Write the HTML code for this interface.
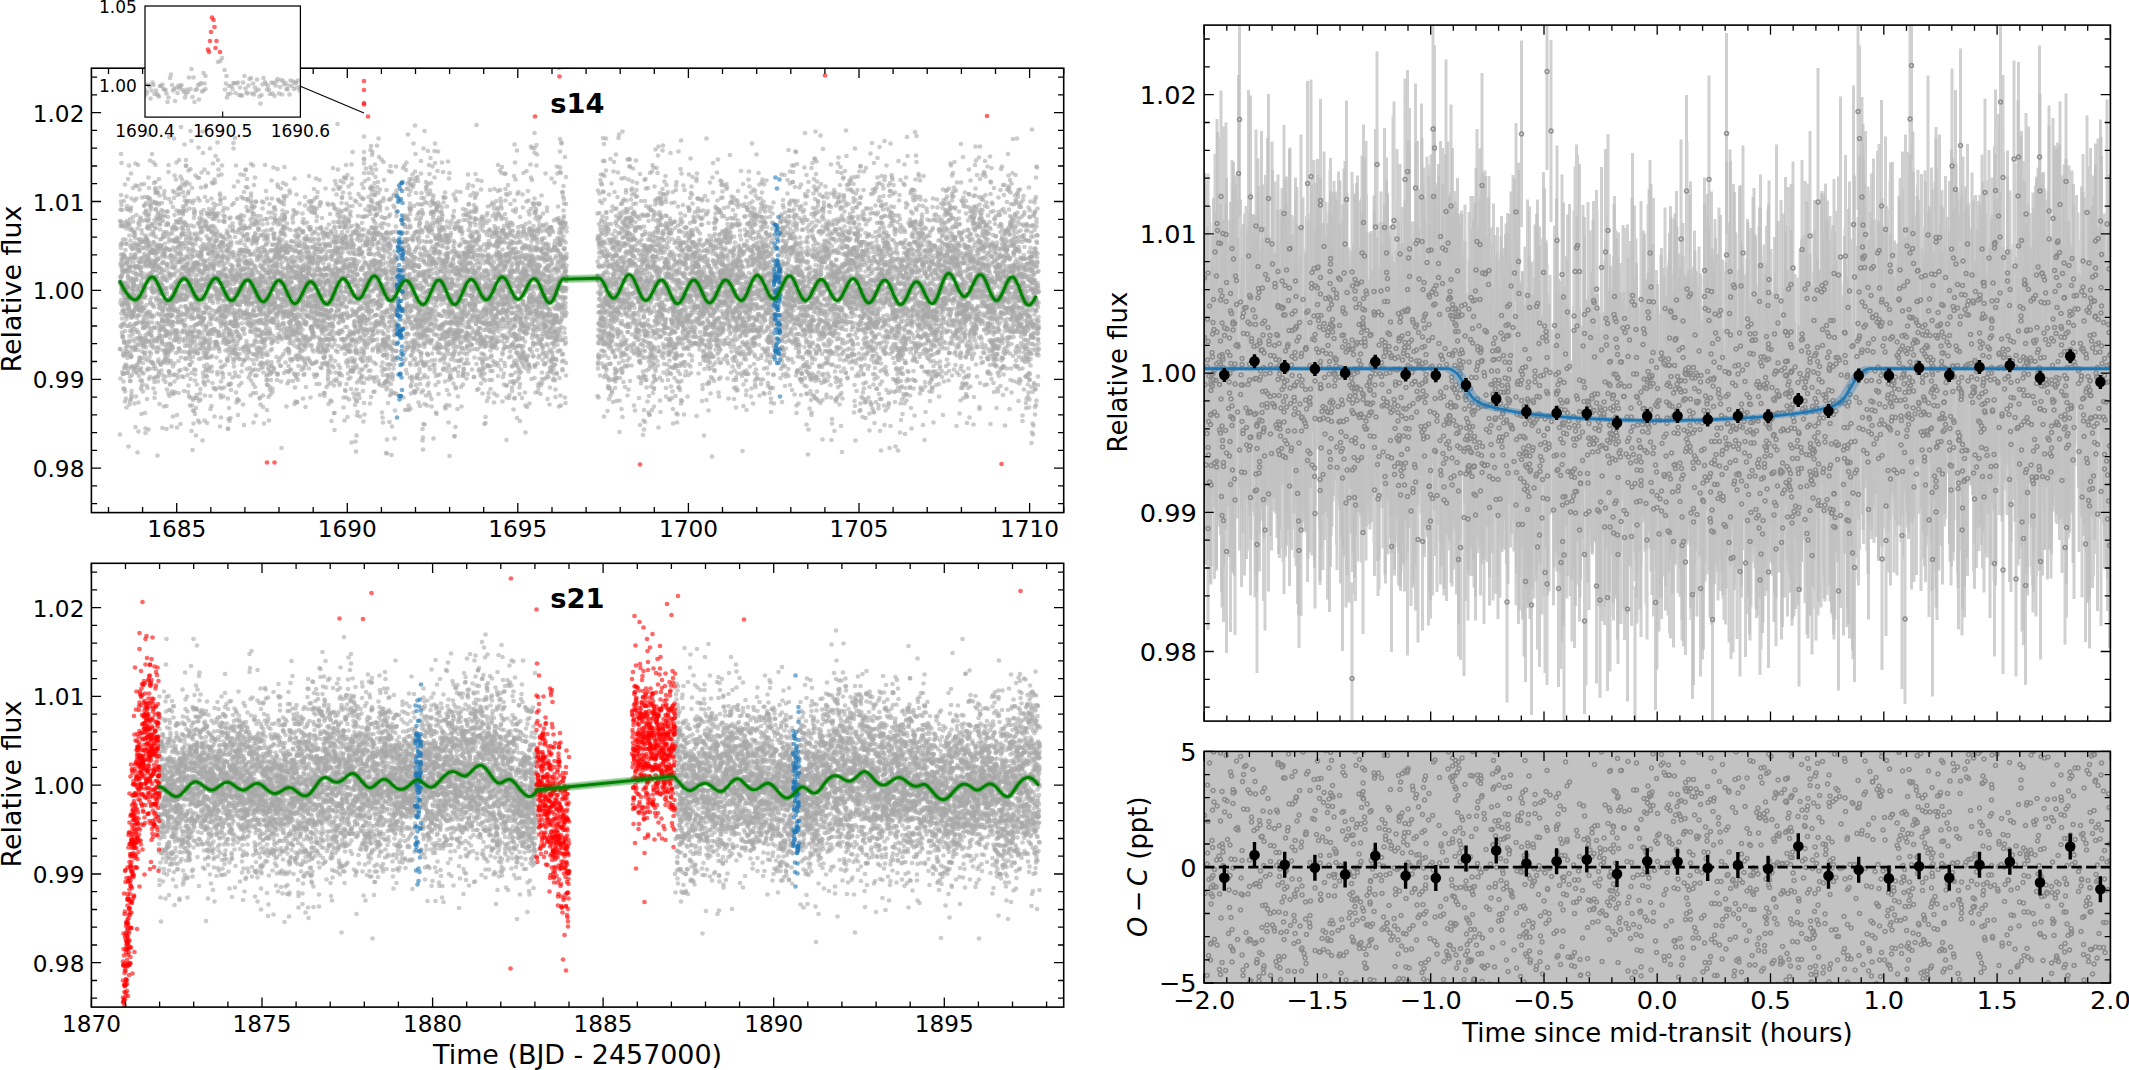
<!DOCTYPE html><html><head><meta charset="utf-8"><title>Light curves</title>
<style>html,body{margin:0;padding:0;background:#fff}svg{display:block}text{font-family:'DejaVu Sans','Liberation Sans',sans-serif;fill:#000}</style></head><body>
<svg width="2129" height="1070" viewBox="0 0 2129 1070">
<rect width="2129" height="1070" fill="#fff"/>
<defs>
<marker id="mg" markerWidth="12" markerHeight="12" refX="6" refY="6" markerUnits="userSpaceOnUse"><circle cx="6" cy="6" r="4.7" fill="#a9a9a9" fill-opacity=".6"/></marker>
<marker id="mr" markerWidth="12" markerHeight="12" refX="6" refY="6" markerUnits="userSpaceOnUse"><circle cx="6" cy="6" r="4.7" fill="#ff0000" fill-opacity=".6"/></marker>
<marker id="mb" markerWidth="12" markerHeight="12" refX="6" refY="6" markerUnits="userSpaceOnUse"><circle cx="6" cy="6" r="4.7" fill="#1f77b4" fill-opacity=".6"/></marker>
<marker id="mo" markerWidth="14" markerHeight="14" refX="7" refY="7" markerUnits="userSpaceOnUse"><circle cx="7" cy="7" r="3.7" fill="#fff" fill-opacity=".3" stroke="#858585" stroke-opacity=".85" stroke-width="3.6"/></marker>
</defs>
<clipPath id="c1"><rect x="91.4" y="68.2" width="972.3" height="444.4"/></clipPath>
<g clip-path="url(#c1)">
<path transform="scale(.5)" fill="none" stroke="none" marker-start="url(#mg)" marker-mid="url(#mg)" marker-end="url(#mg)" d="M240 565l0-123 0 256 0 0 0 171 1-340 0 123 0-46 0-52 0 9 0-73 0 72 0-143 0 338 0-305 1-9 0 157 0-210 0 195 0-277 0 95 0 106 0 43 0-56 0 30 0 29 1-37 0-108 0 169 0 75 0-328 0 209 0-49 0 85 0 56 0-179 1-28 0 190 0 27 0-96 0-21 0 91 0-159 0 81 0 132 0-87 0-27 1-4 0 74 0-133 0 183 0-160 0 64 0 99 0-26 0 96 1 4 0 0 0-204 0 43 0 123 0-60 0 53 0-224 0 195 0-106 0-37 1-22 0-56 0 153 0 157 0-247 0-7 0 268 0-186 0-49 0 80 1-39 0 153 0-51 0 27 0-310 0 176 0 44 0 59 0-112 0-4 0 41 1 102 0-23 0 62 0 31 0-237 0 105 0-120 0 70 0 13 0 9 1-37 0-212 0 144 0 149 0-217 0 183 0 103 0 72 0-20 0-269 1-14 0 196 0-91 0 131 0-137 0-120 0 63 0 86 0 57 0-118 1-27 0 93 0-31 0-115 0 85 0 157 0-278 0 147 0 199 1-340 0-39 0 124 0 110 0 57 0-71 0 177 0-288 0-1 0 178 0-311 1 95 0-76 0 110 0-80 0 99 0 161 0-128 0 159 0-40 1-95 0 118 0 29 0-227 0 92 0-3 0-39 0 178 0-171 0 115 0-144 1 9 0 30 0-166 0 155 0-41 0 39 0-20 0-102 0-92 0 203 1 54 0 3 0-15 0-157 0 206 0 86 0 155 0-272 0-27 0 37 1-16 0-20 0 87 0-85 0 112 0-80 0-298 0 210 0 36 0 32 0-18 1-143 0 236 0-90 0 31 0-154 0 63 0 138 0 137 0-292 0-62 1 207 0-224 0 324 0-9 0 49 0-267 0 113 0-124 0 9 0 60 1-171 0 120 0 220 0-344 0 171 0-129 0 244 0-147 0-64 0-12 1 28 0 225 0-99 0 79 0-150 0 234 0-383 0 279 0-178 0 198 0-367 1 50 0 397 0-5 0-230 0 223 0-160 0-132 0 221 0-51 0-7 1-62 0-93 0 34 0 218 0-16 0-158 0-118 0 205 0 33 0-61 1-5 0-48 0 43 0-48 0 102 0-182 0 18 0 42 0 35 0 77 1 63 0-163 0 55 0 9 0-199 0 197 0-188 0-67 0 86 0 165 0-82 1 79 0-53 0-10 0 181 0-137 0-40 0-41 0 35 0 23 0 43 1-160 0 186 0 7 0-68 0 30 0 117 0-221 0-44 0 100 0 18 0-22 1-78 0 209 0-119 0-116 0 219 0-169 0 293 0-321 0-85 0 96 0 37 1 162 0-3 0 7 0-168 0 79 0-142 0 150 0-109 0 35 0 52 1 50 0-139 0 346 0-527 0 321 0-112 0-165 0 365 0-41 0-219 0 260 1-131 0 11 0-56 0 55 0-99 0 161 0-77 0 144 0-210 0 259 1-245 0 116 0-234 0 129 0-10 0 111 0-106 0-60 0 39 0-136 0 193 1-218 0 374 0-100 0-41 0 9 0-81 0 98 0 98 0-93 0 95 1-131 0-28 0-72 0 189 0-77 0-38 0 33 0-118 0-32 0 448 1-575 0 301 0-52 0 40 0 81 0-81 0-24 0-12 0-94 1 44 0 143 0-229 0 76 0 141 0-131 0-38 0 114 0-11 0 265 0-58 1-161 0-23 0-119 0 250 0-62 0-78 0 110 0 3 0-245 0 115 0-152 1 272 0-212 0-3 0-121 0 199 0-128 0 28 0 115 0 146 0-58 1-10 0-41 0-105 0-36 0 227 0-167 0-10 0-22 0 204 0 19 0-216 1 95 0-3 0-181 0 243 0 83 0-84 0-239 0 184 0-88 0 5 1-170 0 307 0-125 0 11 0 57 0-51 0 210 0-233 0 191 0-252 0 120 1 169 0-127 0-129 0 169 0 142 0-207 0-24 0 9 0-35 0-111 1 23 0-16 0 147 0-219 0 366 0-16 0-29 0-98 0-46 0 131 1-109 0-98 0 50 0 8 0-75 0-37 0 239 0-67 0 154 1-82 0 4 0-46 0 139 0-161 0-28 0 132 0-70 0-141 0 8 0 171 1-43 0-34 0-84 0-37 0 149 0-5 0-71 0 87 0-99 0 190 0-70 1-265 0 171 0 123 0-222 0 99 0 10 0-17 0-208 0 268 1 56 0-168 0-12 0 176 0-58 0-220 0 97 0-81 0 190 0-38 1 127 0 121 0-343 0 227 0-117 0 88 0-85 0 59 0-261 0 190 1 70 0-63 0 275 0-337 0 146 0-204 0 247 0-278 0 417 0-187 1-196 0 49 0 122 0-154 0 193 0-204 0-59 0-15 0 289 0-271 1 7 0 122 0-4 0-18 0 98 0-19 0-91 0-40 0 97 0 195 1-256 0 283 0-357 0 57 0 183 0-203 0 5 0 143 0 114 0-284 1 99 0 72 0-146 0 170 0-196 0-61 0 253 0-11 0-146 0 75 0 211 1-325 0 172 0-181 0 279 0-188 0-13 0-9 0 157 0 69 0-243 1-40 0 98 0-40 0 132 0 38 0-251 0-35 0-41 0 165 0 144 0 195 1-332 0-89 0 50 0-3 0 198 0-255 0-28 0-130 0 139 0-33 0 382 1-44 0-10 0-246 0 94 0 115 0-12 0-164 0 247 0-232 1-2 0-183 0 225 0 208 0-357 0 132 0 31 0 64 0-101 0 106 0-29 1 6 0-186 0 49 0 221 0-143 0 60 0-81 0-34 0 85 0-165 1 3 0 243 0-108 0 119 0 54 0-16 0-25 0-11 0-168 0 16 0 114 1 30 0-131 0-32 0-93 0 125 0-27 0 220 0-130 0-91 1 131 0 10 0-337 0 140 0 110 0-109 0 76 0 105 0-57 0 9 0-130 1 131 0-16 0 126 0-5 0-104 0-8 0-77 0 3 0 35 0 138 1-169 0 219 0-185 0-40 0-97 0 206 0-65 0 17 0 167 0-265 0 149 1-127 0 211 0-190 0-22 0 73 0-232 0 205 0-63 0 310 0-306 0 266 1-55 0-26 0-42 0-248 0 220 0-32 0 78 0-55 0 180 0-225 1 1 0 199 0 64 0-142 0-97 0 123 0 84 0-237 0 228 0-264 0-51 1 346 0-281 0-3 0 0 0-96 0-27 0 143 0 0 0 37 0 23 1-163 0 36 0 75 0-166 0 12 0 28 0 117 0-16 0-175 0 56 0 71 1 139 0-29 0-44 0 18 0-123 0 28 0 292 0-225 0-39 1 182 0 47 0-151 0 9 0-178 0 156 0-106 0-48 0 23 0 193 0-69 1 66 0 48 0-209 0 258 0-12 0-6 0-123 0 16 0-64 0-10 1 415 0-230 0-103 0-82 0-7 0 215 0-77 0 125 0-260 0 90 1-63 0 63 0 94 0 78 0-369 0 378 0-39 0-285 0 256 0-177 0-93 1 3 0 64 0 42 0-97 0 93 0-31 0 91 0 18 0 111 0-313 1 140 0-188 0 389 0-4 0-128 0 61 0-77 0 48 0-18 0-58 0-162 1 94 0 167 0-84 0 14 0-209 0 417 0-145 0-127 0 115 1-192 0 201 0-81 0-100 0-104 0 58 0 184 0-168 0 223 0-63 0-161 1 277 0-289 0 263 0-206 0 70 0-48 0 21 0 193 0-152 0-80 1 105 0-110 0 237 0-73 0-226 0 127 0 10 0-21 0-105 0 214 0-165 1 89 0 8 0 101 0-268 0 119 0 94 0-28 0 53 0-180 0 263 1-98 0-39 0-34 0 109 0 4 0-189 0-88 0 278 0-56 0 11 0 34 1-165 0 348 0-106 0-110 0-70 0-16 0-28 0 0 0 96 0-8 0-71 1-74 0 5 0 148 0 20 0-200 0 69 0-88 0 161 0 35 1-96 0 236 0-259 0 142 0 9 0-62 0 134 0-69 0-221 0 292 1-148 0 125 0-238 0-75 0 424 0-262 0 9 0-59 0-27 0 66 1-32 0 151 0-277 0 130 0 189 0-88 0-14 0 122 0-60 0 28 1-202 0-91 0 161 0-126 0 278 0-130 0 52 0-126 0 166 0-65 1 1 0 36 0 72 0-201 0 192 0-130 0 177 0 11 0-46 0-16 1-206 0 198 0-32 0 10 0-112 0-63 0 173 0-37 0-165 0-18 1 134 0 23 0 251 0-190 0-204 0 184 0 164 0-182 0 34 0-136 0 79 1-31 0-153 0 216 0 49 0-100 0-26 0 164 0-195 0 248 0-73 1-163 0-97 0 183 0-131 0 120 0 84 0-61 0-113 0 7 0-112 1 130 0-105 0-14 0 277 0 8 0-99 0-147 0-23 0 218 0-28 1 65 0-42 0-333 0 269 0 123 0-26 0 91 0-288 0 101 0-256 1 54 0 304 0 41 0-1 0-259 0-209 0 356 0 19 0-30 0 68 1 105 0-125 0 79 0-138 0 27 0 11 0-99 0 204 0-272 0 36 1-15 0 176 0-80 0-129 0 89 0 213 0-220 0 95 0-17 0-15 1 156 0-81 0 39 0-29 0-146 0-51 0 49 0-37 0 99 1 21 0 60 0-182 0 91 0-50 0 20 0-166 0 285 0-59 0 91 0-54 1-145 0 97 0 233 0-152 0-125 0 18 0 58 0-117 0 81 0-20 1-77 0 9 0 255 0-152 0-175 0 119 0-108 0 176 0-131 0 88 0 16 1-41 0-95 0 185 0-59 0 53 0-30 0-27 0 16 0-28 0-130 0 233 1 140 0-419 0-32 0 351 0-89 0-149 0 113 0 43 0 45 0 91 1-333 0 151 0 183 0-252 0-53 0 92 0-27 0 202 0-217 0 87 0 25 1 36 0-113 0-291 0 337 0-31 0 16 0-5 0-198 0 86 1-131 0 34 0 378 0-313 0 132 0 167 0-22 0-128 0-169 0 50 0 71 1 114 0-77 0-52 0-23 0 107 0 164 0-105 0-162 0 66 0-85 1 5 0 159 0-132 0-74 0 217 0-13 0-201 0 163 0-58 0 30 0-14 1 11 0-149 0 102 0 22 0-43 0 80 0 66 0 37 0-347 1 276 0 40 0-193 0-7 0 9 0-3 0 200 0-356 0 96 0 163 0 10 1 236 0-166 0-207 0-13 0 159 0 58 0-99 0 32 0-22 0-94 0 377 1-292 0 187 0-256 0 173 0 89 0-248 0-27 0 164 0-255 1 228 0 4 0-64 0 27 0 55 0-261 0 218 0-102 0 129 0 20 1-10 0 69 0-259 0 278 0-159 0-39 0 262 0-280 0 172 0-48 1 67 0-211 0 256 0-45 0-156 0-221 0 126 0-19 0 257 0-262 0 169 1 4 0-218 0 145 0 152 0-150 0-85 0 78 0-129 0 211 1-124 0-52 0 130 0 48 0-227 0 147 0-35 0 145 0-131 0-8 1-2 0 35 0-19 0 55 0-53 0 71 0 12 0-238 0 495 0-108 1-193 0 52 0-345 0 184 0-62 0 249 0-33 0 123 0-102 1-157 0 183 0-195 0 68 0 191 0-38 0-75 0-121 0 173 0 4 1-72 0-26 0-13 0-69 0 287 0-167 0-99 0-128 0 110 0 88 1-37 0 124 0-175 0 210 0-17 0-33 0-95 0-108 0 131 0-189 1 45 0-29 0 73 0 40 0 41 0-109 0 90 0 80 0-148 1-29 0 138 0 69 0-77 0 202 0-336 0 158 0-153 0 39 0 109 1-37 0 248 0-227 0 128 0-238 0 127 0-86 0 113 0 60 0-8 1-258 0 98 0 63 0-35 0 121 0-111 0 70 0-310 0 375 0-129 1 157 0 12 0 33 0-366 0 97 0-67 0 44 0 133 0 99 0-28 1 69 0-130 0 24 0 1 0-246 0 349 0-174 0 110 0-55 0-6 0-180 1 218 0-92 0-205 0-1 0 149 0-6 0-154 0 130 0 121 0 45 1 9 0-113 0 41 0-189 0 235 0-193 0 89 0 20 0-94 0 109 0 15 1 194 0-166 0 118 0-156 0 23 0 17 0 94 0-48 0-218 0 47 1 142 0-190 0 180 0 168 0-157 0-13 0 86 0-32 0-109 0 136 1-88 0-58 0 164 0-60 0 67 0-184 0-115 0 99 0 298 0-328 0 217 1-124 0 156 0-364 0 187 0 98 0-85 0-158 0 388 0-309 1 103 0 227 0-249 0-45 0 119 0 95 0-43 0-101 0-97 0 79 0-73 1 227 0 25 0-312 0-49 0 251 0-57 0 10 0-86 0 23 0 31 1 45 0 226 0-409 0 328 0-38 0 103 0-132 0 55 0-64 0 54 0-171 1 22 0 199 0-291 0 230 0-359 0 245 0-24 0 48 0-88 0-257 1 289 0 10 0 71 0 31 0-184 0-28 0 229 0-68 0 22 0 33 0-78 1 94 0 20 0-421 0 580 0-224 0-99 0 149 0 58 0-180 0-27 0-63 1 335 0-198 0-105 0-132 0 111 0 237 0-148 0 33 0-66 0-42 1-95 0 266 0-183 0 139 0 46 0 0 0-10 0-150 0 21 0 365 0-307 1-81 0 14 0-30 0 125 0-89 0 289 0-204 0 97 0 86 0-4 1-143 0-93 0 287 0-210 0-93 0 140 0-183 0 163 0-131 0 34 1-131 0-11 0 314 0-286 0-52 0 421 0-404 0 111 0 174 1-274 0 107 0 123 0-23 0-18 0-28 0 6 0 24 0 77 0-108 0-63 1-56 0 180 0 31 0 80 0-338 0 44 0 282 0 79 0-224 0 102 1-172 0-183 0 259 0 130 0-252 0-8 0 46 0 50 0 42 0-67 0 245 1-224 0 26 0-59 0 332 0-301 0-12 0 132 0-122 0 134 0-121 0 235 1-143 0-79 0 56 0-126 0 38 0 228 0-116 0-170 0 60 0-85 1 169 0-66 0-53 0 240 0-172 0 199 0-192 0-127 0 85 0 29 0 27 1-106 0 194 0-351 0 173 0-1 0-17 0 153 0-188 0 51 1 122 0-27 0 11 0 75 0 134 0-215 0-64 0-115 0 102 0-153 0 211 1-11 0-13 0 51 0-167 0 231 0-121 0-7 0 44 0-319 0 238 1 99 0-186 0 136 0-53 0 136 0 137 0-446 0 184 0 95 0 83 0-52 1-21 0-26 0 226 0-173 0-236 0 77 0-112 0 140 0 122 1-222 0 206 0-77 0-9 0 13 0 213 0-334 0 233 0-142 0 133 0-86 1-86 0 294 0-21 0-284 0 204 0-8 0-235 0 64 0 61 0-101 1 163 0-140 0 3 0 5 0 98 0-147 0-37 0-49 0 258 0 1 0-169 1 117 0-237 0 198 0 34 0 140 0-203 0 121 0-206 0 81 0-6 0 52 1 139 0-125 0 76 0-87 0 66 0-187 0 7 0 146 0-43 0 50 1-70 0-265 0 317 0 301 0-418 0 113 0 75 0 34 0-187 0 169 0-211 1 91 0 143 0-118 0-84 0 155 0 103 0-176 0-264 0 333 0 1 1 47 0-267 0 175 0-25 0-50 0 10 0 233 0-271 0 213 0 49 0-129 1-80 0 59 0 71 0 3 0-121 0 69 0 106 0 34 0-130 0 0 1 205 0-227 0-91 0-71 0 45 0 163 0 23 0-143 0 171 0-12 0-360 1 452 0-194 0 173 0-231 0 176 0-154 0-38 0 14 0-96 0-47 1 347 0-56 0-234 0 117 0-34 0 38 0-74 0 127 0-181 0 87 0-157 1 335 0-3 0-96 0 141 0-13 0-84 0 25 0-308 0 325 0-128 0 83 1 64 0-154 0-89 0-27 0 174 0-167 0 81 0 83 0-126 0 163 1-225 0 301 0-14 0 131 0-292 0 128 0-21 0-124 0-111 0 167 0 160 1-351 0 303 0-147 0-37 0-62 0 110 0-114 0 43 0 40 0 48 1-38 0 121 0-1 0-134 0-188 0 416 0-194 0-73 0 171 0-51 0-138 1 265 0-235 0-1 0 53 0-100 0 48 0 71 0-25 0 184 0-38 1-241 0 82 0-61 0-46 0 212 0 45 0-272 0 297 0-228 0 86 1 120 0-91 0-7 0 31 0-58 0 48 0-87 0-101 0 202 0 57 1-390 0 386 0 52 0-310 0 252 0-160 0 80 0 69 0-165 0 197 0-217 1 311 0-265 0 41 0 94 0 156 0-181 0-70 0-6 0-133 0 25 1 215 0-19 0 65 0-121 0-33 0-27 0 103 0-146 0 170 1-105 0-158 0 242 0-49 0 222 0-349 0-10 0 76 0-33 0 237 0-268 1 11 0-111 0 255 0-46 0 138 0 31 0-233 0 51 0 99 1-157 0-82 0 212 0-131 0 46 0-14 0-96 0 164 0-98 0 262 1-244 0-195 0 40 0 95 0 206 0-175 0 70 0 43 0-68 0-6 1-96 0 132 0 208 0-183 0-186 0 152 0-91 0 25 0 72 0-113 0-26 1-10 0 242 0-118 0-6 0-22 0 185 0-68 0-140 0-61 0 123 1 107 0-299 0 124 0-51 0 143 0-23 0-22 0-25 0 179 0-108 0 257 1-316 0 174 0-326 0 91 0-18 0-8 0 38 0 112 0-18 0-34 1 94 0 16 0-166 0-160 0 210 0 140 0 115 0 2 0-116 0-169 1 94 0 97 0-122 0 13 0-95 0 19 0 56 0 129 0 5 0-110 1 45 0-198 0 5 0 283 0-305 0 273 0-127 0-74 0 203 0-131 1 36 0-128 0 136 0 42 0-163 0 37 0-47 0 115 0 108 0-257 1 80 0-228 0 268 0 196 0-152 0-87 0 234 0-72 0-115 1 48 0-98 0 114 0-301 0 301 0-76 0 117 0-105 0-12 0 91 0 54 1-351 0 254 0-11 0 115 0-346 0 315 0-110 0-4 0-125 1 238 0-151 0 9 0 75 0 72 0 27 0-112 0 39 0-93 0-89 0 84 1-34 0 180 0 103 0-209 0-76 0 131 0 82 0-87 0-38 0-83 1 124 0-69 0 65 0 238 0-381 0 173 0-258 0 4 0 226 0-20 1-97 0 55 0-147 0-8 0 323 0 67 0-321 0-70 0 189 0 43 0-86 1 87 0 203 0-72 0-110 0-169 0 157 0-51 0 145 0-249 0 309 1-273 0 45 0 11 0 9 0-1 0 45 0-84 0-198 0 200 0 228 0-129 1-133 0 26 0 8 0 62 0 21 0 38 0 75 0-222 0-8 0-184 1 172 0 98 0-128 0 13 0 247 0-178 0-43 0 173 0-46 0-12 0-142 1 162 0-115 0 216 0-274 0 11 0-63 0 157 0 45 0 131 0-261 1-51 0 134 0 13 0 85 0-244 0 201 0-122 0 283 0-227 0-1 1-74 0-51 0 222 0 6 0-140 0-51 0 298 0-94 0-265 0 232 1-30 0 2 0-82 0 9 0 85 0-236 0 48 0 119 0 39 0 78 0-141 1 191 0-87 0-32 0-20 0 44 0-202 0 180 0-97 1 35 0 74 0-75 0 69 0 68 0 14 0-139 0 114 0-103 1 19 0-39 0 14 0 67 0-97 0 56 0-40 0 44 0 50 0 4 0 4 1-41 0 74 0-117 0 27 0 15 0 45 0-179 0-12 0 34 0 121 1-37 0-85 0 2 0 23 0-12 0-52 0 124 0 132 0-163 0 18 1-155 0 182 0-11 0-34 0 129 0-3 0 42 0-2 0-203 0-27 1 307 0-215 0-18 0-5 0-66 0 364 0-391 0 233 0 159 0-357 0 65 1 204 0 68 0-217 0-149 0 26 0 174 0-14 0-139 0 110 0 36 1-56 0 76 0 131 0-199 0 88 0-198 0 83 0 93 0 85 0-100 0-51 1 67 0-197 0-50 0 106 0 205 0-36 0 130 0-197 0 21 0-66 0 94 1 75 0-203 0 95 0-91 0-117 0 214 0-193 0 174 0-23 1-85 0 296 0-257 0 1 0-32 0-54 0 84 0 26 0-75 0 24 0-118 1 209 0-131 0-9 0-21 0 121 0 6 0 157 0-157 0 170 0-137 1 20 0-15 0-1 0-63 0-96 0 59 0 122 0 5 0-64 0-69 0 158 1-148 0-141 0 187 0 107 0-243 0 70 0 78 0 7 0-58 1-21 0 133 0-112 0 197 0-130 0 56 0-100 0-48 0-86 0 61 1 210 0-133 0-124 0 246 0-100 0-153 0 142 0 103 0-138 1 91 0-98 0 124 0-78 0 52 0 73 0-94 0-345 0 218 0-207 0 394 1-123 0-15 0 130 0-57 0-68 0-152 0 195 0 132 0-218 0-142 1 247 0-18 0-13 0 130 0-12 0-111 0-86 0 31 0 111 0-46 1-142 0 96 0 70 0-156 0-198 0 367 0 57 0-65 0 110 0-46 0-60 1 3 0 9 0-4 0 105 0-203 0 78 0 11 0-84 0 88 0-78 1-233 0 362 0 14 0-54 0-93 0 225 0-206 0-1 0 1 0 85 1-61 0-16 0-1 0 129 0-159 0 151 0-186 0 284 0-197 0 54 1-102 0 113 0-275 0 248 0-161 0 98 0 6 0-153 0 111 0 141 0-97 1 74 0-118 0 63 0 191 0-90 0-88 0-84 0-8 0 267 0-212 1 63 0-12 0-28 0 44 0 29 0 148 0-396 0 196 0-47 0-220 1 97 0 46 0 44 0 121 0-45 0-44 0-117 0 56 0-8 0 13 1 29 0-24 0 270 0-30 0-18 0-153 0-81 0 33 0-43 0 70 0-49 1 188 0-218 0 170 0-59 0 9 0-55 0 133 0 10 0-272 0 282 0-260 1 117 0 35 0-28 0-136 0 144 0-15 0-89 0 191 0-122 0-10 1 89 0-200 0 187 0-41 0-77 0 73 0-26 0 125 0-235 0-91 1 101 0 89 0-109 0 51 0 123 0-25 0-80 0 50 0 83 0-67 1-109 0 116 0 23 0-59 0 230 0-245 0-127 0 181 0 168 0-203 0 38 1 152 0-72 0-151 0-40 0 92 0 13 0-70 0 145 0-44 1-26 0 0 0 10 0-30 0-57 0 126 0-58 0 13 0-10 0-130 1 130 0-174 0 154 0 144 0-128 0 57 0-165 0 240 0-116 0 226 1-232 0 146 0-251 0 42 0 56 0-68 0 160 0-71 0 46 0-98 1 181 0-288 0 172 0 53 0-273 0-34 0 123 0 377 0-311 0 88 0 1 1 66 0-123 0 56 0-138 0 179 0-168 0 27 0-76 0 253 0-104 1-8 0-57 0 32 0 61 0-35 0-69 0 76 0-40 0 159 0-144 0-119 1 0 0 138 0 30 0-76 0 49 0 95 0-187 0 44 0-36 0-173 1 267 0-151 0 24 0-82 0-24 0 148 0 115 0-35 0-8 0-255 1 343 0-186 0 150 0 42 0-161 0 82 0-87 0 106 0-159 0-55 1 211 0-101 0 95 0 92 0 27 0-380 0 225 0 116 0-160 0 17 0 49 1-48 0 48 0 27 0-108 0-149 0 93 0 35 0-1 0 1 0-82 1-23 0 251 0 45 0-96 0-176 0-21 0 134 0-59 0 128 0-76 0 110 1-135 0 214 0 38 0-56 0-115 0-38 0-67 0 100 0-98 0 117 0-10 1-86 0 203 0-76 0-34 0 50 0-16 0-18 0-50 0 142 0-175 1 62 0-64 0 54 0-29 0 95 0-67 0 112 0-140 0-95 0 179 0-77 1 191 0-86 0-125 0 114 0-78 0-64 0 119 0-176 0 283 1-103 0-27 0-44 0 229 0-352 0 130 0 12 0-61 0 76 0-88 1 64 0 36 0 51 0-266 0 351 0 17 0-173 0 60 0-320 0 59 1 158 0 107 0-144 0 132 0-234 0 143 0-103 0-44 0 169 0-155 0 248 1-136 0 23 0-10 0 43 0-161 0 183 0-81 0 104 0-217 0 76 1 52 0 38 0-21 0 50 0 101 0 12 0-285 0 256 0-263 0 218 0-99 1-63 0 302 0-46 0-178 0-231 0 437 0-206 0 59 0-45 0 8 1 46 0-121 0-60 0 25 0 371 0-366 0 144 0 27 0-170 0 69 0-134 1 313 0-254 0 140 0-83 0 65 0 8 0 85 0 20 0-339 0 212 0-154 1 193 0-172 0 110 0 23 0 50 0-151 0 202 0-18 0-252 0 152 1 14 0 172 0-92 0-190 0 174 0 131 0-271 0 236 0-203 0-181 1 88 0 149 0 65 0 23 0-118 0 28 0-150 0 143 0-117 0 67 1-129 0 427 0-274 0 114 0-40 0 155 0-220 0 145 0-230 0-78 1 44 0 304 0-148 0-116 0 232 0-236 0-7 0 222 0-157 0 29 1 0 0-91 0 118 0-77 0 83 0 39 0 64 0-194 0 135 0-215 1 161 0 91 0-23 0-116 0-30 0 115 0 65 0-112 0 9 0-95 1 216 0-257 0 246 0-31 0-168 0-27 0 137 0-7 0-29 0 82 0-56 1-143 0-19 0 141 0-11 0 3 0-127 0 293 0-177 0 22 0 29 0-12 1 103 0-115 0-18 0 69 0-122 0-61 0 53 0 84 0 23 0-12 1 123 0-135 0-96 0 122 0-55 0 107 0-84 0-30 0 27 0 212 0-137 1-33 0 14 0-84 0 64 0 174 0-149 0 49 0-182 0 33 0 26 1-102 0 112 0 35 0 82 0-193 0 113 0-86 0 276 0-377 0 122 0-25 1 100 0 96 0-133 0 47 0 32 0-7 0-113 0 70 0 108 0-164 1-3 0 4 0 103 0 15 0-72 0-141 0 228 0 9 0-62 0 90 1-296 0 244 0-149 0 144 0-276 0 101 0 49 0-58 0 18 0 201 1-162 0 28 0-131 0 108 0 121 0-261 0 165 0 82 0 42 0-168 0 188 1-122 0-31 0 218 0-57 0 80 0-232 0 30 0-6 0 19 0-93 1-11 0 60 0 7 0-183 0 340 0-147 0-135 0 223 0-216 1 226 0-87 0 58 0-72 0 252 0-218 0-20 0 31 0-146 0 46 0 107 1-124 0 160 0-67 0-62 0 39 0-114 0 131 0 38 0-148 0 60 1-33 0-197 0 174 0 85 0-1 0 103 0-108 0 96 0-178 0 108 0 118 1-164 0-88 0 48 0 23 0-108 0 223 0-96 0 43 0-69 1 171 0-221 0 144 0-121 0-41 0 94 0-183 0 296 0-22 0 13 0-44 1-108 0-56 0 117 0 63 0-4 0 123 0-176 0 168 0-264 0 217 1-308 0 423 0-311 0 260 0-139 0 20 0-105 0-107 0 39 0 272 1-273 0 284 0-93 0-220 0 276 0-58 0-70 0 133 0-184 0 226 1-287 0 87 0 34 0-134 0 240 0-164 0 12 0 45 0-27 0 67 1 96 0 55 0-264 0-26 0 94 0 21 0 116 0-310 0 207 0-116 0 5 1 154 0-98 0-56 0 94 0-40 0-40 0 306 0-291 0 61 0-12 1 150 0-87 0-37 0 33 0-69 0 78 0-42 0-1 0-216 0 200 0 165 1-30 0-200 0-20 0 119 0 24 0-125 0 239 0-237 0 20 0-6 1 232 0-234 0-54 0 119 0 47 0 34 0-91 0-88 0 46 0-22 0-86 1 184 0 103 0-15 0-122 0-21 0-10 0-144 0 243 0-76 0 158 1-16 0-20 0-87 0-276 0 215 0-19 0 174 0-90 0 46 0-187 0 108 1-119 0 209 0-108 0-57 0-108 0-28 0 288 0-227 0 147 0-11 1 16 0-44 0 211 0-238 0 100 0-73 0 218 0-187 0 27 0-17 1-27 0-90 0 89 0-47 0 113 0 37 0-44 0 6 0-126 0 4 0-19 1 39 0 78 0 61 0-214 0 3 0 266 0-401 0 304 0-192 0 225 1-143 0 26 0-80 0 73 0 97 0-229 0 321 0-120 0 126 0-265 0 77 1 53 0-194 0 86 0 105 0-28 0-25 0 25 0-110 0 48 0 32 1-36 0 93 0-127 0-47 0 85 0 80 0-37 0 57 0-178 0 2 0 160 1-67 0 84 0-69 0 67 0-194 0 212 0-191 0 168 0-99 1 54 0 51 0 12 0-96 0-43 0 17 0-8 0 79 0-133 0 137 0-11 1 0 0-44 0 189 0-211 0 24 0-29 0 35 0 143 0-26 1-159 0 98 0-86 0 12 0 69 0 176 0-104 0-28 0-91 0 98 0-93 1-173 0 274 0 106 0 0 0-206 0 53 0-258 0 346 0 63 0-163 0-88 1-97 0-25 0 75 0 110 0 36 0 34 0-121 0 41 0 127 0-87 1 79 0-149 0-6 0-23 0 161 0-31 0-36 0 139 0-110 0-31 0-37 1 78 0-222 0 84 0 127 0 14 0-42 0-83 0-22 0 1 1 24 0 9 0 144 0-60 0-53 0-36 0 164 0-198 0-33 0 277 1 13 0-57 0-25 0-120 0-82 0-10 0 150 0 35 0-218 0 80 1 34 0 81 0 16 0-118 0 62 0 12 0 9 0-79 0-36 0 35 0 47 1 185 0-217 0 49 0 199 0-153 0 51 0-98 0-4 0-62 0-120 1 336 0-253 0 219 0-212 0 81 0 17 0 331 0-362 0-33 0 53 1-58 0-90 0 139 0-20 0 41 0 109 0-245 0 36 0 148 0-9 0-114 1 56 0 104 0-20 0-210 0 192 0-26 0-74 0-19 0-14 0 118 1-11 0-32 0 91 0-280 0 214 0-127 0 183 0-10 0-4 0 1 1 85 0-83 0-113 0-74 0 25 0-10 0-61 0 146 0-81 0-16 1 154 0-44 0-83 0-67 0 258 0-250 0 194 0 64 0-20 0 99 1-158 0-24 0-131 0 65 0-70 0-94 0 61 0 210 0 27 0-79 1 24 0-74 0 97 0 25 0-170 0 61 0-78 0-4 0 189 0-152 1 34 0-8 0-2 0 131 0-14 0 64 0 25 0-46 0 70 0-236 1 47 0 34 0-71 0 243 0-373 0 298 0-117 0 19 0 62 0-110 0 78 1-107 0-7 0 106 0-199 0 103 0 126 0 9 0-126 0 309 0-141 1-111 0-44 0 48 0 4 0 93 0 12 0-250 0 187 0-56 0 36 0-144 1 320 0-177 0 68 0-54 0-59 0 131 0-219 0 176 0-127 0 83 0-17 1-68 0 78 0-49 0 50 0-46 0 161 0-1 0-140 0 35 1 11 0 30 0 111 0-202 0-15 0 98 0 118 0-11 0-202 0 95 1-38 0 58 0-124 0 60 0 122 0 59 0-100 0 39 0 6 0-214 1 7 0 51 0 39 0-209 0 291 0-79 0 51 0 42 0-194 0 117 0 60 1 11 0-61 0 33 0 66 0-42 0-106 0 170 0-84 0-270 0 177 1 85 0-66 0 45 0-2 0-129 0 82 0-43 0 101 0-7 0-95 0-74 1 95 0 88 0-128 0 40 0 73 0 14 0-50 0 130 0-95 0 112 1-257 0 83 0-28 0 150 0-167 0 25 0 118 0-180 0 126 0-28 0-18 1 106 0-46 0-16 0-16 0 38 0-90 0 120 0 59 0-136 0 47 0-52 1-140 0 63 0-6 0 94 0-6 0 33 0-27 0-46 0-18 0 61 1 78 0-150 0 249 0-109 0-76 0-146 0 93 0-79 0 111 0 163 0-100 1 49 0-71 0 42 0-8 0-98 0-2 0-111 0 192 0-28 1-61 0 55 0 59 0-23 0 133 0-76 0-93 0 13 0 72 0-44 1-262 0 126 0 93 0 115 0-188 0 179 0 126 0-259 0-126 1 326 0 26 0-112 0-119 0 86 0 6 0 23 0-108 0-50 0 115 0-145 1 148 0-64 0 43 0 35 0-20 0 190 0-215 0-160 0 33 0 62 1 32 0 156 0-168 0 171 0-158 0-56 0 252 0-116 0-120 0 56 0 30 1-127 0-14 0 180 0 115 0-115 0-59 0-193 0 103 0 156 0-161 0 161 1 17 0-1 0-64 0-66 0 19 0 124 0-82 0 210 0-135 0 134 1-177 0-202 0 106 0 164 0-149 0 8 0 102 0-40 0 102 0-250 0 142 1 109 0 41 0-286 0 274 0-114 0 46 0-23 0-70 0-41 0 106 1-7 0-94 0 27 0-65 0 219 0-228 0-14 0 221 0-110 0-41 0 19 1-73 0-35 0 11 0 211 0-236 0 48 0 161 0 14 0-143 0 109 1 0 0 42 0-196 0 138 0-139 0 215 0-48 0-87 0-54 0-110 0 169 1 43 0 78 0-238 0 114 0-16 0 7 0-4 0 33 0-28 1-6 0 7 0-63 0 42 0 169 0-14 0-46 0-79 0-53 0-18 1 35 0 46 0 102 0-131 0-13 0 123 0-132 0 14 0 102 0-100 1 2 0 82 0-43 0-18 0 32 0 135 0-179 0 154 0-201 0 37 0-65 1 81 0 53 0-34 0 94 0-171 0 31 0 40 0-116 0 238 0-139 0 108 1 63 0-121 0 46 0-215 0 183 0 92 0-292 0 93 1-24 0 42 0-6 0-70 0 1 0 148 0-146 0 332 0-199 0 6 0-14 1-50 0 23 0-125 0 312 0-111 0-109 0 10 0 135 0-73 0 16 1-41 0 9 0 106 0-45 0 42 0-107 0-105 0-30 0 44 0 65 0 181 1-180 0 160 0-44 0-30 0-75 0 5 0 126 0 49 0-196 0 33 1 137 0-185 0 142 0-165 0-26 0-77 0 143 0 137 0-297 0 332 0-134 1 56 0-83 0-67 0-20 0 206 0 130 0-309 0-24 0 62 1-65 0 143 0-11 0 120 0-194 0 113 0-122 0 119 0 31 0 97 1-169 0 26 0-80 0 142 0-129 0 80 0-33 0 62 0-44 0-74 0-83 1 161 0-59 0-80 0 118 0-167 0 166 0-36 0-62 0 44 0-62 1-18 0 28 0 52 0 130 0-103 0-49 0 97 0-114 0 40 0 5 0 42 1-40 0-19 0 52 0-62 0 146 0-111 0-40 0 185 0-121 0-23 1 60 0-117 0-97 0 36 0 93 0-45 0-99 0 178 0-35 0-32 0-35 1 134 0-97 0 221 0-213 0 83 0-29 0-226 0 226 0 141 0-178 1-34 0 87 0-17 0-50 0 14 0 137 0-43 0-99 0-1 0 27 1-103 0 36 0 115 0-98 0-30 0 197 0-74 0-38 0 156 0-264 1-5 0 341 0-141 0-196 0-56 0 122 0-111 0 108 0 28 0-127 0 203 1-10 0-38 0 15 0 83 0-16 0-253 0 161 0 56 0 69 0-35 0-64 1 97 0-213 0 140 0-93 0 113 0-56 0 146 0-74 0-21 0-115 1 148 0-197 0 190 0-78 0-29 0 49 0 53 0 6 0-97 0 93 0-230 1 98 0 88 0 88 0-205 0-92 0 257 0 69 0-213 0-100 0 113 1 143 0-47 0-107 0 149 0-114 0-26 0-43 0 185 0-100 0-51 0 73 1-79 0 92 0 62 0 38 0-89 0-22 0-97 0 66 0 114 0-137 1-119 0 231 0-92 0 191 0-371 0 127 0-41 0 103 0-18 0 45 0 42 1-221 0 63 0 150 0-18 0-44 0-23 0-118 0 301 0-83 1 111 0-117 0-61 0-150 0 65 0 6 0 115 0-215 0 68 0 137 1 20 0-113 0 164 0-28 0-125 0 48 0 45 0-37 0 12 0 6 0-44 1 175 0-224 0 95 0-5 0-20 0-46 0-168 0 284 0 9 1-58 0 27 0 104 0-111 0 12 0-182 0 57 0 250 0 19 0-350 0 185 1 147 0-121 0-172 0 84 0-147 0 39 0 171 0-117 1 213 0-175 0 10 0 16 0-20 0-147 0 270 0-25 0-63 0 33 0-101 1 66 0 134 0-159 0 74 0 81 0-197 0 153 0-36 0-100 0 127 1 11 0-26 0-66 0 26 0-107 0 175 0-185 0 57 0-12 0 66 0 124 1-98 0-87 0-40 0 149 0-43 0-44 0-37 0 55 0 128 0-12 1-108 0 61 0-268 0 331 0-122 0 75 0-105 0-127 0 356 0-161 0 20 1-88 0 100 0-69 0 108 0-190 0 3 0 140 0 159 0-173 0-19 1 85 0-226 0 278 0-331 0 159 0-45 0 162 0 23 0-154 0-142 1 201 0-151 0 94 0 109 0-120 0-36 0 91 0-73 0 26 0-94 0 164 1 0 0-103 0 221 0-145 0 38 0-1 0-130 0 66 0 27 0-89 1 203 0-187 0 129 0-98 0-113 0 144 0 87 0 60 0-75 0 7 0 31 1 6 0-41 0 8 0-48 0 15 0-165 0 165 0-3 0-51 0 0 1 85 0 19 0-39 0 17 0-159 0 196 0-53 0-48 0-39 0-92 0 168 1-10 0-154 0 10 0 134 0 89 0-147 0 175 0-256 0 55 0 188 1-201 0 173 0-48 0-152 0 229 0 70 0-71 0-143 0 17 0 90 1 113 0-148 0 59 0-164 0 247 0-247 0 91 0-43 0-21 0-4 1 150 0-176 0 189 0-189 0 68 0 49 0-47 0-25 0 10 0-72 1 62 0 40 0-244 0 294 0 33 0-154 0-60 0 4 0-3 0-23 0 193 1-151 0 191 0-137 0 115 0-111 0-19 0 1 0 70 0 35 0-166 1-32 0 169 0 148 0-182 0-89 0 117 0 14 0-116 0-46 0 207 0 19 1-67 0 99 0-179 0 175 0-259 0 169 0-9 0-112 0 22 0 26 1-26 0 121 0-251 0 321 0-80 0 43 0 1 0-202 0-22 0 3 0 89 1 200 0-12 0-47 0-23 0-115 0-3 0 50 0 145 0-219 0 64 1 169 0-206 0 116 0-269 0 322 0-194 0 97 0 173 0-66 0-3 1-104 0-148 0 74 0-112 0 80 0-54 0 110 0-45 0-7 1 101 0-52 0 87 0-46 0 65 0-59 0 9 0-136 0 166 0 12 0-104 1 72 0 2 0-63 0-19 0 22 0-98 0-64 0 62 0 134 0 98 1-10 0-121 0 154 0-175 0 83 0-44 0-62 0 37 0 217 1-35 0-304 0 159 0-157 0 156 0-47 0 90 0-110 0-35 0 62 0-68 1 65 0 226 0-264 0-25 0 164 0-173 0 212 0-98 0-62 0 285 1-296 0 52 0-86 0 136 0-42 0-6 0-3 0 97 0-226 0 263 1-96 0-71 0 112 0-174 0 144 0 16 0-113 0-141 0 201 0-126 1 171 0-55 0-11 0-68 0 24 0 127 0-19 0-43 0-69 0-204 1 255 0-181 0-31 0 252 0 48 0-201 0 257 0-291 0 152 0-87 1 38 0 214 0-277 0 64 0 278 0-55 0-205 0 10 0 18 0-17 1 112 0-51 0-181 0 369 0 34 0-407 0 78 0-115 0 85 0-29 0 79 1 171 0-41 0-195 0 74 0-62 0-80 0 167 0-223 0 270 0-50 1-77 0-12 0 112 0-122 0 262 0-209 0-63 0 86 0 15 0-19 1 111 0-297 0 178 0 42 0-21 0-43 0 99 0 77 0-237 1 167 0-18 0 149 0-242 0-42 0 25 0 21 0 234 0-369 0 113 0 109 1-129 0 55 0-13 0 97 0-67 0 46 0-94 0 81 0-61 0 39 1-69 0-24 0 67 0-95 0 108 0-304 0 182 0-5 0 279 0-105 1-51 0-49 0 13 0-12 0 166 0-327 0 180 0-34 0 57 0 1 1 10 0-178 0 220 0-99 0-77 0 273 0-46 0 22 0-163 0 225 0-137 1-30 0 36 0 147 0-368 0 267 0-12 0-188 0 174 0 1 0 42 1-55 0-66 0-104 0 137 0-31 0 227 0-229 0-65 0-22 0 296 0-83 1 80 0-165 0-150 0 304 0-213 0 115 0-185 0 181 0 132 0-133 0-34 1 29 0 34 0-147 0 10 0 84 0-103 0 35 0-116 0-51 0-12 1 249 0-117 0 89 0-71 0-15 0 73 0 6 0-106 0 137 0 24 0 47 1 20 0-218 0-35 0 140 0 50 0-229 0 186 0 40 1-26 0-121 0 67 0-156 0 68 0 72 0 215 0-91 0-266 0 28 0 61 1-6 0 63 0 16 0 108 0-186 0 27 0 175 0 14 0-175 0 114 1-248 0 162 0 131 0-65 0 27 0 1 0-155 0 157 0 37 1 135 0-317 0 35 0 262 0-362 0 173 0-241 0 179 0 84 0-140 1-48 0 255 0-165 0-35 0 98 0 85 0-51 0-178 0 6 0 72 0-172 1 126 0-37 0 27 0 51 0 36 0-82 0 123 0-44 0 286 0-154 1 21 0-353 0 425 0-245 0-80 0 144 0-16 0-47 1 246 0-208 0-155 0 54 0 87 0 4 0-116 0 206 0-124 0-95 0 258 1-110 0-109 0-144 0 349 0-226 0-96 0 130 0 67 0 8 0 136 1-291 0 315 0-146 0 37 0-93 0 95 0-196 0 349 0 27 0-221 0 152 1-231 0 1 0-15 0 210 0-37 0-29 0-73 0 18 0-81 0 140 1-279 0 187 0-19 0 316 0-161 0-210 0 171 0 2 0 65 0-106 0-109 1 82 0-129 0 235 0-170 0 48 0-1 0 182 0-160 0-29 0 203 1-374 0 202 0 144 0-278 0 257 0-164 0 224 0-312 0 87 0 51 1 85 0 35 0-291 0 191 0-162 0 248 0-116 0 129 0-175 0 271 0-310 1 235 0-192 0 33 0 24 0-4 0-198 0 314 0-39 0-207 1 52 0-79 0 113 0 91 0-44 0-61 0-32 0 57 0 118 0-65 1-209 0 273 0-246 0 319 0-56 0 69 0-283 0 160 0-30 0-169 1 99 0 208 0-37 0 75 0-284 0 105 0 93 0-101 0-73 0-38 1-151 0 336 0-181 0-13 0 72 0 342 0-143 0-374 0 311 0-120 1 122 0-324 0 122 0 200 0 37 0-215 0-49 0 167 0-130 0 75 0 0 1-10 0 189 0-77 0-122 0 39 0-171 0 327 0-205 0-230 1 214 0-31 0 142 0-6 0-94 0 150 0 43 0 21 0-9 0-270 0 30 1-28 0 95 0-11 0 173 0-118 0-99 0 160 0 121 0-260 1 196 0-215 0 122 0 39 0-4 0-17 0-121 0-3 0-33 0 70 0 31 1-60 0 110 0 41 0-60 0 29 0 143 0-57 0-194 0 61 0 39 0-73 1-13 0-92 0 54 0 72 0-34 0 11 0 241 0-409 0 318 0-199 1 132 0 38 0-229 0 237 0-44 0 229 0-346 0 123 0 44 0-204 1 124 0 279 0-364 0 191 0-29 0 6 0 94 0-119 0-58 0-115 1-47 0 217 0-275 0 223 0-178 0 122 0 22 0 278 0-404 0 312 0-247 1 271 0 28 0-42 0-24 0-30 0-160 0-26 0-1 0-69 0 49 1 22 0 44 0-142 0 154 0 218 0-122 0-245 0 176 0 31 1-193 0 117 0 2 0 10 0-168 0 133 0 17 0-10 0 90 1-41 0-233 0 202 0-137 0 212 0-27 0 46 0-92 0-116 0 168 0-10 1 126 0-260 0 9 0 70 0-113 0 57 0 95 0 170 0-171 0 90 1-147 0-64 0 147 0 153 0-325 0 37 0-11 0 248 0-100 0-142 1-21 0 18 0 333 0-423 0 266 0-2 0-165 0 142 0 7 0-72 1 26 0-11 0 46 0 69 0-60 0-22 0 3 0-97 0-146 1 345 0-156 0-25 0 161 0-68 0-9 0-24 0 18 0 8 0-136 0 248 1-220 0-28 0 28 0 218 0 11 0-123 0 38 0 17 0-238 1 244 0-198 0-59 0-13 0-65 0 104 0 98 0 181 0-136 1 24 0-241 0 106 0 82 0 153 0-16 0-94 0-68 0-81 0 60 1 39 0-88 0 222 0-52 0 3 0-92 0-41 0 100 0 151 0-201 0 140 1-186 0 308 0-467 0 329 0-308 0 118 0-81 0 36 0 200 0-13 0 22 1 28 0-248 0 241 0-59 0 165 0-244 0 204 0-439 0 279 0 10 1-67 0 135 0-38 0-52 0-22 0-48 0 74 0 231 0-193 0 52 0-54 1-59 0 31 0-244 0 272 0 58 0-97 0-16 0-146 1 238 0-146 0 23 0 23 0 5 0-8 0 165 0-75 0-93 0-146 0 68 1 70 0 0 0-5 0-25 0-42 0 272 0-135 0-285 0 153 1 118 0 40 0-72 0 155 0-70 0-170 0-8 0 63 0 14 1 50 0 106 0-35 0-41 0-49 0 104 0-8 0-255 0 172 0-130 1 105 0 87 0-53 0 109 0-244 0 6 0 5 0 58 0 73 0 41 0-172 1 103 0 30 0-4 0-49 0 69 0-67 0-88 0-17 0 174 0-109 1 63 0 94 0 54 0-234 0-150 0 143 0-89 0-66 0 48 1 265 0-128 0 77 0 150 0-297 0 167 0-206 0 178 0-33 0 49 0-44 1-107 0 72 0-3 0 50 0-87 0 179 0-136 0-32 0 117 1-205 0 128 0 167 0-123 0-94 0 55 0 200 0-245 0 128 0-77 0 248 1-431 0 1 0 188 0 176 0-217 0-190 0 94 0-128 0 421 0-308 1 189 0 2 0-125 0 65 0 139 0 111 0-191 0 44 0-355 0 365 0-255 1 220 0-223 0 68 0-78 0 118 0-53 0 127 0 92 0-300 0-34 1 149 0-178 0 352 0-104 0 63 0-137 0 196 0-157 0-51 0-91 0 147 1-224 0 357 0-170 0-144 0 354 0-132 0-40 0-124 0 51 0 213 1-58 0-28 0-145 0-63 0 173 0 114 0 35 0-218 0-65 0 187 0 79 1-11 0-134 0 220 0-122 0-71 0 195 0-237 0 139 0-203 0 328 1-342 0 283 0-179 0-68 0 122 0-69 0 26 0 21 0-159 0 261 1-209 0-105 0 100 0 186 0-142 0-33 0-12 0 298 0 20 0-393 0 89 1 42 0 56 0-116 0-71 0 77 0 163 0-108 0-193 0 226 0 92 1-216 0 174 0-67 0-184 0 63 0 237 0-207 0-29 0-35 0 158 0-14 1-188 0 389 0-78 0-6 0-189 0 2 0 73 0-100 0 178 1 22 0-57 0 181 0-60 0-171 0 48 0 59 0-200 0 58 0 54 0 3 1-118 0-136 0 351 0-76 0 41 0-100 0 172 0-112 0-193 1 203 0 89 0-170 0-26 0 147 0-211 0 132 0-129 0 60 0 82 1 40 0-125 0 181 0 57 0-340 0 325 0-85 0-2 0-42 0 138 0-36 1-178 0 41 0 236 0-296 0 21 0 90 0 124 0-314 0-109 0 340 1 150 0-453 0 220 0-36 0 7 0 142 0-53 0 16 0-82 0 76 1-197 0 167 0-159 0 281 0-146 0-13 0 113 0-139 0 64 1-196 0 42 0 121 0 71 0-57 0-143 0 110 0 59 0 29 0 159 0-319 1 181 0-81 0-28 0 122 0-46 0-69 0-127 0 176 0 8 1-16 0 40 0-142 0 222 0-110 0-13 0-91 0 35 0 131 0-31 0 90 1-116 0 2 0 145 0-183 0-231 0 220 0 86 0 12 0-203 0 144 1 68 0 96 0-272 0 355 0-283 0 121 0-207 0 134 0 46 0-189 1 278 0-236 0 8 0 338 0-145 0-4 0-52 0-63 0 35 0-91 1 122 0 113 0 95 0-134 0-44 0 13 0-151 0 69 0 174 0-92 1-39 0-317 0 193 0 107 0-83 0-65 0 234 0-314 0 289 0-185 0-99 1 172 0-62 0 184 0-259 0 46 0-122 0 115 0 176 0 27 0 4 1-13 0-222 0 319 0-27 0-45 0 73 0-57 0-217 0 155 0-66 0 49 1-83 0-68 0 61 0 38 0 101 0 58 0-167 0-27 0-42 0 76 1 107 0 1 0-149 0 118 0 55 0 53 0-62 0-176 0 20 0-109 0 111 1 21 0-90 0-11 0 155 0 284 0-281 0 68 0-227 0 116 0 105 1 75 0-206 0-67 0 290 0-202 0 114 0-105 0-206 0 383 0-206 1-140 0 207 0 126 0 157 0-191 0-135 0 148 0-265 0 415 0-105 1-206 0 51 0-69 0 30 0 129 0-32 0-210 0 131 0-101 0 87 1-97 0 76 0 99 0 91 0-249 0 170 0 132 0-331 0 113 0 12 0 158 1-216 0 92 0 131 0-73 0 58 0-300 0 223 0-97 1-90 0-87 0 282 0 57 0-223 0 16 0-189 0 312 0-221 0 58 0 102 1 7 0 45 0 199 0-319 0 172 0 32 0-86 0-155 1-89 0 99 0 59 0 25 0 209 0-62 0-101 0-10 0 72 0-261 1 38 0 228 0-201 0 97 0-259 0 148 0 28 0 33 0-51 0 106 1-199 0 214 0 170 0-171 0-89 0 247 0 20 0-154 0-169 1 60 0 385 0-376 0 118 0 45 0-95 0-258 0 410 0-120 1 219 0-306 0 21 0 7 0-17 0 189 0-127 0 15 0 77 0-189 0 17 1 180 0-121 0-40 0 23 0-37 0 61 0 34 0 119 0-56 0-102 0 0 1 151 0-121 0-78 0-89 0 82 0 69 0-96 0 267 0-204 0 118 1-289 0 326 0-202 0-143 0 269 0 22 0-69 0 30 0 76 0-34 0-161 1 17 0 175 0 12 0-135 0-28 0 35 0-8 0-204 0 89 0 49 1 143 0-255 0 205 0-45 0 302 0-374 0 283 0-115 0-189 0 147 0 59 1-172 0-33 0 90 0-53 0 196 0-133 0 68 0 170 0-252 0 86 1-12 0-49 0 32 0-114 0 149 0-126 0 127 0-116 0 56 0-90 1-179 0 259 0-71 0 181 0-54 0-88 0-97 0 257 0-103 0-164 1 335 0-247 0 81 0-235 0 233 0 82 0-270 0-8 0 113 0-156 13-45 0 113 0 139 0 68 1-97 0 18 0 41 0-133 0 55 0 49 0-48 0 100 0-137 0 30 0 261 1-300 0 127 0-32 0-95 0 77 0-48 0 198 0-284 0 159 0-160 1 111 0-9 0-104 0 43 0 81 0-54 0-174 0 222 0 44 0-114 0 222 1-187 0 66 0-63 0 299 0-370 0 84 0 113 0-193 0 163 1 101 0-18 0-108 0 26 0-41 0 50 0-111 0-32 0 191 0-244 1 237 0-186 0-16 0 105 0 51 0 63 0-345 0 400 0-160 0-7 1-136 0 42 0 108 0 56 0-318 0 263 0 67 0-277 0 218 0 98 0-191 1 108 0 208 0-212 0-78 0 218 0-160 0-154 0 181 0 84 0-30 1-188 0 152 0-113 0 66 0 82 0-202 0-98 0 328 0-162 0-7 1 9 0 15 0-173 0-108 0 261 0 37 0-112 0 181 0 0 0-146 0-52 1 88 0-32 0 317 0-142 0-94 0-97 0 208 0-179 0 61 0-62 1 87 0-152 0 197 0-248 0 222 0-111 0 192 0-49 0-123 0 299 0-265 1 3 0 5 0-205 0 208 0 58 0-209 0 83 0-134 0 330 1 32 0-298 0-21 0 12 0 144 0-143 0 128 0 69 0-57 0 195 0-304 1 4 0 191 0 84 0-223 0-92 0 402 0-232 0 37 0-240 0-13 1 342 0-78 0 140 0-216 0-33 0-105 0 368 0-17 0-239 0 5 0 114 1-81 0-57 0 77 0-218 0-13 0 152 0 80 0 121 0-100 0 9 1-32 0-52 0 44 0 183 0-10 0-233 0-43 0 206 0 74 0-100 1-84 0-224 0 130 0 50 0 115 0-61 0 118 0-229 0 88 0 127 1-123 0-190 0 283 0 47 0-92 0-30 0-47 0 49 0-103 1 91 0-42 0-161 0 351 0-23 0-139 0 135 0-41 0-365 0 407 0-14 1-165 0 55 0 213 0-242 0-129 0 187 0-77 0 70 0 103 0-8 1-183 0 26 0 253 0-311 0 71 0-29 0-48 0 320 0-153 0 36 1 14 0-81 0-70 0 82 0-271 0 374 0-466 0 310 0-199 0 168 1 153 0-77 0 45 0-151 0 53 0 177 0-422 0 156 0 320 0-93 0-53 1-63 0-5 0 70 0-254 0 384 0-240 0 43 0-135 0 202 0-36 0-248 1 204 0 37 0 19 0 24 0 116 0 0 0-100 0-60 0-100 0 147 1 5 0-52 0 73 0-66 0-140 0 236 0 52 0-85 0-66 0 125 0-208 1-163 0 123 0-47 0-22 0 86 0 82 0-6 0 208 0-28 0-74 1 53 0-42 0-143 0 66 0 24 0-272 0 296 0-43 0-135 0 149 0-166 1 228 0-265 0 127 0 252 0-186 0-85 0 115 0-99 0 103 1-120 0 93 0-160 0 68 0-60 0 12 0 161 0-22 0-76 0-97 0 78 1 215 0-298 0 100 0-108 0 264 0-50 0 18 0 67 0-314 0 197 1 71 0 66 0-81 0-170 0-61 0 74 0 120 0-61 0 233 0-44 0-147 1-55 0 53 0-42 0 93 0-29 0-50 0 60 0 14 0-28 0-228 1 313 0-375 0 361 0-211 0-38 0-23 0 208 0 70 0-142 0-250 1 318 0-89 0-7 0-158 0 128 0-118 0 277 0 112 0-178 0 99 0-197 1 95 0-122 0 241 0-54 0-16 0-188 0 166 0-18 0-193 0 253 1-16 0-248 0 472 0-420 0 180 0-18 0-27 0-21 0 36 0-182 0 429 1 17 0-292 0 198 0-136 0 17 0-30 0-81 0 348 0-171 0-302 1 251 0 9 0-389 0 278 0 154 0-179 0-7 0 212 0-234 0 129 0 198 1-326 0 3 0 27 0 7 0 130 0-21 0 64 0-238 0 53 0-151 1 165 0 110 0 23 0 36 0-5 0-463 0 587 0-99 0 58 0-310 0 89 1 49 0-135 0 161 0-102 0-156 0 216 0 8 0-83 0-33 0-5 1 133 0-79 0 34 0-112 0 159 0-5 0 92 0-67 0 25 0-123 1-109 0 205 0-296 0 265 0-176 0 75 0 143 0-60 0 180 0-248 0-167 1 188 0-182 0 216 0 27 0-40 0 61 0-90 0-183 0 210 0 74 1-63 0-110 0 131 0 196 0-104 0-301 0 201 0-162 0 154 0 83 0-113 1-96 0 155 0 127 0-118 0 42 0-221 0 251 0 15 0 47 0-172 1 56 0-15 0-92 0 70 0-316 0 87 0 284 0-305 0 213 0-40 0 169 1-184 0-67 0 52 0 30 0-78 0 41 0 262 0-164 0-71 0 131 1-332 0 187 0 67 0-31 0-32 0 105 0 35 0 124 0-322 0 89 0 182 1-276 0 112 0 67 0 48 0-337 0 102 0 62 0 0 0 69 0-1 1-199 0 252 0 16 0-196 0 338 0-157 0 25 0-78 0 158 0-116 1 4 0-72 0-71 0-73 0 130 0 85 0 22 0-30 0-302 0 72 1 40 0 54 0 205 0-262 0 155 0 100 0 2 0-152 0 111 0-275 1 37 0 63 0 32 0-39 0 339 0-77 0-173 0 57 0 208 0-291 0 98 1 60 0-220 0-37 0 225 0-78 0-44 0 72 0-60 0 169 0-44 1-147 0 47 0-230 0 290 0-30 0-65 0-35 0 31 0-121 0 115 0-73 1 173 0-182 0 70 0 224 0-305 0 27 0 207 0-136 0-126 0 182 1-188 0 193 0-178 0 117 0 354 0-319 0 38 0-76 0 108 0-198 0 94 1 34 0 16 0-2 0 80 0-127 0 144 0-36 0 64 0-273 0-16 1 239 0-37 0 127 0 7 0-240 0-202 0 336 0-168 0 259 0-374 1-68 0 259 0-43 0-177 0 173 0 194 0-186 0 213 0-274 0 50 0-89 1 91 0-24 0 104 0-100 0 84 0 34 0 174 0-244 0 96 1-18 0-68 0-6 0-109 0 331 0-263 0 76 0-145 0 249 0 156 0-265 1 39 0 42 0-28 0-173 0 157 0-184 0 64 0 178 0 173 0-352 1 220 0 2 0-210 0-70 0-4 0 186 0-20 0 106 0-128 0-32 1-184 0 230 0 99 0-227 0 207 0 44 0-145 0-6 0 18 0 131 1-107 0 119 0 45 0-247 0-90 0 105 0-113 0 86 0-188 0 328 0-54 1-1 0-88 0-34 0 174 0 69 0 67 0 24 0-315 0 215 1-247 0 151 0-123 0-9 0 8 0-33 0 161 0-116 0 114 0 64 0-86 1-64 0 121 0-219 0 268 0 28 0-51 0-208 0 142 0-73 0-10 1 215 0-141 0-119 0 10 0 95 0-63 0 35 0-61 0 272 0-59 0-266 1 143 0 129 0-171 0 18 0 135 0-123 0 36 0-110 0 91 0-30 0-67 1 57 0 100 0 62 0-35 0-8 0-67 0 16 0 9 0 43 1-229 0 159 0 136 0-159 0-98 0 108 0-48 0 148 0-195 0 18 0-54 1 82 0-195 0 115 0-12 0-13 0 261 0-196 0-26 0 2 0 144 1 70 0-38 0 77 0-180 0 120 0-90 0 5 0 28 0 63 0-5 0-218 1 305 0-195 0 131 0-26 0-50 0-253 0 181 0-32 0-8 0-29 1 69 0-120 0 131 0 86 0-52 0 0 0-176 0 346 0-90 0-74 0-10 1 31 0 79 0-94 0-34 0 170 0-119 0-23 0 2 0-182 1 319 0-186 0 5 0 192 0-246 0 215 0-140 0 108 0-41 0-113 0-49 1 103 0-11 0 41 0-124 0 50 0 295 0-429 0 280 0 98 0-83 0-74 1 21 0 109 0-211 0 119 0-69 0-180 0 161 0 261 0-107 0-63 1-102 0-74 0 194 0-41 0-63 0-38 0-45 0-4 0 221 0-174 0 167 1-106 0-70 0 9 0 72 0 81 0-178 0 34 0 280 0-357 0 31 1 296 0-337 0 68 0 25 0 167 0-33 0-103 0-61 0 35 0-128 0 221 1 108 0-53 0-173 0-6 0-40 0 48 0-31 0 70 0-42 0-38 1 29 0 140 0 53 0-103 0-273 0 234 0 128 0-12 0-8 0-169 0-22 1 255 0-63 0-6 0 185 0-233 0 5 0-47 0 120 0-45 0-79 1 59 0-143 0 1 0 116 0-24 0 33 0-251 0 306 0 71 0 55 0-29 1-172 0 34 0 7 0 283 0-456 0 92 0 263 0-235 0 132 0-362 0 230 1 107 0 69 0-277 0 213 0-16 0-71 0 28 0 126 0-229 0 121 1-177 0 137 0-75 0-84 0 94 0 93 0 113 0-124 0 131 0-96 0-2 1-45 0-107 0 25 0 3 0 75 0-9 0 120 0-253 0 177 0-86 1 17 0 183 0-226 0 117 0-117 0-89 0 202 0-78 0 96 0-84 0 14 1 53 0-46 0-57 0 24 0-34 0 39 0 73 0 96 0-178 0 29 1-89 0 123 0-59 0 54 0 68 0-20 0-73 0 114 0-151 1-40 0 161 0-11 0-71 0-6 0-70 0 193 0-88 0-195 0 173 1-169 0 134 0 113 0-143 0-11 0 167 0-306 0 93 0 10 0 275 1-63 0 5 0-69 0-96 0-46 0 16 0 160 0-252 0 245 0 11 1-49 0-175 0 419 0-388 0 175 0 26 0 186 0-237 0 42 0-32 1 76 0-87 0 103 0-129 0-105 0-107 0 268 0-207 0 91 0-90 0 281 1 35 0-105 0-100 0-32 0 317 0-271 0-136 0 199 0-137 0 193 1-130 0 121 0-44 0 128 0-271 0-105 0 268 0-81 0 77 0-30 0-45 1 5 0 15 0-24 0-51 0-152 0 152 0 14 0 126 0 1 1-75 0 8 0-21 0 82 0-56 0 25 0-45 0 19 0-65 0-5 0 101 1-139 0 56 0-107 0 364 0-158 0 2 0-217 0 112 0-17 0 43 1 53 0-8 0-35 0 200 0-143 0 30 0-69 0 33 0 78 0-47 0 69 1-80 0-152 0 156 0-215 0 299 0-239 0 141 0-143 0 183 0-149 1-103 0 231 0-149 0-33 0 242 0-150 0 32 0 93 0-165 0 5 1 21 0 100 0-63 0 8 0-40 0-61 0 133 0 17 0-201 0 79 0 180 1-230 0-32 0-2 0 59 0 145 0-23 0-87 0-14 0 109 0-96 1 7 0 165 0-88 0-250 0 301 0-106 0 109 0-67 0-31 0 85 0-147 1-66 0 69 0 243 0-172 0 25 0-35 0-105 0 217 0-179 1 121 0-107 0 42 0-1 0-74 0-51 0 263 0-140 0 235 0-178 1-167 0 228 0-56 0 21 0-25 0-97 0-1 0 125 0 34 0-97 1-81 0 33 0-74 0 51 0 75 0-61 0 140 0-220 0 164 0 13 0-18 1-92 0 93 0 128 0-333 0 206 0 128 0 17 0-167 0 144 0-95 1 87 0-110 0-54 0 171 0-305 0 234 0-106 0-138 0 92 0-10 1 216 0 10 0-155 0-21 0-57 0 36 0 40 0 28 0 6 1-25 0 117 0-73 0-63 0-36 0 66 0-91 0-4 0 3 1 45 0 64 0-135 0 33 0 96 0-104 0-23 0 87 0-2 0 128 0-75 1-78 0-7 0 133 0-243 0 150 0 9 0 86 0-138 0 143 0-157 1 109 0-102 0 198 0-161 0-69 0 79 0-63 0 88 0-180 0 165 0 89 1 83 0-326 0 214 0-161 0 193 0-22 0-215 0 225 0-140 0 156 1 12 0-102 0 41 0 34 0-126 0 168 0-203 0 55 0 159 0-189 0 23 1-177 0 126 0 10 0-83 0 319 0-54 0-26 0 23 0-175 0 25 1-192 0 319 0-15 0-140 0 33 0-5 0 86 0-121 0 35 0 66 0-114 1 234 0-230 0-88 0 217 0-257 0 117 0 122 0-148 0 220 1-8 0-61 0-85 0 118 0 4 0 6 0-246 0 96 0 198 1-17 0-141 0-99 0 145 0-165 0 72 0 157 0-15 0-132 0-5 0 107 1-36 0 98 0-169 0-31 0 92 0-71 0-39 0 167 0-184 0 176 1-128 0 55 0 16 0-30 0-134 0 189 0-78 0-68 0 13 0 79 0 64 1-97 0 61 0 38 0-119 0-50 0 80 0 69 0 35 0-143 0 39 1 12 0 62 0 18 0 95 0-192 0 110 0 91 0-60 0 51 0-1 0-215 1 103 0 55 0-16 0 60 0-10 0-136 0 71 0-11 0 149 0-82 1-188 0 124 0-78 0 106 0-148 0 21 0-16 0 58 0 95 0-37 0-22 1 3 0 43 0 17 0-45 0 9 0-116 0 64 0-175 0 129 0 141 1-60 0-90 0-106 0 233 0-43 0-34 0 5 0 131 0-166 0 27 1-115 0 159 0-173 0 96 0 4 0 52 0 100 0 92 0-146 0 146 1-197 0 119 0 39 0-278 0 7 0-25 0 192 0 13 0-61 0-20 1-79 0 109 0 36 0-30 0 119 0-179 0 83 0-206 0 219 0-66 0 82 1-147 0-92 0-44 0 262 0-173 0 44 0-31 0 95 0-15 1 13 0 105 0-95 0-138 0 264 0-197 0 166 0-91 0-134 0 247 0-231 1 289 0-309 0 201 0-370 0 345 0 73 0-3 0-90 0 60 0-75 1 82 0-177 0-78 0 253 0-151 0 78 0-67 0-22 0 80 0 39 0 183 1-420 0 339 0-236 0 140 0-78 0 161 0-176 0 123 0 4 1-14 0-54 0 93 0-74 0 93 0-202 0 184 0-147 0 116 0 33 0-26 1-72 0-31 0-55 0 97 0-68 0 146 0 122 0-302 0 101 0-39 0 203 1-172 0-2 0-93 0 194 0-122 0 47 0-31 0-92 0 98 0-45 1 29 0 24 0 13 0 15 0-28 0 2 0 0 0 78 0 61 0-75 0 96 1-291 0 247 0-50 0-109 0 105 0-48 0-95 0 170 0-228 0 237 1-148 0 147 0-19 0 95 0-250 0 55 0 188 0-289 0 226 0-49 1 41 0 94 0-388 0 308 0 0 0-193 0 131 1 82 0-197 0-148 0 187 0 139 0-6 0-7 0 43 0-29 0-44 1-19 0-30 0-163 0 316 0-165 0 12 0 145 0-302 0 74 1 274 0-352 0 289 0-167 0-96 0 174 0-116 0 209 0-44 0-4 1-59 0-175 0 6 0 270 0 35 0-155 0 106 0 27 0-101 0-62 0 74 1 0 0 14 0-108 0-41 0 77 0 91 0-87 0 55 1 90 0-121 0-22 0-53 0 3 0 101 0 36 0-104 0-88 0 104 0-13 1 131 0 36 0-127 0 65 0 163 0-253 0-69 0-86 0 242 0 12 1-46 0 44 0-191 0 70 0 147 0-164 0 66 0-22 0 163 1 85 0-271 0 98 0-54 0-18 0 41 0-178 0 97 0 273 0-205 1-62 0 19 0 14 0 87 0-61 0-6 0-77 0 67 0 19 0-36 0 67 1-138 0 126 0-202 0 210 0-81 0 49 0-111 0 27 0 152 0-261 1 39 0 73 0 74 0 113 0-206 0 121 0-76 0 233 0-155 0-159 0 7 1 79 0-62 0 162 0-248 0 210 0 49 0-34 0-100 0-29 1 195 0-169 0-39 0-21 0 107 0-39 0 177 0-2 0-318 1 165 0 39 0-155 0 143 0 18 0-98 0-30 0 300 0-9 0-267 1-8 0 221 0-140 0-110 0 34 0 55 0-130 0 220 0-79 0-5 1 78 0-7 0-121 0 22 0 12 0 199 0-301 0 101 0 13 0 16 1-101 0 157 0-39 0 43 0-178 0-10 0 166 0-247 0 284 0-54 1-40 0 105 0-66 0 84 0-33 0-83 0-87 0 192 0 96 0-77 0 41 1-121 0-80 0-26 0 217 0-322 0 304 0-111 0-18 0 103 0-159 1 153 0-69 0 80 0-17 0-75 0 44 0-14 0-67 0 147 0-84 1 133 0-228 0 86 0-97 0 115 0-29 0 15 0 27 0 27 0-202 1 95 0 41 0-39 0 35 0-201 0 62 0 130 0 81 0-246 0 310 0-146 1-62 0-21 0 209 0-121 0 64 0-67 0 91 0-113 0 77 0-74 0 115 1-36 0 37 0-204 0 126 0-61 0 137 0-137 0 84 0-92 0 92 1 165 0-280 0 262 0-244 0 38 0-164 0 247 0-255 0 56 0 73 1-111 0 216 0 5 0 30 0-112 0 106 0-294 0 88 0-14 0 181 1 53 0 39 0-33 0-201 0 126 0-65 0 63 0 115 0-272 0 187 1-67 0 5 0 47 0-92 0 151 0-216 0 78 0 46 0-2 1 36 0-95 0-101 0 33 0 121 0 16 0-166 0 69 0-21 0-26 0 92 1-43 0 138 0-14 0-78 0 126 0-24 0-116 0 93 0-17 0-216 1 282 0-166 0-15 0-20 0-52 0 34 0 30 0 202 0-47 0-139 0 280 1-309 0 0 0-66 0 191 0-141 0 260 0-71 0-75 0-161 0 194 0-80 1-40 0 182 0-53 0 130 0-422 0 126 0 131 0 39 0-79 0-165 1 301 0-42 0 91 0-241 0-6 0 141 0 37 0-151 0-86 0 49 0 57 1 26 0-129 0 217 0-106 0-35 0 0 0 77 0 27 0-100 1 2 0 91 0-17 0-37 0-37 0 39 0-23 0 125 0-97 0 68 0-147 1-96 0 212 0-251 0 268 0-55 0 37 0-17 0-52 0-49 1 42 0 44 0-127 0 82 0 5 0-2 0-120 0 146 0 30 0-14 0-73 1-74 0-8 0 335 0-255 0 68 0-43 0-28 0 239 0-191 0 98 1-281 0 233 0 17 0 30 0-60 0-149 0 110 0-65 0 90 0-114 0 219 1-190 0 94 0-227 0 264 0-135 0 219 0-123 0 18 0 68 0 25 0-67 1 36 0 33 0-237 0 204 0 70 0-89 0-160 0 245 0-206 0 304 1-226 0 30 0-65 0-65 0 47 0 230 0-219 0 84 0-37 0 54 0-21 1-153 0 21 0 99 0 116 0-58 0-74 0 43 0-150 0 149 0 44 1-141 0 61 0 175 0-149 0-66 0-80 0 317 0-210 0 48 0-17 0 84 1-153 0 30 0 137 0-63 0-277 0 348 0 30 0-118 0-140 0 71 1 84 0-109 0 78 0-61 0-103 0 247 0-117 0 136 0 38 0-61 0-186 1-138 0 31 0 227 0-137 0 66 0-133 0 132 0 39 0-62 1-72 0 189 0-119 0 147 0-267 0 258 0-73 0-98 0-5 0 127 1-37 0 116 0 204 0-109 0-197 0-52 0 273 0-156 0-19 0 151 1-175 0-43 0-40 0 52 0 57 0-176 0 177 0 59 0-87 0 36 0-104 1 65 0-202 0 85 0 129 0-4 0 34 0-110 0 45 0-61 0 102 1-57 0 1 0 121 0-305 0 225 0-19 0-21 0 139 0-243 1 164 0-120 0-39 0 126 0-112 0 37 0 139 0-159 0 133 0-125 0 157 1-88 0 101 0-154 0 10 0 66 0 107 0 102 0-343 0 153 0 109 1-130 0 7 0-48 0 246 0-183 0-89 0-51 0 74 0 45 0-75 0 62 1 191 0-199 0 138 0-317 0 163 0-85 0-19 0 201 0-6 1-153 0 65 0 105 0 3 0-156 0-96 0 151 0 54 0-14 0 151 0-202 1-44 0 209 0-158 0-22 0-18 0 58 0 53 0-137 0 180 0-187 1 113 0-48 0-22 0 90 0-145 0 221 0-151 0 149 0-228 1 166 0-128 0 234 0-287 0 304 0 32 0-7 0-232 0 39 0 57 1 50 0-105 0-99 0 115 0 132 0-282 0 90 0-10 0 142 0 18 1-124 0 130 0-212 0 141 0-204 0 86 0 108 0-117 0-36 0 300 1-263 0 44 0 276 0-167 0-47 0-133 0 126 0 53 0 114 0-109 1-63 0 91 0-17 0-124 0 23 0-9 0 41 0-93 0 221 0 41 0-415 1 164 0 205 0 76 0-396 0 243 0-71 0-284 0 379 0 128 1-281 0 159 0-349 0 344 0-32 0 0 0-32 0 34 0 35 0-87 1 143 0 15 0-119 0 26 0-155 0-22 0-51 0-65 0 337 1-58 0-123 0-8 0-89 0 214 0 46 0-192 0 33 0 174 0-97 1 84 0-156 0 48 0 41 0 91 0 2 0-146 0 202 0-36 0-198 0-23 1 55 0 117 0 54 0-149 0 51 0 38 0-132 0 5 0 292 0-535 1 271 0 49 0-8 0-143 0 68 0 75 0 19 0-97 0-147 1 138 0-41 0 70 0-51 0 25 0-75 0 12 0 226 0 14 0-131 1 161 0-180 0 88 0 47 0 67 0-47 0 8 0-335 0 146 0-67 0 120 1-10 0 41 0-100 0 64 0 46 0 55 0 75 0-14 0-226 0 156 1-187 0 305 0-221 0-92 0 300 0-29 0-163 0-18 0-8 0 104 0-118 1-19 0 318 0-129 0-76 0 39 0-17 0-83 0 192 0-148 0-186 1 113 0 63 0 8 0-133 0 39 0-7 0 175 0-54 0-2 0 9 0-60 1-20 0-59 0 145 0 65 0-168 0 92 0 15 0 38 0 51 0-115 1 93 0-71 0-63 0-136 0 167 0 30 0-91 0-91 0 181 0-77 1-58 0 186 0 28 0-171 0 158 0 82 0-118 0-133 0 16 0 148 0-213 1 150 0-92 0 153 0-181 0-137 0 273 0 55 0-91 0-56 0-72 1 108 0-35 0 32 0 101 0-232 0 130 0-187 0 261 0-26 0-112 0-27 1-48 0-9 0 40 0 240 0-388 0 201 0 117 0-103 0 131 1-234 0 90 0-13 0 75 0-120 0 39 0 124 0-63 0-49 0 165 0-242 1 170 0-87 0-3 0 170 0-153 0 168 0-175 0 98 0-108 0 121 1 49 0-172 0 243 0-132 0-42 0-95 0 1 0 66 0 75 0 25 0 35 1-146 0 239 0-146 0-155 0 9 0-71 0 46 0 149 0-87 0 309 1-245 0-69 0 117 0-89 0-88 0 146 0-140 0 165 0-192 0 68 0 182 1-100 0-78 0 180 0-107 0-273 0 229 0-168 0 317 0 17 0-153 1 50 0-157 0 337 0-200 0-61 0-39 0 28 0 106 0-83 1 49 0 13 0-77 0 63 0 53 0-40 0-75 0-84 0 65 0 182 1-59 0-273 0 198 0-70 0 50 0 151 0-105 0 52 0-129 0 22 1 177 0-150 0-5 0-1 0-79 0 22 0-92 0 320 0-248 0-94 0 218 1-94 0 70 0 135 0-272 0 191 0-82 0 30 0 4 0 54 0 77 1-210 0 51 0-128 0 172 0-156 0 145 0 201 0-229 0-56 0 38 0-131 1 106 0 93 0 108 0-38 0-169 0 170 0-101 0-97 0-38 0-7 1 168 0-100 0-54 0 133 0 23 0-1 0-35 0 47 0-308 0 260 1-74 0 90 0-108 0-204 0 227 0-165 0 175 0-20 0-19 0-73 0 197 1 12 0-101 0-55 0 125 0-54 0-27 0-33 0 50 0 226 0-236 1-54 0 180 0-188 0 116 0-23 0 123 0-316 0-64 0 242 0 166 1-35 0-65 0-31 0 21 0-118 0 135 0-61 0-31 0-18 0 142 1-182 0 231 0-170 0 147 0-75 0-82 0 70 0-175 0 252 0 54 0-28 1-233 0 199 0-244 0 192 0 113 0-51 0-120 0 81 0 65 1-160 0-48 0 155 0-23 0-140 0 61 0 56 0-40 0-135 0 51 0 53 1 214 0-159 0 69 0-41 0-174 0 117 0 97 0-166 0 282 0-359 1 164 0-66 0 50 0-121 0 197 0-17 0 126 0 4 0-214 0 134 0-179 1 213 0-89 0 186 0-257 0 135 0-90 0-113 0 40 0-63 0 58 0 44 1 134 0-71 0-106 0 123 0-62 0 71 0-206 0 127 0 79 0-210 1 181 0-98 0-170 0 100 0 193 0 48 0-114 0-1 0 38 0-97 0 37 1 16 0 149 0-13 0-210 0 177 0-345 0 312 0-78 0-62 0-74 1 80 0 9 0 231 0-69 0-114 0 89 0-165 0 136 0-27 0-63 0-53 1 177 0-27 0 159 0-124 0-117 0 6 0-73 0 164 0-88 0 246 1-152 0-191 0 335 0-97 0-76 0 69 0 43 0-173 0 71 0-157 1 101 0 9 0 49 0-100 0 112 0-32 0-77 0 88 0-197 1 302 0-120 0-184 0 28 0 95 0-81 0 204 0-56 0 169 0-160 1-53 0-54 0 187 0-230 0 77 0 26 0 122 0-110 0 88 0-112 1-84 0 123 0 101 0-112 0 20 0-97 0 48 0-112 0 354 0-185 1 27 0-37 0 177 0-268 0 103 0 85 0-118 0-70 0 68 0-10 0 67 1-236 0 288 0-123 0 92 0-24 0-141 0 108 0-75 0 118 0-56 1-99 0 199 0 88 0-192 0 29 0-126 0 97 0 171 0-134 0 147 0-141 1 51 0-76 0 99 0-180 0 37 0 93 0-53 0-70 0 179 0 23 1-293 0 277 0-10 0 14 0-36 0-175 0-47 0 38 0 29 0 109 0-121 1 105 0-60 0 98 0-11 0-141 0 98 0-45 0 45 0 67 0-209 1 124 0 54 0-123 0-46 0 81 0 186 0-169 0 46 0 50 0-21 0-61 1-9 0 82 0-66 0 178 0-29 0-206 0-47 0 179 0-21 0-41 1 22 0 14 0 25 0-46 0-71 0 113 0-45 0-26 0 10 0 74 0-152 1 195 0-54 0-90 0 25 0 22 0 42 0-99 0-32 0-173 0 367 0-61 1-164 0 74 0 8 0-64 0-20 0 109 0 2 0 128 0-190 0-19 1 23 0 148 0 67 0-220 0 134 0-3 0-218 0 153 0 40 0-133 0 102 1-111 0-84 0 200 0 97 0-130 0-125 0-35 0 40 0 57 0-9 1 163 0 125 0-218 0 73 0-25 0 63 0-171 0 228 0-73 0-182 1 148 0-9 0-71 0 66 0-96 0-32 0 66 0-23 0 59 0 29 1 74 0-243 0 70 0 223 0-200 0 31 0-96 0 52 0 35 0 42 0 42 1-164 0 60 0-22 0 33 0-15 0 92 0 18 0-44 0-32 0-4 1 51 0-27 0-151 0 354 0-89 0-203 0 226 0-276 0 3 0 205 0-45 1-49 0 86 0-153 0 48 0 213 0-40 0-232 0 196 0-102 0 25 0-26 1 62 0-95 0-108 0 146 0-22 0 17 0-11 0 10 0-74 0 143 1 79 0-289 0 148 0-46 0-12 0-44 0 241 0-67 0-86 0-13 0 72 1-118 0 196 0 10 0-48 0-110 0-220 0 272 0 0 0 93 0-266 1 200 0-81 0-114 0 246 0-4 0-152 0 26 0 66 0-117 0 127 1 14 0 50 0 2 0-43 0-156 0 70 0 48 0 11 0 83 0-133 1-20 0-78 0 212 0-249 0 126 0-1 0 10 0 161 0-221 0 21 1 126 0 32 0-148 0 63 0 114 0-104 0-28 0 123 0-158 1-81 0 147 0-48 0 73 0 17 0-194 0 200 0-253 0 207 0-5 0 114 1-93 0-125 0 58 0-34 0-69 0 146 0-68 0-207 0 297 0-174 0 242 1-148 0-88 0 235 0-96 0 128 0-182 0 102 0-124 0-75 0 153 1 44 0-143 0 258 0-163 0 51 0 97 0-263 0 115 0 33 0-46 1 59 0 41 0-106 0-10 0-23 0 10 0 68 0-219 0 108 0-34 1 234 0-104 0 2 0-143 0 139 0 33 0-38 0 85 0-57 0-77 0-89 1 251 0-415 0 257 0-61 0 146 0-86 0-17 0-35 0 94 1 36 0-50 0-76 0-194 0 333 0-9 0 32 0-13 0-214 0 133 0-40 1-156 0 88 0 2 0 64 0-28 0 20 0-71 0-49 0 127 1-2 0-41 0 0 0-80 0-7 0 128 0 11 0 63 0-29 0-130 1 7 0 327 0-252 0 58 0-76 0-77 0 180 0 55 0-147 1 22 0-117 0 157 0 41 0-46 0 70 0-86 0-82 0 102 0 141 0-96 1-178 0-36 0 1 0 124 0 94 0-107 0-76 0 47 0 115 0-136 0-18 1 301 0-118 0-198 0 33 0 27 0-46 0 89 0 16 0-106 0 213 1-59 0-296 0 233 0-136 0 12 0 11 0 50 0 295 0-363 1 64 0-49 0-16 0-160 0 367 0-136 0-233 0 329 0-168 1 34 0 53 0 190 0-162 0 63 0 14 0-5 0-19 0-92 0 187 0-134 1 8 0 97 0-71 0-32 0 50 0 111 0-188 0 44 0-41 0 188 1-286 0 225 0-152 0 73 0 107 0-92 0-223 0 64 0-14 0 90 1-18 0 206 0-300 0 15 0 146 0-27 0 55 0-112 0-26 0-100 1 143 0 17 0-51 0 94 0-15 0-34 0-128 0 9 0 108 0-83 0 81 1 84 0 69 0-167 0 39 0 9 0 48 0-76 0 138 0-161 0 80 0-18 1-15 0 252 0-251 0-230 0 374 0-238 0 180 0-184 0 175 1-7 0 62 0-230 0 71 0 289 0-228 0 28 0 26 0-147 0 110 1-52 0-5 0-22 0 46 0-208 0 397 0-25 0-41 0-103 0-174 1 100 0 7 0-52 0-8 0 171 0-74 0 24 0-45 62-8 0 29 0-74 0 314 0-365 1 245 0 56 0-347 0 92 0 78 0 34 0-23 0 124 0 39 0 12 1-78 0 50 0-232 0 135 0-130 0 165 0 148 0-170 0-92 0 181 0-1 1-183 0-25 0 142 0-86 0-9 0-80 0 245 0-230 0 3 0-42 1-22 0 223 0-153 0 74 0-183 0 211 0 81 0-81 0 89 0-172 0 158 1-85 0-102 0 139 0-1 0 17 0-107 0 217 0-349 0 210 1 52 0-304 0 230 0-136 0 6 0 116 0 85 0-79 0 52 0-158 1 176 0-28 0-38 0 93 0-330 0 329 0-40 0-155 0-116 1 334 0-198 0 108 0-105 0-63 0 110 0-64 0 189 0-74 0-164 0 27 1-61 0 61 0 65 0-29 0 209 0-139 0 46 0-250 0 358 0-89 0-1 1 40 0-5 0-19 0-84 0-77 0 58 0 78 0 15 0-8 0-202 1-50 0 319 0-40 0 24 0-77 0 28 0-288 0-73 0 208 0 185 0-347 1 412 0-274 0 153 0-80 0 70 0-91 0-128 0 305 0-8 0-34 1 5 0-364 0 195 0 63 0-95 0 303 0-243 0 322 0-279 0 86 0-25 1 118 0-334 0 198 0-275 0 381 0-39 0-312 0 245 0-69 0 160 1-44 0-83 0 103 0-118 0-102 0 182 0-44 0-95 0 11 0 123 1-164 0 13 0 279 0-126 0-116 0 204 0-55 0-56 0 37 0-65 1-231 0 221 0 43 0 78 0-257 0 37 0 224 0-120 0 169 0-459 0 330 1-86 0 151 0-102 0 37 0-183 0 29 0 89 0-28 0-78 0 304 0-227 1 56 0 53 0-30 0 57 0-47 0-100 0 106 0 121 0-137 1-69 0 68 0 231 0-68 0-287 0 118 0 22 0 85 0-161 0-75 0 144 1-26 0-63 0 23 0 22 0-108 0 328 0-107 0 8 0 95 0-176 1-134 0 254 0-153 0-52 0 246 0-127 0 57 0-229 0 152 0-63 0-68 1-90 0 222 0-2 0 33 0 24 0-14 0 146 0-37 0-93 1-181 0 182 0 106 0-170 0-73 0 84 0 161 0-80 0-130 0-59 0 167 1 16 0-106 0 6 0 34 0-96 0 43 0 156 0-42 0-84 1 189 0-233 0 123 0-363 0 312 0 38 0-82 0-105 0 84 0 162 0-122 1 78 0-69 0 0 0 34 0-164 0 210 0-36 0-127 0-83 0 192 0-52 1-221 0 269 0-214 0 203 0-62 0 108 0-17 0-175 1 203 0-91 0-75 0 83 0 160 0-273 0 91 0-81 0 286 0 3 0-158 1 49 0-195 0-68 0 226 0-104 0 21 0 14 0-101 0 234 0-184 1 152 0 30 0-152 0 51 0 14 0-79 0-41 0 18 0 292 0-148 0 16 1-43 0-101 0 106 0-135 0 145 0-301 0 363 0-138 0-20 0 60 1-115 0 36 0 132 0-148 0 247 0-142 0-65 0-229 0 154 0 33 0-28 1 59 0 81 0-19 0 17 0-237 0 156 0 27 0-8 0 40 0 36 1-217 0 182 0-11 0-19 0 206 0-39 0-95 0 72 0 34 0-286 0 295 1-234 0 218 0-119 0 91 0-24 0-100 0 174 0-215 0-102 0 48 1-20 0 91 0-133 0 70 0-193 0 447 0-247 0 85 0-13 0 164 0-179 1-56 0-23 0-3 0 318 0-237 0-53 0-70 0 85 0-110 0 141 0-47 1 245 0-138 0 18 0-62 0-123 0 180 0-99 0 167 0-158 0 83 1 43 0-66 0 13 0 26 0 26 0-178 0 46 0-140 0 264 0-60 0-115 1 136 0 122 0-210 0-186 0 316 0 29 0-168 0 102 0 50 0-75 1-32 0-74 0-27 0 203 0-142 0-92 0-159 0 265 0 16 0-70 1 13 0 76 0 49 0 2 0-358 0 457 0-119 0-9 0-1 1 5 0-101 0 49 0 314 0-306 0-120 0 29 0 334 0-375 1 91 0 178 0-210 0 104 0-8 0-46 0 221 0-177 1 124 0-269 0 181 0 31 0-91 0-39 0-61 0 160 0-75 0 123 1-168 0-87 0 280 0 2 0-106 0-119 0 72 0 201 0-24 0-172 1-185 0 309 0-36 0 52 0-80 0-172 0 183 0 205 0-170 0 61 1-187 0-31 0 151 0-35 0-200 0 51 0 103 0 185 0-202 0-5 0-5 1 202 0 98 0-389 0-182 0 480 0-197 0-32 0 22 0-60 1 72 0-125 0 299 0-122 0-198 0 308 0-186 0 166 0-216 0 114 1 118 0-263 0 321 0-218 0-20 0 56 0 13 0 11 0-29 0 97 1-24 0-164 0 123 0-210 0 132 0 88 0-75 0 163 0-147 0 126 0-227 1-103 0 191 0 55 0-39 0 22 0-68 0-28 0-40 0 43 1-19 0 70 0 188 0-144 0-25 0 39 0 173 0-92 0-231 0 175 0-162 1 60 0-19 0-18 0-44 0 173 0-55 0-19 0-104 0 248 0-260 0 26 1-16 0 193 0-249 0 5 0 268 0-235 0 92 0 105 0-127 0 64 1-13 0 171 0 23 0-35 0-97 0-52 0 131 0-54 0-225 0 72 0 30 1 195 0-120 0 26 0-68 0 11 0-85 0 6 0 140 0-19 0-121 1 181 0-211 0-119 0 274 0-174 0 372 0-367 0 209 0 58 0 30 0-57 1-10 0-200 0 12 0 184 0 14 0 67 0-199 0-54 0-29 0 139 1 191 0-182 0-142 0 192 0-124 0-164 0 144 0-24 0-1 0 11 1 125 0-296 0 303 0-186 0 85 0-13 0 53 0-94 0 103 0 17 1 21 0-77 0 101 0-35 0 22 0-137 0-148 0 383 0-156 0-37 1-2 0 241 0-294 0-25 0 211 0-46 0-289 0 14 0 103 0 179 1-4 0-118 0 27 0 174 0-193 0-58 0 170 0-140 0-26 1 81 0-112 0 107 0 4 0-128 0 107 0 19 0 32 0 32 1 142 0-250 0 23 0 186 0 12 0-147 0-115 0 196 0-256 0 188 1-191 0 120 0-55 0 162 0-108 0 92 0-56 0-93 0-50 0 280 1-157 0 11 0-89 0-7 0 146 0 74 0-121 0-163 0 130 0-41 1 134 0-249 0 289 0-115 0 52 0 81 0-167 0-7 0 103 0-95 0 85 1-155 0 119 0 172 0-272 0 204 0-1 0-21 0 1 0-98 1 179 0-212 0 207 0-263 0 388 0-184 0-67 0 26 0 121 0-68 1-44 0-66 0-2 0-26 0-24 0 23 0 59 0-172 0 40 0 189 1 58 0-158 0-55 0 360 0-329 0 78 0-20 0-93 0 183 1-71 0 97 0-103 0 142 0-123 0-4 0-116 0 86 0-104 1 182 0-305 0 210 0 144 0-15 0-253 0-14 0 152 1 100 0 4 0-91 0-178 0 274 0-222 0 49 0 192 0-130 0-86 0 80 1 14 0 109 0-267 0-27 0 205 0-117 0 88 0 122 1-77 0 72 0 37 0-98 0-98 0-13 0 60 0 25 0 127 0-265 1 139 0-30 0 52 0-38 0 106 0-162 0 179 0 23 0 8 0-134 1-18 0 37 0 8 0 1 0-39 0 65 0-89 0 61 0 151 0-300 0 209 1-129 0 262 0-136 0-153 0 13 0 158 0-132 0 33 0 131 1-272 0 146 0-6 0 143 0-16 0-65 0 84 0-54 0 53 0-166 0 66 1 77 0-352 0 502 0-231 0-6 0-12 0 105 0-109 0-113 0 164 0-87 1-2 0 167 0-79 0-95 0-95 0 130 0-133 0 235 0 67 0-195 1 19 0 35 0-213 0 111 0 83 0 21 0-31 0-30 0-125 0 336 0-233 1 75 0-119 0 20 0 31 0 108 0 112 0-282 0 126 0-47 1-57 0 73 0 78 0-38 0 4 0 93 0-190 0 48 0 119 0-100 1-42 0 116 0-12 0-29 0-151 0 0 0 102 0-43 0 18 0-21 1 190 0-136 0-61 0 351 0-127 0-314 0 165 0-72 0 158 0-172 0 56 1 89 0-77 0 125 0 50 0 3 0 87 0-206 0 57 0-168 0 15 1 110 0-38 0 23 0 225 0-281 0 52 0-108 0-69 0-21 0 69 0 319 1-303 0 53 0 112 0-191 0 160 0-156 0-135 0 300 0-147 0-22 0 1 1 180 0 172 0-442 0 244 0-24 0 47 0 33 0-179 0-60 0 29 1 108 0-61 0 214 0-285 0 200 0 92 0-197 0 99 0-304 0 192 0-54 1-119 0 338 0-45 0-258 0 174 0-29 0-56 0 61 0 27 0 19 1-11 0-89 0-11 0 278 0-91 0 76 0-186 0 6 0-149 0 310 1-78 0 5 0-100 0-37 0-14 0-6 0-8 0 41 0 37 0-60 1 97 0-87 0 4 0-37 0 124 0 181 0-184 0-87 0 32 0-3 0 88 1-150 0 100 0 94 0-118 0 98 0-244 0-53 0 264 0-209 0 48 1 57 0-6 0 136 0 159 0-254 0-155 0 234 0-31 0-64 0 42 0-155 1 245 0-195 0 300 0-69 0-199 0 74 0-97 0 237 0-124 0-118 1 190 0-219 0 97 0-60 0 325 0-265 0 152 0-61 0-93 0 152 0 116 1-203 0-281 0 67 0 59 0 149 0 75 0-149 0 42 0 142 0-252 1 124 0-23 0 15 0 11 0-72 0 173 0-287 0 80 0 60 1 152 0-219 0 280 0-292 0 206 0-194 0 101 0-174 0 281 0-206 1 215 0-85 0-55 0-16 0-38 0 196 0 11 1-162 0-24 0-24 0 187 0-47 0 41 0-99 0-252 0 477 0-86 1-313 0 70 0 182 0-140 0-203 0 332 0-109 0-58 0 27 0 77 1 117 0-243 0-6 0 109 0 189 0-266 0 209 0 78 0-347 0 75 0-3 1 20 0-7 0-189 0 97 0 230 0 31 0-210 0 50 0-5 0 199 1 86 0-35 0-111 0 109 0-22 0-3 0-137 0-45 0 53 0 107 1-30 0-33 0-152 0-141 0 51 0 272 0-131 0-83 0 37 0-90 0 213 1-77 0-41 0-123 0 63 0 9 0 287 0-351 0 132 0 176 0-153 1-74 0 95 0-85 0 213 0-414 0 352 0-83 0 174 0-5 0-235 0 139 1 25 0-153 0 20 0 56 0-50 0 5 0 133 0-104 0 60 1-49 0 175 0-318 0 203 0-188 0-57 0 210 0-273 0 324 0-74 1 40 0 21 0-55 0 6 0 37 0-54 0-36 0-31 0 27 0 9 1 7 0-211 0 286 0 90 0-188 0-43 0 47 0-77 0 242 0-227 0-71 1 101 0-45 0-65 0 163 0 172 0-248 0-29 0 214 0-357 0 232 1-77 0 156 0 38 0-109 0 86 0-197 0-11 0 426 0-407 0 246 0-401 1 296 0-70 0 90 0-118 0 108 0-39 0 8 0-91 0 148 0 17 0-104 1 4 0 10 0 151 0-165 0 109 0-24 0-199 0 250 0 28 0-94 1-107 0 44 0 49 0-197 0-11 0 415 0-188 0 142 0-212 0 35 0-136 1 382 0-151 0-58 0-165 0 47 0-68 0 70 0-13 1 131 0 56 0-278 0 234 0-14 0-213 0 30 0 194 0-190 0-28 0 179 1-111 0-73 0 258 0-155 0 128 0-52 0 130 0-83 0-179 0 180 1-153 0-42 0 171 0-90 0 88 0 12 0 145 0-267 0-87 0 211 0 14 1-129 0 58 0 18 0-278 0 259 0 71 0 8 0-29 0-232 1 91 0-81 0 272 0-369 0 294 0-120 0 223 0-101 0 121 0-169 0-77 1 283 0-130 0 4 0-37 0-15 0-100 0 68 0 114 0-169 0 84 0 152 1-327 0 185 0 122 0-132 0 87 0 42 0-200 0 212 0-38 0 61 1-117 0-35 0-71 0-142 0 211 0 76 0-29 0-97 0 60 0-104 1-29 0 188 0-91 0-23 0 131 0 10 0-88 0 77 0-122 1-135 0 100 0 58 0 87 0-291 0 295 0-120 0 72 0-72 0-96 0 102 1-15 0-72 0 347 0-173 0 18 0 40 0-220 0-54 0 372 1-121 0-137 0 70 0-156 0 133 0-12 0 37 0 66 0-203 0-83 0 19 1 179 0-16 0 25 0-89 0 43 0-10 0 67 0 161 0-20 0-205 1 30 0 46 0 90 0-144 0-90 0 79 0-80 0 92 0 194 0-160 1 109 0-242 0 27 0-91 0 153 0 173 0 50 0-65 0-109 0-91 1 29 0-58 0 213 0-144 0 14 0 74 0 80 0-129 0-36 1 144 0 23 0-241 0 46 0 288 0-245 0-23 0 126 0 13 0-73 0-113 1 74 0 16 0 148 0-254 0 81 0 162 0-4 0-19 0-103 0 34 1-114 0 242 0-304 0 358 0-109 0-232 0-22 0 297 1-56 0-142 0-230 0 372 0 12 0-224 0 133 0 69 0-152 0-6 1-61 0 299 0-109 0 134 0-179 0-7 0 29 0-149 0 173 0-193 1 257 0-21 0-24 0-253 0 103 0 87 0-40 0 144 0-10 1-140 0-10 0 124 0-203 0 204 0 131 0-152 0 4 0-170 0 257 0-231 1 140 0-89 0 88 0-45 0 185 0-220 0 83 0-68 0 107 1-66 0 228 0-253 0 13 0 9 0 46 0 156 0-434 0 241 0-180 1 179 0 112 0-83 0-23 0 0 0 65 0-84 0-63 0 88 0-20 0-83 1 26 0 156 0-271 0 155 0-69 0 165 0-32 0-47 0-102 0 4 1-113 0 197 0 21 0 42 0-86 0 118 0-188 0-23 0 270 0-149 1-164 0 265 0 22 0-208 0 211 0-42 0-235 0 135 0 126 0-111 1 43 0-108 0 251 0-128 0-56 0 109 0 18 0-94 0-31 0-13 0-36 1-80 0-110 0 324 0-131 0 123 0-52 0-111 0-144 0 350 0-245 1 221 0-342 0 186 0 160 0-92 0 5 0-40 0-12 0 256 0-283 1-3 0-46 0 49 0 188 0-18 0-117 0-69 0 160 0 74 0 83 1-16 0-262 0 144 0-55 0-24 0-32 0 77 0-38 0-5 0 21 0-130 1-74 0 291 0-145 0-37 0 52 0-199 0 212 0 21 0-5 0-80 1 68 0-326 0 223 0 70 0-36 0 80 0-164 0 299 0-96 0-104 1 71 0-135 0 254 0-81 0-143 0 109 0 25 0-106 0-106 0 312 0-135 1-154 0 13 0 125 0 22 0-80 0-20 0 16 0-27 0 96 0-170 1 287 0-266 0 95 0-90 0 201 0 44 0-212 0-9 0 269 0-290 0 33 1 204 0-285 0 147 0-141 0-110 0 153 0 130 0-194 0 149 0-83 1 102 0 27 0 11 0-86 0 30 0-140 0-156 0 430 0 96 0-7 0-175 1-278 0 332 0-93 0 57 0-141 0 92 0 33 0-23 0 158 1-118 0-47 0-133 0 173 0 92 0-203 0 42 0 39 0 195 0-92 1-224 0 163 0-150 0 152 0-151 0-56 0 175 0-12 0-80 0 137 0 14 1-193 0 202 0-35 0-242 0 141 0 119 0-141 1 132 0-83 0-29 0-3 0 149 0-62 0-127 0-135 0 286 0-92 0 159 1-170 0-31 0-38 0 134 0-8 0 218 0-131 0-184 0 132 0-59 1 55 0-54 0 144 0-129 0-18 0 9 0-214 0 279 0-62 0 3 0-145 1 93 0 176 0-195 0 57 0-155 0 320 0-279 0 203 0-91 1 17 0-46 0-27 0-9 0 78 0 24 0-18 0-10 0 47 0-115 1 218 0-227 0 161 0-138 0-73 0 31 0-41 0 171 0-117 0 24 1 103 0 59 0-21 0-221 0 161 0-130 0 84 0-51 0 151 0-8 1 35 0-64 0-140 0 144 0-1 0-43 0 0 0-32 0 95 0-64 1 202 0-284 0-38 0 172 0-106 0 60 0 73 0-94 0 55 0 10 1 25 0-19 0-233 0 98 0 48 0 36 0-6 0 83 1 56 0 21 0-52 0-58 0 25 0 27 0-191 0 138 0-159 0 203 1-218 0 50 0-22 0-77 0 149 0 68 0-136 0-148 0 243 0 3 0-173 1 125 0 135 0-77 0-105 0 104 0 27 0-156 0 2 0-58 0 290 1-78 0-71 0-164 0 103 0 94 0-1 0-95 0 167 0-146 0 17 0-89 1 115 0 65 0 107 0-151 0-265 0 154 0 143 0 41 1-55 0-8 0-20 0-112 0-74 0 204 0 96 0-138 0 82 0-52 0 168 1-262 0 83 0-194 0 137 0 181 0-31 0-4 0-55 0-134 0 177 1-24 0-231 0 259 0-178 0 73 0 30 0 100 0-144 0 192 0-9 0-246 1 90 0-17 0-185 0 133 0 89 0 66 0-157 0 8 0-86 0 154 0-38 1-19 0 54 0 68 0-115 0-2 0-48 0 9 0-28 0 101 1-59 0-51 0 177 0-102 0 7 0 146 0-103 0-26 0 40 0 116 0-112 1 98 0-9 0-85 0-18 0 52 0 72 0-154 0 3 0 71 0-162 1 70 0 102 0-179 0 57 0 88 0 81 0-42 0-108 0 69 0 9 0 62 1-88 0 53 0-97 0-78 0-19 0 82 0-19 0 98 0-37 0 138 1-112 0 96 0-113 0-23 0-21 0-7 0 62 0 75 0-30 0-66 0 110 1-132 0 21 0-56 0 37 0 110 0-23 0 72 0-96 0 84 0-94 1-86 0 84 0-19 0-197 0 326 0-231 0 76 0-176 0 216 0 259 0-302 1-24 0 85 0-62 0-182 0 155 0 142 0-30 0-46 0 31 0-32 0 28 1-70 0 101 0-203 0 156 0 34 0 25 0-48 0-193 0 131 1-66 0 149 0-81 0 159 0-257 0 139 0-174 0 194 0-58 0 35 0-151 1 104 0 11 0 12 0 6 0-7 0-53 0 257 0-248 0 116 0-62 1-18 0 113 0-67 0 95 0-278 0 239 0-125 0 5 0-36 0 64 0 94 1-123 0 115 0 61 0-77 0-48 0-80 0 212 0-55 0-80 0 24 1-152 0 124 0 123 0-216 0 122 0 37 0 102 0-64 0-44 0-66 1 5 0-137 0 57 0 75 0-42 0 59 0 61 0-93 0 110 1-131 0 85 0-11 0-89 0 81 0 97 0-8 0-223 0 113 0 4 0 27 1 93 0-100 0-71 0 93 0-45 0 58 0-41 0-143 0 107 1-144 0 279 0 122 0-257 0 101 0-12 0-52 0-30 0 73 0-38 0-138 1-51 0 201 0 179 0-8 0-123 0-71 0 111 0-101 0-94 0 72 0-129 1 175 0-27 0 97 0-117 0-41 0 104 0 1 0-78 0 55 0 100 1-283 0 207 0 3 0 14 0-28 0 96 0 7 0-7 0-224 0 74 0 12 1-34 0 76 0-116 0 74 0 126 0 170 0-257 0-7 0 8 0-98 1 146 0-77 0 26 0-65 0 27 0 95 0-14 0-121 0 93 0 111 0-169 1 121 0 23 0-109 0 7 0-98 0 200 0-44 0-157 0-120 0 202 1 15 0-4 0 52 0 4 0-137 0 31 0 167 0-221 0 118 0 93 0-93 1-190 0 183 0-50 0-75 0 115 0 107 0-151 0-2 0 59 0-24 1 118 0-54 0-66 0 211 0-523 0 287 0 94 0 33 0-23 0-14 0-101 1 17 0-44 0 49 0 63 0-16 0 146 0-287 0 106 0 108 0-141 0-127 1 189 0-86 0-28 0-101 0 117 0-37 0 109 0-92 0 112 0-42 1 164 0-162 0 72 0-18 0-10 0 37 0-129 0 159 0-259 0 83 0 212 1 104 0-290 0 139 0-25 0-199 0 88 0 189 0-154 0 144 0-229 1 283 0-4 0-164 0-46 0 185 0-177 0-29 0 58 1 41 0-65 0 121 0-131 0-85 0 85 0 148 0-36 0 15 0-14 1-304 0 190 0 71 0 28 0 41 0 1 0-152 0 171 0-152 0 3 0 159 1-78 0-154 0 139 0-22 0-121 0 49 0 22 0 90 0 137 0-111 1-62 0 140 0-276 0 191 0 38 0 29 0-246 0 56 0 145 0-153 0 79 1-38 0 29 0-7 0 79 0-103 0-9 0 142 0-227 0 87 0-69 0 61 1 103 0 6 0-112 0 36 0-50 0 30 0 9 0-36 0 15 0 350 1-558 0 359 0-65 0-48 0 31 0 125 0-159 0-49 0-42 0 110 1-94 0-3 0 69 0 60 0-323 0 328 0-162 0-107 0 244 1 25 0-89 0-69 0 156 0-105 0 72 0 30 0-63 0 144 0-258 0 241 1-212 0 96 0-5 0-64 0 234 0-138 0 20 0-69 0 51 0-180 1 192 0 28 0-62 0 136 0-81 0-106 0-95 0 97 0 126 0 61 1-157 0-149 0 211 0-3 0-189 0 167 0-154 0 64 0 54 1-95 0-64 0 272 0 26 0-312 0 32 0 195 0-79 0 113 0-86 0-2 1 95 0-173 0 182 0-168 0-105 0 193 0-170 0 56 0 100 0-114 0-3 1 117 0-6 0 26 0 25 0-114 0 140 0-156 0-71 0 133 0 102 1-106 0-152 0-72 0 229 0-9 0-3 0-26 0 118 0-64 0 90 0-98 1 8 0 21 0 80 0-10 0 6 0-286 0 220 0-126 0 120 0 93 1-118 0 46 0-111 0 20 0 46 0-111 0 158 0 33 0-12 0-340 0 340 1 34 0-181 0 6 0 118 0 82 0 67 0-175 0 83 0-81 0-189 1 244 0 91 0-54 0-234 0 110 0-94 0 28 0-95 0 183 0-1 0 192 1-273 0 55 0 123 0-91 0-51 0 0 0 31 0-14 0 71 0-223 1 4 0 301 0-182 0 43 0 94 0-26 0-187 0 10 0 102 0-29 0 21 1 0 0 183 0-270 0 184 0-308 0 338 0-51 0-103 0-57 0 173 1-120 0 52 0-197 0 132 0 22 0 3 0-56 0 106 0-177 0 136 0 163 1-70 0-162 0 194 0-75 0-249 0 241 0-234 0 135 0 3 0 32 0 82 1 13 0-111 0 123 0-117 0 19 0-180 0 145 0 44 0-125 0 48 1 79 0-49 0-128 0 144 0-18 0 155 0-269 0 67 0 202 0-199 0 142 1 20 0-21 0 50 0 2 0-29 0-146 0 120 0-84 0 10 0 33 1-63 0 105 0-74 0 32 0 156 0-204 0 146 0-88 0-33 1 150 0-122 0-151 0 168 0 9 0-161 0 127 0-17 0 5 0 59 1-41 0-96 0 211 0-309 0 174 0 42 0-113 0 176 0-90 0-28 0 16 1-85 0 219 0-106 0-99 0 159 0-52 0 19 0-44 0 47 0 40 1-91 0-5 0 49 0 7 0-16 0-118 0 138 0-114 0 4 1-41 0 73 0 7 0-24 0-54 0 161 0-55 0 120 0-148 0 45 0-108 1 162 0-260 0-10 0 345 0-227 0 147 0-123 0 201 0-123 0-121 1 18 0 116 0-50 0-83 0-93 0 63 0 187 0-16 0-40 0-34 0 187 1-90 0-55 0 51 0 129 0-136 0-142 0-31 0 228 0-145 0 52 1-40 0-129 0 156 0 55 0-34 0 24 0 112 0-214 0 133 0-173 0-17 1 134 0 4 0-1 0 1 0 66 0-22 0 159 0-276 0-56 1 149 0-31 0-40 0 49 0-36 0 131 0-148 0 28 0-19 0 140 0-35 1-171 0 173 0-6 0-144 0 47 0 90 0-103 0-9 1-124 0 55 0 151 0-53 0 109 0-85 0-82 0 102 0-22 0-96 0-175 1 165 0-3 0 94 0-100 0 186 0-35 0 77 0-258 0 116 0 1 1-4 0 13 0 22 0-33 0 131 0 63 0-81 0-42 0-145 0-23 1 122 0-183 0 135 0 69 0 106 0-163 0-36 0 98 0 5 0 19 0-222 1 179 0-14 0 16 0 8 0-14 0-178 0 49 0-2 0 184 0-86 1 171 0-215 0 30 0-126 0 132 0-101 0 165 0-29 0 160 0-111 0-32 1 89 0-143 0-116 0 206 0 9 0-182 0 62 0 111 0-101 0 115 1 120 0-134 0-116 0 32 0 7 0 106 0 34 0-180 0 49 0-163 0 327 1-249 0 28 0 68 0 207 0 22 0-276 0-24 0 26 0 134 0-24 1-50 0 157 0-147 0-13 0-50 0 183 0-220 0 109 0-15 0 107 1-23 0-110 0 119 0-93 0-7 0 56 0 77 0-229 0-48 1-7 0 231 0-36 0 39 0-47 0 5 0-7 0-52 0 58 0-68 1-21 0 283 0-415 0 375 0-132 0-26 0-169 0 307 0-54 0-142 0 201 1-351 0 110 0 262 0-232 0 46 0 127 0-193 0 123 0-124 1 93 0-172 0 74 0 71 0 53 0 59 0-115 0-55 0 30 0 91 0-17 1-89 0 9 0-158 0 378 0-126 0 24 0-112 0-115 0 296 0-110 1-122 0 136 0-118 0 196 0-288 0 82 0 137 0-246 0-32 0 172 0 4 1 51 0 87 0-202 0 115 0-57 0 81 0-24 0-54 0-47 0 38 1 89 0-185 0 89 0-17 0-20 0 15 0 142 0-46 0 94 0-216 0 243 1-168 0 59 0-6 0 17 0-125 0 69 0 50 0-15 0 16 0-222 1 217 0-84 0 52 0-72 0 54 0 95 0-114 0-109 0 13 0 243 0-233 1 28 0 88 0-84 0 153 0-130 0 183 0-176 0-36 0 176 0 21 1-105 0 158 0-205 0 26 0-226 0 260 0 125 0-173 0 49 0-124 1 171 0-56 0 19 0-16 0 40 0-135 0 48 0 103 0-130 0-12 0 133 1 22 0-54 0-81 0 51 0 16 0 154 0-115 0-38 0-66 0 64 1 66 0-13 0-100 0 56 0 296 0-194 0-24 0-137 0 39 0-12 0 28 1 85 0 16 0-125 0-22 0-144 0 232 0-40 0-1 0-235 0 179 1-39 0 102 0 5 0-111 0 308 0-163 0-114 0 56 0 178 0-147 0-30 1 54 0-157 0 152 0-73 0 150 0-139 0-87 0 12 0 239 0-147 1 57 0-18 0 30 0-3 0-83 0-146 0 165 0-190 0 251 0 87 0-102 1-66 0 92 0 43 0-280 0 26 0 31 0 62 0 25 0 75 0-30 0-44 1 113 0-92 0-21 0 48 0-17 0 3 0-142 0 220 0 18 0-57 1-131 0 52 0 176 0-61 0-216 0 319 0-227 0-169 0 367 0-207 0 165 1-93 0 30 0 164 0-174 0-81 0 48 0-198 0 326 0-70 0 110 1-33 0-249 0-34 0 26 0 98 0-3 0-171 0 33 0 176 0-142 0 111 1-173 0 102 0 68 0 107 0-80 0-40 0 9 0 25 0 73 1-78 0-8 0-134 0 111 0-50 0 137 0 2 0 25 0-36 0-120 0-113 1 215 0-276 0 207 0-68 0 250 0-191 0-27 0-83 0 184 1-40 0 4 0 102 0-251 0 100 0-203 0 221 0-69 0 213 0-68 0-2 1-265 0 207 0 126 0-136 0 131 0-294 0 209 0 41 0-37 0-189 0 186 1-165 0 132 0-11 0-102 0 162 0-116 0 108 0 108 0-142 0 28 1 31 0-67 0 19 0-127 0 94 0 125 0-84 0-28 0-80 0 11 1 149 0-237 0 75 0 56 0 60 0 177 0-408 0 56 0 16 0 203 1 19 0-69 0-20 0 113 0-103 0-153 0 330 0-255 0-8 0 103 0-34 1 15 0-24 0-108 0 220 0-399 0 138 0 106 0-30 0 48 0-134 1-12 0 256 0-165 0-57 0 171 0-105 0 27 0 30 0 13 0-120 0 198 1-173 0-16 0 64 0 110 0 51 0-26 0-72 0-81 0 299 0-375 1 218 0-141 0 144 0-19 0-115 0 159 0-299 0 269 0 29 0-186 0-26 1 210 0-158 0 211 0-295 0 178 0 81 0-200 0 68 0-35 0 137 1-219 0 98 0 145 0-98 0 97 0 24 0-261 0-17 0-13 0 328 0-127 1-76 0 226 0-8 0-334 0 156 0 25 0 105 0-331 0 259 0 48 1-298 0 207 0 176 0-255 0 20 0 137 0-104 0-123 0-20 1 57 0 169 0-179 0 49 0 214 0-154 0 75 0-114 0 127 0-234 0 200 1-27 0 27 0-205 0 205 0 118 0-96 0-165 0 20 0-207 1 250 0-9 0 59 0-62 0 8 0-23 0 217 0-316 0 145 0 37 0 21 1-82 0-57 0-32 0 76 0-144 0 360 0-194 0-73 0 11 1 48 0 112 0-44 0-98 0 109 0-132 0 165 0-70 0 127 0-87 0-122 1 74 0 80 0-317 0 269 0-92 0-92 0 236 0-78 0 0 0-92 1 34 0 97 0 46 0 16 0-177 0-43 0 112 0 13 0-121 0 183 1-24 0-264 0 138 0 58 0 226 0-277 0 129 0-160 0 16 0 70 0-63 1-83 0 20 0 136 0-56 0 69 0-27 0 106 0-238 0 126 0-55 1 157 0 98 0-105 0-126 0-18 0-113 0 139 0 28 0-103 0 73 0-40 1-78 0 300 0-263 0 315 0-169 0 15 0-58 0-149 0 173 0-25 1-40 0 145 0 50 0-196 0 0 0 16 0 42 0 82 0-179 0 142 1-183 0 197 0-45 0 15 0-216 0 172 0-122 0 162 0-232 0 141 1-62 0 45 0 148 0-226 0 90 0-142 0 338 0-50 0-190 0 28 1 274 0-146 0 20 0-114 0-66 0 26 0 101 0-32 0 5 1 112 0-171 0 60 0 232 0-228 0-64 0-91 0 137 0-49 0 88 0-70 1-4 0 32 0 62 0 0 0-230 0 73 0-24 0 109 0-32 0 242 1-149 0-84 0 90 0-58 0 162 0-64 0-187 0 341 0-269 1 8 0-14 0-101 0 11 0 147 0-18 0 65 0 24 0 63 0-64 0-195 1 1 0 41 0 38 0 83 0-30 0 124 0-169 0 27 0-9 0 74 1-3 0 3 0-160 0 38 0 90 0-128 0 3 0-33 0 227 0-170 1 46 0 49 0 93 0-85 0 33 0-149 0-118 0 360 0-120 1-68 0 175 0-82 0-123 0 233 0-282 0 48 0 90 0-4 0 19 0 51 1-84 0-61 0 0 0 38 0 162 0-60 0-180 0 74 1-15 0-118 0 282 0-202 0-3 0 192 0 89 0-71 0-105 0 170 0-19 1-131 0 59 0-110 0 114 0-60 0-48 0 102 0-77 0-25 0-24 1 79 0 59 0-30 0-90 0 120 0-86 0 12 0-47 0-37 0-18 0 165 1-69 0-43 0 64 0-46 0 206 0-364 0 177 0-129 0 140 0-86 1 11 0-62 0 202 0-128 0 180 0-50 0 32 0-115 0-160 0 289 1-254 0 109 0 62 0 29 0-164 0 56 0-50 0 109 0 157 0-2 0-220 1 128 0-106 0 69 0 1 0 158 0-319 0 311 0-134 0-120 0 281 1-243 0-74 0-92 0 218 0-85 0 134 0-200 0 113 0 119 0-79 0-86 1 56 0-160 0 175 0 24 0-148 0 117 0 73 0-229 1 179 0-116 0 71 0 19 0-31 0 3 0 69 0-224 0 163 1 18 0-90 0 258 0-181 0-34 0-115 0 111 0 117 0-101 0-41 1 95 0 123 0-120 0-17 0-74 0 152 0 58 0-111 0 44 0-181 0-96 1 290 0-218 0 233 0 97 0-158 13-106 0-6 0 29 0 97 0-218 0 311 0-253 0 57 0-118 0 92 1-70 0 274 0-306 0 37 0 200 0-32 0-200 0 150 0-27 0-9 1-108 0 236 0-175 0 149 0-13 0 39 0 34 0-249 0-35 0 113 0-193 1 346 0-1 0-183 0-55 0 266 0-91 0-55 0 81 0-82 0 229 1-107 0-201 0 27 0-68 0 26 0 252 0-162 0-43 0 154 0-102 0 70 1 99 0-255 0 61 0-83 0-62 0 121 0-32 0-2 0 202 0-299 0 238 1-11 0 103 0-248 0 90 0-157 0 190 0 0 0 106 0-253 0 109 1-64 0 208 0-6 0-178 0 107 0-27 0 66 0-97 0 34 1-53 0 116 0-323 0 245 0-158 0 33 0 172 0-147 1 238 0 39 0-116 0-86 0-145 0 170 0-132 0 35 0 166 1-176 0-46 0 12 0 163 0-53 0 6 0 114 0 69 0-128 1-122 0 194 0-208 0 181 0-178 0 159 0-123 0 115 0-98 0 15 1 49 0 0 0-60 0-42 0 80 0-73 0 44 0-115 0 304 0-125 1-22 0 36 0 20 0-21 0-68 0 4 0 11 0-45 0 57 0 56 0-168 1-95 0 80 0 156 0-24 0-239 0 356 0-265 0 77 0 100 1 44 0-239 0 66 0 25 0 62 0 33 0-67 0 60 0-41 0 57 0-18 1-164 0 137 0 155 0-18 0-153 0 20 0 165 0-255 0-197 0 290 0 91 1-261 0 46 0 200 0-22 0-90 0 41 0-99 0 110 0-88 0-96 1 79 0-25 0 65 0-136 0 38 0 238 0-248 0 200 0-224 0 220 0-54 1 9 0-8 0 27 0 167 0-210 0-193 0 105 0 137 0-151 0-115 1 299 0 17 0-183 0 102 0-68 0 121 0-161 0 197 0-51 0-38 1-13 0 58 0-44 0 34 0-106 0 122 0-96 0-132 0 75 0 20 1 121 0 101 0-121 0 37 0-40 0-99 0 189 0-21 0-71 0-86 0 92 1 182 0-167 0-119 0 121 0-193 0 124 0-4 0 89 0-300 1 306 0-50 0-39 0 108 0-159 0 4 0 69 0 26 0-128 0-104 1 86 0 124 0 113 0-142 0 180 0-361 0 238 0-106 0 115 0 28 0-295 1 119 0 185 0-90 0-55 0 178 0-203 0 24 0 169 0-176 0 126 1-19 0-17 0-50 0-116 0-18 0 169 0 32 0-36 0 33 0-268 0 102 1 356 0-186 0-16 0-151 0 142 0-134 0-40 0 69 0 83 0 28 1-155 0 181 0 1 0-124 0 84 0-79 0 45 0 103 0-73 0 80 0-273 1 283 0-142 0 162 0-223 0 54 0 178 0-196 0-187 0 174 0 203 1-270 0 280 0-56 0 62 0-15 0 70 0-103 0-102 0-242 0 235 0-1 1-16 0-37 0 326 0-212 0-169 0 396 0-231 0-56 0-88 0 217 1 77 0-223 0 57 0 60 0-180 0 284 0-210 0-86 0-119 0 217 0-45 1 11 0-109 0 311 0-129 0 94 0-38 0-78 0-54 0 9 0 224 0 0 1-152 0-40 0 140 0-118 0 45 0-20 0-62 0 134 0-134 0 103 1 68 0-15 0-101 0 10 0 33 0-116 0 88 0 203 0-123 0-121 1-14 0 149 0-191 0-71 0 108 0 160 0-64 0 8 0-43 0-118 1 36 0-109 0 180 0-43 0-1 0-58 0 93 0 64 0 19 0-293 1 339 0 44 0-339 0 103 0 1 0-48 0 176 0 40 0-149 0 72 1-53 0-30 0 73 0-95 0 249 0-193 0-60 0 62 0 37 0-64 0 86 1-36 0 29 0-250 0 368 0-107 0 11 0-91 0 209 0-108 0 139 1-186 0 160 0-108 0-214 0 304 0-164 0-170 0 73 0 262 0-250 1 48 0 2 0 213 0-321 0 179 0 130 0-116 0-42 0-130 0 108 0 78 1-66 0-62 0 82 0-20 0 91 0 43 0-100 0-100 0 63 0-54 1-77 0 127 0-68 0 48 0 108 0-237 0 35 0 259 0-122 0-43 1 178 0-70 0-97 0 32 0 136 0-101 0-49 0-28 0 8 1 41 0 8 0-191 0 210 0 15 0 16 0-22 0 21 0-137 0 72 1 176 0-153 0 52 0-77 0 32 0-38 0 107 0-134 0-126 0-99 1 254 0 13 0 57 0-87 0 184 0-28 0-340 0-122 0 308 0 30 1-11 0-200 0 339 0-63 0-48 0-214 0 33 0 161 0 15 1 15 0 11 0-53 0 152 0-78 0 44 0-169 0 140 0-96 0-99 0 150 1 140 0-90 0 166 0-499 0 173 0-21 0 286 0-103 1 18 0 84 0-311 0-84 0 181 0-117 0 51 0 237 0-120 0 100 0-74 1-165 0 167 0-125 0 103 0-190 0 69 0-14 0 59 0 60 0-104 0 221 1 178 0-372 0 95 0 29 0 43 0-181 0 90 0 121 0-352 1 91 0 386 0-113 0-157 0-24 0 138 0-339 0 99 0 109 0-14 1 55 0 40 0-203 0 300 0-248 0 35 0 10 0 4 0 139 1-45 0 65 0-93 0 88 0-47 0 26 0 133 0-82 0-42 0-129 0 93 1-79 0 87 0-48 0-21 0 109 0 47 0-102 0-7 0-109 0 27 1 221 0-88 0-149 0 114 0 14 0-115 0 92 0-66 0 173 0-145 1 188 0-148 0-37 0 18 0 28 0 2 0 97 0-174 0 19 1 225 0-236 0 195 0-174 0-155 0 365 0-489 0 173 0 97 0-178 0 212 1-178 0 226 0 59 0-20 0-87 0 78 0 38 0-161 0 54 0-204 0 169 1-143 0 42 0 129 0 72 0-106 0-20 0-89 0-173 0 252 0 83 1-27 0-218 0 189 0 80 0-45 0-61 0 17 0-41 0-80 0 282 0-247 1 57 0 88 0-200 0-68 0 127 0 236 0-259 0 49 0 18 0 82 1-86 0 55 0-251 0 15 0 418 0-313 0 140 0-31 0 54 0-17 0-191 1 266 0-146 0-236 0 478 0-132 0-55 0-104 0-79 0 56 1 120 0-25 0-78 0 81 0-26 0 166 0-119 0-282 0 110 0 86 0-116 1 175 0 189 0-219 0 8 0 246 0-255 0-23 0-256 0 267 0-151 1-31 0 69 0 163 0-129 0 35 0 221 0-160 0 206 0 4 0-159 0 27 1-21 0-43 0-49 0 195 0-91 0-175 0-15 0-45 0-58 0 381 0-97 1-10 0 60 0-61 0-29 0 231 0-196 0 89 0 63 0 29 0-420 1 288 0-76 0-66 0 154 0-105 0 41 0 52 0-36 0 1 0-112 0 66 1 9 0-177 0 2 0 135 0 118 0-246 0 107 0 29 0 145 0-133 1 90 0-185 0 175 0-142 0-122 0 304 0 123 0-314 0 142 0 35 0 80 1-45 0-5 0-104 0 169 0-29 0-199 0 19 0 98 0-226 0 83 1 114 0 51 0-66 0 39 0 90 0-345 0 54 0 19 0 61 0 41 1 61 0-49 0 46 0-5 0-103 0 70 0 56 0 61 0-134 1 239 0-257 0-87 0-191 0 368 0-66 0 36 0-41 0 163 0-162 0-48 1 23 0 127 0-168 0 106 0-25 0 3 0-219 0 181 0-9 0-72 1 152 0-90 0 133 0 4 0-102 0 25 0 88 0-111 0-5 0 204 0-250 1 8 0-106 0 332 0-215 0-41 0 240 0-92 0-14 0 80 0-273 1-16 0 82 0 299 0-134 0-213 0 70 0 356 0-486 0 125 0 125 1-32 0 55 0-93 0-49 0-60 0 51 0-83 0 224 0-358 0 192 0 80 1 13 0-121 0 226 0-179 0 239 0-354 0 30 0 245 0-252 0 171 1 86 0-269 0 258 0-224 0-27 0 243 0 73 0-101 0 136 0-142 1-63 0 25 0 14 0 74 0-72 0-118 0 18 0 25 0 233 1-263 0 269 0-273 0 77 0 75 0 60 0-218 0 207 0-66 0-101 0 107 1-134 0 114 0-109 0 12 0 56 0 2 0-199 0 276 1 77 0-271 0 189 0 72 0-162 0-98 0-8 0 63 0-13 0 170 0-150 1 19 0 34 0-77 0 295 0-87 0 93 0-408 0 116 0 69 0-62 0 126 1-26 0 114 0-123 0 57 0-157 0 150 0-72 0 44 0-46 0 71 1 113 0-280 0 52 0-76 0 44 0-52 0 21 0 97 0-172 0 182 0 170 1-29 0-171 0-51 0 151 0 57 0-97 0-109 0 131 0 55 1-167 0-4 0-61 0 240 0-249 0 4 0 14 0 134 0-43 0 175 0-242 1-75 0 208 0 135 0-341 0 144 0-51 0 5 0 169 0-111 0 88 1-16 0-216 0 287 0-224 0 110 0-1 0-87 0 141 0 17 1 21 0-138 0-12 0 127 0-53 0-144 0 238 0-106 0 101 1-34 0-9 0-69 0-18 0 84 0-179 0 130 0 48 0-63 0 179 0-67 1-133 0-156 0-85 0 200 0 91 0-57 0-17 0-22 0-137 0 408 0-140 1-66 0 141 0-190 0 164 0-178 0 157 0 197 0-349 0 93 0-7 1 50 0-166 0 50 0 1 0-60 0 355 0-379 0 370 0-281 0-21 1-58 0-28 0 133 0 122 0-258 0 31 0 27 0 224 0-265 1 114 0-24 0 61 0 18 0-102 0 38 0 102 0-80 0-38 0-6 0 71 1 90 0-155 0 119 0-60 0-64 0 22 0 22 0 49 0-200 0 147 1-86 0 160 0-119 0 105 0-119 0 137 0-105 0 50 0-231 0 9 0 157 1-68 0 173 0 211 0-215 0-1 0-80 0 44 0-34 0 52 0-234 1 65 0 42 0 117 0 125 0-117 0-16 0-60 0-8 0-157 0 147 0 65 1 62 0-8 0-1 0 1 0-64 0 168 0-272 0 316 0-341 0 208 0-24 1-85 0-146 0 392 0-39 0-127 0-117 0 54 0 159 0-269 0-3 1 137 0 200 0-180 0-99 0-71 0-9 0 263 0-50 0 43 0-190 1 49 0-21 0 12 0 20 0 192 0-143 0 65 0-96 0-35 0 86 1 160 0-236 0-153 0 240 0 49 0-136 0-7 0-52 0-155 0 220 0-25 1-70 0 94 0-120 0 233 0 98 0-131 0 67 0-164 0-219 0 69 1 145 0 63 0-289 0 353 0-49 0-114 0 124 0-68 0 84 0-139 0-102 1 225 0 68 0-52 0-108 0-143 0 241 0 98 0-78 0-175 1 64 0 15 0 250 0-219 0 173 0-374 0 68 0 12 0-27 0 141 0 31 1-58 0 14 0 149 0 71 0-170 0-76 0-107 0 56 0-123 1 164 0 161 0-219 0 122 0-184 0 125 0 44 0 177 0-426 0 84 0 260 1-21 0-15 0-239 0 449 0-109 0-107 0 134 0-176 0-16 0 42 0-44 1 9 0 33 0-134 0 225 0 77 0-319 0-8 0-113 1 297 0 43 0-157 0 18 0-116 0 66 0 123 0 284 0-281 1-208 0 200 0-23 0 66 0-125 0-38 0 157 0-99 0 244 0-289 1 51 0 24 0-145 0 242 0-124 0-86 0-113 0 201 0 147 0-171 1-70 0-71 0 138 0-50 0 162 0-173 0-115 0 227 0-93 0 108 1 124 0-90 0 106 0-171 0 8 0-133 0-43 0 155 0-26 0 174 0-311 1 297 0-48 0-33 0-59 0-94 0 176 0-206 0 136 0 40 1 45 0-170 0 54 0 34 0 38 0-57 0-201 0 167 0-29 0 30 1 70 0-10 0-76 0 113 0-4 0-38 0-35 0 215 0-189 0-151 0 101 1 77 0 163 0-86 0-57 0-42 0 33 0-75 0-258 0 150 1 82 0 116 0 22 0-41 0-128 0 92 0-242 0 336 0 71 0-125 1-66 0 107 0-124 0 15 0 185 0-200 0 133 0-168 0-106 0 122 1 263 0 2 0-281 0 69 0 66 0 88 0-320 0 305 0-108 0-52 1 148 0-228 0 71 0-6 0 11 0 86 0 108 0-236 0 17 0 44 1-170 0 112 0 107 0 125 0-113 0-24 0-168 0 28 0 29 0 77 1 128 0-205 0 2 0 177 0-80 0-66 0 91 0 9 0-61 0-33 1 111 0-57 0 139 0 28 0-358 0 217 0 22 0-53 0-50 0-142 0 119 1-52 0 101 0 44 0 4 0-51 0-20 0 16 0 95 0-97 0 95 0-169 1 147 0-61 0 74 0 64 0-214 0-77 0 83 0 111 0-96 0-42 1 277 0-277 0 246 0-36 0-20 0-74 0 53 0-66 0-177 0 318 0-159 1 140 0-305 0 244 0-163 0 137 0 41 0-233 0 245 0 8 0-127 1 33 0-39 0 207 0-267 0 144 0-65 0 187 0-62 0-135 0 227 0-115 1-100 0 199 0-68 0 30 0-90 0-176 0 307 0-216 0 109 0 72 1-34 0-76 0 47 0 73 0-12 0-264 0-39 0 114 0 109 0-84 0-89 1 62 0-100 0 197 0 11 0-22 0-54 0-160 0 128 0 194 0-286 1 128 0-36 0-49 0 20 0 358 0-325 0 95 0-25 0-71 0-53 0 264 1-183 0 68 0-151 0 358 0-234 0-63 0 204 0-133 0-50 0 244 1-473 0 289 0-119 0 164 0-22 0-86 0 289 0-143 0-111 0-90 0-114 1 527 0-300 0 37 0-66 0 51 0-203 0 247 0-192 0 61 0 44 0-66 1 227 0-334 0 212 0-117 0 30 0-42 0 67 0 52 0 138 0 25 1-218 0 27 0-147 0 368 0-240 0 121 0-69 0-115 0-64 0 170 0 24 1-95 0 162 0-126 0-49 0 94 0-62 0 85 0-114 0 62 0-57 1-76 0 223 0-140 0-38 0-10 0 4 0 142 0-234 0 166 0 38 0-107 1 211 0-192 0 57 0 194 0-166 0-118 0-110 0 104 0 132 0-125 1 101 0-127 0 142 0 13 0-32 0-154 0 310 0-58 0-128 0 117 0-71 1 175 0-303 0 111 0-36 0 183 0-223 0 28 0 75 0-97 0 159 1 173 0-213 0-266 0 317 0-58 0 31 0-79 0-19 0 60 0-39 0 34 1-39 0-80 0 133 0-119 0 147 0-225 0 236 0-48 0-84 0 0 0-115 1 336 0-176 0-26 0 10 0 111 0 169 0-13 0-475 0 1 1 408 0-187 0 57 0-102 0 8 0 74 0-102 0 230 0-77 0-150 0-98 1 400 0-225 0 49 0-55 0-132 0 180 0 104 0-136 0 155 0-275 1 238 0-61 0-14 0-91 0-12 0-17 0 77 0 57 0-49 0-102 0 112 1 6 0-44 0-46 0 146 0-78 0-97 0 350 0-350 0 18 0 159 1-14 0-82 0 70 0-198 0 75 0 285 0-374 0 194 0-93 0 261 0-281 1 122 0-33 0-33 0 43 0 145 0-68 0-300 0 387 0-58 0 40 1-170 0 52 0-6 0 152 0-434 0 166 0 122 0-78 0 59 0 46 0-229 1 91 0 146 0-86 0 29 0-1 0 109 0-147 0 118 0-250 0 2 0 65 1 111 0 59 0 55 0-200 0 77 0-4 0 84 0-203 0 320 0-231 1 121 0-109 0 220 0-339 0 370 0-208 0-38 0-80 0 33 0 23 0 33 1-182 0 382 0-350 0 150 0-100 0 166 0-329 0 429 0-274 0 218 1-183 0-23 0 99 0-13 0 60 0 26 0-20 0-53 0-21 1 103 0-210 0 136 0-41 0 17 0 20 0 51 0-90 0 20 0 61 1-149 0 110 0 44 0-87 0 121 0-30 0-36 0 9 0 73 0-286 0 290 1-71 0-165 0 17 0-46 0 71 0 225 0-43 0-206 0 63 0 68 1 175 0-218 0 39 0-24 0 13 0 3 0-71 0 68 0-6 0 94 0-158 1 197 0-227 0-34 0 106 0 79 0-139 0 132 0-56 0-55 0 107 0-177 1 129 0 8 0 256 0-339 0 252 0-181 0 54 0-12 0 192 0-203 1-62 0 93 0-14 0-203 0 366 0-309 0 200 0-58 0-149 0 112 0 40 1-333 0 120 0 115 0 6 0 143 0-76 0-83 0 37 0 27 0-36 1 103 0-82 0-193 0 422 0-108 0-64 0-116 0 123 0-61 0 44 0-211 1 228 0 22 0-95 0 83 0-41 0 193 0-125 0-86 0 123 0-126 1 55 0-121 0-241 0 275 0-75 0 101 0-7 0 44 0 58 0 13 0-136 1 153 0-125 0-114 0 192 0 33 0-113 0-39 0 271 0-211 1 95 0-97 0-107 0-110 0 256 0-23 0 6 0-247 0 47 0 322 0-36 1 57 0-120 0 174 0-308 0-11 0 35 0 134 0-46 0-133 0 99 1 92 0-83 0 123 0-116 0-283 0 499 0-262 0 22 0-71 0 48 0 88 1-36 0-27 0 171 0-104 0 192 0-195 0 24 0 26 0-108 0-72 0 127 1-265 0 366 0-156 0-215 0 254 0-46 0-159 0 175 0 134 1-135 0-80 0 118 0 37 0-4 0-111 0 92 0-242 0 260 0-99 0-108 1 91 0 249 0-236 0 76 0-24 0 75 0-89 0-24 0 139 1 56 0-239 0-14 0-50 0 116 0 63 0 55 0-226 0 26 0-133 0 281 1-28 0-199 0 297 0 52 0-132 0-155 0-45 0 197 0-41 1 153 0-387 0-13 0 205 0 85 0-144 0-4 0 151 0 76 0-36 0-372 1 399 0-69 0-88 0 64 0 5 0-90 0 21 0-133 0 209 0-85 1-50 0 60 0 56 0-32 0 234 0-293 0 3 0 42 0-168 0 409 0-251 1 109 0-139 0 259 0-149 0-177 0 91 0 20 0-62 0-18 0 43 0 151 1 28 0-270 0-79 0-72 0 177 0 109 0-109 0 117 0-194 1 62 0 406 0-353 0 39 0 221 0-51 0-99 0-75 0 62 0-104 0 296 1-198 0-38 0-63 0 103 0 140 0-296 0 196 0-124 0 139 0-61 1 131 0-32 0-9 0-167 0-107 0-9 0 149 0 27 0 322 0-353 0 32 1-34 0 91 0-134 0-91 0 155 0-215 0 83 0 0 0 91 0 272 1-258 0 21 0-116 0 93 0 9 0 216 0-184 0-75 0 46 1-180 0 219 0-37 0 19 0-31 0 113 0-133 0 48 0-54 0-65 1 101 0-131 0 254 0-197 0 226 0-193 0 54 0 43 0 133 0-259 0-70 1 243 0-95 0 74 0-25 0-230 0 109 0 78 0 50 0-16 0-206 0 75 1-3 0 33 0-65 0 379 0-283 0 155 0-153 0-74 0 188 0 57 1-4 0-415 0 426 0-215 0-133 0 280 0-127 0 337 0-201 0-68 1 64 0-114 0-178 0 198 0 55 0-30 0-91 0 105 0-98 0 32 1 297 0-218 0 142 0-39 0 28 0-58 0-124 0 88 0-208 0 215 1 46 0 49 0-81 0-57 0-196 0 188 0-54 0 165 0-222 1-20 0 37 0-25 0 51 0-58 0 193 0 117 0-109 0-140 0-200 0 155 1-69 0 255 0-42 0 119 0-203 0-39 0 17 0 161 0-87 0-104 1 92 0-100 0 113 0-13 0-98 0 107 0-110 0 74 1-15 0-49 0 92 0 88 0 140 0-174 0 34 0-126 0-77 0 104 1-205 0 215 0-114 0 75 0-7 0 34 0 235 0-158 0-151 0 286 1-256 0 45 0-84 0 83 0 232 0-385 0 179 0-58 0 93 0-57 1-126 0-60 0 118 0-77 0 235 0-59 0 287 0-398 0 56 1 109 0 45 0-69 0-273 0 156 0-140 0 155 0 66 0 7 0-180 1 106 0 63 0-217 0 470 0-328 0 46 0-283 0 388 0-143 0 16 1 9 0 226 0-347 0 77 0-15 0-85 0 13 0 271 0-113 0-138 0 162 1-183 0 231 0-306 0 129 0 27 0 106 0-19 0-1 0-32 0 5 1 11 0 43 0 10 0-53 0-51 0 138 0-94 0 135 0-186 0-163 1 302 0-298 0 83 0 189 0-53 0-36 0-91 0 242 0-135 0-121 1 190 0-34 0 67 0 98 0-42 0-78 0-208 0-42 0 236 0-10 0-59 1 24 0 45 0-92 0 91 0-142 0 220 0-77 0-254 0 205 0 113 1-91 0-62 0-17 0 33 0-137 0 256 0-165 0 132 0-28 0-167 1 129 0 213 0-164 0-157 0 213 0-40 0 2 0-115 0 84 0 119 0-133 1 167 0-302 0 212 0-212 0-73 0 211 0 208 0-271 0-64 0 157 1 9 0-52 0 20 0-25 0 42 0-13 0 35 0-155 0 83 0 125 0 198 1-205 0-192 0 177 0-38 0-1 0-203 0 264 0 66 0-22 0 43 1-279 0 258 0-218 0 61 0 25 0-93 0 230 0-188 0 77 0-33 0 114 1-84 0 61 0-81 0-93 0 19 0 103 0 16 0-159 0-56 1 57 0 229 0-84 0-59 0-54 0-107 0 256 0-101 0-110 0 176 0-158 1 203 0-145 0 89 0 121 0-60 0-158 0 200 0 144 0-276 0-16 0 111 1-398 0 195 0 73 0 174 0-68 0 45 0-31 0-122 0 46 0-68 1 141 0-276 0 271 0 0 0-31 0-23 0-247 0 218 0 101 0-183 1 245 0-392 0 262 0 12 0 74 0-82 0-106 0-23 0 129 1 209 0-321 0 2 0 22 0 136 0-266 0 175 0 9 0-55 0-81 0-29 1 240 0 16 0-3 0-28 0-232 0 131 0-58 0 284 0-447 1 402 0-228 0-70 0 281 0 95 0-257 0 192 0-131 0-6 0-153 1 46 0 78 0-90 0 45 0-14 0-10 0 160 0 47 0-216 0 91 1 95 0-15 0-215 0 312 0-193 0 80 0 87 0-177 0 34 0 48 0 58 1-147 0 7 0-45 0 144 0-140 0-33 0 101 0 87 0 118 0-373 0 76 1-10 0 74 0 11 0-89 0 38 0-68 0 261 0-130 0 89 1-213 0 74 0 64 0-79 0 123 0-97 0 79 0 130 0-146 0-275 0 328 1 98 0-287 0 112 0 53 0-56 0 71 0-201 0 69 0 140 1-365 0 325 0 153 0-347 0 149 0-40 0 129 0-23 0-136 0-169 0 169 1-18 0 205 0-262 0 124 0 38 0-45 0 80 0 61 0 146 0-296 1-38 0 166 0-220 0 200 0-3 0 99 0-217 0-62 0 69 0 123 0-2 1-5 0-276 0-51 0 193 0 80 0-81 0-41 0-91 0 311 0-132 1 11 0 196 0-185 0 146 0-252 0 71 0-37 0 30 0 76 0 139 0-1 1-254 0-260 0 310 0-50 0-22 0-3 0-2 0 6 0 106 0 23 1-116 0-9 0 225 0-430 0 446 0-164 0 104 0-289 0 240 0-94 1 43 0-42 0 2 0-54 0 162 0-164 0 134 0-45 0 39 0-141 0 135 1 39 0-99 0-34 0-12 0 64 0 14 0 148 0-298 0 133 1 96 0-175 0 121 0-40 0-81 0 103 0 75 0-90 0 12 0 160 1-191 0-62 0 156 0-105 0-20 0-9 0 52 0-27 0-66 1 33 0 253 0-322 0-13 0 352 0-15 0-132 0-97 0 50 0-110 1 28 0-67 0-61 0 249 0-144 0 173 0-94 0 134 0-254 0 123 1 25 0-149 0 136 0 63 0 167 0-132 0-301 0 315 0-250 0 199 0-224 1 122 0 87 0-9 0-83 0 78 0-173 0 5 0 407 0-317 0-14 1-57 0 128 0-99 0 147 0-3 0 0 0 11 0-180 0-28 0-66 0 172 1 78 0 92 0-294 0 81 0 35 0-8 0 7 0 43 0 84 1-289 0 142 0-22 0-34 0 293 0-138 0 12 0-238 0 220 0 81 1-75 0-59 0 52 0-163 0-50 0 163 0 154 0-244 0 303 0-35 1-197 0-100 0 11 0 140 0-111 0 226 0-25 0-177 0 136 0 31 1-99 0-196 0 102 0-93 0 183 0 7 0-121 0 302 0-244 0 314 0-229 1-72 0 27 0-73 0 46 0 187 0-26 0-427 0 457 0-112 0-17 1-50 0-58 0 278 0-174 0-229 0 40 0 124 0-80 0 0 0 244 0-166 1 171 0-234 0-147 0 222 0 86 0-203 0 286 0-105 0 108 1-256 0 96 0-273 0 148 0 269 0-101 0 20 0-284 0 249 0 122 0-69 1-60 0 62 0-73 0 169 0-259 0 57 0-20 0-108 0 95 0 150 0-81 1-56 0 148 0-136 0 9 0 13 0 95 0 32 0-176 0 210 0-175 1-53 0 202 0-151 0 51 0-94 0 195 0-39 0-30 0-110 0 179 1-16 0 38 0-346 0 301 0 2 0-110 0 81 0-17 0-60 0 25 1-218 0 114 0 107 0-65 0 124 0-19 0-202 0 275 0-74 0 13 0-130 1 88 0 71 0 60 0-74 0-165 0 7 0 80 0 49 0 38 1-150 0 288 0-295 0-99 0 192 0-224 0 330 0 17 0-259 0 69 0 23 1-142 0 58 0 9 0-22 0 124 0-54 0 261 0-100 0-225 1 38 0 185 0-154 0 54 0 117 0-14 0-70 0 173 0-272 0-36 0 82 1 40 0 11 0 129 0-74 0-42 0-143 0 163 0-196 0 138 0 78 1-117 0 107 0-118 0 58 0-158 0 18 0 76 0-88 0 148 0 151 1-102 0-99 0-9 0 97 0-161 0 7 0 120 0 40 0 153 0-289 1 128 0 23 0 31 0-143 0 107 0-64 0-105 0-56 0 118 0 320 1-209 0-9 0-105 0 162 0-337 0 268 0 13 0-23 0 91 0 6 0-99 1-131 0 141 0-55 0 104 0-185 0 35 0 135 0-56 0-66 0 94 1-45 0-43 0 207 0-161 0-35 0 124 0-216 0 154 0 271 0-285 0-94 1 66 0 3 0-23 0 226 0-9 0-66 0-69 0-117 1 31 0 66 0-208 0 210 0-108 0 143 0 3 0-104 0 279 0-310 0-13 1 23 0 115 0-165 0 132 0-82 0-67 0 210 0-34 0 22 0 32 1-270 0 138 0 155 0-37 0 71 0-128 0 55 0-44 0-22 1-53 0-128 0 155 0 49 0-122 0 79 0 62 0-37 0-58 0 148 0 3 1-213 0 125 0 12 0 89 0-277 0 166 0 17 0 55 0-206 0 231 1-219 0 90 0 108 0-124 0 39 0 16 0 68 0-46 0 48 0 62 1-248 0 253 0-158 0-90 0 123 0-5 0 15 0 109 0-224 1 199 0-132 0 31 0-103 0 100 0-75 0 102 0 10 0-124 0 41 0 66 1 18 0-118 0 1 0-28 0-35 0-31 0 98 0 228 0-85 0 101 1-283 0-14 0-22 0 69 0 126 0-93 0 236 0-132 0-184 0 94 0 77 1 53 0-129 0-58 0-21 0 88 0 34 0 31 0 108 0-135 0 95 1-173 0 103 0 37 0-196 0 138 0-53 0 121 0-54 0-68 0 120 0-153 1-22 0 2 0 160 0-184 0 210 0-221 0 133 0-74 0 34 0 83 0 92 1 0 0-298 0 39 0 284 0-220 0 70 0-109 0 251 0-115 0 92 1 24 0-255 0 144 0-154 0 87 0 146 0-145 0-12 0-173 0 177 1-151 0-43 0 160 0-28 0 93 0 13 0 1 0-180 0 112 1 175 0 102 0-154 0-51 0-14 0 96 0-33 0 43 0-216 0 107 0-34 1 16 0 65 0-128 0 77 0 14 0-36 0 40 0-110 0 153 1-141 0-109 0 228 0 50 0-59 0 18 0-174 0 90 0-92 0 67 1 107 0-71 0-102 0 79 0 92 0 30 0-61 0 45 0-239 1 312 0-205 0 121 0-78 0 76 0-119 0 95 0-18 0-128 0 178 0-66 1-76 0 223 0-146 0 41 0-219 0 71 0 124 0-84 0 230 0-27 0-164 1 103 0-82 0 126 0-177 0 92 0-45 0-154 0 229 0 80 0-117 1-235 0 233 0 49 0-41 0-1 0 25 0-39 0-117 0 80 0 6 0 30 1-50 0 130 0-173 0-116 0 99 0 103 0-102 0 98 0 47 0-56 1-13 0-86 0 32 0-26 0 83 0 154 0-68 0-122 0 100 0-108 0 156 1-182 0 180 0-150 0-31 0 75 0-117 0 26 0 99 0-107 1 82 0 8 0-58 0 57 0 205 0-104 0-229 0-26 0 24 0 194 0 116 1-199 0-105 0 124 0 161 0-214 0 47 0 58 0-111 0 170 0-192 1 106 0 65 0-236 0 139 0 142 0-204 0 57 0-82 0 238 0 5 1-112 0-13 0-102 0 31 0-80 0 95 0 14 0-51 0-39 0 25 1 160 0-135 0 31 0-6 0 132 0-280 0 101 0 140 0-50 0-55 1 34 0 54 0-88 0 111 0 17 0-86 0-137 0 54 0 174 0-237 0 93 1 47 0 114 0 61 0-135 0 124 0-129 0-142 0 193 0-209 0 29 1 11 0 109 0-90 0-54 0 89 0 67 0-201 0 160 0-106 0 17 0 113 1-21 0 251 0-206 0-245 0 240 0-18 0 6 0 31 0-76 0 85 1-239 0 198 0-22 0-184 0 258 0-213 0 67 0 171 0-142 0 99 0-31 1 26 0-39 0-66 0 233 0-168 0-42 0-8 0 65 0 87 0-130 1-11 0-46 0-103 0 118 0-94 0 144 0-111 0 113 0-45 0 49 0 4 1-96 0 33 0 75 0-51 0-92 0-8 0 163 0-53 1-16 0 9 0-61 0 53 0-115 0 94 0 97 0-41 0-156 0 266 0-148 1-156 0 91 0 259 0-128 0-206 0 349 0-237 0-88 0 223 0 20 0-109 1-78 0 57 0 3 0-37 0-24 0 131 0-27 0 19 0-86 0-56 1-65 0 198 0-42 0 170 0-56 0-118 0-116 0 30 0 202 0-76 0-205 1 112 0 13 0-15 0 66 0-63 0 15 0 110 0 79 0-152 0-119 1 203 0-84 0-33 0-69 0 82 0 123 0-154 0 106 0-58 0-117 0 67 1 56 0-142 0 118 0 127 0-30 0-147 0 22 0 232 0 33 0-224 1 10 0 195 0-215 0 9 0 170 0-112 0-154 0 139 0 62 0-70 0-194 1 329 0-165 0-55 0-21 0-55 0 296 0-288 0 2 0 98 1 70 0 74 0-28 0-34 0 18 0-119 0 189 0-120 0-129 0 148 0 43 1-303 0 103 0 255 0-183 0 0 0 53 0 4 0-130 0 112 0 2 0 84 1-212 0 102 0 21 0-17 0 65 0 37 0-4 0-288 0 185 0-25 1 1 0 110 0-22 0-61 0 37 0-6 0-135 0 66 0-24 0 73 0 145 1-33 0-291 0 400 0-284 0-74 0-5 0 13 0 250 0-137 0 167 1-155 0-52 0-38 0 205 0 2 0-68 0 74 0-213 0 36 0 53 0 24 1 117 0-213 0-107 0 233 0 28 0-92 0 86 0-22 0-71 1 71 0-83 0 103 0-97 0 170 0-289 0 10 0 180 0-48 0 163 0-102 1-211 0 223 0 141 0-160 0-80 0 118 0-45 0-39 0 24 0 91 1-174 0 5 0 74 0-36 0-193 0 191 0 80 0-118 0 230 0-217 0 179 1-29 0 12 0-119 0-38 0 83 0-97 0-5 0 95 0-156 0 2 1 101 0-68 0 24 0 229 0-174 0 201 0-218 0-6 0 79 0-131 1 218 0-234 0 61 0 102 0-62 0 122 0-140 0 54 0-194 0 287 0-224 1 103 0 147 0-65 0 13 0 210 0-176 0-95 0-63 0-64 1 291 0-116 0 82 0-51 0-135 0 101 0 37 0-72 0 43 0-103 0-166 1 185 0 16 0-50 0 113 0-99 0 91 0-128 0 8 0 163 0-176 1 58 0-15 0 85 0-35 0-55 0 79 0 7 0-99 0 132 0-71 0-43 1 147 0-108 0-69 0-15 0 202 0-31 0 38 0-85 0 81 0-184 1 104 0 4 0-178 0 313 0-213 0-47 0-26 0 59 0 103 0-203 0 186 1-160 0 101 0-80 0 180 0-9 0 186 0-282 0-97 0 180 0-162 1 26 0 44 0 68 0 40 0-101 0 5 0 112 0-109 0 76 0 47 0-49 1-28 0 53 0-141 0 100 0 103 0 89 0-94 0-111 0 142 0-22 0-167 1-82 0 82 0-261 0 488 0-71 0-340 0 318 0-77 0-131 0 152 1 30 0-28 0-56 0-18 0 102 0-74 0-182 0 168 0 97 0-138 0 204 1-121 0-32 0-113 0 40 0 112 0-49 0-88 0-3 0 93 1 51 0-79 0 227 0-4 0 10 0-218 0-43 0 123 0-112 0 84 0-207 1 279 0-71 0 10 0-97 0 121 0-47 0-33 0 47 0-96 0-202 1 308 0 174 0-389 0 191 0 26 0 11 0-6 0 114 0-348 0 17 1 344 0-166 0 76 0-45 0 8 0-51 0-8 0-10 0-98 0 185 1 123 0-251 0 58 0-51 0 142 0-30 0-148 0 186 0-90 0-97 0 141 1 40 0-285 0 236 0-56 0 45 0 42 0-126 0 71 0 77 0-179 1 218 0-53 0-45 0-202 0 82 0 16 0-2 0 34 0 79 0 22 1 124 0-53 0-103 0 4 0-105 0 131 0 110 0-325 0 195 0 166 0-386 1 287 0-182 0 260 0-131 0-4 0-27 0 187 0-296 0 75 0 67 1-6 0 76 0-15 0-84 0-57 0 68 0 18 0-165 0 321 0 52 0-258 1 17 0 97 0-137 0-27 0-36 0 115 0-124 0 48 0 69 0-18 1 162 0-313 0 91 0 151 0-222 0 315 0-317 0 97 0 73 0 75 1-185 0-26 0 145 0-88 0-136 0 323 0-243 0 199 0-183 1-36 0 132 0-111 0-156 0 411 0-361 0 189 0 57 0-20 0-100 0-127 1 149 0-12 0 108 0 66 0-217 0 125 0 228 0-280 0 78 0 33 0 3 1-202 0 207 0-152 0 116 0 70 0-274 0 75 0-86 0 151 0-70 1-143 0 266 0-147 0 79 0-46 0 168 0-67 0 159 0-225 0-10 1 108 0-229 0 104 0 28 0 140 0-110 0-110 0 192 0 0 1-63 0-8 0-73 0 39 0 139 0-193 0 60 0-40 0 177 0-82 0-36 1-46 0 28 0 155 0-283 0 177 0-20 0-160 0 185 0-28 1-78 0 16 0 186 0-133 0-154 0 228 0-233 0 57 0 39 0-74 1 216 0-74 0 49 0-138 0-57 0 141 0-60 0-71 0 147 0 25 1 228 0-183 0-132 0 92 0 28 0-262 0 128 0-63 0-20 0 81 1-71 0 221 0-233 0 151 0 88 0 120 0-381 0 294 0-262 0 203 1-124 0-100 0 118 0 117 0-91 0 2 0 97 0-84 0 80 0-85 0-87 1-61 0 210 0-75 0-107 0-42 0 69 0-94 0 70 0 220 0-60 0-291 1 251 0-52 0 119 0-53 0-59 0 83 0-326 0 298 0-214 1 274 0 4 0 74 0-136 0-41 0 143 0-28 0-346 0 191 0 26 0 30 1-98 0 189 0-27 0 7 0 50 0-72 0-204 0 141 0-100 0 201 1-234 0 80 0 20 0 116 0 116 0-230 0 92 0 13 0-64 0 66 0-280 1 196 0 37 0-78 0-55 0 192 0-75 0-1 0-119 0 112 0 76 1-139 0 31 0 1 0 21 0 145 0-120 0 21 0 17 0-53 0 80 0-52 1-8 0-124 0 32 0 58 0-72 0-20 0 29 0 26 0 45 1 122 0-126 0-155 0 86 0 61 0 82 0-43 0 54 0-134 0 53 0-238 1 326 0-13 0-219 0 108 0-78 0 105 0-18 0 71 0 221 0-278 0 274 1-377 0 47 0-32 0-94 0-65 0 225 0 21 0-5 0-108 0 340 1-175 0-31 0 23 0-164 0 78 0-12 0-37 0 91 0 28 0-123 0 204 1-102 0 169 0-102 0-115 0-65 0 240 0-174 0 140 0-83 1 28 0-186 0 247 0-74 0 71 0-159 0 43 0 200 0-175 0 127 0-251 1 64 0 113 0-10 0 100 0-87 0-169 0 249 0-96 0-99 1-98 0 70 0 68 0-112 0 162 0-232 0 93 0 29 0-15 0 59 1 11 0 178 0-128 0 65 0 82 0-194 0 97 0-28 0-199 0 68 1 82 0-2 0 37 0-48 0-39 0 133 0-113 0 94 0-21 0-88 1 101 0-89 0-22 0-149 0 186 0 78 0-44 0 8 0-128 0 0 0 216 1 37 0 9 0-359 0 148 0 88 0-94 0 61 0 109 0 111 1-138 0-171 0 13 0 87 0 88 0-327 0 211 0-39 0 66 0-148 1-59 0 259 0-222 0 139 0 40 0 40 0-159 0 90 0 53 0 98 1-240 0 140 0-15 0-98 0 74 0 7 0-90 0 98 0-35 0-79 0 32 1 28 0-7 0-101 0 58 0 152 0-152 0 110 0 85 0 9 1 102 0-175 0 121 0-266 0 133 0 30 0-10 0 11 0-50 0 63 0-74 1 16 0-15 0 191 0-109 0-168 0-53 0 106 0 134 0-29 0-292 1 414 0-214 0-102 0 287 0-71 0-116 0 188 0-73 0-104 0 113 0-176 1 133 0 7 0 124 0-174 0-81 0 54 0 156 0-140 0 94 0-89 0-35 1 92 0-111 0 88 0-25 0-35 0 55 0-99 0 169 0-195 0 198 1-15 0-58 0-148 0 49 0 188 0 31 0-9 0-140 0 94 0-202 0 49 1 95 0-53 0 73 0-9 0 120 0-81 0-24 0-312 1 326 0-3 0-273 0 270 0-245 0 70 0 290 0-131 0 231 0-282 0 59 1 55 0 4 0-319 0 59 0 75 0 61 0 16 0 33 0-48 1-72 0 25 0 76 0 73 0 95 0-268 0 69 0 2 0-49 0-176 0 349 1-97 0 0 0-183 0 218 0-69 0 148 0-177 0 122 0-65 0-52 1 70 0 14 0-129 0 205 0-102 0 108 0-288 0 226 0 54 0-129 0-45 1 104 0-130 0-18 0 212 0 29 0-56 0-17 0 80 0-101 0 83 1-31 0-247 0 142 0-72 0 236 0 38 0-159 0 18 0 83 1-133 0 80 0-46 0-233 0 247 0-56 0 217 0-261 0 174 0-68 0 60 1 42 0-10 0-224 0-58 0-2 0 255 0 25 0-196 0 143 0-159 1 58 0 2 0 99 0-25 0-146 0 202 0-70 0 54 0 36 0-267 0 234 1-84 0-54 0-11 0 61 0-102 0 43 0 83 0-113 0-32 0 25 1 95 0-49 0-72 0 161 0-31 0 128 0-193 0 68 0 89 0-262 1 384 0-119 0 36 0-178 0 155 0-2 0-97 0-92 0-9 1 90 0-44 0 83 0-104 0-8 0-42 0 206 0-120 0 148 0-75 0-152 1 254 0-196 0 2 0 127 0-79 0 37 0 140 0-260 0 191 0-159 1-3 0 60 0 58 0 31 0-37 0-1 0-98 0 35 0 189 1-177 0-47 0 28 0 91 0-28 0-226 0 107 0-1 0-135 0 303 0-163 1 11 0-16 0 222 0-70 0-68 0-81 0-35 0-45 0 105 0-128 1 175 0-52 0 2 0 188 0-82 0-105 0 136 0-63 0-54 0 25 1-69 0-23 0 86 0 3 0-167 0 81 0 4 0 130 0-131 0 30 1 228 0-136 0-187 0 15 0-84 0 119 0 184 0-86 0-62 0 3 0 76 1 20 0-10 0-176 0 150 0-260 0 220 0-4 0 183 1-16 0-129 0 123 0-134 0-15 0-87 0-26 0 153 0 130 0-111 0-204 1 176 0 80 0-7 0-182 0 8 0 102 0-265 0 145 0 111 0-116 1 153 0-81 0 141 0-227 0 70 0 33 0 154 0-192 0 49 0 28 0 26 1 105 0-185 0 189 0-137 0-5 0 85 0-309 0 420 0-278 0 98 0 107 1-114 0 146 0-254 0 17 0-25 0 116 0 102 0-224 0-63 1 97 0 28 0 156 0-101 0 135 0-93 0-26 0-116 0 43 0-151 0 163 1-30 0-2 0 30 0 31 0-114 0 129 0 31 0-11 0-247 0 129 1 43 0 42 0-159 0 426 0-251 0-33 0 87 0 8 0 46 0-219 0 43 1-69 0 190 0-6 0 48 0-218 0 176 0-186 0 24 0 93 0-86 1 40 0 15 0-70 0 19 0 64 0-60 0-45 0 244 0-151 0 65 1-103 0 110 0 50 0-60 0-155 0 115 0 70 0 132 0-197 0-20 1-61 0-96 0 96 0 78 0 2 0 157 0-113 0-129 0-116 0 120 0 139 1-88 0 132 0-81 0-24 0 41 0-105 0 189 0-110 0-76 1 176 0-384 0 297 0-22 0 16 0 88 0-177 0 150 0-197 0 107 1 104 0-219 0-104 0 207 0 58 0-157 0 3 0 190 0-67 0-212 0 197 1-194 0 166 0 116 0-239 0 113 0-151 0 234 0-70 0-62 1-14 0 23 0 72 0-27 0 126 0 13 0-71 0 22 0 191 0-299 0 68 1 120 0-238 0 91 0 35 0-150 0 70 0-155 0 175 0-18 0-85 1 207 0-82 0 117 0-289 0 64 0 311 0-201 0 3 0-113 0 171 1-212 0 208 0-166 0 168 0-44 0 89 0-107 0 181 0-99 0-184 1-12 0 48 0 53 0 242 0-418 0 252 0-137 0 49 0 45 0 112 1-253 0 193 0 29 0-69 0-47 0 3 0-90 0 181 0-17 0-179 1 196 0 8 0-48 0-33 0 59 0-275 0 133 0 186 0-65 0-109 0 131 1 7 0-351 0 169 0 205 0 8 0-47 0-67 0-12 0 84 0 94 0-99 1-109 0 50 0 208 0-88 0-213 0 30 0 40 0-122 0 98 0-20 1 24 0 24 0 73 0-68 0 3 0 83 0 23 0-34 0-21 0-154 0 90 1 3 0-42 0 14 0 70 0 48 0-149 0-7 0 197 0-180 0 86 1-114 0-65 0 111 0-74 0 137 0-40 0 26 0-121 0 159 0-6 0 148 1-234 0 145 0-56 0-186 0 6 0-56 0 352 0-204 0 165 0-32 1-179 0 113 0 156 0-120 0 34 0-40 0-10 0-108 0 130 0 99 1-146 0-41 0 215 0-39 0-165 0 49 0 61 0-237 0 31 0 65 1-222 0 276 0 29 0-195 0 248 0 129 0-148 0 23 0-138 0 51 0-17 1 4 0-95 0 214 0 1 0-46 0 38 0-167 0 179 0-238 0 267 0 40 1-137 0-208 0 207 0-59 0 96 0-107 0-60 0 128 0 50 0-248 1 259 0-17 0-88 0 99 0-112 0-155 0 114 0 130 0-150 0 328 0-303 1 101 0-99 0 198 0-83 0-207 0 142 0 64 0 99 0-170 0 56 1-163 0 267 0-200 0-90 0 67 0 277 0 9 0-120 0 91 0-101 1-105 0 99 0-2 0 35 0-285 0 222 0-2 0 3 0 48 0-202 1 183 0-93 0-77 0 204 0-81 0-26 0 14 0 81 0 108 0-246 1 135 0-16 0 52 0-169 0-112 0 146 0 122 0-107 0-39 0-113 1 135 0 81 0-5 0-54 0 61 0-84 0 46 0-6 0 59 0 47 0-123 1 149 0-167 0 101 0-221 0 84 0 121 0-165 0 124 0-113 0 95 0 37 1 121 0 94 0-264 0-94 0 109 0 260 0-324 0 36 0 106 1-78 0-17 0 91 0-207 0 266 0-315 0 135 0 85 0 45 1 24 0-122 0 46 0-48 0-173 0 163 0-38 0 30 0 59 1-128 0-49 0 250 0-227 0 18 0 251 0-187 0 171 0-195 0 269 1-239 0-23 0 111 0-52 0-82 0-70 0 238 0-72 0 78 0-62 1-3 0-50 0-17 0 188 0-26 0-106 0 33 0-95 0 127 0 12 0 25 1-52 0-124 0 22 0 65 0-32 0 107 0-25 0 98 0-203 0 147 1-101 0-115 0 325 0-143 0 50 0-117 0 220 0-232 0-123 0 292 0-152 1 6 0 24 0-31 0-152 0 32 0 318 0-190 0 109 0-8 0-86 1 67 0-241 0 156 0-77 0 124 0-98 0 96 0-11 0-45 0 25 1-158 0 138 0 150 0-103 0-16 0-72 0 45 0-151 0 89 0-14 0 55 1 133 0-81 0 86 0-35 0 84 0 24 0-221 0 182 0-101 0 8 1-246 0 206 0 164 0-105 0-50 0-30 0 104 0-6 0 26 1-220 0 242 0-211 0 25 0 34 0-112 0 333 0-298 0 35 0-177 1 152 0 10 0 97 0-200 0 81 0 244 0 1 0-104 0-174 0 317 0-94 1-99 0 4 0-176 0-13 0 139 0 85 0-83 0 71 0-107 0 222 1-252 0 222 0-201 0 131 0-134 0 217 0-23 0-134 0-32 0-139 1 49 0 126 0 65 0 28 0-197 0 201 0-2 0-3 0-91 0-55 1 362 0-358 0 246 0-309 0 41 0 115 0 67 0-175 0 52 0 75 0 67 1-149 0 21 0 67 0-81 0-52 0-254 0 293 0 63 0-91 0 341 0-325 1 0 0-5 0 46 0-36 0 107 0-86 0 218 0-205 0 268 0-397 1 217 0-18 0-126 0 346 0-170 0-112 0 9 0 79 0-2 0 15 0-35 1-91 0-133 0 247 0-224 0 21 0 87 0 291 0-347 0 75 1 77 0-128 0-96 0 220 0-50 0-52 0 216 0-180 0 62 0-40 0-78 1-70 0 169 0-83 0-34 0 75 0-90 0-92 0 261 0-89 0 193 1 8 0-379 0 430 0-404 0-2 0 137 0 6 0 14 0 234 0-226 1 33 0-1 0 159 0-183 0 104 0-193 0 184 0-194 0 73 0 32 1 37 0-284 0 226 0 229 0-205 0-102 0 146 0-48 0-207 0 140 0 72 1-273 0 112 0 8 0 348 0-92 0-226 0 115 0 8 0-168 0 184 1-12 0-86 0 49 0 32 0 54 0-324 0 197 0-17 0-29 0-16 1 172 0-76 0 16 0-75 0 161 0 38 0-235 0-54 0 127 0-19 1 153 0-13 0-80 0 72 0-81 0 38 0 139 0-73 0-109 0 199 1-136 0 53 0-30 0-15 0-100 0 157 0-2 0-92 0 46 0 4 0 56 1-128-1350-310 0 31 0 13 0 2 0 27 341-80 4 24-4 6 0 9 51-27 0 25 0 32 0 9 5 40 0 1"/>
<path transform="scale(.5)" fill="none" stroke="none" marker-start="url(#mr)" marker-mid="url(#mr)" marker-end="url(#mr)" d="M728 162l0 18 0 26 0 3 8 24-202 692 15 0 521-692 49-80-1-18 162 794 370-778 324 81 29 696"/>
<path transform="scale(.5)" fill="none" stroke="none" marker-start="url(#mb)" marker-mid="url(#mb)" marker-end="url(#mb)" d="M794 630l0-56 0 94 0 20 0-134 0 70 0-232 0 276 0-99 0 266 0-264 1 78 0 4 0-83 0 49 0 96 0-198 0 63 0 79 0-236 1 174 0-102 0-2 0 137 0-77 0 56 0 76 0-53 0-236 0 182 0-174 1 97 0 248 0-145 0-101 0 74 0-37 0 11 0 115 0-185 1-110 0 262 0-18 0-55 0-74 0 126 0-146 0 147 0 39 0 140 0-262 1-53 0 190 0-99 0 95 0 8 0-270 0 63 0 335 0-315 1 61 0-168 0 163 0 12 0 119 0-69 0 13 0 134 0-255 0 145 0-77 1-52 0 282 0-160 0 44 0-17 0 71 0-149 0 166 0-85 0 0 1-1 0-39 0-20 0-36 0-199 0 303 0-51 0 52 0-273 0 394 0-74 1-219 0 56 0 200 0-287 0 240 0-6 0-262 0 0 0 45 0 77 0-63 1 176 0-309 0 414 0-264 0-85 0 262 0-75 0-77 0-159 0 83 1-18 0 137 0-66 0-8 0-104 0 322 0-171 0 26 0 39 0-258 1 294 0-149 0 44 0-51 0 157 0 51 742-148 0 5 0 3 0 27 0 14 1-14 0 117 0-170 0-95 0 104 0 11 0-77 0 51 0-15 0 143 1-29 0 64 0-61 0 79 0-138 0 49 0-1 0-160 0 80 0 11 0 46 1-52 0 32 0-231 0 206 0 98 0 43 0-209 0 63 0-106 0 135 1 17 0 100 0-89 0-60 0 153 0-152 0 82 0 59 0-164 0 159 0-88 1-74 0-65 0-3 0 157 0-120 0 132 0-49 0-126 0 104 1 129 0-40 0 79 0-49 0-300 0 170 0 49 0 17 0-162 0 70 0 35 1 102 0-67 0-113 0 110 0 62 0-129 0 11 0 110 0-22 0-123 1-40 0 221 0-154 0 173 0-214 0 28 0 70 0 39 0 46 0 37 0-148 1 52 0-53 0-84 0 144 0-39 0 132 0-273 0 96 0 31 0-32 0 197 1-95 0-34 0-56 0 104 0-89 0 9 0 118 0-140 0 59 0-8 1-16 0 87 0-126 0-2 0 122 0-29 0 32 0-303 0 194 0 96 0 59 1-109 0-61 0 126 0-99 0 84 0 50 0-154 0 248 0-327 0 253 1-128"/>
<path d="M120 281.7L120.5 282.7L121 283.6L121.5 284.5L122 285.5L122.5 286.4L123 287.3L123.5 288.2L124 289.1L124.5 289.9L125.1 290.7L125.6 291.6L126.1 292.3L126.6 293.1L127.1 293.8L127.6 294.5L128.1 295.1L128.6 295.8L129.1 296.3L129.6 296.9L130.1 297.4L130.6 297.8L131.2 298.2L131.7 298.6L132.2 298.9L132.7 299.2L133.2 299.4L133.7 299.6L134.2 299.7L134.7 299.8L135.2 299.8L135.7 299.7L136.3 299.6L136.8 299.3L137.3 299L137.8 298.5L138.3 298L138.8 297.4L139.3 296.6L139.8 295.9L140.4 295L140.9 294.1L141.4 293.1L141.9 292.1L142.4 291.1L142.9 290L143.4 288.9L143.9 287.9L144.5 286.8L145 285.7L145.5 284.7L146 283.7L146.5 282.7L147 281.8L147.5 280.9L148 280.2L148.6 279.4L149.1 278.8L149.6 278.3L150.1 277.8L150.6 277.5L151.1 277.2L151.6 277.1L152.1 277L152.7 277.1L153.2 277.2L153.7 277.5L154.2 278L154.7 278.5L155.2 279.1L155.7 279.8L156.3 280.7L156.8 281.6L157.3 282.5L157.8 283.6L158.3 284.7L158.8 285.8L159.3 287L159.9 288.2L160.4 289.3L160.9 290.5L161.4 291.7L161.9 292.8L162.4 293.9L163 295L163.5 295.9L164 296.8L164.5 297.7L165 298.4L165.5 299L166 299.5L166.6 300L167.1 300.3L167.6 300.4L168.1 300.5L168.6 300.4L169.1 300.3L169.7 300L170.2 299.6L170.7 299.1L171.2 298.5L171.7 297.9L172.2 297.1L172.7 296.3L173.3 295.3L173.8 294.4L174.3 293.4L174.8 292.3L175.3 291.2L175.8 290.1L176.3 289L176.9 287.9L177.4 286.8L177.9 285.8L178.4 284.8L178.9 283.8L179.4 282.9L180 282L180.5 281.3L181 280.6L181.5 280L182 279.5L182.5 279.2L183 278.9L183.6 278.7L184.1 278.7L184.6 278.7L185.1 278.9L185.6 279.1L186.1 279.5L186.6 280L187.1 280.6L187.6 281.2L188.1 282L188.6 282.8L189.2 283.7L189.7 284.6L190.2 285.6L190.7 286.7L191.2 287.7L191.7 288.8L192.2 289.9L192.7 291L193.2 292L193.7 293L194.2 294L194.7 295L195.2 295.9L195.8 296.7L196.3 297.4L196.8 298.1L197.3 298.7L197.8 299.2L198.3 299.5L198.8 299.8L199.3 300L199.8 300L200.3 300L200.8 299.8L201.3 299.5L201.8 299.1L202.4 298.7L202.9 298.1L203.4 297.4L203.9 296.6L204.4 295.8L204.9 294.9L205.4 293.9L205.9 292.9L206.4 291.8L206.9 290.8L207.4 289.7L207.9 288.5L208.4 287.4L208.9 286.4L209.5 285.3L210 284.3L210.5 283.3L211 282.4L211.5 281.6L212 280.8L212.5 280.1L213 279.6L213.5 279.1L214 278.7L214.5 278.4L215 278.2L215.5 278.2L216.1 278.2L216.6 278.4L217.1 278.7L217.6 279.1L218.1 279.6L218.6 280.2L219.2 280.9L219.7 281.7L220.2 282.5L220.7 283.4L221.2 284.4L221.7 285.5L222.2 286.5L222.8 287.6L223.3 288.8L223.8 289.9L224.3 291L224.8 292.1L225.3 293.2L225.9 294.3L226.4 295.2L226.9 296.2L227.4 297L227.9 297.8L228.4 298.5L228.9 299.1L229.5 299.6L230 300L230.5 300.3L231 300.4L231.5 300.5L232 300.4L232.5 300.3L233.1 300L233.6 299.7L234.1 299.2L234.6 298.7L235.1 298L235.6 297.3L236.2 296.5L236.7 295.7L237.2 294.8L237.7 293.8L238.2 292.8L238.7 291.8L239.2 290.8L239.8 289.8L240.3 288.7L240.8 287.7L241.3 286.7L241.8 285.8L242.3 284.9L242.9 284L243.4 283.2L243.9 282.5L244.4 281.9L244.9 281.3L245.4 280.9L245.9 280.5L246.5 280.3L247 280.1L247.5 280.1L248 280.1L248.5 280.3L249 280.6L249.5 280.9L250 281.4L250.5 282L251 282.7L251.5 283.4L252.1 284.3L252.6 285.1L253.1 286.1L253.6 287.1L254.1 288.2L254.6 289.2L255.1 290.3L255.6 291.4L256.1 292.5L256.6 293.6L257.1 294.6L257.6 295.6L258.1 296.6L258.7 297.5L259.2 298.3L259.7 299.1L260.2 299.7L260.7 300.3L261.2 300.8L261.7 301.2L262.2 301.4L262.7 301.6L263.2 301.7L263.7 301.6L264.2 301.5L264.7 301.2L265.3 300.8L265.8 300.3L266.3 299.8L266.8 299.1L267.3 298.4L267.8 297.6L268.3 296.7L268.8 295.8L269.3 294.8L269.8 293.7L270.3 292.7L270.8 291.6L271.3 290.6L271.9 289.5L272.4 288.5L272.9 287.4L273.4 286.4L273.9 285.5L274.4 284.6L274.9 283.8L275.4 283.1L275.9 282.4L276.4 281.9L276.9 281.4L277.4 281L277.9 280.7L278.4 280.6L279 280.5L279.5 280.6L280 280.8L280.5 281.1L281 281.5L281.5 282L282 282.6L282.6 283.3L283.1 284.1L283.6 285L284.1 286L284.6 287L285.1 288L285.7 289.2L286.2 290.3L286.7 291.5L287.2 292.6L287.7 293.8L288.2 294.9L288.7 296L289.3 297.1L289.8 298.1L290.3 299.1L290.8 300L291.3 300.8L291.8 301.5L292.4 302.1L292.9 302.6L293.4 303L293.9 303.3L294.4 303.5L294.9 303.5L295.4 303.5L295.9 303.3L296.4 303L297 302.7L297.5 302.2L298 301.6L298.5 300.9L299 300.1L299.5 299.3L300 298.4L300.5 297.4L301 296.4L301.5 295.4L302 294.3L302.5 293.2L303 292.1L303.6 291L304.1 289.9L304.6 288.8L305.1 287.8L305.6 286.8L306.1 285.9L306.6 285.1L307.1 284.3L307.6 283.7L308.1 283.1L308.6 282.6L309.1 282.2L309.6 281.9L310.2 281.8L310.7 281.7L311.2 281.8L311.7 281.9L312.2 282.2L312.7 282.6L313.2 283.1L313.8 283.7L314.3 284.4L314.8 285.2L315.3 286L315.8 287L316.3 287.9L316.8 289L317.4 290.1L317.9 291.2L318.4 292.3L318.9 293.4L319.4 294.5L319.9 295.7L320.5 296.7L321 297.8L321.5 298.8L322 299.7L322.5 300.5L323 301.3L323.5 302L324.1 302.6L324.6 303.1L325.1 303.5L325.6 303.8L326.1 304L326.6 304L327.1 304L327.7 303.8L328.2 303.5L328.7 303.1L329.2 302.5L329.7 301.9L330.2 301.1L330.7 300.3L331.3 299.4L331.8 298.4L332.3 297.3L332.8 296.2L333.3 295L333.8 293.8L334.3 292.6L334.9 291.3L335.4 290.1L335.9 288.9L336.4 287.7L336.9 286.5L337.4 285.4L337.9 284.3L338.4 283.3L339 282.4L339.5 281.5L340 280.8L340.5 280.1L341 279.6L341.5 279.2L342 278.9L342.6 278.7L343.1 278.7L343.6 278.7L344.1 278.9L344.6 279.1L345.1 279.5L345.6 280L346.1 280.6L346.6 281.2L347.1 282L347.7 282.8L348.2 283.7L348.7 284.6L349.2 285.6L349.7 286.7L350.2 287.7L350.7 288.8L351.2 289.8L351.7 290.9L352.2 291.9L352.7 292.9L353.2 293.8L353.8 294.7L354.3 295.5L354.8 296.3L355.3 296.9L355.8 297.5L356.3 298L356.8 298.4L357.3 298.6L357.8 298.8L358.3 298.8L358.9 298.8L359.4 298.6L359.9 298.3L360.4 297.9L360.9 297.4L361.4 296.8L361.9 296.1L362.5 295.3L363 294.4L363.5 293.4L364 292.4L364.5 291.3L365 290.2L365.5 289.1L366.1 287.9L366.6 286.8L367.1 285.6L367.6 284.5L368.1 283.3L368.6 282.3L369.2 281.3L369.7 280.3L370.2 279.4L370.7 278.6L371.2 277.9L371.7 277.3L372.2 276.8L372.8 276.4L373.3 276.1L373.8 275.9L374.3 275.8L374.8 275.9L375.3 276.1L375.8 276.4L376.3 276.8L376.8 277.3L377.3 277.9L377.9 278.6L378.4 279.4L378.9 280.3L379.4 281.3L379.9 282.4L380.4 283.4L380.9 284.6L381.4 285.8L381.9 287L382.4 288.2L382.9 289.4L383.4 290.6L383.9 291.7L384.4 292.9L384.9 294L385.4 295L386 296L386.5 296.9L387 297.7L387.5 298.4L388 299L388.5 299.6L389 300L389.5 300.3L390 300.4L390.5 300.5L391 300.4L391.5 300.3L392 300L392.5 299.7L393 299.2L393.5 298.7L394 298.1L394.5 297.4L395 296.6L395.5 295.8L396 294.9L396.5 294L397 293L397.5 292L398 291L398.5 290L399 289L399.5 288L400 287L400.5 286.1L401 285.2L401.5 284.4L402 283.6L402.5 282.9L403 282.3L403.5 281.8L404 281.3L404.5 281L405 280.7L405.5 280.6L406 280.5L406.5 280.6L407 280.7L407.5 281L408.1 281.4L408.6 281.9L409.1 282.4L409.6 283.1L410.1 283.8L410.6 284.7L411.1 285.6L411.6 286.5L412.2 287.5L412.7 288.6L413.2 289.7L413.7 290.8L414.2 291.9L414.7 293.1L415.2 294.2L415.7 295.3L416.3 296.4L416.8 297.5L417.3 298.5L417.8 299.5L418.3 300.4L418.8 301.2L419.3 301.9L419.8 302.6L420.4 303.2L420.9 303.6L421.4 304L421.9 304.3L422.4 304.4L422.9 304.5L423.4 304.4L424 304.2L424.5 303.9L425 303.5L425.5 303L426 302.3L426.5 301.5L427 300.7L427.6 299.7L428.1 298.7L428.6 297.7L429.1 296.5L429.6 295.3L430.1 294.1L430.6 292.9L431.2 291.7L431.7 290.4L432.2 289.2L432.7 288L433.2 286.9L433.7 285.8L434.3 284.8L434.8 283.9L435.3 283L435.8 282.2L436.3 281.6L436.8 281.1L437.3 280.6L437.9 280.3L438.4 280.1L438.9 280.1L439.4 280.1L439.9 280.3L440.4 280.6L440.9 281.1L441.4 281.6L441.9 282.2L442.4 283L443 283.9L443.5 284.8L444 285.8L444.5 286.9L445 288L445.5 289.2L446 290.4L446.5 291.7L447 292.9L447.5 294.1L448 295.3L448.5 296.5L449 297.7L449.6 298.7L450.1 299.7L450.6 300.7L451.1 301.5L451.6 302.3L452.1 303L452.6 303.5L453.1 303.9L453.6 304.2L454.1 304.4L454.6 304.5L455.1 304.4L455.7 304.2L456.2 303.9L456.7 303.5L457.2 303L457.7 302.4L458.2 301.6L458.7 300.8L459.3 299.9L459.8 298.9L460.3 297.8L460.8 296.7L461.3 295.6L461.8 294.4L462.3 293.2L462.8 291.9L463.4 290.7L463.9 289.5L464.4 288.3L464.9 287.1L465.4 286L465.9 284.9L466.4 284L467 283L467.5 282.2L468 281.5L468.5 280.8L469 280.3L469.5 279.9L470 279.6L470.6 279.4L471.1 279.4L471.6 279.4L472.1 279.6L472.6 279.9L473.1 280.2L473.6 280.7L474.1 281.3L474.6 282L475.1 282.7L475.6 283.6L476.2 284.5L476.7 285.4L477.2 286.4L477.7 287.4L478.2 288.5L478.7 289.6L479.2 290.6L479.7 291.7L480.2 292.7L480.7 293.7L481.2 294.7L481.8 295.6L482.3 296.4L482.8 297.2L483.3 297.8L483.8 298.4L484.3 298.9L484.8 299.3L485.3 299.6L485.8 299.7L486.3 299.8L486.8 299.7L487.4 299.6L487.9 299.3L488.4 298.9L488.9 298.4L489.4 297.7L489.9 297L490.5 296.2L491 295.4L491.5 294.4L492 293.4L492.5 292.4L493 291.3L493.5 290.1L494.1 289L494.6 287.8L495.1 286.7L495.6 285.5L496.1 284.4L496.6 283.4L497.1 282.4L497.7 281.4L498.2 280.6L498.7 279.8L499.2 279L499.7 278.4L500.2 277.9L500.8 277.5L501.3 277.2L501.8 277.1L502.3 277L502.8 277.1L503.3 277.2L503.8 277.5L504.3 277.9L504.8 278.4L505.3 279L505.9 279.7L506.4 280.5L506.9 281.3L507.4 282.3L507.9 283.3L508.4 284.3L508.9 285.4L509.4 286.5L509.9 287.6L510.4 288.7L510.9 289.9L511.4 291L511.9 292L512.5 293.1L513 294.1L513.5 295L514 295.8L514.5 296.6L515 297.3L515.5 297.9L516 298.4L516.5 298.8L517 299.1L517.5 299.3L518 299.3L518.6 299.3L519.1 299.1L519.6 298.8L520.1 298.5L520.6 298L521.1 297.5L521.6 296.8L522.2 296.1L522.7 295.3L523.2 294.5L523.7 293.5L524.2 292.6L524.7 291.6L525.2 290.6L525.8 289.5L526.3 288.5L526.8 287.4L527.3 286.4L527.8 285.4L528.3 284.4L528.9 283.5L529.4 282.7L529.9 281.9L530.4 281.1L530.9 280.5L531.4 280L531.9 279.5L532.5 279.1L533 278.9L533.5 278.7L534 278.7L534.5 278.7L535 278.9L535.5 279.2L536 279.6L536.5 280.2L537.1 280.8L537.6 281.6L538.1 282.4L538.6 283.3L539.1 284.3L539.6 285.4L540.1 286.5L540.6 287.7L541.1 288.9L541.6 290.1L542.1 291.4L542.6 292.6L543.1 293.8L543.7 294.9L544.2 296.1L544.7 297.1L545.2 298.2L545.7 299.1L546.2 299.9L546.7 300.7L547.2 301.3L547.7 301.9L548.2 302.3L548.7 302.6L549.2 302.8L549.7 302.8L550.2 302.8L550.7 302.5L551.3 302.2L551.8 301.6L552.3 301L552.8 300.2L553.3 299.3L553.8 298.3L554.3 297.2L554.8 296L555.3 294.7L555.8 293.4L556.3 292.1L556.8 290.7L557.3 289.4L557.8 288.1L558.3 286.8L558.8 285.5L559.3 284.3L559.8 283.2L560.3 282.2L560.8 281.3L561.3 280.5L561.8 279.8L562.3 279.3L562.8 279L563.3 278.7L563.8 278.7L564.8 279.1L598.3 278.2L598.8 278.2L599.3 278.2L599.8 278.4L600.3 278.7L600.8 279.1L601.3 279.6L601.8 280.2L602.3 280.9L602.8 281.7L603.3 282.6L603.9 283.5L604.4 284.5L604.9 285.5L605.4 286.5L605.9 287.6L606.4 288.7L606.9 289.8L607.4 290.8L607.9 291.9L608.4 292.8L609 293.8L609.5 294.6L610 295.4L610.5 296.1L611 296.7L611.5 297.2L612 297.6L612.5 297.9L613 298.1L613.5 298.1L614.1 298.1L614.6 297.9L615.1 297.6L615.6 297.2L616.1 296.7L616.6 296L617.1 295.3L617.6 294.5L618.1 293.6L618.6 292.6L619.1 291.6L619.6 290.5L620.1 289.3L620.7 288.2L621.2 287L621.7 285.8L622.2 284.6L622.7 283.5L623.2 282.3L623.7 281.2L624.2 280.2L624.7 279.2L625.2 278.3L625.7 277.5L626.2 276.8L626.7 276.1L627.3 275.6L627.8 275.2L628.3 274.9L628.8 274.7L629.3 274.7L629.8 274.7L630.3 274.9L630.8 275.2L631.3 275.6L631.9 276.2L632.4 276.8L632.9 277.6L633.4 278.4L633.9 279.4L634.4 280.4L634.9 281.5L635.4 282.6L636 283.8L636.5 285.1L637 286.3L637.5 287.6L638 288.8L638.5 290.1L639 291.3L639.6 292.5L640.1 293.7L640.6 294.8L641.1 295.8L641.6 296.7L642.1 297.6L642.6 298.3L643.2 299L643.7 299.5L644.2 299.9L644.7 300.2L645.2 300.4L645.7 300.5L646.2 300.4L646.7 300.3L647.2 300L647.8 299.7L648.3 299.2L648.8 298.7L649.3 298L649.8 297.3L650.3 296.5L650.8 295.7L651.3 294.8L651.8 293.8L652.3 292.8L652.8 291.8L653.3 290.8L653.8 289.8L654.3 288.7L654.9 287.7L655.4 286.7L655.9 285.8L656.4 284.9L656.9 284L657.4 283.2L657.9 282.5L658.4 281.9L658.9 281.3L659.4 280.9L659.9 280.5L660.4 280.3L660.9 280.1L661.5 280.1L662 280.1L662.5 280.3L663 280.6L663.5 281L664 281.5L664.5 282.2L665.1 282.9L665.6 283.7L666.1 284.6L666.6 285.6L667.1 286.6L667.6 287.7L668.2 288.9L668.7 290L669.2 291.2L669.7 292.4L670.2 293.6L670.7 294.7L671.2 295.9L671.8 297L672.3 298L672.8 299L673.3 299.9L673.8 300.7L674.3 301.4L674.9 302.1L675.4 302.6L675.9 303L676.4 303.3L676.9 303.5L677.4 303.5L677.9 303.5L678.5 303.3L679 303L679.5 302.7L680 302.2L680.5 301.6L681 300.9L681.5 300.1L682 299.3L682.6 298.3L683.1 297.3L683.6 296.3L684.1 295.2L684.6 294.1L685.1 293L685.6 291.8L686.2 290.7L686.7 289.5L687.2 288.4L687.7 287.3L688.2 286.3L688.7 285.3L689.2 284.4L689.8 283.5L690.3 282.7L690.8 282L691.3 281.4L691.8 281L692.3 280.6L692.8 280.3L693.4 280.1L693.9 280.1L694.4 280.1L694.9 280.3L695.4 280.6L695.9 281L696.4 281.5L696.9 282.1L697.4 282.8L697.9 283.6L698.4 284.5L698.9 285.4L699.4 286.4L700 287.5L700.5 288.6L701 289.7L701.5 290.9L702 292L702.5 293.2L703 294.3L703.5 295.4L704 296.5L704.5 297.5L705 298.4L705.5 299.3L706 300.1L706.6 300.8L707.1 301.4L707.6 301.9L708.1 302.3L708.6 302.6L709.1 302.8L709.6 302.8L710.1 302.8L710.6 302.6L711.1 302.3L711.7 301.9L712.2 301.4L712.7 300.8L713.2 300.1L713.7 299.3L714.2 298.4L714.8 297.5L715.3 296.5L715.8 295.4L716.3 294.3L716.8 293.2L717.3 292L717.8 290.9L718.4 289.7L718.9 288.6L719.4 287.5L719.9 286.4L720.4 285.4L720.9 284.5L721.4 283.6L722 282.8L722.5 282.1L723 281.5L723.5 281L724 280.6L724.5 280.3L725.1 280.1L725.6 280.1L726.1 280.1L726.6 280.3L727.1 280.5L727.6 280.9L728.1 281.3L728.6 281.9L729.1 282.5L729.6 283.2L730.1 284L730.6 284.9L731.2 285.8L731.7 286.7L732.2 287.7L732.7 288.7L733.2 289.8L733.7 290.8L734.2 291.8L734.7 292.8L735.2 293.8L735.7 294.8L736.2 295.7L736.7 296.5L737.2 297.3L737.8 298L738.3 298.7L738.8 299.2L739.3 299.7L739.8 300L740.3 300.3L740.8 300.4L741.3 300.5L741.8 300.4L742.3 300.2L742.9 299.9L743.4 299.5L743.9 298.9L744.4 298.2L744.9 297.5L745.4 296.6L745.9 295.6L746.5 294.6L747 293.5L747.5 292.3L748 291.1L748.5 289.8L749 288.6L749.5 287.3L750.1 286L750.6 284.8L751.1 283.6L751.6 282.4L752.1 281.3L752.6 280.2L753.2 279.3L753.7 278.4L754.2 277.6L754.7 276.9L755.2 276.4L755.7 275.9L756.2 275.6L756.8 275.4L757.3 275.4L757.8 275.4L758.3 275.6L758.8 275.9L759.3 276.3L759.8 276.8L760.4 277.3L760.9 278L761.4 278.8L761.9 279.7L762.4 280.6L762.9 281.6L763.4 282.6L764 283.7L764.5 284.8L765 286L765.5 287.1L766 288.3L766.5 289.4L767 290.5L767.6 291.6L768.1 292.6L768.6 293.6L769.1 294.6L769.6 295.4L770.1 296.2L770.6 296.9L771.1 297.5L771.7 298L772.2 298.3L772.7 298.6L773.2 298.8L773.7 298.8L774.2 298.8L774.7 298.6L775.2 298.3L775.7 297.9L776.3 297.4L776.8 296.8L777.3 296.1L777.8 295.3L778.3 294.4L778.8 293.4L779.3 292.4L779.8 291.3L780.3 290.2L780.8 289.1L781.3 287.9L781.8 286.8L782.3 285.6L782.9 284.5L783.4 283.3L783.9 282.3L784.4 281.3L784.9 280.3L785.4 279.4L785.9 278.6L786.4 277.9L786.9 277.3L787.4 276.8L787.9 276.4L788.4 276.1L788.9 275.9L789.5 275.8L790 275.9L790.5 276.1L791 276.4L791.5 276.8L792 277.4L792.5 278L793.1 278.8L793.6 279.7L794.1 280.6L794.6 281.6L795.1 282.7L795.6 283.9L796.1 285.1L796.7 286.3L797.2 287.5L797.7 288.8L798.2 290L798.7 291.3L799.2 292.4L799.8 293.6L800.3 294.7L800.8 295.7L801.3 296.7L801.8 297.5L802.3 298.3L802.8 298.9L803.4 299.5L803.9 299.9L804.4 300.2L804.9 300.4L805.4 300.5L805.9 300.4L806.4 300.3L806.9 300L807.5 299.6L808 299.2L808.5 298.6L809 297.9L809.5 297.2L810 296.4L810.5 295.5L811 294.6L811.5 293.6L812 292.6L812.5 291.5L813 290.5L813.5 289.4L814 288.3L814.6 287.3L815.1 286.3L815.6 285.3L816.1 284.3L816.6 283.5L817.1 282.6L817.6 281.9L818.1 281.3L818.6 280.7L819.1 280.2L819.6 279.8L820.1 279.6L820.6 279.4L821.2 279.4L821.7 279.4L822.2 279.6L822.7 279.8L823.2 280.2L823.7 280.7L824.2 281.3L824.8 281.9L825.3 282.6L825.8 283.5L826.3 284.3L826.8 285.3L827.3 286.3L827.9 287.3L828.4 288.3L828.9 289.4L829.4 290.5L829.9 291.5L830.4 292.6L830.9 293.6L831.5 294.6L832 295.5L832.5 296.4L833 297.2L833.5 297.9L834 298.6L834.5 299.2L835.1 299.6L835.6 300L836.1 300.3L836.6 300.4L837.1 300.5L837.6 300.4L838.2 300.3L838.7 300L839.2 299.6L839.7 299.1L840.2 298.5L840.7 297.9L841.2 297.1L841.8 296.3L842.3 295.3L842.8 294.4L843.3 293.4L843.8 292.3L844.3 291.2L844.9 290.1L845.4 289L845.9 287.9L846.4 286.8L846.9 285.8L847.4 284.8L847.9 283.8L848.5 282.9L849 282L849.5 281.3L850 280.6L850.5 280L851 279.5L851.5 279.2L852.1 278.9L852.6 278.7L853.1 278.7L853.6 278.7L854.1 278.9L854.6 279.2L855.1 279.6L855.6 280.2L856.1 280.8L856.6 281.6L857.2 282.4L857.7 283.3L858.2 284.3L858.7 285.4L859.2 286.5L859.7 287.7L860.2 288.9L860.7 290.1L861.2 291.4L861.7 292.6L862.2 293.8L862.7 294.9L863.2 296.1L863.8 297.1L864.3 298.2L864.8 299.1L865.3 299.9L865.8 300.7L866.3 301.3L866.8 301.9L867.3 302.3L867.8 302.6L868.3 302.8L868.8 302.8L869.3 302.8L869.9 302.6L870.4 302.3L870.9 301.9L871.4 301.4L871.9 300.8L872.4 300.1L873 299.3L873.5 298.4L874 297.5L874.5 296.5L875 295.4L875.5 294.3L876 293.2L876.6 292L877.1 290.9L877.6 289.7L878.1 288.6L878.6 287.5L879.1 286.4L879.6 285.4L880.2 284.5L880.7 283.6L881.2 282.8L881.7 282.1L882.2 281.5L882.7 281L883.3 280.6L883.8 280.3L884.3 280.1L884.8 280.1L885.3 280.1L885.8 280.3L886.3 280.6L886.8 281.1L887.3 281.6L887.8 282.2L888.4 283L888.9 283.9L889.4 284.8L889.9 285.8L890.4 286.9L890.9 288L891.4 289.2L891.9 290.4L892.4 291.7L892.9 292.9L893.4 294.1L893.9 295.3L894.4 296.5L895 297.7L895.5 298.7L896 299.7L896.5 300.7L897 301.5L897.5 302.3L898 303L898.5 303.5L899 303.9L899.5 304.2L900 304.4L900.5 304.5L901.1 304.4L901.6 304.3L902.1 304L902.6 303.6L903.1 303.1L903.6 302.4L904.1 301.7L904.7 300.9L905.2 300.1L905.7 299.1L906.2 298.1L906.7 297.1L907.2 296L907.7 294.8L908.3 293.7L908.8 292.5L909.3 291.4L909.8 290.2L910.3 289.1L910.8 288.1L911.4 287.1L911.9 286.1L912.4 285.2L912.9 284.5L913.4 283.7L913.9 283.1L914.4 282.6L915 282.2L915.5 281.9L916 281.8L916.5 281.7L917 281.8L917.5 281.9L918 282.2L918.5 282.6L919 283.1L919.6 283.7L920.1 284.3L920.6 285.1L921.1 285.9L921.6 286.8L922.1 287.8L922.6 288.8L923.1 289.9L923.6 291L924.1 292.1L924.6 293.2L925.1 294.3L925.6 295.4L926.1 296.4L926.7 297.4L927.2 298.4L927.7 299.3L928.2 300.1L928.7 300.9L929.2 301.6L929.7 302.2L930.2 302.7L930.7 303L931.2 303.3L931.7 303.5L932.2 303.5L932.8 303.5L933.3 303.3L933.8 302.9L934.3 302.4L934.8 301.8L935.3 301L935.8 300.1L936.4 299.1L936.9 298.1L937.4 296.9L937.9 295.6L938.4 294.3L938.9 292.9L939.4 291.4L939.9 290L940.5 288.5L941 287L941.5 285.6L942 284.2L942.5 282.8L943 281.4L943.5 280.2L944.1 279L944.6 277.9L945.1 276.9L945.6 276L946.1 275.3L946.6 274.6L947.1 274.1L947.7 273.8L948.2 273.6L948.7 273.5L949.2 273.5L949.7 273.7L950.2 274L950.7 274.4L951.2 274.9L951.7 275.5L952.2 276.3L952.7 277.1L953.2 277.9L953.8 278.9L954.3 279.9L954.8 281L955.3 282.1L955.8 283.3L956.3 284.4L956.8 285.6L957.3 286.7L957.8 287.9L958.3 289L958.8 290.1L959.3 291.1L959.8 292L960.4 292.9L960.9 293.7L961.4 294.4L961.9 295.1L962.4 295.6L962.9 296L963.4 296.3L963.9 296.4L964.4 296.5L964.9 296.4L965.4 296.3L966 296L966.5 295.6L967 295.1L967.5 294.5L968 293.9L968.5 293.1L969.1 292.3L969.6 291.4L970.1 290.4L970.6 289.4L971.1 288.3L971.6 287.2L972.1 286.1L972.7 285L973.2 283.9L973.7 282.8L974.2 281.8L974.7 280.8L975.2 279.8L975.7 278.9L976.3 278.1L976.8 277.3L977.3 276.6L977.8 276L978.3 275.5L978.8 275.2L979.4 274.9L979.9 274.7L980.4 274.7L980.9 274.7L981.4 274.9L981.9 275.3L982.4 275.7L983 276.3L983.5 277L984 277.8L984.5 278.7L985 279.7L985.5 280.7L986.1 281.9L986.6 283.1L987.1 284.3L987.6 285.6L988.1 286.9L988.6 288.2L989.1 289.5L989.7 290.8L990.2 292.1L990.7 293.3L991.2 294.4L991.7 295.5L992.2 296.5L992.7 297.4L993.3 298.2L993.8 298.9L994.3 299.4L994.8 299.9L995.3 300.2L995.8 300.4L996.4 300.5L996.9 300.4L997.4 300.3L997.9 300L998.4 299.5L998.9 299L999.4 298.4L999.9 297.7L1000.4 296.8L1000.9 295.9L1001.4 295L1001.9 293.9L1002.4 292.8L1003 291.7L1003.5 290.5L1004 289.3L1004.5 288.2L1005 287L1005.5 285.8L1006 284.7L1006.5 283.6L1007 282.5L1007.5 281.6L1008 280.7L1008.5 279.8L1009 279.1L1009.6 278.5L1010.1 278L1010.6 277.5L1011.1 277.2L1011.6 277.1L1012.1 277L1012.6 277.1L1013.1 277.3L1013.6 277.6L1014.1 278.1L1014.7 278.7L1015.2 279.4L1015.7 280.2L1016.2 281.1L1016.7 282.2L1017.2 283.3L1017.7 284.5L1018.3 285.7L1018.8 287L1019.3 288.4L1019.8 289.7L1020.3 291.1L1020.8 292.5L1021.3 293.8L1021.9 295.2L1022.4 296.5L1022.9 297.7L1023.4 298.9L1023.9 300L1024.4 301.1L1024.9 302L1025.4 302.8L1026 303.5L1026.5 304.1L1027 304.6L1027.5 304.9L1028 305.1L1028.5 305.2L1029 305.1L1029.5 305L1030 304.7L1030.5 304.4L1031 303.9L1031.5 303.4L1032.1 302.8L1032.6 302.1L1033.1 301.3L1033.6 300.5L1034.1 299.7L1034.6 298.8L1035.1 297.9L1035.6 297" fill="none" stroke="#008000" stroke-opacity=".3" stroke-width="5.5" stroke-linejoin="round"/>
<path d="M564.8 279.1L598.3 278.2" fill="none" stroke="#008000" stroke-opacity=".3" stroke-width="8"/>
<path d="M120 281.7L120.5 282.7L121 283.6L121.5 284.5L122 285.5L122.5 286.4L123 287.3L123.5 288.2L124 289.1L124.5 289.9L125.1 290.7L125.6 291.6L126.1 292.3L126.6 293.1L127.1 293.8L127.6 294.5L128.1 295.1L128.6 295.8L129.1 296.3L129.6 296.9L130.1 297.4L130.6 297.8L131.2 298.2L131.7 298.6L132.2 298.9L132.7 299.2L133.2 299.4L133.7 299.6L134.2 299.7L134.7 299.8L135.2 299.8L135.7 299.7L136.3 299.6L136.8 299.3L137.3 299L137.8 298.5L138.3 298L138.8 297.4L139.3 296.6L139.8 295.9L140.4 295L140.9 294.1L141.4 293.1L141.9 292.1L142.4 291.1L142.9 290L143.4 288.9L143.9 287.9L144.5 286.8L145 285.7L145.5 284.7L146 283.7L146.5 282.7L147 281.8L147.5 280.9L148 280.2L148.6 279.4L149.1 278.8L149.6 278.3L150.1 277.8L150.6 277.5L151.1 277.2L151.6 277.1L152.1 277L152.7 277.1L153.2 277.2L153.7 277.5L154.2 278L154.7 278.5L155.2 279.1L155.7 279.8L156.3 280.7L156.8 281.6L157.3 282.5L157.8 283.6L158.3 284.7L158.8 285.8L159.3 287L159.9 288.2L160.4 289.3L160.9 290.5L161.4 291.7L161.9 292.8L162.4 293.9L163 295L163.5 295.9L164 296.8L164.5 297.7L165 298.4L165.5 299L166 299.5L166.6 300L167.1 300.3L167.6 300.4L168.1 300.5L168.6 300.4L169.1 300.3L169.7 300L170.2 299.6L170.7 299.1L171.2 298.5L171.7 297.9L172.2 297.1L172.7 296.3L173.3 295.3L173.8 294.4L174.3 293.4L174.8 292.3L175.3 291.2L175.8 290.1L176.3 289L176.9 287.9L177.4 286.8L177.9 285.8L178.4 284.8L178.9 283.8L179.4 282.9L180 282L180.5 281.3L181 280.6L181.5 280L182 279.5L182.5 279.2L183 278.9L183.6 278.7L184.1 278.7L184.6 278.7L185.1 278.9L185.6 279.1L186.1 279.5L186.6 280L187.1 280.6L187.6 281.2L188.1 282L188.6 282.8L189.2 283.7L189.7 284.6L190.2 285.6L190.7 286.7L191.2 287.7L191.7 288.8L192.2 289.9L192.7 291L193.2 292L193.7 293L194.2 294L194.7 295L195.2 295.9L195.8 296.7L196.3 297.4L196.8 298.1L197.3 298.7L197.8 299.2L198.3 299.5L198.8 299.8L199.3 300L199.8 300L200.3 300L200.8 299.8L201.3 299.5L201.8 299.1L202.4 298.7L202.9 298.1L203.4 297.4L203.9 296.6L204.4 295.8L204.9 294.9L205.4 293.9L205.9 292.9L206.4 291.8L206.9 290.8L207.4 289.7L207.9 288.5L208.4 287.4L208.9 286.4L209.5 285.3L210 284.3L210.5 283.3L211 282.4L211.5 281.6L212 280.8L212.5 280.1L213 279.6L213.5 279.1L214 278.7L214.5 278.4L215 278.2L215.5 278.2L216.1 278.2L216.6 278.4L217.1 278.7L217.6 279.1L218.1 279.6L218.6 280.2L219.2 280.9L219.7 281.7L220.2 282.5L220.7 283.4L221.2 284.4L221.7 285.5L222.2 286.5L222.8 287.6L223.3 288.8L223.8 289.9L224.3 291L224.8 292.1L225.3 293.2L225.9 294.3L226.4 295.2L226.9 296.2L227.4 297L227.9 297.8L228.4 298.5L228.9 299.1L229.5 299.6L230 300L230.5 300.3L231 300.4L231.5 300.5L232 300.4L232.5 300.3L233.1 300L233.6 299.7L234.1 299.2L234.6 298.7L235.1 298L235.6 297.3L236.2 296.5L236.7 295.7L237.2 294.8L237.7 293.8L238.2 292.8L238.7 291.8L239.2 290.8L239.8 289.8L240.3 288.7L240.8 287.7L241.3 286.7L241.8 285.8L242.3 284.9L242.9 284L243.4 283.2L243.9 282.5L244.4 281.9L244.9 281.3L245.4 280.9L245.9 280.5L246.5 280.3L247 280.1L247.5 280.1L248 280.1L248.5 280.3L249 280.6L249.5 280.9L250 281.4L250.5 282L251 282.7L251.5 283.4L252.1 284.3L252.6 285.1L253.1 286.1L253.6 287.1L254.1 288.2L254.6 289.2L255.1 290.3L255.6 291.4L256.1 292.5L256.6 293.6L257.1 294.6L257.6 295.6L258.1 296.6L258.7 297.5L259.2 298.3L259.7 299.1L260.2 299.7L260.7 300.3L261.2 300.8L261.7 301.2L262.2 301.4L262.7 301.6L263.2 301.7L263.7 301.6L264.2 301.5L264.7 301.2L265.3 300.8L265.8 300.3L266.3 299.8L266.8 299.1L267.3 298.4L267.8 297.6L268.3 296.7L268.8 295.8L269.3 294.8L269.8 293.7L270.3 292.7L270.8 291.6L271.3 290.6L271.9 289.5L272.4 288.5L272.9 287.4L273.4 286.4L273.9 285.5L274.4 284.6L274.9 283.8L275.4 283.1L275.9 282.4L276.4 281.9L276.9 281.4L277.4 281L277.9 280.7L278.4 280.6L279 280.5L279.5 280.6L280 280.8L280.5 281.1L281 281.5L281.5 282L282 282.6L282.6 283.3L283.1 284.1L283.6 285L284.1 286L284.6 287L285.1 288L285.7 289.2L286.2 290.3L286.7 291.5L287.2 292.6L287.7 293.8L288.2 294.9L288.7 296L289.3 297.1L289.8 298.1L290.3 299.1L290.8 300L291.3 300.8L291.8 301.5L292.4 302.1L292.9 302.6L293.4 303L293.9 303.3L294.4 303.5L294.9 303.5L295.4 303.5L295.9 303.3L296.4 303L297 302.7L297.5 302.2L298 301.6L298.5 300.9L299 300.1L299.5 299.3L300 298.4L300.5 297.4L301 296.4L301.5 295.4L302 294.3L302.5 293.2L303 292.1L303.6 291L304.1 289.9L304.6 288.8L305.1 287.8L305.6 286.8L306.1 285.9L306.6 285.1L307.1 284.3L307.6 283.7L308.1 283.1L308.6 282.6L309.1 282.2L309.6 281.9L310.2 281.8L310.7 281.7L311.2 281.8L311.7 281.9L312.2 282.2L312.7 282.6L313.2 283.1L313.8 283.7L314.3 284.4L314.8 285.2L315.3 286L315.8 287L316.3 287.9L316.8 289L317.4 290.1L317.9 291.2L318.4 292.3L318.9 293.4L319.4 294.5L319.9 295.7L320.5 296.7L321 297.8L321.5 298.8L322 299.7L322.5 300.5L323 301.3L323.5 302L324.1 302.6L324.6 303.1L325.1 303.5L325.6 303.8L326.1 304L326.6 304L327.1 304L327.7 303.8L328.2 303.5L328.7 303.1L329.2 302.5L329.7 301.9L330.2 301.1L330.7 300.3L331.3 299.4L331.8 298.4L332.3 297.3L332.8 296.2L333.3 295L333.8 293.8L334.3 292.6L334.9 291.3L335.4 290.1L335.9 288.9L336.4 287.7L336.9 286.5L337.4 285.4L337.9 284.3L338.4 283.3L339 282.4L339.5 281.5L340 280.8L340.5 280.1L341 279.6L341.5 279.2L342 278.9L342.6 278.7L343.1 278.7L343.6 278.7L344.1 278.9L344.6 279.1L345.1 279.5L345.6 280L346.1 280.6L346.6 281.2L347.1 282L347.7 282.8L348.2 283.7L348.7 284.6L349.2 285.6L349.7 286.7L350.2 287.7L350.7 288.8L351.2 289.8L351.7 290.9L352.2 291.9L352.7 292.9L353.2 293.8L353.8 294.7L354.3 295.5L354.8 296.3L355.3 296.9L355.8 297.5L356.3 298L356.8 298.4L357.3 298.6L357.8 298.8L358.3 298.8L358.9 298.8L359.4 298.6L359.9 298.3L360.4 297.9L360.9 297.4L361.4 296.8L361.9 296.1L362.5 295.3L363 294.4L363.5 293.4L364 292.4L364.5 291.3L365 290.2L365.5 289.1L366.1 287.9L366.6 286.8L367.1 285.6L367.6 284.5L368.1 283.3L368.6 282.3L369.2 281.3L369.7 280.3L370.2 279.4L370.7 278.6L371.2 277.9L371.7 277.3L372.2 276.8L372.8 276.4L373.3 276.1L373.8 275.9L374.3 275.8L374.8 275.9L375.3 276.1L375.8 276.4L376.3 276.8L376.8 277.3L377.3 277.9L377.9 278.6L378.4 279.4L378.9 280.3L379.4 281.3L379.9 282.4L380.4 283.4L380.9 284.6L381.4 285.8L381.9 287L382.4 288.2L382.9 289.4L383.4 290.6L383.9 291.7L384.4 292.9L384.9 294L385.4 295L386 296L386.5 296.9L387 297.7L387.5 298.4L388 299L388.5 299.6L389 300L389.5 300.3L390 300.4L390.5 300.5L391 300.4L391.5 300.3L392 300L392.5 299.7L393 299.2L393.5 298.7L394 298.1L394.5 297.4L395 296.6L395.5 295.8L396 294.9L396.5 294L397 293L397.5 292L398 291L398.5 290L399 289L399.5 288L400 287L400.5 286.1L401 285.2L401.5 284.4L402 283.6L402.5 282.9L403 282.3L403.5 281.8L404 281.3L404.5 281L405 280.7L405.5 280.6L406 280.5L406.5 280.6L407 280.7L407.5 281L408.1 281.4L408.6 281.9L409.1 282.4L409.6 283.1L410.1 283.8L410.6 284.7L411.1 285.6L411.6 286.5L412.2 287.5L412.7 288.6L413.2 289.7L413.7 290.8L414.2 291.9L414.7 293.1L415.2 294.2L415.7 295.3L416.3 296.4L416.8 297.5L417.3 298.5L417.8 299.5L418.3 300.4L418.8 301.2L419.3 301.9L419.8 302.6L420.4 303.2L420.9 303.6L421.4 304L421.9 304.3L422.4 304.4L422.9 304.5L423.4 304.4L424 304.2L424.5 303.9L425 303.5L425.5 303L426 302.3L426.5 301.5L427 300.7L427.6 299.7L428.1 298.7L428.6 297.7L429.1 296.5L429.6 295.3L430.1 294.1L430.6 292.9L431.2 291.7L431.7 290.4L432.2 289.2L432.7 288L433.2 286.9L433.7 285.8L434.3 284.8L434.8 283.9L435.3 283L435.8 282.2L436.3 281.6L436.8 281.1L437.3 280.6L437.9 280.3L438.4 280.1L438.9 280.1L439.4 280.1L439.9 280.3L440.4 280.6L440.9 281.1L441.4 281.6L441.9 282.2L442.4 283L443 283.9L443.5 284.8L444 285.8L444.5 286.9L445 288L445.5 289.2L446 290.4L446.5 291.7L447 292.9L447.5 294.1L448 295.3L448.5 296.5L449 297.7L449.6 298.7L450.1 299.7L450.6 300.7L451.1 301.5L451.6 302.3L452.1 303L452.6 303.5L453.1 303.9L453.6 304.2L454.1 304.4L454.6 304.5L455.1 304.4L455.7 304.2L456.2 303.9L456.7 303.5L457.2 303L457.7 302.4L458.2 301.6L458.7 300.8L459.3 299.9L459.8 298.9L460.3 297.8L460.8 296.7L461.3 295.6L461.8 294.4L462.3 293.2L462.8 291.9L463.4 290.7L463.9 289.5L464.4 288.3L464.9 287.1L465.4 286L465.9 284.9L466.4 284L467 283L467.5 282.2L468 281.5L468.5 280.8L469 280.3L469.5 279.9L470 279.6L470.6 279.4L471.1 279.4L471.6 279.4L472.1 279.6L472.6 279.9L473.1 280.2L473.6 280.7L474.1 281.3L474.6 282L475.1 282.7L475.6 283.6L476.2 284.5L476.7 285.4L477.2 286.4L477.7 287.4L478.2 288.5L478.7 289.6L479.2 290.6L479.7 291.7L480.2 292.7L480.7 293.7L481.2 294.7L481.8 295.6L482.3 296.4L482.8 297.2L483.3 297.8L483.8 298.4L484.3 298.9L484.8 299.3L485.3 299.6L485.8 299.7L486.3 299.8L486.8 299.7L487.4 299.6L487.9 299.3L488.4 298.9L488.9 298.4L489.4 297.7L489.9 297L490.5 296.2L491 295.4L491.5 294.4L492 293.4L492.5 292.4L493 291.3L493.5 290.1L494.1 289L494.6 287.8L495.1 286.7L495.6 285.5L496.1 284.4L496.6 283.4L497.1 282.4L497.7 281.4L498.2 280.6L498.7 279.8L499.2 279L499.7 278.4L500.2 277.9L500.8 277.5L501.3 277.2L501.8 277.1L502.3 277L502.8 277.1L503.3 277.2L503.8 277.5L504.3 277.9L504.8 278.4L505.3 279L505.9 279.7L506.4 280.5L506.9 281.3L507.4 282.3L507.9 283.3L508.4 284.3L508.9 285.4L509.4 286.5L509.9 287.6L510.4 288.7L510.9 289.9L511.4 291L511.9 292L512.5 293.1L513 294.1L513.5 295L514 295.8L514.5 296.6L515 297.3L515.5 297.9L516 298.4L516.5 298.8L517 299.1L517.5 299.3L518 299.3L518.6 299.3L519.1 299.1L519.6 298.8L520.1 298.5L520.6 298L521.1 297.5L521.6 296.8L522.2 296.1L522.7 295.3L523.2 294.5L523.7 293.5L524.2 292.6L524.7 291.6L525.2 290.6L525.8 289.5L526.3 288.5L526.8 287.4L527.3 286.4L527.8 285.4L528.3 284.4L528.9 283.5L529.4 282.7L529.9 281.9L530.4 281.1L530.9 280.5L531.4 280L531.9 279.5L532.5 279.1L533 278.9L533.5 278.7L534 278.7L534.5 278.7L535 278.9L535.5 279.2L536 279.6L536.5 280.2L537.1 280.8L537.6 281.6L538.1 282.4L538.6 283.3L539.1 284.3L539.6 285.4L540.1 286.5L540.6 287.7L541.1 288.9L541.6 290.1L542.1 291.4L542.6 292.6L543.1 293.8L543.7 294.9L544.2 296.1L544.7 297.1L545.2 298.2L545.7 299.1L546.2 299.9L546.7 300.7L547.2 301.3L547.7 301.9L548.2 302.3L548.7 302.6L549.2 302.8L549.7 302.8L550.2 302.8L550.7 302.5L551.3 302.2L551.8 301.6L552.3 301L552.8 300.2L553.3 299.3L553.8 298.3L554.3 297.2L554.8 296L555.3 294.7L555.8 293.4L556.3 292.1L556.8 290.7L557.3 289.4L557.8 288.1L558.3 286.8L558.8 285.5L559.3 284.3L559.8 283.2L560.3 282.2L560.8 281.3L561.3 280.5L561.8 279.8L562.3 279.3L562.8 279L563.3 278.7L563.8 278.7L564.8 279.1L598.3 278.2L598.8 278.2L599.3 278.2L599.8 278.4L600.3 278.7L600.8 279.1L601.3 279.6L601.8 280.2L602.3 280.9L602.8 281.7L603.3 282.6L603.9 283.5L604.4 284.5L604.9 285.5L605.4 286.5L605.9 287.6L606.4 288.7L606.9 289.8L607.4 290.8L607.9 291.9L608.4 292.8L609 293.8L609.5 294.6L610 295.4L610.5 296.1L611 296.7L611.5 297.2L612 297.6L612.5 297.9L613 298.1L613.5 298.1L614.1 298.1L614.6 297.9L615.1 297.6L615.6 297.2L616.1 296.7L616.6 296L617.1 295.3L617.6 294.5L618.1 293.6L618.6 292.6L619.1 291.6L619.6 290.5L620.1 289.3L620.7 288.2L621.2 287L621.7 285.8L622.2 284.6L622.7 283.5L623.2 282.3L623.7 281.2L624.2 280.2L624.7 279.2L625.2 278.3L625.7 277.5L626.2 276.8L626.7 276.1L627.3 275.6L627.8 275.2L628.3 274.9L628.8 274.7L629.3 274.7L629.8 274.7L630.3 274.9L630.8 275.2L631.3 275.6L631.9 276.2L632.4 276.8L632.9 277.6L633.4 278.4L633.9 279.4L634.4 280.4L634.9 281.5L635.4 282.6L636 283.8L636.5 285.1L637 286.3L637.5 287.6L638 288.8L638.5 290.1L639 291.3L639.6 292.5L640.1 293.7L640.6 294.8L641.1 295.8L641.6 296.7L642.1 297.6L642.6 298.3L643.2 299L643.7 299.5L644.2 299.9L644.7 300.2L645.2 300.4L645.7 300.5L646.2 300.4L646.7 300.3L647.2 300L647.8 299.7L648.3 299.2L648.8 298.7L649.3 298L649.8 297.3L650.3 296.5L650.8 295.7L651.3 294.8L651.8 293.8L652.3 292.8L652.8 291.8L653.3 290.8L653.8 289.8L654.3 288.7L654.9 287.7L655.4 286.7L655.9 285.8L656.4 284.9L656.9 284L657.4 283.2L657.9 282.5L658.4 281.9L658.9 281.3L659.4 280.9L659.9 280.5L660.4 280.3L660.9 280.1L661.5 280.1L662 280.1L662.5 280.3L663 280.6L663.5 281L664 281.5L664.5 282.2L665.1 282.9L665.6 283.7L666.1 284.6L666.6 285.6L667.1 286.6L667.6 287.7L668.2 288.9L668.7 290L669.2 291.2L669.7 292.4L670.2 293.6L670.7 294.7L671.2 295.9L671.8 297L672.3 298L672.8 299L673.3 299.9L673.8 300.7L674.3 301.4L674.9 302.1L675.4 302.6L675.9 303L676.4 303.3L676.9 303.5L677.4 303.5L677.9 303.5L678.5 303.3L679 303L679.5 302.7L680 302.2L680.5 301.6L681 300.9L681.5 300.1L682 299.3L682.6 298.3L683.1 297.3L683.6 296.3L684.1 295.2L684.6 294.1L685.1 293L685.6 291.8L686.2 290.7L686.7 289.5L687.2 288.4L687.7 287.3L688.2 286.3L688.7 285.3L689.2 284.4L689.8 283.5L690.3 282.7L690.8 282L691.3 281.4L691.8 281L692.3 280.6L692.8 280.3L693.4 280.1L693.9 280.1L694.4 280.1L694.9 280.3L695.4 280.6L695.9 281L696.4 281.5L696.9 282.1L697.4 282.8L697.9 283.6L698.4 284.5L698.9 285.4L699.4 286.4L700 287.5L700.5 288.6L701 289.7L701.5 290.9L702 292L702.5 293.2L703 294.3L703.5 295.4L704 296.5L704.5 297.5L705 298.4L705.5 299.3L706 300.1L706.6 300.8L707.1 301.4L707.6 301.9L708.1 302.3L708.6 302.6L709.1 302.8L709.6 302.8L710.1 302.8L710.6 302.6L711.1 302.3L711.7 301.9L712.2 301.4L712.7 300.8L713.2 300.1L713.7 299.3L714.2 298.4L714.8 297.5L715.3 296.5L715.8 295.4L716.3 294.3L716.8 293.2L717.3 292L717.8 290.9L718.4 289.7L718.9 288.6L719.4 287.5L719.9 286.4L720.4 285.4L720.9 284.5L721.4 283.6L722 282.8L722.5 282.1L723 281.5L723.5 281L724 280.6L724.5 280.3L725.1 280.1L725.6 280.1L726.1 280.1L726.6 280.3L727.1 280.5L727.6 280.9L728.1 281.3L728.6 281.9L729.1 282.5L729.6 283.2L730.1 284L730.6 284.9L731.2 285.8L731.7 286.7L732.2 287.7L732.7 288.7L733.2 289.8L733.7 290.8L734.2 291.8L734.7 292.8L735.2 293.8L735.7 294.8L736.2 295.7L736.7 296.5L737.2 297.3L737.8 298L738.3 298.7L738.8 299.2L739.3 299.7L739.8 300L740.3 300.3L740.8 300.4L741.3 300.5L741.8 300.4L742.3 300.2L742.9 299.9L743.4 299.5L743.9 298.9L744.4 298.2L744.9 297.5L745.4 296.6L745.9 295.6L746.5 294.6L747 293.5L747.5 292.3L748 291.1L748.5 289.8L749 288.6L749.5 287.3L750.1 286L750.6 284.8L751.1 283.6L751.6 282.4L752.1 281.3L752.6 280.2L753.2 279.3L753.7 278.4L754.2 277.6L754.7 276.9L755.2 276.4L755.7 275.9L756.2 275.6L756.8 275.4L757.3 275.4L757.8 275.4L758.3 275.6L758.8 275.9L759.3 276.3L759.8 276.8L760.4 277.3L760.9 278L761.4 278.8L761.9 279.7L762.4 280.6L762.9 281.6L763.4 282.6L764 283.7L764.5 284.8L765 286L765.5 287.1L766 288.3L766.5 289.4L767 290.5L767.6 291.6L768.1 292.6L768.6 293.6L769.1 294.6L769.6 295.4L770.1 296.2L770.6 296.9L771.1 297.5L771.7 298L772.2 298.3L772.7 298.6L773.2 298.8L773.7 298.8L774.2 298.8L774.7 298.6L775.2 298.3L775.7 297.9L776.3 297.4L776.8 296.8L777.3 296.1L777.8 295.3L778.3 294.4L778.8 293.4L779.3 292.4L779.8 291.3L780.3 290.2L780.8 289.1L781.3 287.9L781.8 286.8L782.3 285.6L782.9 284.5L783.4 283.3L783.9 282.3L784.4 281.3L784.9 280.3L785.4 279.4L785.9 278.6L786.4 277.9L786.9 277.3L787.4 276.8L787.9 276.4L788.4 276.1L788.9 275.9L789.5 275.8L790 275.9L790.5 276.1L791 276.4L791.5 276.8L792 277.4L792.5 278L793.1 278.8L793.6 279.7L794.1 280.6L794.6 281.6L795.1 282.7L795.6 283.9L796.1 285.1L796.7 286.3L797.2 287.5L797.7 288.8L798.2 290L798.7 291.3L799.2 292.4L799.8 293.6L800.3 294.7L800.8 295.7L801.3 296.7L801.8 297.5L802.3 298.3L802.8 298.9L803.4 299.5L803.9 299.9L804.4 300.2L804.9 300.4L805.4 300.5L805.9 300.4L806.4 300.3L806.9 300L807.5 299.6L808 299.2L808.5 298.6L809 297.9L809.5 297.2L810 296.4L810.5 295.5L811 294.6L811.5 293.6L812 292.6L812.5 291.5L813 290.5L813.5 289.4L814 288.3L814.6 287.3L815.1 286.3L815.6 285.3L816.1 284.3L816.6 283.5L817.1 282.6L817.6 281.9L818.1 281.3L818.6 280.7L819.1 280.2L819.6 279.8L820.1 279.6L820.6 279.4L821.2 279.4L821.7 279.4L822.2 279.6L822.7 279.8L823.2 280.2L823.7 280.7L824.2 281.3L824.8 281.9L825.3 282.6L825.8 283.5L826.3 284.3L826.8 285.3L827.3 286.3L827.9 287.3L828.4 288.3L828.9 289.4L829.4 290.5L829.9 291.5L830.4 292.6L830.9 293.6L831.5 294.6L832 295.5L832.5 296.4L833 297.2L833.5 297.9L834 298.6L834.5 299.2L835.1 299.6L835.6 300L836.1 300.3L836.6 300.4L837.1 300.5L837.6 300.4L838.2 300.3L838.7 300L839.2 299.6L839.7 299.1L840.2 298.5L840.7 297.9L841.2 297.1L841.8 296.3L842.3 295.3L842.8 294.4L843.3 293.4L843.8 292.3L844.3 291.2L844.9 290.1L845.4 289L845.9 287.9L846.4 286.8L846.9 285.8L847.4 284.8L847.9 283.8L848.5 282.9L849 282L849.5 281.3L850 280.6L850.5 280L851 279.5L851.5 279.2L852.1 278.9L852.6 278.7L853.1 278.7L853.6 278.7L854.1 278.9L854.6 279.2L855.1 279.6L855.6 280.2L856.1 280.8L856.6 281.6L857.2 282.4L857.7 283.3L858.2 284.3L858.7 285.4L859.2 286.5L859.7 287.7L860.2 288.9L860.7 290.1L861.2 291.4L861.7 292.6L862.2 293.8L862.7 294.9L863.2 296.1L863.8 297.1L864.3 298.2L864.8 299.1L865.3 299.9L865.8 300.7L866.3 301.3L866.8 301.9L867.3 302.3L867.8 302.6L868.3 302.8L868.8 302.8L869.3 302.8L869.9 302.6L870.4 302.3L870.9 301.9L871.4 301.4L871.9 300.8L872.4 300.1L873 299.3L873.5 298.4L874 297.5L874.5 296.5L875 295.4L875.5 294.3L876 293.2L876.6 292L877.1 290.9L877.6 289.7L878.1 288.6L878.6 287.5L879.1 286.4L879.6 285.4L880.2 284.5L880.7 283.6L881.2 282.8L881.7 282.1L882.2 281.5L882.7 281L883.3 280.6L883.8 280.3L884.3 280.1L884.8 280.1L885.3 280.1L885.8 280.3L886.3 280.6L886.8 281.1L887.3 281.6L887.8 282.2L888.4 283L888.9 283.9L889.4 284.8L889.9 285.8L890.4 286.9L890.9 288L891.4 289.2L891.9 290.4L892.4 291.7L892.9 292.9L893.4 294.1L893.9 295.3L894.4 296.5L895 297.7L895.5 298.7L896 299.7L896.5 300.7L897 301.5L897.5 302.3L898 303L898.5 303.5L899 303.9L899.5 304.2L900 304.4L900.5 304.5L901.1 304.4L901.6 304.3L902.1 304L902.6 303.6L903.1 303.1L903.6 302.4L904.1 301.7L904.7 300.9L905.2 300.1L905.7 299.1L906.2 298.1L906.7 297.1L907.2 296L907.7 294.8L908.3 293.7L908.8 292.5L909.3 291.4L909.8 290.2L910.3 289.1L910.8 288.1L911.4 287.1L911.9 286.1L912.4 285.2L912.9 284.5L913.4 283.7L913.9 283.1L914.4 282.6L915 282.2L915.5 281.9L916 281.8L916.5 281.7L917 281.8L917.5 281.9L918 282.2L918.5 282.6L919 283.1L919.6 283.7L920.1 284.3L920.6 285.1L921.1 285.9L921.6 286.8L922.1 287.8L922.6 288.8L923.1 289.9L923.6 291L924.1 292.1L924.6 293.2L925.1 294.3L925.6 295.4L926.1 296.4L926.7 297.4L927.2 298.4L927.7 299.3L928.2 300.1L928.7 300.9L929.2 301.6L929.7 302.2L930.2 302.7L930.7 303L931.2 303.3L931.7 303.5L932.2 303.5L932.8 303.5L933.3 303.3L933.8 302.9L934.3 302.4L934.8 301.8L935.3 301L935.8 300.1L936.4 299.1L936.9 298.1L937.4 296.9L937.9 295.6L938.4 294.3L938.9 292.9L939.4 291.4L939.9 290L940.5 288.5L941 287L941.5 285.6L942 284.2L942.5 282.8L943 281.4L943.5 280.2L944.1 279L944.6 277.9L945.1 276.9L945.6 276L946.1 275.3L946.6 274.6L947.1 274.1L947.7 273.8L948.2 273.6L948.7 273.5L949.2 273.5L949.7 273.7L950.2 274L950.7 274.4L951.2 274.9L951.7 275.5L952.2 276.3L952.7 277.1L953.2 277.9L953.8 278.9L954.3 279.9L954.8 281L955.3 282.1L955.8 283.3L956.3 284.4L956.8 285.6L957.3 286.7L957.8 287.9L958.3 289L958.8 290.1L959.3 291.1L959.8 292L960.4 292.9L960.9 293.7L961.4 294.4L961.9 295.1L962.4 295.6L962.9 296L963.4 296.3L963.9 296.4L964.4 296.5L964.9 296.4L965.4 296.3L966 296L966.5 295.6L967 295.1L967.5 294.5L968 293.9L968.5 293.1L969.1 292.3L969.6 291.4L970.1 290.4L970.6 289.4L971.1 288.3L971.6 287.2L972.1 286.1L972.7 285L973.2 283.9L973.7 282.8L974.2 281.8L974.7 280.8L975.2 279.8L975.7 278.9L976.3 278.1L976.8 277.3L977.3 276.6L977.8 276L978.3 275.5L978.8 275.2L979.4 274.9L979.9 274.7L980.4 274.7L980.9 274.7L981.4 274.9L981.9 275.3L982.4 275.7L983 276.3L983.5 277L984 277.8L984.5 278.7L985 279.7L985.5 280.7L986.1 281.9L986.6 283.1L987.1 284.3L987.6 285.6L988.1 286.9L988.6 288.2L989.1 289.5L989.7 290.8L990.2 292.1L990.7 293.3L991.2 294.4L991.7 295.5L992.2 296.5L992.7 297.4L993.3 298.2L993.8 298.9L994.3 299.4L994.8 299.9L995.3 300.2L995.8 300.4L996.4 300.5L996.9 300.4L997.4 300.3L997.9 300L998.4 299.5L998.9 299L999.4 298.4L999.9 297.7L1000.4 296.8L1000.9 295.9L1001.4 295L1001.9 293.9L1002.4 292.8L1003 291.7L1003.5 290.5L1004 289.3L1004.5 288.2L1005 287L1005.5 285.8L1006 284.7L1006.5 283.6L1007 282.5L1007.5 281.6L1008 280.7L1008.5 279.8L1009 279.1L1009.6 278.5L1010.1 278L1010.6 277.5L1011.1 277.2L1011.6 277.1L1012.1 277L1012.6 277.1L1013.1 277.3L1013.6 277.6L1014.1 278.1L1014.7 278.7L1015.2 279.4L1015.7 280.2L1016.2 281.1L1016.7 282.2L1017.2 283.3L1017.7 284.5L1018.3 285.7L1018.8 287L1019.3 288.4L1019.8 289.7L1020.3 291.1L1020.8 292.5L1021.3 293.8L1021.9 295.2L1022.4 296.5L1022.9 297.7L1023.4 298.9L1023.9 300L1024.4 301.1L1024.9 302L1025.4 302.8L1026 303.5L1026.5 304.1L1027 304.6L1027.5 304.9L1028 305.1L1028.5 305.2L1029 305.1L1029.5 305L1030 304.7L1030.5 304.4L1031 303.9L1031.5 303.4L1032.1 302.8L1032.6 302.1L1033.1 301.3L1033.6 300.5L1034.1 299.7L1034.6 298.8L1035.1 297.9L1035.6 297" fill="none" stroke="#008000" stroke-width="2.9" stroke-linejoin="round" stroke-linecap="square"/>
</g>
<path d="M176.7 512.6v-9.7M176.7 68.2v9.7M347.3 512.6v-9.7M347.3 68.2v9.7M517.8 512.6v-9.7M517.8 68.2v9.7M688.4 512.6v-9.7M688.4 68.2v9.7M859 512.6v-9.7M859 68.2v9.7M1029.6 512.6v-9.7M1029.6 68.2v9.7M108.5 512.6v-5.7M108.5 68.2v5.7M142.6 512.6v-5.7M142.6 68.2v5.7M210.8 512.6v-5.7M210.8 68.2v5.7M244.9 512.6v-5.7M244.9 68.2v5.7M279 512.6v-5.7M279 68.2v5.7M313.2 512.6v-5.7M313.2 68.2v5.7M381.4 512.6v-5.7M381.4 68.2v5.7M415.5 512.6v-5.7M415.5 68.2v5.7M449.6 512.6v-5.7M449.6 68.2v5.7M483.7 512.6v-5.7M483.7 68.2v5.7M552 512.6v-5.7M552 68.2v5.7M586.1 512.6v-5.7M586.1 68.2v5.7M620.2 512.6v-5.7M620.2 68.2v5.7M654.3 512.6v-5.7M654.3 68.2v5.7M722.5 512.6v-5.7M722.5 68.2v5.7M756.7 512.6v-5.7M756.7 68.2v5.7M790.8 512.6v-5.7M790.8 68.2v5.7M824.9 512.6v-5.7M824.9 68.2v5.7M893.1 512.6v-5.7M893.1 68.2v5.7M927.2 512.6v-5.7M927.2 68.2v5.7M961.4 512.6v-5.7M961.4 68.2v5.7M995.5 512.6v-5.7M995.5 68.2v5.7M1063.7 512.6v-5.7M1063.7 68.2v5.7M91.4 468.2h9.7M1063.7 468.2h-9.7M91.4 379.3h9.7M1063.7 379.3h-9.7M91.4 290.4h9.7M1063.7 290.4h-9.7M91.4 201.5h9.7M1063.7 201.5h-9.7M91.4 112.6h9.7M1063.7 112.6h-9.7M91.4 503.7h5.7M1063.7 503.7h-5.7M91.4 485.9h5.7M1063.7 485.9h-5.7M91.4 450.4h5.7M1063.7 450.4h-5.7M91.4 432.6h5.7M1063.7 432.6h-5.7M91.4 414.8h5.7M1063.7 414.8h-5.7M91.4 397.1h5.7M1063.7 397.1h-5.7M91.4 361.5h5.7M1063.7 361.5h-5.7M91.4 343.7h5.7M1063.7 343.7h-5.7M91.4 326h5.7M1063.7 326h-5.7M91.4 308.2h5.7M1063.7 308.2h-5.7M91.4 272.6h5.7M1063.7 272.6h-5.7M91.4 254.8h5.7M1063.7 254.8h-5.7M91.4 237.1h5.7M1063.7 237.1h-5.7M91.4 219.3h5.7M1063.7 219.3h-5.7M91.4 183.7h5.7M1063.7 183.7h-5.7M91.4 166h5.7M1063.7 166h-5.7M91.4 148.2h5.7M1063.7 148.2h-5.7M91.4 130.4h5.7M1063.7 130.4h-5.7M91.4 94.9h5.7M1063.7 94.9h-5.7M91.4 77.1h5.7M1063.7 77.1h-5.7" stroke="#000" stroke-width="1.3" fill="none"/>
<rect x="91.4" y="68.2" width="972.3" height="444.4" fill="none" stroke="#000" stroke-width="1.6"/>
<text x="176.7" y="537.2" font-size="23.2" text-anchor="middle">1685</text>
<text x="347.3" y="537.2" font-size="23.2" text-anchor="middle">1690</text>
<text x="517.8" y="537.2" font-size="23.2" text-anchor="middle">1695</text>
<text x="688.4" y="537.2" font-size="23.2" text-anchor="middle">1700</text>
<text x="859" y="537.2" font-size="23.2" text-anchor="middle">1705</text>
<text x="1029.6" y="537.2" font-size="23.2" text-anchor="middle">1710</text>
<text x="84.4" y="477.2" font-size="23.2" text-anchor="end">0.98</text>
<text x="84.4" y="388.3" font-size="23.2" text-anchor="end">0.99</text>
<text x="84.4" y="299.4" font-size="23.2" text-anchor="end">1.00</text>
<text x="84.4" y="210.5" font-size="23.2" text-anchor="end">1.01</text>
<text x="84.4" y="121.6" font-size="23.2" text-anchor="end">1.02</text>
<text x="20.6" y="289" font-size="26.9" text-anchor="middle" transform="rotate(-90 20.6 289)">Relative flux</text>
<text x="577.3" y="113.1" font-size="27.3" text-anchor="middle" font-weight="bold">s14</text>
<line x1="300.4" y1="86.3" x2="364.0" y2="113.0" stroke="#000" stroke-width="1.1"/>
<rect x="145.0" y="6.0" width="155.4" height="111.1" fill="#fff"/>
<clipPath id="ci"><rect x="145.0" y="6.0" width="155.4" height="111.1"/></clipPath>
<g clip-path="url(#ci)">
<path transform="scale(.5)" fill="none" stroke="none" marker-start="url(#mg)" marker-mid="url(#mg)" marker-end="url(#mg)" d="M290 191l2-10 2 5 2-17 3 4 2 24 2-16 2-16 2 5 2 18 3-7 2 7 2 3 2 2 2-21 2 0 3-3 2 9 2 1 2 1 2 7 2 17 2-9 3-39 2-7 2 21 2 11 2-3 2 24 3-27 2 11 2-15 2 6 2-4 2-3 3 10 2 4 2 11 2-7 2-9 2 5 2-29 3 23 2-40 2 56 2-39 2 49 2-24 3-2 2-8 2 29 2-30 2-3 2 17 3-2 2-14 2 11 39 1 2-12 2 28 2-7 2-16 3 15 2-15 2 6 2-12 2 0 2 20 2-19 3-2 2 25 2-15 2 16 2 0 2-26 3-13 2 25 2 8 2 2 2-16 2-13 3-2 2 31 2-20 2 22 2-14 2 7 2-23 3 20 2 14 2 14 2-17 2-21 2-13 3 8 2 4 2 11 2-7 2 8 2 8 3-23 2 22 2-21 2 26 2-21 2-8 2-5 3 29 2-13 2-14 2 29 2-27 2 7 3-3 2 12 2 1 2-8 2 18 2-28 3 11 2-9 2 15 2-13 2 1 2 9 2-14 3 20 2-7-157-58-3 6-5 2 13 16 4 12-46-6 4 6"/>
<path transform="scale(.5)" fill="none" stroke="none" marker-start="url(#mr)" marker-mid="url(#mr)" marker-end="url(#mr)" d="M424 35l3 5 2 14-7 10-2 18 13 0-2 14-15 3 2 5 22 0"/>
</g>
<path d="M222.7 117.1v-5.6M145.0 85.4h5.6" stroke="#000" stroke-width="1.1" fill="none"/>
<rect x="145.0" y="6.0" width="155.4" height="111.1" fill="none" stroke="#000" stroke-width="1.25"/>
<text x="145" y="136.7" font-size="17" text-anchor="middle">1690.4</text>
<text x="222.7" y="136.7" font-size="17" text-anchor="middle">1690.5</text>
<text x="300.4" y="136.7" font-size="17" text-anchor="middle">1690.6</text>
<text x="136.8" y="12.6" font-size="17" text-anchor="end">1.05</text>
<text x="136.8" y="91.7" font-size="17" text-anchor="end">1.00</text>
<clipPath id="c2"><rect x="91.4" y="563.3" width="972.3" height="443.8"/></clipPath>
<g clip-path="url(#c2)">
<path transform="scale(.5)" fill="none" stroke="none" marker-start="url(#mg)" marker-mid="url(#mg)" marker-end="url(#mg)" d="M317 1629l0-34 0-27 1-134 0 73 0 85 0 5 0-60 0 151 0-121 0 136 0-168 0 95 0-117 1 54 0-109 0-65 0 367 0-128 0 23 0-100 0-15 0 230 0-33 0-307 1 247 0-12 0-23 0-129 0 60 0 66 0-136 0-15 0 155 1-161 0 313 0-211 0-43 0 101 0-63 0-46 0 106 0-120 0 206 1-19 0-172 0-51 0 129 0 17 0 214 0-329 0 68 0 27 0-46 1-17 0-15 0 7 0-101 0 228 0-12 0 21 0-131 0 67 0-29 0 34 1-132 0 216 0-207 0-5 0 3 0 29 0 18 0 78 0-68 0-53 1 56 0-82 0 87 0-3 0 7 0-13 0-44 0 157 0-80 0 128 0-169 1 225 0-160 0 46 0 68 0-74 0-15 0-54 0 55 0-159 1 88 0 91 0-174 0 178 0-157 0 82 0 35 0 89 0-90 0-17 0 58 1-270 0 219 0 144 0-196 0 0 0-17 0 167 0-120 0 87 0 71 1-178 0 36 0 58 0 20 0-93 0 40 0-9 0-94 1 11 0-26 0 120 0-86 0 81 0-176 0 186 0-74 0 23 1 21 0 1 0-28 0 130 0-211 0-51 0 101 0 257 0-134 0-260 1 149 0-129 0 73 0 99 0-16 0 145 0-395 0 282 0-21 0 40 0-46 1 127 0-433 0 252 0 75 0 92 0-303 0 181 0 0 0 24 1 89 0-77 0 138 0-117 0-177 0 113 0-47 0 172 0-105 0 107 0-95 1-43 0 72 0 77 0-53 0-107 0 171 0-54 0-185 0 83 0-75 1 159 0 50 0-151 0-24 0 48 0 56 0-107 0 140 0-173 0 160 0-22 1 11 0-69 0 151 0-77 0-2 0 14 0-91 0-39 0 39 0 43 0-210 1 247 0-63 0-44 0 154 0-2 0-112 0-152 0 370 0-265 0 216 1-145 0-156 0 83 0 56 0 113 0-235 0 166 0-139 0-6 0 40 0-26 1 79 0 29 0-180 0 136 0-22 0-20 0-68 0 283 0-120 1 24 0-89 0-64 0 122 0-130 0 138 0-73 0 119 0-39 0-24 0-127 1 115 0-39 0 33 0-16 0 158 0-9 0-139 0-15 0 79 1 96 0-136 0 80 0-155 0 207 0-108 0 87 0-152 0 96 0-78 0 22 1 8 0 107 0-151 0-52 0 64 0 19 0-185 0 21 0 137 0 113 1-86 0 68 0-105 0 23 0 134 0-180 0 24 0 27 0 56 0-141 0 30 1-22 0 160 0 98 0-346 0 152 0 108 0-74 0 68 0-88 0 42 1 48 0-30 0-91 0-14 0 140 0-239 0 50 0 38 0 46 1 33 0 116 0-104 0-45 0-6 0-22 0 55 0-78 0 15 0 211 0-332 1 186 0-73 0 94 0-18 0 43 0-68 0 234 0-329 0 197 0-90 1-54 0 119 0 5 0 25 0 20 0-198 0 119 0-75 0 19 0-71 0 230 1-229 0 114 0-30 0 90 0-109 0-71 0 104 0 100 0-96 1 55 0-180 0 147 0-8 0-163 0 322 0-107 0-165 0 137 0-187 0 191 1-27 0 10 0-83 0 17 0-21 0 111 0-36 0-7 0-140 0 247 1-114 0-153 0 139 0 39 0 34 0-83 0-47 0 15 0 70 0-83 0-82 1 126 0 165 0-94 0-172 0 147 0-113 0 231 0-159 0-34 0 183 1-82 0-86 0-21 0-16 0 126 0-32 0 60 0-67 0-11 0-2 0 37 1 45 0-131 0 63 0-20 0-58 0 0 0 25 0 5 0-19 0-5 0 74 1-32 0 16 0-3 0-74 0 162 0-71 0 23 0-96 0 79 0-169 1 137 0-24 0-32 0 16 0-39 0 294 0-96 0 93 0-320 0 4 1 149 0-112 0 98 0 25 0-95 0 100 0-130 0 59 0-39 0 7 1 40 0-65 0 75 0-37 0-3 0 70 0 70 0 30 0-96 0 28 1-38 0-93 0 103 0-98 0 83 0-90 0-40 0 76 0 31 0-61 1 109 0 52 0-156 0 47 0-13 0-39 0 151 0 26 0 13 0-167 0-23 1 46 0-50 0 57 0-82 0 17 0-48 0 194 0-140 0 49 0 109 1-126 0 8 0 124 0-307 0 66 0 175 0 51 0-32 0 48 1-154 0 208 0 28 0-336 0 63 0 23 0 78 0 30 0 37 0 16 0-210 1 294 0-182 0-78 0 2 0 39 0 50 0-86 0 6 0 44 0-14 1-2 0 152 0-153 0-21 0 77 0 82 0-165 0 96 0 146 0-203 0 79 1-184 0 104 0 28 0-109 0 22 0 137 0-183 0 126 0-17 0-78 1 33 0-167 0 185 0 32 0 188 0-241 0 21 0 174 0-168 0 20 0-69 1 145 0 21 0 44 0-98 0-44 0-137 0 116 0-135 0 194 0 39 1 32 0-106 0 127 0-108 0 1 0-51 0 146 0 48 0-186 0 1 0 107 1-117 0 49 0-57 0 2 0 237 0-116 0-62 0 82 0-9 0-194 1 130 0-195 0 235 0-50 0-27 0 18 0-134 0 140 0-38 0 91 0 24 1-151 0-78 0 88 0 29 0 58 0 197 0-242 0 131 0-85 0 23 0 80 1 2 0-19 0 70 0-81 0-116 0-86 0 93 0-28 0 88 0-38 1 106 0-16 0-9 0-12 0-58 0 61 0-198 0 179 0 73 0-197 0 122 1-166 0-31 0 67 0 213 0-47 0-135 0 44 0 132 0-224 1-24 0 191 0-124 0 142 0-66 0 80 0-107 0 126 0-3 0-240 1 37 0 216 0-157 0 15 0 1 0 88 0-170 0 94 0-36 0 32 1-62 0-16 0 78 0 56 0-147 0 5 0 120 0-93 0 8 1-9 0 121 0-8 0-33 0-110 0 12 0-176 0 271 0-20 0-122 1 134 0-96 0 109 0-156 0 213 0-113 0 85 0-98 0-64 0 18 0 180 1-112 0 75 0-125 0 31 0 200 0-214 0 50 0-57 0 113 0-35 1 6 0-131 0 154 0-92 0-22 0-100 0 339 0-146 0-24 0-137 1 215 0-84 0 17 0 45 0-80 0 180 0-260 0 84 0 3 0 59 1-209 0 144 0 85 0 7 0-233 0 262 0 14 0-417 0 212 1 159 0-60 0-120 0 57 0 11 0-92 0 110 0 35 0-63 0 25 0-44 1-17 0-31 0 130 0 52 0-107 0 7 0-74 0-78 0 199 0 66 1-153 0-3 0 145 0-46 0 43 0-66 0-158 0 125 0 140 0-40 0-31 1-10 0-19 0-68 0 9 0-19 0 0 0 25 0 78 0-174 1 194 0-100 0-156 0 183 0-136 0 72 0 85 0-73 0 61 0 2 0-29 1 77 0-179 0 71 0 107 0-195 0 41 0 2 0 106 0-81 0 9 1 23 0-15 0-12 0 198 0-397 0 253 0-125 0 153 0 65 0-140 0 61 1-179 0 210 0-146 0 51 0 16 0 68 0-11 0 147 0-106 0 25 0-148 1 47 0 75 0 35 0-10 0-22 0 54 0-89 0 115 0-164 0 70 1-21 0 59 0-200 0 170 0-59 0 66 0-24 0-68 0 159 0-131 0-105 1 330 0-166 0-36 0 37 0-49 0-89 0 77 0 46 0 13 0-253 1 162 0-113 0 277 0-131 0 40 0 16 0-19 0-38 0-14 0-187 0 167 1-48 0 55 0 63 0-43 0-76 0-40 0 212 0-86 0-36 0-52 1 123 0-110 0 135 0-118 0 162 0-219 0 91 0-15 0-45 0-76 1 294 0-148 0 72 0-35 0-49 0-94 0 194 0 24 0-128 0 28 1 72 0 29 0-83 0 66 0-112 0 37 0 49 0-93 0 28 0 126 0-79 1-60 0 115 0-156 0 202 0-183 0 16 0-27 0-70 0 52 0-56 0 187 1-53 0-67 0 168 0-161 0 54 0-57 0 50 0 81 0 67 0-192 1 38 0 63 0-109 0 18 0 47 0 181 0-275 0 57 0 3 0 62 0 2 1-126 0 166 0-24 0-81 0-91 0 108 0 43 0-73 0 126 0-25 1 94 0-255 0 61 0 136 0-95 0 92 0-183 0 84 0 53 0 21 0 26 1-104 0 55 0 146 0-206 0-30 0 57 0 93 0-12 0 1 0-117 1 17 0-113 0 15 0 164 0-15 0 68 0-2 0-80 0 62 0 78 1-268 0 185 0-81 0-71 0 12 0 122 0-17 0-144 1 114 0 272 0-368 0 157 0-97 0-112 0 217 0-118 0-3 0-64 0 233 1-142 0 1 0 65 0-49 0 10 0-81 0 39 0 24 0 102 0-63 0 37 1-115 0 138 0-199 0 90 0-93 0 249 0-71 0-63 0-163 0 150 1 106 0-47 0 44 0-58 0-4 0-130 0 47 0 37 0 135 0-61 0-62 1 73 0 67 0-138 0 153 0-101 0 183 0-67 0-185 0-38 0 11 1 80 0 17 0-42 0-80 0 79 0 95 0 47 0-171 0-29 0-84 0 274 1-84 0-21 0 46 0-83 0-7 0-61 0 174 0-202 0 210 1-177 0 82 0 35 0-80 0-20 0 176 0-70 0-41 0-71 0 177 0-161 1 101 0 122 0-280 0 95 0-2 0-4 0-13 0-45 0 49 0 75 1-47 0-79 0 40 0 41 0-17 0 82 0-65 0 24 0 27 0 6 0-77 1-32 0-10 0-23 0 88 0-101 0-11 0 76 0 10 0 211 0-140 1-45 0 88 0 3 0 26 0-258 0 97 0 120 0 8 0-35 0-77 0-11 1 85 0 13 0-166 0 147 0 80 0-144 0-52 0 183 0-195 0 75 0 37 1-57 0 9 0 9 0 4 0-69 0 77 0 17 0-27 0-24 1 12 0 36 0-5 0 57 0-131 0 105 0 87 0-231 0 305 0-258 0 22 1 174 0-228 0 47 0 27 0-34 0 99 0-77 0 131 0-132 0-105 1 17 0 49 0 72 0 29 0-83 0 31 0 1 0 58 0 78 0-93 0 130 1-121 0 3 0 35 0 63 0-114 0 202 0-221 0-97 0-69 0 133 1 10 0-4 0 52 0-74 0 53 0 26 0-132 0-2 0 107 0-16 0 72 1-138 0 48 0 32 0-9 0-1 0-94 0 159 0-124 0 4 0 137 1-142 0 120 0-12 0-28 0-80 0 91 0-44 0 95 0-70 0-64 0 54 1 50 0-99 0 56 0 170 0-187 0 102 0-105 0-123 0 79 0 152 1-40 0-53 0-46 0 136 0-222 0 88 0 83 0 44 0-10 0-62 1-18 0-10 0 17 0-173 0 154 0 51 0 40 0-124 0 60 0-66 0 79 1-80 0 175 0-154 0 174 0 23 0-301 0 73 0 112 0-83 0-75 1 161 0 17 0-30 0-78 0-58 0 227 0-108 0-175 0 142 0-42 0 131 1-28 0-21 0-79 0-30 0-11 0 74 0-39 0-6 0 232 0-156 1 51 0-98 0 139 0-162 0-16 0 4 0 186 0-186 0-52 0 131 0 93 1-136 0 127 0-117 0 100 0-78 0 19 0-156 0 105 1 66 0-62 0 93 0-87 0 157 0-104 0-79 0 48 0-81 0 67 1 193 0-237 0 130 0-178 0 72 0 67 0-102 0-49 0 138 0-16 1 23 0-70 0 137 0-125 0 121 0-115 0 2 0-93 0-10 0-52 1 185 0 21 0 121 0-146 0-127 0 133 0-61 0-55 0 7 0 168 0 15 1-49 0-15 0-35 0 195 0-191 0 30 0-124 0 118 0 154 1-111 0-85 0 47 0 66 0-65 0 86 0-28 0-73 0-66 0-80 0 182 1 7 0-2 0-51 0-81 0 51 0-44 0 66 0-10 0-99 0 149 1-63 0-27 0 83 0-53 0 44 0-23 0-48 0 20 0 20 0-120 0 260 1-20 0 41 0-185 0 22 0 14 0 158 0 9 0-82 0-63 0-59 1-91 0 55 0 101 0-175 0 335 0-228 0-173 0 142 0 219 0-323 0 215 1 22 0-126 0-43 0 247 0-209 0-60 0 124 0 35 0 50 0-141 0-34 1 218 0-217 0 134 0-144 0 132 0 8 0-48 0 42 0-43 0-4 1 69 0 25 0-163 0 146 0-97 0 105 0-33 0-103 0-85 0 310 0-195 1 40 0-16 0-72 0 101 0 2 0-131 0 232 0-105 1-11 0-73 0-12 0 139 0-124 0 59 0 78 0-106 0-14 0 120 1-69 0-5 0 81 0-86 0 127 0-260 0 48 0 4 0 219 0-216 1 157 0-19 0-104 0 63 0 78 0-89 0 14 0 170 0-196 0-90 0 170 1-68 0 105 0-107 0 48 0-18 0 20 0 44 0-77 0-42 1-2 0 195 0-146 0-3 0 46 0 14 0 141 0-374 0 189 0-59 0 51 1-10 0 53 0-143 0 54 0 128 0-159 0 85 0-92 0-22 0 144 1-29 0-13 0 28 0-27 0-42 0 117 0 5 0-176 0 0 0 127 1-23 0-27 0-27 0-133 0 157 0 8 0-15 0-42 0-57 0 206 0-203 1 80 0 170 0-230 0 65 0-80 0 80 0 54 0-76 0-28 0 227 1-69 0-15 0-140 0 223 0 77 0-84 0-114 0-110 0 56 0 117 0 4 1-32 0-75 0-27 0-52 0 39 0 123 0-86 0-52 0 168 1-140 0-38 0 81 0 117 0-166 0 155 0-104 0 8 0 29 0-6 0-175 1 192 0-12 0-65 0-94 0 141 0 23 0-125 0 24 0 129 0-188 1 80 0 19 0-95 0-17 0 158 0-8 0 77 0-138 0 4 0 146 1-141 0 5 0-30 0 56 0-34 0-35 0 37 0-77 0-45 0 282 1-123 0-63 0 102 0 1 0 159 0-231 0-59 0-5 0 94 1-9 0-1 0 168 0-163 0-66 0 89 0-45 0-7 0 16 0-15 1-6 0 71 0-21 0-163 0 108 0-21 0 81 0-88 0 46 1 79 0 47 0-235 0 80 0 24 0 68 0-69 0 89 0-206 0 123 0-43 1 91 0-16 0-82 0-9 0 100 0-114 0 64 0-15 0-56 0 37 1 52 0-55 0-49 0 169 0-1 0-72 0 136 0-90 0-80 0 53 0-42 1-16 0 98 0-17 0-14 0-99 0 112 0 1 0 57 0-43 0-22 1 50 0-75 0-175 0 91 0 63 0-36 0 45 0-25 0 77 1-20 0-135 0 23 0 28 0 20 0 96 0-179 0 165 0 80 1-209 0-27 0 40 0-27 0 49 0 149 0 3 0-86 0-5 0-66 0-44 1 34 0 69 0 207 0-214 0 44 0 105 0-126 0 29 0-129 0 72 0 135 1-179 0 56 0-41 0 19 0-8 0-19 0 131 0-49 0 42 0-126 1-53 0 9 0 91 0 51 0-51 0 68 0 1 0-131 0 169 0-36 0-20 1-91 0 27 0 80 0 58 0-23 0-155 0 56 0-72 0 110 1-104 0 55 0 63 0-12 0 128 0-172 0-92 0 126 0 160 0-221 0-77 1 243 0-53 0-80 0-103 0 195 0 63 0-241 0 120 0 45 0 21 1 18 0 125 0-238 0 47 0 50 0-65 0-16 0 94 0-151 0 189 1-233 0 124 0 102 0-214 0 124 0-207 0 106 0 51 0-118 0 292 1-220 0 147 0-35 0-64 0 40 0 31 0-102 0 16 0 75 0-150 0 176 1 132 0-105 0-227 0 129 0 53 0-10 0 13 0-117 0 100 0-81 1 35 0-89 0 17 0 31 0 20 0 30 0-170 0 77 0 5 0 68 0 36 1-15 0-40 0 64 0-80 0 116 0-73 0-40 0-1 0 229 0-125 0-15 1-124 0 78 0-109 0 161 0-160 0 192 0 99 0-170 0-23 0-118 1 163 0-29 0-14 0-22 0 165 0-107 0-39 0 60 0-143 0 178 1 54 0-67 0 8 0 23 0-89 0 42 0-86 0-87 0 10 0 158 1-55 0-83 0 205 0-110 0 50 0-84 0-88 0 88 0 14 0-134 0 312 1-242 0 136 0-12 0-126 0 160 0-94 0 31 0 37 0 34 0-104 1 115 0-180 0 127 0 125 0-95 0-114 0 70 0-80 0 96 0-65 0-84 1 52 0-60 0 139 0-10 0-86 0 90 0-89 0 134 0-73 0 3 1 28 0-16 0-44 0-232 0 240 0-204 0 320 0-80 0-102 0 85 0-62 1-7 0 75 0-26 0 54 0 12 0-14 0-263 0 233 0-100 0 8 0 166 1-149 0 15 0 95 0-100 0 48 0 32 0 5 0-191 0 153 0 19 1 20 0 21 0-12 0 2 0-170 0 46 0 77 0 39 0 61 0-90 0-69 1-193 0 267 0-7 0 42 0-96 0 26 0 49 0-9 0 75 0-46 1-68 0-19 0 14 0 56 0 167 0-196 0 8 0-62 0 124 0 107 0-222 1 8 0 99 0-16 0-208 0 192 0 53 0-134 0 64 0 21 0-68 1 187 0-110 0 11 0-53 0-13 0 94 0-73 0 13 0-104 1 155 0-153 0 15 0 90 0 23 0 17 0-57 0-1 0-32 0-29 1 89 0-153 0 90 0-21 0 40 0 33 0-2 0 74 1-54 0 27 0 59 0-98 0-88 0 18 0-31 0 256 0-165 0-137 0 140 1 113 0-151 0-109 0 135 0 41 0-51 0 32 0 203 0-174 0 20 1-165 0 61 0 59 0 41 0-156 0 2 0 219 0-76 0 42 0-10 0 88 1-42 0-173 0-41 0 90 0 72 0 74 0-117 0-2 0 102 0-126 1-72 0 111 0 126 0-56 0-30 0-68 0-144 0 172 0-113 1-10 0 23 0 120 0-138 0 32 0-8 0 12 0 203 0-153 0 53 1-63 0-108 0 148 0-140 0-77 0 354 0-415 0 275 0 188 0-285 1 24 0 42 0 37 0-32 0 50 0-65 0-56 0 56 0 39 1-21 0-22 0-46 0-58 0 48 0 134 0-206 0 69 0 54 0-71 0 106 1-37 0 84 0-48 0-26 0 52 0-150 0 171 0-38 0 4 0 48 0-176 1-78 0 202 0-27 0 11 0-112 0 53 0 139 0-54 0 89 1-211 0 35 0-6 0 77 0-69 0 38 0 144 0-28 0-95 0 84 0-179 1 166 0-286 0 190 0-85 0 135 0-32 0 146 0-155 0 17 0 76 1 66 0-287 0 191 0 11 0-167 0 260 0-325 0 401 0-122 0 80 0-177 1 133 0-252 0 47 0 18 0 64 0-156 0 23 0 58 0 212 1-145 0 8 0-35 0-29 0 50 0-72 0 97 0-18 0-82 0-53 0 72 1-6 0 27 0 28 0 8 0-46 0-39 0-16 0 172 0 65 0-143 1-82 0-39 0-62 0 50 0 223 0-60 0 4 0-109 0 113 0-46 0 122 1-240 0 127 0 22 0-11 0 78 0-132 0 52 0-195 0 290 0 33 1-161 0-27 0 2 0-114 0 54 0 84 0 9 0 37 0 29 0-98 0 9 1-62 0 150 0-19 0 10 0-109 0 50 0 69 0-65 0-13 0-19 0 79 1 84 0-192 0-139 0 164 0 71 0-170 0 112 0 33 0-61 1 13 0 184 0-114 0-229 0 271 0-177 0 193 0-15 0-68 0 120 0-81 1-225 0 194 0-95 0 86 0 36 0-70 0 3 0-5 0 60 0-4 1 73 0-122 0 73 0 1 0-92 0-27 0-2 0 170 0-50 0-178 1 204 0-117 0 125 0-26 0 89 0-182 0 110 0 135 0-97 1-258 0 80 0 138 0 50 0-256 0 128 0 36 0-48 0 9 0 4 0 26 1-66 0 145 0-35 0-247 0 317 0 120 0-243 0 57 0-64 0-23 1 56 0-78 0-82 0 219 0-176 0 57 0 254 0-286 0 91 0 40 0-216 1 313 0-184 0 110 0-52 0-87 0 82 0-117 0 157 0-45 0 8 0-100 1 55 0 125 0-193 0-16 0 63 0 59 0-73 0 99 0-6 0 70 1-35 0-122 0 11 0 1 0-3 0-53 0 139 0-103 0 76 0 5 1-98 0-66 0 249 0-59 0-111 0-68 0 176 0-142 0 34 0 24 1 37 0-30 0 137 0-98 0-133 0 84 0 15 0 73 0-7 1-62 0-84 0 73 0-23 0 119 0-56 0 3 0 25 0-106 0 140 1-68 0 9 0-27 0 41 0-145 0 172 0-136 0 94 0-160 0 250 1-87 0 130 0-125 0-59 0-20 0 115 0-111 0 63 0-10 0-21 1 17 0-17 0-83 0 90 0 86 0-131 0 75 0 45 0 46 0-71 0-110 1 120 0 67 0-172 0 135 0-141 0 149 0-294 0 317 0-152 0 280 0-263 1-39 0 138 0-177 0 42 0-55 0 105 0-2 0 132 0-102 1-133 0 163 0 47 0-45 0-28 0-144 0 122 0 100 0-139 0-28 0 116 1-101 0 189 0-205 0 77 0-43 0 51 0-160 0 197 0-25 1-4 0 33 0 8 0-151 0 116 0 81 0 15 0-201 0 80 0 5 1 22 0 34 0-44 0 9 0-31 0-18 0 198 0-170 0 44 0-174 1 261 0-34 0-136 0 98 0-134 0 101 0-114 0 16 0 99 0-81 0 43 1-35 0 159 0-162 0 118 0-159 0 175 0-102 0 163 0-126 0-58 1 11 0 10 0-110 0 61 0 42 0 71 0-36 0-135 0 56 0 51 0-53 1 54 0 198 0-292 0 107 0 7 0 17 0-72 0-80 0 64 0 32 1-126 0 111 0-10 0-173 0 268 0-24 0 33 0-18 0-235 0 210 1-160 0 164 0 12 0 20 0-24 0-16 0-116 0 75 0 7 0-169 0 203 1-70 0 77 0-86 0 81 0-63 0-87 0 126 0-4 0 110 0-81 1-51 0 159 0-28 0-260 0 323 0-92 0-177 0 111 0 115 0-148 0-143 1 208 0 2 0-136 0 86 0-8 0 84 0-89 0-163 0 108 0-12 1 169 0-9 0-38 0 162 0-209 0 131 0-158 0 91 0-77 0-10 0 205 1-157 0-20 0 74 0-70 0 44 0-77 0-8 0 106 0-82 0-28 1 3 0 58 0-6 0-44 0 0 0 201 0-208 0 22 0 14 0 30 0-44 1 9 0-6 0 145 0-143 0 227 0-239 0 58 0 97 0-216 0-36 1 171 0 27 0-187 0 176 0-132 0 176 0-247 0 25 0 259 0-108 0-55 1 110 0-1 0-60 0 53 0-72 0-137 0 143 0-11 0 37 0-122 0 15 1 54 0-116 0 198 0-128 0 53 0 53 0-161 0 172 0-36 0-106 1 350 0-263 0-57 0-15 0 61 0 178 0-117 0 18 0-108 1-91 0 251 0-140 0-45 0 69 0 92 0-158 0-33 0 75 0-8 1-35 0 60 0-34 0 229 0-29 0-234 0 120 0-160 0 61 0-92 1 128 0-10 0 17 0-41 0-29 0 36 0 14 0 58 1-40 0-129 0 252 0-172 0 94 0-75 0 131 0-34 0-18 0-78 1 91 0 154 0-275 0 169 0-81 0 147 0-205 0 154 0-62 0-48 1-165 0 199 0-96 0 46 0 5 0 69 0 6 0 56 0 63 0-197 1 62 0 53 0-105 0-74 0-101 0 227 0-133 0 43 0 35 0-2 0 57 1-9 0 12 0-130 0-124 0 177 0 10 0 97 0 55 0-177 1 43 0 244 0-161 0-88 0-58 0 263 0-207 0 62 0-107 0 5 0 65 1-57 0 235 0-363 0 322 0-131 0-104 0-47 0 267 0-269 0 21 1-73 0 237 0-36 0 114 0-249 0 133 0 60 0 59 0-101 0-147 0 189 1-36 0-122 0 128 0-9 0-5 0-157 0-100 0 95 0 255 0-152 1 124 0-104 0 77 0-130 0 66 0 21 0-81 0 18 0-35 0 194 0-28 1-50 0-28 0-66 0-65 0 223 0-163 0 132 0-206 0-141 0 283 1-82 0-3 0 75 0 2 0-62 0 18 0 73 0-25 0-34 0-10 1 81 0-35 0-186 0-65 0 233 0 57 0-114 0 98 0-22 0 86 0-115 1 116 0-162 0 27 0-59 0 49 0 41 0 9 0-97 0 69 0-28 1 139 0-193 0-57 0 91 0 132 0-37 0-45 0 43 0-65 0-109 0 309 1-229 0-83 0 187 0-96 0 82 0 19 0-57 0-104 0 194 0-104 1-32 0 80 0-70 0 61 0-11 0 69 0-206 0 110 0 40 0-28 0-24 1 124 0-140 0 16 0 66 0-14 0-2 0 61 0 63 0-146 0 142 1 2 0-41 0 28 0-110 0-61 0-117 0 59 0 9 0 143 0 96 0-68 1-79 0-129 0 157 0-142 0 135 0-57 0-66 0 188 0-100 1-122 0 71 0 71 0-39 0-14 0 14 0 20 0-154 0 216 0-89 1 87 0-133 0-64 0 97 0-20 0 6 0 53 0 152 0-204 0 147 1 70 0-82 0-5 0-42 0-6 0 116 0-114 0-161 0 157 0 88 0-130 1-38 0 249 0-104 0 50 0-20 0-82 0-24 0-97 0 75 0 10 0 83 1-156 0-52 0 111 0 45 0 193 0-173 0 196 0-321 0 291 0-277 1 117 0-36 0-21 0 89 0-121 0-53 0-34 0 128 0-19 0-98 0 123 1-97 0 182 0-51 0-169 0 150 0 48 0 8 0-155 0-1 1 154 0-83 0 104 0-1 0-188 0 130 0-12 0-37 0 65 0 71 1-39 0-76 0-74 0-26 0 44 0-7 0-30 0 114 1-98 0 234 0-237 0-73 0 121 0 56 0 6 0 114 0-62 0 20 0-73 1-168 0 169 0-153 0 3 0-29 0 159 0 51 0-92 0 150 0-113 1 136 0-129 0-79 0 80 0-92 0 57 0-43 0-81 0 202 0-33 0-111 1 309 0-188 0-55 0 39 0 11 0 39 0 133 0-94 0-104 0-112 0 135 1 110 0-87 0 23 0 109 0-283 0 41 0 44 0 59 1 74 0-114 0-51 0 42 0-31 0 204 0-220 0-114 0 19 0 30 0 143 1 43 0-181 0 149 0-119 0 22 0-38 0 73 0 120 0-155 0 21 1 91 0-222 0 242 0-142 0 100 0-97 0-1 0-26 0 263 0-48 1-144 0 23 0 7 0-108 0-28 0 15 0 175 0-56 0 110 1 3 0 123 0-111 0 33 0-23 0-114 0 2 0 10 0 40 0-66 0 11 1-69 0 13 0 104 0-120 0 166 0-42 0-93 0 3 0 85 0-94 1-67 0 149 0 63 0-135 0 87 0-127 0 30 0 39 0-15 0-101 0 2 1 14 0 74 0 48 0-169 0 223 0-4 0-174 0 81 0 80 0-166 1 66 0-111 0 200 0-152 0 78 0-101 0-78 0-17 0 133 1 77 0 158 0-126 0 8 0 188 0-457 0 60 0 209 0 16 0-44 1 22 0 215 0-322 0 165 0-81 0-65 0 176 0-212 0-119 0 229 1-128 0 233 0-243 0 179 0 73 0-81 0-156 0 112 0-48 0-21 0-42 1 117 0 2 0-23 0 35 0-209 0 192 0-4 0 44 0 7 0-204 1 294 0-24 0-98 0 94 0-151 0-4 0 11 0 23 0-70 0 233 1-213 0 28 0 99 0-106 0-47 0-42 0 236 0-230 0 26 0 128 1 48 0-174 0-12 0 244 0-59 0 76 0-251 0 69 0 18 0-182 0 106 1 153 0-61 0 159 0-78 0-126 0 106 0-124 0 108 0 47 0-179 1 201 0-23 0-98 0-8 0 51 0 110 0-119 0-70 0-142 0 347 0-277 1 227 0-149 0-6 0 9 0 98 0-89 0-86 0-130 0 224 0 156 0-241 1 141 0-22 0-257 0 243 0-88 0 26 0 109 0-43 0 28 0-84 1 218 0-221 0-137 0 99 0 70 0 230 0-195 0-201 0 285 0-259 1 123 0-43 0-138 0 40 0 221 0 48 0-246 0 129 0 65 0-172 1 122 0-19 0 73 0-168 0 60 0 109 0-56 0-96 0-36 0 150 0 41 1-77 0 138 0-120 0-47 0 18 0-63 0 93 0-76 0-46 0 197 1-103 0 82 0-245 0 27 0 120 0 60 0-26 0 101 0-123 0-74 0 63 1-24 0 93 0 41 0-50 0 66 0-259 0 175 0-98 0 35 0-151 1 323 0-186 0-15 0 146 0-168 0 96 0-62 0 105 0-95 0-71 1 111 0 140 0-190 0 174 0-36 0-79 0-14 0 29 0 100 0-2 0-70 1-34 0-64 0 37 0 41 0-206 0 150 0-63 0 78 0 74 0-109 1 20 0-42 0 29 0 52 0-125 0 46 0 208 0-308 0 164 0 70 0 10 1-112 0-6 0 117 0-107 0 64 0-55 0 182 0-304 0 32 0-33 1 393 0-371 0 93 0 73 0-22 0 25 0-195 0 24 0 128 0 65 0 156 1-124 0-243 0 203 0-38 0-251 0 163 0 190 0-97 0-70 0 213 1-307 0 99 0 60 0-30 0-89 0 243 0-68 0-218 0 116 0 14 0-37 1 1 0 92 0-273 0 183 0 122 0-122 0-167 0 109 0-13 0 230 1-85 0-79 0 54 0-1 0 52 0 54 0-251 0 54 0 145 0 5 0 17 1-34 0 83 0-271 0 0 0 223 0-71 0-108 0 50 0 43 0-15 1 73 0-47 0-4 0 18 0-68 0 133 0-127 0 23 0-115 0 237 1-236 0 148 0 103 0-101 0-31 0-247 0 354 0-24 0-246 0 251 0-23 1 49 0-235 0 298 0-97 0 85 0-214 0 15 0 86 0-230 0 159 1 52 0 14 0 7 0-110 0 45 0 140 0-142 0 86 0 72 0-139 1-70 0 134 0-94 0-174 0 134 0-75 0 213 0-56 0-107 1 39 0-93 0 91 0 102 0-159 0 74 0-117 0 326 0-287 0 205 0-15 1-80 0-72 0 5 0 57 0-74 0 32 0 32 0 0 0-126 0 135 1 64 0-63 0-16 0 201 0-133 0-91 0 28 0 53 0-258 0 213 0-21 1 86 0-26 0-67 0 6 0 124 0-97 0-62 0 0 0 158 0-261 1 158 0 69 0-167 0 31 0 64 0 12 0 63 0 15 0 139 0-258 1 19 0 0 0 182 0-63 0-154 0 23 0 155 0-160 0-35 0 121 0-49 1 25 0 12 0 95 0-248 0 29 0 227 0-201 0 123 0-68 0 99 1 63 0-122 0-66 0 70 0-159 0 57 0 118 0-4 0-230 0 196 0 66 1-212 0 230 0-13 0-210 0 50 0 148 0-26 0-78 0 0 0 11 1 32 0-58 0 193 0-116 0-41 0 6 0-81 0 190 0-164 0-31 0 239 1-134 0-33 0-92 0 42 0 93 0-210 0 247 0 16 0 43 0-189 1 81 0-126 0 136 0 12 0-67 0 125 0-143 0 140 0-128 0 110 0 77 1 25 0 50 0-340 0 176 0-84 0-79 0 97 0-67 0-30 0 160 1 193 0-301 0 67 0-24 0-49 0 89 0-98 0-4 0 41 0 23 1 43 0 18 0-11 0 65 0-103 0 51 0 78 0-15 0 47 0 8 0-116 1 139 0-119 0 83 0-60 0-85 0 41 0-16 0 217 0-246 0-130 1 165 0 91 0-97 0 21 0 108 0 42 0-237 0-32 0 98 0 105 0-15 1-209 0 122 0 33 0-244 0 188 0-118 0 71 0-61 0 9 0 156 1-163 0 83 0 68 0-64 0-44 0-6 0 201 0-272 0 221 0-169 1 82 0-34 0 80 0 54 0-171 0 89 0-74 0 168 1 8 0-221 0 57 0 9 0-17 0-81 0 78 0 239 0-251 0 151 0 19 1-171 0 20 0 125 0-126 0-40 0 109 0-7 0-20 0-1 0 29 1-73 0-43 0 72 0 90 0-109 0 190 0-158 0 103 0 23 0 23 0-265 1 182 0-38 0-53 0-79 0 71 0 76 0-148 0 220 0-71 0 84 1-159 0-2 0 137 0 31 0-202 0 64 0 68 0 71 0-125 1-10 0 8 0 115 0-305 0 255 0 39 0-7 0-65 0-56 0 11 1 65 0-149 0-30 0 225 0-275 0 364 0-249 0 16 0 122 0-27 1-152 0 104 0 18 0 120 0-247 0 85 0 29 0-20 0-23 0 180 0-116 1-226 0 264 0-11 0-187 0 125 0 24 0 118 0-210 0 131 0-149 1 187 0-64 0-67 0 216 0-9 0-69 0 64 0-176 0-96 0 85 0-63 1 50 0 173 0-165 0-1 0 84 0-50 0-42 0-45 0-10 0-68 1 352 0-226 0-147 0 202 0 32 0-125 0 181 0-128 0-13 0 58 0 24 1-49 0-165 0 120 0 17 0-4 0-191 0 170 0 145 0-81 0 159 0-89 1-12 0-211 0 153 0-82 0 69 0 133 0-244 0 162 0-33 0 160 1-239 0 92 0 20 0 7 0-204 0 148 0 307 0-317 0 118 0 0 0 67 1-98 0 7 0 38 0-81 0 11 0 17 0-36 0 27 0-144 0 143 1-61 0 41 0-25 0-152 0 52 0 7 0 129 0-210 0 206 0 128 0-132 1-92 0-39 0 273 0-225 0 144 0-42 0-50 0 67 0-175 0 227 1-119 0-98 0 36 0 9 0-24 0 67 0 112 0-109 0-43 0-57 0 118 1-306 0 260 0-118 0 45 0 98 0 134 0-36 0-194 0 24 0 57 1 222 0-139 0 1 0 47 0-38 0 106 0-54 0-144 0-67 0 44 0 124 1 26 0-238 0 297 0-144 0-23 0-35 0 18 0 114 0-135 0 177 0-137 1 126 0-296 0 289 0-122 0 97 0-38 0-87 0-95 0 160 0-162 1 88 0 17 0-108 0 61 0 171 0-229 0 40 0-87 0 200 0-53 0 9 1 48 0-22 0-77 0 52 0-27 0-47 0-84 0 338 0-123 0-9 1 46 0-38 0-77 0 61 0-48 0-39 0 30 0 160 0-282 1 316 0-125 0-181 0 155 0-78 0 78 0 3 0-17 0-112 0 77 1-25 0-69 0 66 0-9 0 149 0 13 0-35 0 11 0-101 0-147 0-19 1 162 0 123 0-127 0 117 0-173 0-146 0 248 0 26 0-53 0 7 1-32 0 157 0-20 0-104 0 123 0-153 0-5 0 106 0-51 0 103 0-48 1 69 0-151 0 54 0-15 0-37 0-24 0-37 0 150 0-96 1-39 0 117 0 9 0-100 0-179 0 85 0 238 0-162 0-103 0 97 0 42 1 8 0-13 0 170 0-284 0 191 0-124 0-82 0 187 0-199 0 196 0 81 1-147 0 14 0 124 0-1 0-125 0-225 0 186 0-167 0 208 0-134 1 142 0-44 0 127 0-144 0-66 0 143 0 19 0-100 0 203 0-156 0 133 1-114 0-31 0 142 0-229 0 181 0 15 0-91 0 177 0-41 0-128 1-182 0 122 0-7 0 65 0 76 0-69 0-57 0 143 0-147 0 117 1-177 0 85 0-6 0 164 0-271 0 88 0 65 0-63 0 65 0-118 1 114 0 34 0-99 0 187 0-117 0-100 0 126 0 47 0-202 0 186 0-166 1 130 0 44 0-122 0 26 0 81 0-89 0 37 0-145 0 335 0-347 1 153 0 66 0-78 0 41 0-71 0-81 0 114 0-82 0-47 0 146 0-89 1 116 0-72 0 115 0-23 0-94 0 137 0-40 0-11 0 58 0-7 0-79 1-120 0 6 0 147 0-31 0-154 0 148 0-186 0 98 0 279 0-277 1 270 0-226 0 156 0-118 0-85 0-25 0 149 0-26 0-99 0 134 0-44 1-40 0 82 0 29 0-123 0-79 0-10 0 215 0 109 0 85 1-280 0 8 0 7 0-38 0-3 0-88 0 214 0-148 0 0 0 62 0 111 1-25 0-143 0 161 0-95 0 58 0-144 0 112 0 20 0-97 0 73 1 2 0 75 0-217 0 102 0-52 0 95 0-185 0 153 0 2 0-89 0 75 1-23 0 39 0 48 0 92 0-220 0 55 0-31 0-20 0 144 1-92 0-72 0 253 0-290 0 112 0 3 0-49 0 76 0-86 0-63 0 160 1-94 0 120 0-151 0 3 0 131 0 31 0-89 0 37 0-108 0 117 0-12 1 58 0-13 0-119 0 128 0 69 0-68 0-77 0-37 0 78 0 21 1-76 0-121 0 165 0-54 0 46 0-86 0 129 0-148 0 146 0-12 0 52 1-94 0 61 0-133 0 73 0-42 0 2 0 94 0 16 0 29 0-81 1-4 0 122 0-160 0-22 0 52 0-90 0 212 0-127 0-137 0 236 0-125 1 51 0-87 0 8 0-25 0-30 0 155 0-62 0-183 0 221 0-190 1 194 0 5 0 12 0 136 0-370 0 313 0-108 0-111 0 60 0-20 0 131 1-80 0 94 0-147 0-20 0 203 0-160 0 104 0-17 0-46 1 5 0-12 0-89 0 180 0 138 0-191 0-62 0-28 0 81 0 30 0-92 1 122 0-107 0-59 0 15 0 180 0-73 0 24 0-64 0-4 0-64 1 170 0-137 0 11 0 126 0-75 0 15 0 53 0-48 0-63 0 26 0 12 1-120 0 216 0-191 0-7 0 102 0-177 0 317 0-252 1 156 0-4 0 172 0-128 0-30 0-55 0 89 0 16 0-6 0-97 1 55 0 25 0-78 0-208 0 316 0-3 0-131 0-59 0 21 0 29 0 23 1 29 0-81 0-68 0-2 0 22 0-25 0-49 0 128 0-63 1 110 0 87 0-136 0 162 0-172 0-37 0 190 0 75 0-250 0-61 1 137 0-74 0-45 0 15 0 129 0-79 0 83 0 46 0-207 0 73 1 83 0 67 0-115 0-87 0 148 0-264 0 85 0 165 0-56 0-67 1 148 0-24 0-46 0 156 0-208 0-51 0 145 0-106 0 225 0-80 1-56 0-121 0 86 0-181 0 297 0 23 0-13 0-101 0 99 0-56 0 113 1-212 0 162 0 0 0-9 0-277 0 353 0-224 0 38 0 10 0 80 0-10 1-241 0 241 0-120 0 237 0-134 0-183 0 146 0 23 0-64 1 90 0 34 0-114 0 135 0-151 0-57 0 200 0-167 0 163 0-196 0 123 1-132 0 248 0-128 0-141 0 159 0-21 0-138 0 259 0-20 1-103 0-219 0 215 0-4 0-8 0-147 0 231 0-287 0 248 0-194 0 334 1-270 0 23 0 17 0 69 0-61 0 173 0-348 0 345 0-221 0-66 1 120 0-29 0 112 0-50 0-73 0 167 0 216 0-459 0 163 0-97 1 52 0 79 0-98 0 90 0-117 0 22 0 3 0-19 0-49 0 119 1-61 0 71 0 97 0-78 0-127 0 15 0 75 0 6 0-54 0 2 0-23 1 83 0 96 0-126 0-18 0 53 0 213 0-138 0-64 0 14 0-73 1 96 0-32 0 139 0-194 0 161 0-211 0 71 0 205 0-225 0-13 1 104 0-30 0-145 0 86 0 139 0 84 0-21 0-136 0-37 0-30 0 66 1-161 0 241 0-115 0-9 0 76 0-52 0-56 0-25 0 81 1 30 0-34 0 21 0-26 0-28 0 42 0-78 0-2 0 45 0 12 1-5 0 86 0-137 0 65 0-16 0-30 0 87 0-173 0 82 0 144 1 58 0-143 0 157 0-246 0 42 0-62 0 170 0 13 0-76 0 44 0 64 1-153 0 30 0 0 0-66 0 99 0-155 0 83 0 15 0-18 0 30 1 128 0-1 0 11 0 59 0-205 0 58 0-26 0 5 0-133 0 122 0-68 1 83 0 61 0-67 0 21 0 38 0-93 0-147 0 54 0 8 0 224 0-48 1 71 0-117 0-160 0 231 0-88 0 106 0-16 0-44 0-69 0 34 1 48 0 53 0-339 0 213 0-139 0 83 0-94 0 70 0 46 0 70 1-26 0-12 0-182 0 123 0 165 0-191 0 140 0 16 0 35 0 36 1-15 0-110 0 11 0 44 0 2 0 7 0-257 0 94 0 195 0-49 1-196 0 112 0-77 0 51 0 77 0 71 0 69 0-258 0-46 0 12 1 193 0-56 0 10 0-164 0 147 0 132 0-223 0 45 0 126 0-139 0-11 1 4 0-10 0 92 0-45 0-42 0 111 0 12 0-9 0-196 0 155 1 164 0-220 0-12 0-54 0 186 0-80 0-107 0 16 0 57 0 72 0 17 1-111 0-38 0 123 0 11 0-47 0 193 0-244 0 33 0 196 0-170 1 47 0-177 0 240 0-52 0-192 0-7 0 197 0-31 0 63 0-97 0 101 1 27 0-54 0-55 0-43 0 12 0-94 0 44 0 0 0 57 0-167 0 207 1-108 0-36 0 82 0 44 0-73 0 19 0 56 0-61 1 173 0 35 0-202 0 41 0 6 0-76 0 21 0-69 0-92 0 84 0 49 1-119 0 282 0-109 0-28 0-4 0 200 0-273 0 35 0 49 0 94 1-50 0-14 0-28 0-23 0-104 0 168 0 37 0-101 0 4 0 109 0-69 1-25 0 74 0-67 0 54 0-63 0-61 0-3 0 201 0-219 0 314 1-173 0 16 0-119 0-10 0 227 0-127 0-75 0 34 0 108 0-116 1 159 0 51 0-95 0 72 0-116 0-197 0 121 0 11 0 83 0-142 1 103 0 33 0-117 0 122 0 17 0-47 0-126 0 157 0 117 0-256 0 23 1 26 0 49 0-73 0 77 0 37 0-17 0-179 0 28 0 250 0-148 0-45 1 146 0-75 0 1 0 30 0 99 0-262 0 127 0-72 0 127 0-21 1 15 0-62 0 29 0-3 0 22 0 78 0-108 0 101 0-185 0-14 0-60 1 100 0 146 0-53 0-3 0-36 0-37 0 133 0-46 0-126 0 179 1-77 0-84 0 96 0-8 0-37 0 42 0 13 0-171 0 145 0-92 0 74 1-93 0 14 0 137 0-108 0 54 0-5 0 44 0 57 0-144 0-16 1 81 0 10 0-83 0 3 0 127 0-69 0-44 0 144 0-61 0-65 0-81 1 102 0-79 0 234 0-154 0-45 0-64 0 66 0 105 0-46 0-27 1 38 0 77 0 62 0-86 0-112 0 46 0 78 0 1 0-43 0-108 0 79 1 175 0-299 0 134 0-52 0-73 0 80 0 13 0 16 0 86 0 82 1-179 0 24 0 44 0-192 0 206 0-91 0 75 0 150 0-220 1 102 0-51 0-57 0-115 0 273 0-195 0 120 0-96 0-18 0-130 0 240 1 36 0-162 0 81 0-95 0 45 0 154 0-192 0-1 0 55 0 126 1-120 0-65 0 120 0-115 0 125 0-40 0-152 0 183 0-65 0 104 0-155 1 103 0-134 0 72 0-31 0 41 0-93 0 213 0-38 0-309 0 286 1-13 0-4 0-74 0 50 0 79 0-3 0-140 0 144 0 4 0-22 1-138 0-61 0 153 0 33 0-163 0 264 0-122 0-48 0 220 0-313 1 170 0-142 0 257 0-176 0-43 0 7 0 166 0-33 0-228 0 79 0 50 1 23 0 61 0-25 0-37 0-45 0 68 0-63 0 166 0-55 0-97 1 135 0-195 0 9 0 56 0-48 0 187 0-132 0 48 0 27 0 48 0-81 1-80 0 73 0-9 0-76 0-29 0 252 0-248 0 125 0-61 0-19 0 21 1-42 0 19 0 42 0-10 0-138 0 256 0-59 0-153 0 61 0-26 1 72 0-58 0-24 0 63 0-76 0 128 0 110 0 11 0-149 0-27 1 135 0-136 0-62 0 52 0-37 0 81 0 16 0-55 0 5 1 134 0-32 0-135 0 99 0-47 0-12 0-53 0 22 0 104 0-66 0 109 1-86 0 59 0-129 0 89 0 15 0-14 0-118 0 170 0-125 0 71 1-174 0 194 0 76 0-102 0-53 0 70 0-85 0 66 0-33 0-25 1-57 0 214 0-57 0 14 0-82 0 33 0 105 0-209 0 33 1 45 0-32 0 10 0-161 0 7 0 120 0 195 0-203 0-99 0 190 0 42 1-192 0 129 0 37 0-114 0 4 0 82 0-64 0 109 0-15 0-129 0 128 1-26 0-44 0 17 0 95 0-108 0 40 0 10 0-122 0 32 0 76 1-80 0-75 0 140 0-107 0 136 0-132 0 134 0-44 0-34 1 46 0 11 0 3 0-7 0-54 0 24 0 32 0-70 0 34 0-14 1 139 0-152 0 75 0-124 0 45 0 83 0-101 0 209 0 2 0-294 0 109 1-17 0 69 0-18 0-45 0 213 0-150 0-22 0 18 0-4 1 17 0-81 0-12 0 47 0-2 0-47 0 134 0-98 0 92 0-94 0-49 1 133 0-42 0 16 0 62 0 4 0-251 0 111 0-55 0 87 0 83 1-159 0 107 0-45 0-25 0 108 0 2 0-135 0 114 0-35 0 9 1 120 0-162 0 13 0 58 0-155 0 156 0-97 0 96 0 15 0-58 1 131 0-12 0-125 0 45 0-90 0 96 0-65 0-49 0 7 0-70 1 172 0 122 0-200 0 31 0-18 0 73 0-102 0 91 0-58 0 25 0-22 1 22 0 60 0-86 0-47 0 111 0 53 0-268 0 164 0-18 0-73 1 31 0-78 0 125 0-6 0 46 0 116 0-73 0 5 0 48 0-202 0 106 1-14 0 8 0-99 0 122 0-6 0-45 0 114 0 61 0-183 1 41 0-135 0 138 0 27 0 10 0-108 0 104 0 17 0 5 0-141 0 21 1 154 0-51 0-24 0-25 0 54 0-92 0 35 0 33 0-74 1-40 0 119 0-96 0-155 0 201 0 167 0-187 0 62 0-89 0 25 1 16 0 62 0-51 0-26 0 70 0-80 0-65 0 110 0 5 0 3 1 13 0 189 0-59 0-95 0-126 0 31 0 66 0 9 0 10 0 52 1-90 0 22 0-87 0-11 0 102 0-58 0 74 0-62 0 18 0-5 0-11 1-133 0 164 0-73 0 48 0 13 0-100 0 2 0 9 0 70 0 67 1 32 0-26 0-58 0-107 0 46 0 71 0 13 0-44 0-164 0 196 1 120 0-212 0 123 0-180 0 96 0 43 0 38 0-152 0 140 0-58 1 27 0 78 0-190 0 91 0 22 0-43 0 129 0-67 0 30 0 1 13 88 0-258 0 154 0-64 0 50 0-33 0-7 0 149 0-118 0-51 0-101 1 15 0 209 0-238 0 140 0-48 0 101 0-27 0-48 0 66 0-115 0-27 1 120 0-79 0 16 0-43 0 85 0-61 0-11 0 170 0-147 0 109 1 23 0 10 0 20 0-102 0 91 0-146 0 142 0-166 0 44 0 76 1-213 0 144 0-18 0 90 0-107 0 89 0-100 0 117 0 68 0-301 1 133 0-50 0 69 0-93 0 159 0-144 0 90 0-54 0 220 0-290 1 149 0-55 0 5 0-113 0 174 0 3 0-110 0 102 0 101 0-97 1 7 0 132 0-147 0 40 0-56 0 207 0-347 0 175 0 148 0-94 1-137 0-17 0 76 0-22 0-67 0 129 0-76 0 109 0-203 0 165 1 34 0-15 0-35 0 36 0-40 0 32 0-112 0 193 0-186 0 35 0-76 1 113 0 122 0-187 0 3 0-7 0-4 0 27 0-26 0-64 0 61 1 9 0 17 0 8 0-70 0 50 0 51 0-34 0 70 0 19 0-189 1 300 0-63 0 132 0-134 0-14 0-26 0-3 0-141 0-83 0 102 0 81 1-136 0 146 0 29 0 110 0-176 0 2 0 111 0-105 0 58 0-56 1 106 0-185 0-29 0 215 0-117 0 124 0-46 0 3 0-129 0 86 0-62 1 57 0-86 0 92 0 69 0-213 0 52 0 33 0-41 0 25 1 44 0-47 0 218 0-85 0-131 0-54 0 83 0-2 0 86 0 22 0-200 1 124 0-144 0 78 0-16 0 128 0 13 0-149 0 55 0 49 1-63 0 147 0-95 0-131 0-31 0 85 0 6 0-50 0 94 0-47 0 69 1-48 0 131 0 39 0-53 0-209 0 90 0 96 0-151 0-13 0 58 1 52 0-230 0 303 0-155 0 68 0 30 0-174 0 361 0-126 0-251 0 248 1 21 0-166 0 131 0-194 0 53 0 171 0-64 0 51 0-178 0 120 1-39 0 21 0 39 0-67 0-18 0 163 0-93 0 168 0-215 0 75 1-60 0-68 0 118 0-56 0 80 0-132 0 47 0-15 0 170 0-78 0-35 1-7 0-1 0-103 0 76 0 74 0-59 0-49 0 62 0-23 0-176 1 148 0 113 0-153 0 28 0-55 0 60 0 5 0-71 0 76 0-57 0 105 1-74 0 88 0-103 0 33 0 40 0-32 0 100 0-65 0-164 0 284 1 13 0-48 0-145 0 178 0-152 0-76 0 272 0-248 0 88 0 124 0-115 1-88 0 79 0 31 0-286 0 482 0-233 0 20 0-96 0 17 0 141 1-158 0 158 0-38 0-66 0-96 0 77 0-89 0-22 0 107 0 106 0-144 1 258 0-181 0 9 0 114 0-160 0-114 0 226 0-123 0-14 0 125 0-58 1-33 0 135 0-89 0-17 0-137 0 213 0-123 0-148 0 96 0 31 1 94 0 1 0 76 0-77 0-175 0 217 0 91 0-282 0 66 0 9 0 18 1 37 0-61 0-14 0 94 0-38 0 37 0 32 0-9 0-163 0 152 1 89 0-108 0-36 0 106 0-227 0 203 0-74 0-24 0 84 0-81 0 35 1-49 0-23 0 81 0 188 0-155 0-99 0 35 0-35 0 40 0-18 1 147 0-74 0-55 0 103 0 43 0-274 0 75 0 274 0-273 0 127 0-183 1 171 0 46 0-228 0 133 0 77 0-20 0 2 0-266 0 161 0 100 1-72 0-92 0 99 0 69 0 117 0-139 0-122 0-4 0 182 0-119 1 111 0-147 0 100 0-98 0 58 0 15 0-81 0 18 0 176 0 62 0-345 1 213 0-57 0 11 0-14 0 27 0-12 0-87 0 0 0 85 0-86 1 144 0-42 0 41 0-70 0-11 0 246 0-242 0-92 0 125 0-170 0 26 1 24 0 9 0 297 0-196 0-12 0 70 0-104 0 54 0-101 0-5 1 130 0 84 0-174 0 179 0-216 0 131 0-73 0-76 0 68 0-31 0 34 1 5 0 148 0-298 0 415 0-194 0 0 0-110 0 135 0-158 0 24 1 113 0-118 0 84 0-52 0 1 0 83 0-138 0-35 0 184 0-1 0-156 1 121 0-61 0-2 0 17 0 62 0-120 0 189 0-80 0 4 1-81 0 170 0-160 0 38 0-48 0 47 0-7 0 120 0-75 0 38 0-60 1-101 0 26 0 113 0-120 0-4 0-51 0 168 0 82 0-116 0-44 0-91 1 148 0-111 0 107 0-244 0 268 0 21 0-25 0 79 0-171 0 127 1-146 0 126 0 23 0 38 0-253 0 156 0 28 0-88 0 32 0 34 0-71 1-176 0 209 0 10 0-74 0 68 0 87 0 17 0-189 0 133 1-89 0-66 0-3 0 146 0-114 0 64 0-129 0 163 0-19 0 123 0-245 1 129 0 67 0-117 0-188 0 216 0 26 0-42 0-44 0-47 0 292 1-246 0-81 0 90 0-37 0-24 0-8 0 97 0 75 0-91 0 30 0 27 1 41 0-153 0 160 0 142 0-177 0 1 0-10 0 128 1-48 0-193 0 98 0 54 0-80 0 35 0 16 0 85 0-211 0 84 0 54 1-12 0-11 0-41 0 118 0-154 0-63 0 153 0 11 0-52 0 19 1 14 0 137 0-162 0 58 0 12 0 107 0-215 0 67 0-91 0 27 0-48 1 153 0-111 0 138 0 30 0 22 0-77 0-306 0 326 0-123 0-43 0 82 1 127 0-229 0 91 0 214 0-268 0 172 0-189 0 9 0 77 0 9 1 10 0-148 0 42 0 48 0 71 0-102 0 194 0-223 0 115 0-145 0 24 1 79 0-35 0 132 0-262 0 90 0-10 0 72 0-21 0 39 1 7 0-138 0 31 0 207 0-120 0 67 0-111 0 17 0 101 0-109 0 171 1-160 0 131 0-132 0 170 0-62 0-233 0 63 0 138 0 201 0-250 1-62 0 80 0 71 0-172 0 178 0-207 0 177 0-48 1 16 0-27 0 53 0 30 0-11 0-71 0-68 0 117 0 50 0-25 1-15 0 115 0-244 0 31 0 91 0-4 0-8 0-25 0 29 0-75 1-5 0 126 0 14 0-37 0-35 0-70 0-115 0 203 0-114 0 14 0-64 1 63 0 78 0-132 0 99 0 72 0-72 0-145 0 212 0 70 0-134 1 4 0 30 0 38 0-94 0-49 0 36 0 98 0 90 0-167 0 42 0 104 1-87 0-54 0-130 0 238 0-88 0 142 0-44 0-17 0-60 0-13 1-23 0 118 0-47 0-222 0 233 0-12 0 90 0-103 0 25 0-115 0-8 1 113 0-71 0-2 0-62 0 129 0 18 0 6 0-59 0 22 0-130 1-5 0 142 0 3 0-4 0-40 0 2 0-113 0 39 0 226 0-202 0 58 1-135 0 111 0-26 0 49 0-69 0 58 0 278 0-166 0-71 0 153 1-172 0-19 0-14 0-91 0-47 0 37 0 204 0-74 0-5 0-28 0 161 1-9 0 82 0-214 0 144 0-67 0-73 0-160 0 266 0-160 0 66 1 100 0-68 0-135 0 204 0-176 0 101 0-141 0 270 0-203 0 98 1 10 0 20 0-216 0 39 0 192 0-168 0 107 0-1 0-158 0 138 1-47 0 48 0-80 0 32 0 23 0 37 0-17 0 55 0-92 0 33 1-98 0-71 0 72 0 197 0-210 0 175 0-156 0 16 0 149 0-48 1-92 0 87 0-78 0-29 0 81 0 127 0-21 0-153 0-48 0 83 1-75 0 99 0-32 0 1 0-78 0 90 0 64 0-38 0-97 0-94 0 226 1-107 0 42 0 59 0-80 0 211 0 50 0-370 0 54 0 42 0-15 1 52 0-90 0 12 0 151 0-79 0-199 0 126 0-4 0 96 0 89 0-103 1 84 0-63 0-38 0 212 0-196 0 46 0-67 0 47 0-11 0 95 1-142 0 140 0-195 0 59 0-156 0 290 0-58 0-2 0-115 0 53 1-169 0 292 0-247 0 289 0-214 0-130 0 112 0 216 0-56 0-186 0 174 1 133 0 13 0-206 0 71 0-41 0-40 0-40 0 36 0-99 0 270 1-215 0-11 0 57 0-61 0 100 0 18 0-108 0 43 0-47 0 68 0-25 1 62 0 121 0-234 0-31 0 14 0 150 0 36 0-331 0 269 0-107 1 97 0-196 0 39 0 45 0 195 0-45 0-169 0 7 0-60 0 253 1-250 0 155 0-24 0-138 0 233 0-132 0 9 0 7 0 72 0-51 1 40 0 120 0-106 0-76 0 31 0 61 0 11 0 30 0-47 0-104 0 221 1-225 0-103 0 187 0 72 0-2 0-72 0-151 0 148 0 210 0-124 1-185 0 191 0-86 0 137 0-191 0 20 0-13 0-9 0 20 0-47 0-46 1 136 0-19 0-71 0 29 0 6 0-31 0 108 0-288 0 274 0 21 1-64 0-38 0 75 0 99 0-45 0-203 0 181 0 3 0-7 0 13 1-49 0-90 0 139 0 74 0-265 0 69 0-38 0 47 0 24 0 72 0-21 1-101 0 113 0-42 0 103 0-122 0-73 0 195 0-54 0 21 0-7 1-17 0 57 0-209 0 202 0-160 0 87 0 73 0-111 0-116 0 50 0 146 1-30 0-14 0 25 0-115 0-113 0 194 0-21 0-111 0 26 1 31 0 216 0-148 0 15 0-13 0-60 0 106 0-103 0 91 0-63 0 133 1-120 0-155 0 216 0-161 0 30 0 127 0 18 0-128 0 183 1 94 0-279 0 44 0 106 0-229 0-19 0 88 0 123 0-131 0 16 0 118 1 22 0-168 0 25 0 66 0-124 0-101 0 207 0-69 0 70 0 74 0-186 1 15 0 87 0 36 0 208 0-326 0-13 0 158 0-155 0 184 0-177 1 21 0 38 0 55 0-237 0 296 0-93 0-12 0 45 0-194 0 288 0-115 1 39 0-10 0-147 0 141 0-116 0 46 0 95 0 2 0-177 1 195 0-122 0 111 0 24 0-236 0 175 0-19 0-79 0 171 0 41 0-25 1-15 0-101 0 60 0-45 0-60 0 161 0 72 0-263 0 273 1-127 0 23 0 3 0-231 0 207 0-169 0 206 0-57 0 88 0-239 0 36 1 165 0 52 0-334 0 1 0 98 0 163 0-63 0 48 0-102 0 40 1-13 0-40 0 35 0 2 0 75 0 64 0-27 0-90 0 32 0-91 0 89 1 66 0 8 0-102 0-197 0 244 0-35 0-173 0 28 0 210 0-1 1-138 0 90 0 21 0-74 0 41 0 47 0-80 0-11 0-48 1 211 0 2 0-159 0 158 0-103 0-93 0-60 0 57 0 138 0-30 0-7 1 7 0-151 0 149 0-25 0 41 0-173 0 177 0-144 0 143 1-171 0 50 0-18 0 17 0 177 0-67 0-105 0 140 0-175 0 96 0 137 1-122 0-58 0 19 0 88 0-6 0-119 0 272 0-335 0 134 0-21 1 1 0-97 0-10 0 223 0-96 0-191 0-74 0 295 0 129 0-215 0 22 1-158 0 239 0-151 0 21 0 39 0 78 0-159 0 204 0-141 0 43 1-82 0 49 0 204 0-101 0-42 0 62 0 38 0-82 0-127 0 134 0 62 1-125 0 98 0-117 0 18 0-36 0 201 0-334 0 50 0 310 1-142 0 48 0-321 0 137 0 126 0-65 0 82 0 141 0-140 0-67 0 47 1 105 0-127 0 2 0-6 0-68 0 30 0 137 0-143 0 27 0-15 0 62 1-84 0 2 0 19 0 109 0-60 0 9 0-240 0 346 0-86 0-2 1 81 0-162 0 108 0-201 0 101 0 7 0 154 0-392 0 470 0 16 0-178 1-36 0 100 0-247 0 228 0-1 0-148 0 221 0-135 0 159 1-301 0 188 0-191 0 78 0 105 0-199 0 50 0-78 0 188 0-89 0 6 1 134 0-60 0-172 0 152 0 36 0-21 0-168 0 238 0-108 0-73 1-51 0 251 0-193 0 283 0-414 0 176 0 33 0 48 0-56 0 74 0 79 1-170 0-28 0 25 0-35 0-89 0 185 0-75 0 24 0 142 1-141 0 123 0 34 0-172 0 113 0-26 0-105 0 50 0-63 0 95 0-13 1 35 0-16 0-99 0 88 0 18 0-11 0 28 0-114 0 273 1-78 0 10 0 22 0-245 0 166 0 55 0-172 0 98 0-59 0 90 1-33 0-7 0 42 0-276 0 289 0-28 0-140 0 51 0-16 0-5 0 59 1-89 0 185 0-169 0 146 0-224 0 179 0 61 0-95 0 156 0-116 1-115 0 88 0-134 0 116 0-69 0 16 0 171 0-275 0 190 0-19 0-47 1 76 0-123 0 231 0-157 0 18 0 66 0-124 0 6 0 34 0-104 1 99 0 158 0-253 0 44 0 126 0-107 0-151 0 125 0 9 0-90 0-10 1 191 0 116 0-146 0-124 0 270 0-69 0-207 0 205 0-96 0 151 1-102 0-105 0 68 0-5 0 142 0-181 0 96 0-110 0 154 1-80 0 73 0-8 0-112 0 99 0-122 0 65 0 55 0 140 0-235 0 119 1 39 0-24 0-176 0 133 0-29 0-140 0 65 0-26 0 56 0 17 1 81 0 115 0-281 0 32 0 7 0 87 0-71 0-66 0 229 0-26 0-132 1 89 0-147 0 230 0-236 0 109 0 147 0-78 0-156 0 110 1-216 0 122 0-9 0 150 0-81 0-28 0 53 0 165 0-268 0 129 1-105 0-51 0-32 0 106 0 282 0-342 0 177 0-124 0 134 0-148 1 52 0 109 0-15 0-89 0-29 0 133 0-147 0 74 0 66 0-190 0 203 1 13 0 3 0-274 0 274 0-33 0-79 0 65 0-38 0 65 0-285 1 157 0 141 0 25 0-36 0-134 0-41 0-151 0 436 0-392 0 303 1-1 0-217 0 183 0-53 0-4 0-43 0-29 0 59 0 26 0-195 0-26 1 65 0 114 0-11 0-249 0 192 0 29 0-44 0 96 0-11 1-76 0 204 0-203 0 120 0 11 0 95 0-111 0-54 0 195 0-247 0 59 1-154 0-11 0 89 0 203 0-66 0 53 0-166 0 111 0 61 0-173 1 57 0-21 0 83 0-93 0 24 0 69 0-53 0-104 0 83 0 158 1-133 0 54 0-40 0-198 0 209 0 136 0-267 0 12 0-15 0 65 1-90 0 32 0 168 0 77 0-295 0 20 0 116 0-180 0 183 0-27 0 10 1 47 0-110 0 118 0-317 0 271 0 173 0-97 0-178 0 97 0 73 1-126 0 215 0-282 0 145 0 170 0-248 0 6 0 100 0 76 0-97 0 155 1-187 0-33 0 25 0 18 0 3 0 67 0-322 0 105 0 78 0 20 1-3 0 15 0 104 0-106 0-167 0 248 0-111 0 157 0-135 1-115 0 255 0-99 0 47 0 131 0-297 0 71 0-96 0 177 0 73 0-21 1-207 0 117 0 77 0-172 0 81 0 32 0-72 0 41 0 22 0-181 1 0 0 97 0 134 0-140 0 170 0 0 0 3 0-115 0 75 0-193 0 102 1 89 0 54 0-68 0 106 0-115 0-24 0-5 0 151 0-332 0 302 1-27 0 15 0-157 0 204 0-196 0 83 0-43 0 136 0-102 0 72 1-6 0-70 0-90 0 140 0-57 0 5 0-65 0 44 0-15 0 230 1-118 0-75 0-90 0 197 0-207 0 58 0 52 0-39 0-79 0 129 0 18 1-40 0 114 0-194 0 73 0 67 0-64 0-106 0 82 0 12 0-17 1-18 0-5 0 86 0 110 0-129 0 8 0-163 0-77 0 232 0 50 1-122 0 67 0-39 0 232 0-290 0 14 0 23 0-6 0 80 0 59 0-75 1-119 0-3 0 113 0-75 0-16 0 136 0-115 0 90 0-227 0 346 1-79 0-264 0 260 0 43 0-98 0-108 0 91 0-12 0 138 0-201 1 77 0-75 0 214 0-167 0 28 0-49 0 52 0 52 0-286 1 337 0-77 0 30 0-50 0-19 0 144 0-198 0 161 0-294 1 173 0 47 0-62 0-6 0-55 0 104 0-30 0 10 0 5 1 26 0-93 0 81 0-10 0 47 0 40 0-70 0-3 0-50 0-49 1 139 0-71 0-217 0 200 0 146 0 70 0-294 0 79 0-151 0 241 1-42 0-32 0 37 0 59 0 48 0-125 0-51 0-21 0 176 0 46 1-277 0 245 0-79 0 13 0-16 0-78 0 108 0-231 0 184 0 141 0-154 1-80 0 81 0 89 0-68 0 90 0-140 0-86 0 173 0-107 0-29 1 141 0-123 0-20 0-101 0 177 0 123 0-360 0 79 0 197 0-112 0 152 1 57 0 54 0-137 0-134 0 11 0 208 0-4 0-214 0-44 0 249 1-23 0-61 0-100 0 102 0-127 0 154 0 13 0-168 0 1 0 153 1-51 0-2 0-116 0 180 0-29 0-256 0 225 0 41 0 40 1-224 0 130 0-23 0 49 0-14 0-102 0 41 0 107 0-61 0 51 0-27 1-6 0 152 0-183 0 51 0 155 0-157 0 37 0 61 0-157 1 27 0 57 0-176 0 208 0 67 0-158 0-76 0 223 0-151 1-114 0 48 0-48 0 137 0 253 0-122 0-25 0-35 0-177 0-18 1 200 0-120 0 176 0-132 0 37 0 44 0-18 0 77 0-49 0-19 1-50 0 52 0-118 0 53 0 24 0 8 0-40 0 41 0-44 0-47 0 73 1-89 0 23 0 56 0-127 0 139 0-166 0 175 0-115 0 110 0 54 1 7 0-83 0-53 0 73 0-202 0 163 0 73 0-101 0-136 1 346 0-293 0 140 0-11 0 72 0-57 0 68 0-198 0 155 0 72 1-73 0-154 0 66 0 76 0 170 0-193 0-15 0-1 0-24 0-14 0 122 1-135 0 141 0-228 0 131 0 53 0 31 0-128 0 140 0 14 0-156 1 119 0 27 0-107 0-101 0 109 0 28 0 113 0-116 0-201 0 205 0-5 1-210 0 245 0-54 0 65 0-2 0-120 0 151 0-42 0-63 0 20 1 7 0 48 0 44 0-76 0 13 0 1 0-18 0-1 0 123 0-360 0 137 1 146 0 40 0-166 0-44 0 114 0 6 0-50 0-148 0 288 0-25 1-57 0-140 0 61 0 5 0-215 0 222 0 128 0-142 0-11 1 103 0 45 0 6 0-90 0-60 0 162 0-166 0 81 0 32 0-14 0 14 1 14 0 22 0 71 0-191 0 140 0-115 0 28 0-84 0 78 0 17 1 68 0 26 0-155 0 20 0-13 0 73 0-87 0-34 0 7 0 137 0-133 1-6 0 129 0-160 0-69 0 168 0-1 0-49 0-10 0 122 0-9 1-20 0-102 0-30 0 130 0 82 0-171 0 35 0-7 0 166 0-103 1-70 0 58 0-146 0 206 0-53 0-194 0 57 0 265 0-133 1 10 0-8 0-52 0-12 0-122 0 264 0-138 0 42 0 50 0-156 0 188 1-46 0 7 0 63 0-78 0-99 0 22 0 37 0 74 0 5 0-129 1-7 0 92 0-173 0 385 0-229 0 50 0 120 0-317 0 209 0-30 1-205 0 256 0-66 0 9 0-50 0-54 0-4 0 4 0 91 1 61 0 33 0-158 0 120 0-120 0 89 0-18 0 17 1-132 0 16 0 177 0-166 0 255 0-167 0 23 0-219 0 184 0 90 0 0 1-21 0-25 0-39 0 64 0 8 0-244 0 353 0-179 0-25 0-84 1 155 0-164 0 125 0-40 0-31 0 33 0-5 0 6 0 181 0-235 0 53 1-6 0 66 0-215 0 65 0 65 0 51 0-108 0 20 0 209 1-192 0-61 0 193 0-127 0 25 0-24 0 86 0 32 0 44 0 16 0-98 1 24 0-97 0 170 0-139 0 98 0-119 0 70 0-48 0-17 0-33 0 41 1-148 0 223 0-6 0 47 0-263 0 165 0-97 0-26 0 214 0-65 1 61 0-71 0 6 0-45 0 120 0-88 0 134 0-153 0 28 0-23 0-35 1 74 0 101 0-116 0 48 0-68 0-172 0 169 0 33 0 47 0-22 1-41 0-29 0 72 0 132 0-84 0 20 0 2 0-119 0-106 0-36 1 245 0-87 0 77 0-144 0-54 0 118 0-79 0 130 0 41 0-167 1-58 0 230 0-16 0-60 0 98 0-62 0-107 0-52 0 90 0-4 0 57 1-29 0-105 0 95 0-9 0 37 0-11 0 20 0-96 0-205 1 120 0 123 0 112 0-46 0-131 0 106 0-119 0 56 0-43 0 152 0-41 1-92 0 98 0-66 0-8 278-146 0 327 0-185 1 12 0-142 0 128 0-94 0 28 0-11 0 301 0-291 0 184 0-178 0 7 1 7 0 147 0-272 0 184 0 46 0-87 0 54 0-34 0-55 1 118 0 86 0-243 0 30 0 52 0-141 0 103 0 127 0-137 0-125 0 140 1 168 0 49 0-229 0-34 0 111 0-88 0 257 0-117 0-51 0-4 1 145 0-333 0 169 0 6 0 170 0-270 0-47 0 165 0 183 0-85 0-211 1-29 0 157 0-87 0-6 0 113 0 65 0-302 0 330 0-286 0 351 0-288 1-15 0 164 0-183 0-18 0 99 0-64 0 7 0 5 0 76 0-10 1 24 0-96 0 53 0-53 0-7 0 244 0-174 0 40 0 167 0-234 0 169 1-212 0-38 0 211 0 16 0-136 0 161 0-25 0 38 0-176 1 87 0 91 0-97 0-30 0 77 0-31 0 48 0 15 0-52 0 121 0-137 1-141 0 133 0 46 0-186 0 183 0-123 0-25 0 99 0-27 0-11 1 251 0-65 0-33 0-155 0 21 0 37 0 8 0 67 0-137 0-45 1 160 0-17 0-22 0 161 0-182 0-42 0 115 0-154 0-29 0-18 1 61 0 76 0-27 0 15 0-29 0 117 0-290 0 260 0-38 0-82 1 2 0 64 0-213 0 397 0-101 0-52 0-163 0 23 0 93 0 80 0-196 1 36 0 124 0-25 0-158 0-31 0 124 0 132 0 73 0-138 0-61 1-66 0 119 0-156 0 91 0-30 0 25 0 241 0-193 0-205 0 306 0-232 1 225 0 6 0-183 0 36 0 89 0-43 0 98 0-98 0 64 0-53 1-291 0 301 0-30 0 54 0-4 0 51 0 6 0-102 0 214 0-159 1-130 0-15 0 69 0-72 0 233 0-2 0-36 0-160 0 1 0 38 1-44 0 62 0 177 0-152 0 41 0-125 0 28 0 68 0 176 0-157 0-5 1-118 0 108 0 136 0-120 0-187 0 111 0 19 0-44 0 94 0 161 1-327 0 131 0-38 0 1 0-12 0 31 0-81 0 130 0 74 0-41 0-175 1 96 0 167 0-173 0-78 0 78 0-54 0 158 0-42 0 7 0-19 1 124 0-103 0 58 0-92 0-29 0-18 0 74 0-120 0 83 0-80 0 160 1 116 0-220 0-61 0 159 0-36 0-27 0 25 0 17 0-281 0 224 0-139 1 131 0-6 0-45 0 77 0-74 0 78 0-41 0 22 0 74 1-27 0-7 0-174 0 223 0-123 0 123 0-105 0-39 0 121 0 8 0-27 1-154 0 37 0 151 0-90 0-110 0 64 0 4 0 94 0-15 0-47 1-114 0 57 0-180 0 298 0-5 0 5 0 86 0-113 0-83 0 116 0 83 1-156 0-16 0 212 0-453 0 202 0 107 0-41 0 126 0-201 1 189 0-171 0 139 0-31 0-112 0 98 0-26 0-24 0 30 0 165 0-215 1 189 0-129 0 85 0-122 0-37 0 48 0-61 0-11 0-88 0 169 1-56 0 143 0-104 0-31 0 109 0 76 0-329 0 183 0 75 0-78 1 28 0-134 0 121 0-15 0-62 0 139 0-77 0 5 0 181 0-101 0-145 1 37 0 110 0-101 0-82 0 229 0-144 0 60 0-70 0 12 0 55 1-90 0-22 0 37 0 12 0-38 0 55 0-224 0 191 0-7 0 228 1-163 0-16 0-72 0 19 0-16 0 26 0 61 0-13 0-70 0-21 1 53 0 180 0-163 0 27 0-110 0 284 0-22 0-102 0-96 0 90 1 1 0-202 0 110 0-178 0 290 0 77 0-257 0 262 0-289 0 216 1-100 0-15 0 38 0 103 0-84 0 118 0-91 0-39 0 108 0-49 0 33 1-64 0 26 0-159 0-6 0 143 0-113 0-77 0 82 0 181 0-186 1 84 0-44 0-80 0 110 0-33 0 76 0-31 0-45 0-38 0-29 0 61 1-251 0 135 0 171 0-33 0-2 0 30 0-66 0 51 0 88 0-1 0-119 1-23 0 76 0-117 0-83 0 57 0-87 0 78 0 290 1-188 0-27 0-75 0 220 0-150 0 77 0-2 0-16 0-132 0 29 0 152 1-13 0-64 0-49 0 166 0-25 0-92 0-2 0 8 0 7 1-128 0 45 0 96 0 69 0-138 0 172 0-37 0-122 0-74 0 81 1 146 0-132 0 163 0-36 0-140 0 11 0-9 0 3 0 23 0 143 1-267 0 171 0-134 0 186 0-211 0 184 0-93 0 157 0-56 0-133 1 169 0-296 0 26 0 185 0 55 0-239 0 161 0-92 1 50 0 143 0-229 0-22 0 109 0-12 0 137 0-15 0 40 1-41 0-82 0 28 0-12 0 28 0-35 0-122 0 239 0-100 0-18 1 17 0-20 0-3 0-72 0 83 0-65 0-4 0 97 0 142 0-142 0 64 1-68 0 61 0-125 0 88 0 252 0-329 0 12 0 75 0 30 0 95 1-268 0 109 0 46 0-154 0 96 0 0 0 5 0-87 0 171 0-144 1 80 0 39 0-29 0-17 0 71 0-224 0 98 0-32 0 216 0-190 1-49 0-89 0 159 0 38 0-112 0 119 0-91 0-5 0 101 0-55 1-183 0 235 0 21 0-77 0 34 0-202 0 27 0 12 0 93 0-44 0 214 1-75 0 143 0-152 0-37 0-100 0 78 0 27 0-252 0 174 0 18 1-78 0 81 0 0 0 156 0-148 0 47 0 92 0-187 0 205 0-145 1 25 0 62 0 29 0-65 0 55 0-145 0 143 0 189 0-295 1-94 0 277 0-173 0 138 0 5 0 15 0-14 0-88 0-52 0 85 0-154 1 80 0-40 0 227 0-75 0-44 0-14 0-61 0 129 0-155 0 21 0-64 1-20 0 40 0 103 0 31 0-48 0-113 0 54 0-49 0-31 1 180 0 49 0 44 0-104 0-23 0 97 0-123 0 55 0 13 0-36 0-13 1-37 0 86 0 50 0 28 0-9 0-77 0-23 0 6 0-318 1 219 0 102 0-68 0 22 0-146 0 220 0-166 0 60 0-51 0 34 0 0 1 30 0 58 0-33 0-135 0 30 0 158 0-97 0-84 0 218 1-54 0 89 0-100 0-134 0 183 0 110 0-249 0 29 0-182 0 159 0 24 1 98 0-136 0 46 0 11 0 27 0-68 0 149 0-24 0-70 0 145 1-278 0-37 0 66 0 34 0-58 0 9 0 170 0-54 0 33 0-119 0 160 1-72 0-3 0-47 0 115 0-67 0-130 0 38 0 107 0 58 0-209 0 141 1 41 0 18 0 133 0-335 0 139 0-49 0-35 0 212 0-23 1 32 0-100 0 80 0-191 0 145 0 15 0-154 0 58 0 86 0-43 1 57 0-44 0 7 0 26 0-76 0 20 0-57 0-76 0 96 0-38 1 46 0-111 0 256 0-128 0 33 0-106 0 133 0-197 0 191 1 117 0-188 0 73 0-60 0-84 0 154 0-25 0-34 0-60 1 76 0-10 0 44 0 50 0-210 0 155 0-108 0-3 0 148 0-34 1-25 0-122 0 125 0-1 0-11 0 53 0 5 0 89 0-252 0 76 1 38 0-127 0 47 0 9 0 36 0-73 0-9 0 159 0-118 0 16 1 25 0-3 0-130 0 151 0-51 0 16 0-122 0 67 0 74 0-120 1 58 0 134 0 56 0-147 0-12 0-39 0 15 0-25 0 4 0-7 1 14 0 84 0-224 0 228 0-23 0 39 0 81 0-42 0-162 0-15 0 94 1 19 0 21 0-114 0 144 0-147 0 84 0-79 0 192 0-174 0 318 1-268 0-3 0 64 0-108 0 103 0-4 0 47 0-202 0 253 0-146 0 114 1-206 0 19 0-137 0 42 0 172 0 154 0-83 0-44 0 40 0-94 1-29 0 238 0-146 0 148 0 69 0-126 0-163 0 7 0 94 0-71 0-28 1-168 0 397 0-179 0-68 0 59 0 87 0-101 0 130 0-177 0 56 1-190 0 92 0-22 0-22 0 152 0-106 0 42 0 20 0 111 0-34 0 67 1-24 0-143 0 16 0 51 0-56 0 7 0 139 0-86 0-58 0 43 1-59 0 170 0-97 0 31 0 21 0 51 0-82 0-69 0-19 0 108 0 97 1-126 0 47 0-57 0 3 0 65 0-132 0 23 0 60 0 45 0 19 0-140 1 36 0 123 0-202 0-39 0 199 0 17 0-155 0 46 0-195 1 168 0 133 0-94 0 87 0-93 0-114 0 205 0 76 0-241 0 146 0 8 1-113 0-63 0 177 0-170 0 258 0-166 0 80 0 44 0-292 0 320 1-25 0-166 0-109 0 157 0 7 0-187 0 378 0-213 0-48 0 40 0 227 1-151 0-157 0 23 0 122 0-157 0 3 0 50 0 120 0-215 0 100 1 103 0 75 0-137 0 104 0-82 0 122 0-98 0-54 0 10 0-68 1 133 0-132 0 90 0-77 0 67 0-147 0 162 0 27 0-180 0 145 1-27 0-54 0 53 0 36 0 11 0-83 0 30 0-63 0 157 1-98 0 151 0-149 0 5 0 215 0-212 0 16 0 158 0-58 0-214 0 31 1 59 0 47 0-113 0 178 0 6 0-14 0-108 0 158 0-146 0-44 1 102 0-146 0 53 0 15 0 123 0-91 0 71 0-41 0-68 0-14 0-16 1 255 0-114 0-24 0-98 0-46 0 125 0-39 1-95 0 74 0-39 0 16 0 47 0-99 0 105 0-43 0 25 0 147 0-134 1-167 0 24 0 163 0 139 0-239 0 66 0-66 0 51 0 113 1-140 0-14 0 88 0-142 0 62 0 164 0-55 0-127 0-129 0 174 0-30 1 135 0-87 0 106 0-7 0 42 0-179 0 155 0-4 0 51 1-271 0 106 0 43 0-100 0-57 0 28 0 55 0 104 0-23 0 37 0-109 1 3 0 143 0-195 0 49 0-1 0-11 0-6 0 103 0 111 0-164 0 33 1-128 0 89 0-24 0 44 0 0 0-93 0 54 0-92 0 148 0-264 1 354 0-199 0 36 0 30 0 16 0 30 0-162 0 44 0 144 0-129 0-53 1 393 0-285 0 21 0 100 0-90 0 19 0 9 0-53 0 168 1-157 0 16 0 39 0-134 0 51 0 42 0-81 0-35 0 240 0-215 0-93 1 114 0 164 0-25 0 60 0-193 0 136 0-50 0-94 0 202 0-91 1 59 0 34 0-153 0 54 0-120 0 178 0-79 0-38 0 13 0-85 0-52 1 233 0-23 0-25 0-74 0-22 0 77 0-7 0-30 0-4 1 127 0-57 0-22 0-13 0 96 0-193 0 24 0 57 0-103 0 199 1-92 0-53 0 20 0-76 0 188 0-53 0-52 0 71 0-55 1-55 0 125 0-42 0-21 0 26 0 43 0-80 0-17 0-39 0 69 1-13 0-55 0-164 0 257 0 28 0-69 0 18 0 18 0 9 0 77 1-86 0 140 0-74 0-172 0 177 0-186 0 51 0-142 0 214 0-246 1 115 0 139 0 57 0-20 0-3 0-218 0 81 0-75 0 234 0-142 0 181 1-75 0-108 0 97 0 34 0-164 0-29 0 192 0-59 1 32 0-33 0-62 0 73 0-129 0 89 0-5 0 24 0-27 0-132 0 98 1 59 0-64 0 146 0-61 0-168 0 172 0 47 0-180 0 131 1-16 0-57 0 107 0-131 0-49 0 19 0 205 0 40 0-166 0 92 0-126 1 130 0-282 0 166 0 9 0 72 0-4 0 29 0-63 0 44 0-63 1 220 0-233 0 103 0-91 0-113 0 111 0 57 0-110 0-29 0 159 0-87 1 59 0-11 0-115 0 76 0-51 0 51 0 16 0-103 0 122 0 25 0 110 1-233 0 29 0 90 0-72 0-58 0 180 0-156 0 140 0-41 0 2 1-54 0-36 0 174 0-217 0 137 0-26 0 110 0-95 0-155 0 141 0-11 1 10 0-43 0 97 0-29 0-52 0-79 0 230 0-236 0 238 0-197 1 20 0 95 0-108 0 60 0 57 0-103 0-9 0 124 0-72 1-148 0 138 0-189 0 257 0 6 0-204 0 63 0 288 0-94 0-84 1-77 0-29 0 68 0-33 0-35 0 86 0-119 0 60 0 63 0-27 0 93 1-26 0-110 0 124 0-52 0-92 0-18 0 91 0-81 0 177 0-123 1-50 0 157 0-105 0-14 0 52 0-7 0-15 0-59 0 61 0 27 0-101 1 125 0 33 0-170 0 13 0 96 0-123 0 295 0-56 0-167 0 155 0-19 1-168 0 121 0-130 0 74 0-44 0-118 0 79 0-31 0 253 0-6 1-94 0-105 0 40 0-41 0 41 0 107 0-103 0-14 0 80 0-63 1-9 0-38 0 133 0-146 0 72 0-1 0 130 0-45 0-6 0-115 1 68 0-54 0-48 0 138 0-95 0 62 0-31 0 93 0-165 0-56 0 240 1-223 0 14 0 212 0-168 0-14 0-59 0 147 0-81 0 75 1-61 0-98 0 159 0-16 0-9 0-97 0 59 0 144 0-47 0-100 0-3 1 56 0 91 0-4 0-119 0 120 0-2 0-132 0-26 0 181 0-76 1-69 0 37 0 109 0-34 0-125 0 173 0-252 0 190 0-164 0 136 0-32 1 119 0-50 0-95 0 46 0 101 0-218 0 123 0-28 0 18 0 64 1-46 0 64 0-109 0-86 0 141 0-9 0 1 0-56 0 48 0-98 1 152 0-92 0-5 0 47 0-154 0 277 0-140 0 123 0-104 0 3 0 103 1-207 0-31 0 163 0 38 0-198 0 168 0-62 0-23 0 93 0-66 1-6 0 25 0-108 0 118 0 3 0 36 0-95 0-28 0-11 0 90 0-56 1 43 0-27 0-8 0-96 0 226 0-135 0-69 0 52 0 131 0-156 1 183 0-103 0-129 0 280 0-91 0-52 0-15 0 12 0 45 0-134 0 187 1-49 0-130 0 57 0 9 0 103 0-166 0 151 0 21 0-250 0 292 1-127 0 84 0-270 0 280 0-122 0 126 0-110 0 48 0-129 0 90 0-3 1-70 0 111 0-112 0 173 0-142 0 102 0-87 0 42 0-191 1 62 0 65 0-10 0 65 0 44 0-57 0-109 0 185 0-69 0-47 0 15 1 36 0 25 0-9 0-40 0 16 0-30 0-51 0 113 0 10 0-175 0 50 1-27 0 143 0 55 0-218 0 137 0 21 0 13 0-64 0-132 1 214 0-208 0 201 0-17 0-11 0 2 0-22 0 77 0-176 0 67 1 121 0-129 0-30 0 32 0 11 0-61 0-21 0 39 0 8 0 103 1-51 0-16 0-18 0-51 0-107 0 122 0-57 0 73 0 34 0-29 1-115 0 81 0 171 0-218 0 101 0 185 0-207 0 181 0-341 0 147 1 107 0-62 0 49 0 23 0-141 0 138 0-25 0 4 0-8 0 27 0-112 1 143 0-118 0 13 0 33 0-53 0 86 0 55 0-183 0 89 0 37 1 33 0-70 0-58 0 57 0-145 0 205 0-16 0-71 0-9 0 0 0-39 1 92 0 61 0-101 0 120 0-279 0 201 0 76 0-112 0-16 0-120 1 181 0 29 0-146 0-11 0 80 0-31 0 98 0-75 0 26 0-19 1 43 0-114 0 1 0 82 0-35 0 113 0-156 0 138 0-173 0-30 0 106 1 62 0 47 0 20 0-103 0-18 0 123 0-65 0-92 0 143 0-205 1 104 0-116 0 164 0-39 0-90 0 128 0 65 0-131 0-12 0 30 0 66 1-76 0 83 0-77 0 24 0-106 0 139 0-89 0 57 0-26 1 113 0-14 0-69 0 58 0-55 0-82 0 78 0 30 0 10 0 106 0-221 1 145 0 103 0-231 0 77 0-65 0-34 0 85 0-89 0 28 0-18 1 182 0 18 0-103 0-188 0 167 0-115 0 110 0 55 0-141 0 96 0-39 1-56 0 22 0-78 0 219 0-168 0 56 0 107 0-129 0-84 0 195 0-66 1 79 0-85 0 183 0-219 0-110 0 130 0 142 0-65 1-45 0 69 0-36 0-126 0-11 0 108 0-81 0-52 0 159 0-98 0-156 1 123 0 98 0 48 0-5 0-106 0 69 0-19 0 13 0-11 0-26 1-15 0 54 0 103 0-95 0-20 0 85 0-43 0 77 0-37 0-204 1 37 0 197 0-10 0-233 0 159 0-5 0-20 0 100 0-96 0-107 1 101 0 76 0-217 0 83 0 55 0 50 0-121 0 177 0-114 0 51 1-5 0 191 0-241 0-94 0 173 0-200 0-38 0 38 0 178 0-82 1 196 0-30 0-117 0 33 0-129 0 231 0-279 0 58 0 61 0-42 1-77 0 63 0-50 0 34 0 100 0 37 0 6 0-76 0-5 0-132 1 26 0 50 0 54 0-84 0 168 0 33 0-215 0 224 0-105 1 105 0-168 0 163 0-137 0 62 0 27 0-40 0-208 0 136 1 120 0 32 0 72 0-265 0 136 0 27 0-29 0-134 0 175 0-254 1 230 0-24 0-13 0-204 0 137 0 60 0-125 0 75 0-68 0 154 1-50 0 106 0 2 0-83 0-61 0 73 0 23 0 18 0-104 0 155 1-119 0 91 0-231 0 92 0 121 0 48 0-119 0 79 0-187 0 202 0-84 1-80 0 79 0-111 0 37 0 75 0 71 0-113 0 52 0-43 0-56 1 114 0 55 0 111 0-342 0 250 0 3 0-13 0 53 0-129 0 37 0 68 1 17 0-128 0-25 0 40 0-83 0 158 0-44 0 33 0-51 1 53 0-243 0 333 0-151 0-10 0-11 0-69 0 50 0 16 0 41 1 40 0-190 0 49 0 8 0 54 0 58 0-80 0-10 0-16 0-4 0-25 1 59 0-52 0 232 0-171 0-139 0-7 0 84 0 113 0 45 0-197 1 226 0-97 0-156 0-1 0 35 0 155 0-14 0-24 0-19 0-18 0 25 1-1 0-39 0 102 0-189 0 102 0-54 0 72 0 11 0-78 1 169 0-172 0 33 0 188 0-158 0 176 0-158 0 11 0-16 0 30 1 35 0-97 0 31 0 20 0 4 0-25 0 28 0 16 0-45 0-3 1 46 0-36 0-79 0 33 0 15 0 49 0 145 0-82 0-70 0 45 0-54 1-24 0 100 0-92 0 32 0 70 0-144 0-57 0-9 0 22 1 305 0-161 0 111 0-268 0 78 0 105 0-50 0 56 0-128 0 37 0-35 1 25 0 143 0-104 0-6 0-49 0-9 0-186 0 258 0-53 0 9 0 155 1-73 0-53 0 40 0 15 0 24 0-55 0 57 0-134 0 22 0 46 1-55 0 54 0-28 0-46 0-41 0 86 0 27 0-189 0 281 0-20 0-74 1 2 0-169 0 296 0-83 0-96 0-37 0-31 0 248 0-205 0 209 1-222 0 233 0-206 0 27 0 123 0-147 0 99 0 58 0-78 0-15 0 67 1-218 0 221 0-66 0-136 0 261 0-277 0 69 0 237 0-68 0-5 1-91 0 101 0 25 0-185 0-92 0 28 0 58 0 42 0 36 0-124 0 43 1 72 0-86 0 82 0-21 0 95 0-337 0 91 0 149 0-11 0 43 1-97 0 44 0-58 0 266 0-170 0 49 0-40 0-25 0-174 0 297 0-88 1-74 0-41 0 101 0 86 0-140 0 160 0-186 0 124 0-57 0-98 0 132 1-40 0-46 0-150 0 183 0-121 0 123 0-14 0 161 0-17 0-194 1 181 0 42 0-122 0 95 0-52 0 16 0-59 0 27 0 124 0-260 0 163 1-89 0 119 0-82 0-55 0-21 0-68 0 94 0 20 0 35 0-14 1 84 0-135 0 64 0-100 0 64 0 122 0-153 0-104 0 145 0 106 0-160 1 123 0-20 0-123 0 71 0 75 0-35 0-104 0 72 0-77 0 63 1-38 0-86 0 23 0 110 0-16 0 117 0-182 0-72 0 311 0-334 0 337 1-166 0 173 0-152 0 65 0-211 0 276 0-173 0 7 0-123 0 123 1-7 0-52 0-16 0 222 0-145 0-59 0 75 0 36 0-9 0 123 1-183 0 120 0-77 0-100 0 156 0-102 0 14 0-83 0 229 0 26 1-192 0 82 0-123 0 44 0 19 0 86 0-28 0-48 0-39 0 1 0 43 1-83 0 147 0-83 0 28 0 85 0-90 0-80 0 22 0 81 0 67 0-21 1-273 0 235 0-60 0 209 0-82 0 81 0-248 0 74 0 116 0-297 1 111 0 70 0-74 0 81 0-30 0-45 0 174 0-173 0-55 0 79 0-5 1-102 0 96 0 125 0-25 0-66 0 76 0 0 0 9 0-82 0-37 1 134 0-145 0 114 0-23 0-52 0-64 0 103 0-19 0 124 0-93 0-139 1-37 0 253 0-155 0 124 0-50 0 60 0-110 0 127 0-50 1-18 0-66 0-72 0 62 0 196 0-247 0 88 0-16 0 29 0-30 0-49 1 257 0-311 0 215 0-15 0-149 0 31 0 154 0-151 0 106 0 24 1-9 0-34 0 79 0-99 0-109 0 8 0 41 0 140 0-178 0 196 0-61 1 16 0-121 0 66 0 59 0-142 0 4 0 82 12-147 0-23 0 141 0-87 1 160 0-103 0 16 0-2 0 77 0-59 0 9 0 80 0 12 0-134 0-89 1 162 0-69 0 17 0-111 0 124 0 30 0-93 0 70 0 15 0 10 1 21 0 30 0-100 0 243 0-224 0-95 0 14 0 96 0 90 0-133 0-153 1 183 0-27 0-69 0 203 0-80 0-21 0-143 0 7 0 112 0-33 1 45 0 17 0-176 0 222 0 79 0-125 0-54 0 52 0-93 0 75 0-31 1 56 0 2 0-125 0 61 0 9 0 85 0-170 0 91 0 35 0 72 0-93 1-65 0-39 0 10 0 175 0-77 0 127 0-267 0 186 0-71 0-98 1 147 0 72 0 22 0-131 0 43 0 82 0-1 0-103 0 35 0-18 0 2 1 118 0-131 0-162 0 313 0-126 0-14 0 88 0-149 0 277 0-197 1-14 0-42 0 6 0-6 0 107 0-1 0 10 0-210 0 28 0 114 0 27 1-52 0-16 0-116 0 155 0-142 0 39 0 100 0 45 0-173 0 77 1-2 0-182 0 209 0-19 0-44 0 104 0 1 0-68 0 86 0 24 0-73 1 158 0-54 0-187 0 89 0 120 0-88 0-89 0 18 0-67 0 156 1-7 0-57 0-140 0 160 0-119 0 124 0-93 0 24 0 94 0 110 0-273 1 137 0 184 0-158 0-93 0 114 0-100 0 99 0-52 0-114 0-90 1 113 0 9 0-161 0 260 0 10 0-89 0 120 0-27 0-9 0 27 0-148 1 118 0-69 0 97 0-94 0 41 0 33 0-122 0 5 0 298 0-211 0 151 1-136 0 28 0-66 0 22 0-58 0-25 0 147 0-144 0 117 0-9 1 126 0-215 0 153 0-54 0-88 0-41 0 118 0-63 0 167 0-266 0 26 1-21 0 63 0 188 0-52 0-118 0 103 0-165 0 33 0 57 0 4 1 77 0-134 0-35 0 171 0-82 0 159 0-231 0 132 0-4 0-49 0-111 1 101 0 26 0 52 0-42 0-121 0 62 0-19 0 53 0 26 0-50 1 50 0 22 0 26 0 54 0-352 0 368 0-23 0-170 0-8 0 160 0-114 1-6 0-34 0-122 0 132 0-111 0 166 0 16 0-77 0 18 0 154 1-154 0 188 0-87 0-66 0 34 0-57 0-145 0 55 0 16 0 90 0 63 1-244 0 65 0 78 0-16 0 166 0-319 0 301 0-91 0 83 0-27 0-8 1-75 0 71 0 7 0-130 0 144 0-143 0 68 0-45 0-18 0 1 1 53 0 39 0 75 0-78 0 77 0-74 0-165 0 7 0 131 0 130 0-115 1-79 0-57 0 158 0-177 0 85 0 133 0-100 0 127 0-133 0 75 1-169 0-22 0 204 0-125 0-49 0 128 0-38 0-147 0 256 0 5 1-30 0-69 0-8 0 39 0-149 0 67 0 10 0 145 0-156 0 43 1 13 0-81 0 210 0-208 0 179 0-146 0 161 0-84 0 6 0-76 0 15 1 69 0 50 0-21 0-20 0 49 0-164 0 300 0-114 0-73 0 5 1-147 0 148 0-71 0-54 0 32 0 100 0 245 0-301 0 13 0-45 0-37 1-105 0 234 0-222 0 134 0-41 0 0 0 147 0-151 0 191 0-100 0 63 1-42 0-16 0-104 0 62 0 15 0-26 0-12 0 57 0-71 0 31 1-10 0 78 0-183 0 166 0 61 0-85 0 64 0 29 0-65 0 77 0-169 1 74 0 13 0-73 0-1 0 177 0-50 0-92 0 42 0-57 0-96 1 55 0 84 0 73 0 158 0-283 0 176 0-233 0 138 0-57 0 198 1-251 0 99 0-113 0 184 0-130 0 125 0-176 0-38 0 84 0 157 1-223 0 76 0-38 0-9 0 182 0 19 0-32 0-62 0 6 0-70 1 6 0-45 0 48 0 164 0-103 0-152 0 206 0-26 0-96 1 12 0-101 0 144 0-155 0 34 0 110 0-205 0 303 0-226 0 114 0 15 1-79 0-43 0 8 0 160 0-118 0-68 0 102 0 73 0-47 0 124 1-164 0 82 0-67 0 115 0-199 0 96 0 98 0-165 0 77 0 33 0-49 1-91 0 99 0 15 0 5 0-152 0 81 0 156 0-206 0 32 0-93 0 142 1-164 0 295 0-143 0 130 0-157 0 107 0-124 0 12 0 219 0-264 1 96 0-95 0 117 0-59 0 92 0-81 0 79 0 20 0-157 0-46 0-7 1 116 0 151 0-43 0-143 0 18 0-14 0-31 0 77 0-45 0 210 1-150 0-37 0 106 0-34 0-28 0 9 0-102 0 62 0 224 0-210 0-21 1 24 0-83 0 179 0-12 0-122 0-104 0 187 0-125 1-46 0 49 0-6 0 24 0 18 0 63 0-85 0 71 0 66 0-116 0 57 1-30 0 39 0-85 0-91 0 191 0 23 0-112 0 57 0 54 0-54 1 172 0-201 0 8 0 7 0-176 0 212 0-113 0 62 0 13 0-151 1 227 0-43 0-183 0 88 0 167 0-179 0 101 0-50 0-108 0 185 0-174 1 246 0-175 0 20 0 56 0-61 0 65 0-65 0 78 0-47 0-193 1 232 0 11 0-74 0 125 0-188 0 70 0 4 0-6 0 165 0-273 0 185 1-15 0-178 0-34 0 204 0-179 0 181 0-7 0-146 0 149 0 4 1 56 0-114 0-37 0 178 0-121 0-51 0 29 0 95 0-68 0-27 0 166 1-144 0-68 0 24 0-79 0 28 0 95 0 225 0-217 0 21 0 2 1 60 0-258 0 286 0-205 0 137 0-90 0-20 0 68 0 98 0-128 0 160 1-140 0 15 0 86 0-66 0-48 0-13 0 117 0-223 1 46 0 19 0 252 0-198 0 84 0-58 0-87 0 12 0 70 0 137 0-183 1-35 0 6 0 200 0-211 0 91 0-21 0-105 0 109 0 122 0-115 0-25 1 19 0-11 0 17 0-270 0 295 0-35 0-55 0 71 0 169 0-314 1 237 0-103 0 23 0-186 0 171 0-50 0 61 0 44 0 42 0-141 0-73 1 102 0 93 0-192 0 248 0-253 0 82 0-34 0 68 0 35 0 80 1-112 0 7 0 47 0 42 0-45 0-105 0-88 0 140 0-15 0-104 0 37 1 92 0-173 0 336 0-229 0-47 0 4 0-35 0 59 0-8 0 173 1-17 0-68 0 8 0 10 0-119 0-118 0 134 0 39 0-3 0 87 0-55 1-84 0 56 0 64 0 12 0-90 0-36 0 51 0 83 1-105 0 60 0-35 0 61 0-182 0 209 0-30 0-8 0 72 0 127 0 14 1-181 0-19 0 51 0-134 0-105 0 155 0-13 0 0 0-35 0 107 1 0 0 4 0-259 0 243 0-20 0 17 0-135 0 115 0 66 0-383 1 413 0-353 0 145 0 74 0-59 0 138 0-39 0 35 0-212 0 247 0-189 1 179 0-41 0-142 0-38 0 199 0-125 0 17 0 17 0-57 0 220 1-82 0 14 0 211 0-237 0 68 0-265 0 7 0 2 0 215 0 10 0-30 1 58 0-140 0-33 0 91 0-13 0 41 0-73 0 154 0-299 0 136 1 2 0 5 0 45 0-25 0 97 0-157 0-67 0 5 0 33 0-84 0 242 1-25 0-235 0 141 0-34 0 188 0-235 0 224 0 40 0-60 0-16 1 64 0-34 0-261 0 160 0 2 0 41 0-88 0-67 0-41 0 303 0 32 1-238 0 193 0-202 0 102 0 74 0-167 0 23 0 91 0-123 0-22 1 101 0 9 0 106 0-68 0-146 0 186 0-59 0-144 0 81 0 176 0-243 1-8 0 199 0-66 0-13 0 65 0-150 0 171 0-6 0 97 0-157 0-14 1 101 0-188 0 13 0-133 0 239 0-105 0 11 0-18 0 100 0-45 1-67 0 21 0 23 0-98 0 175 0-140 0 73 0-52 0 122 0-1 1-86 0 1 0-31 0 278 0-111 0-98 0-19 0 75 0 76 1-339 0 168 0 83 0-145 0 87 0-56 0 2 0 26 0-117 1-106 0 176 0 55 0 87 0 53 0-66 0-130 0 82 0-22 0-21 1 217 0-188 0 20 0 23 0 30 0-149 0 108 0 164 0-167 0 91 0-14 1-148 0 61 0-90 0-30 0 154 0-161 0 148 0-37 0 81 1-42 0-161 0 194 0 0 0 118 0-196 0-84 0 299 0-203 0-13 0 104 1 4 0-83 0-4 0-175 0 157 0 41 0-49 0 152 0-316 0 192 0 71 1-4 0-235 0 348 0-356 0 123 0 6 0 139 0-165 0 228 0-65 1-132 0 50 0 11 0 48 0-30 0 38 0 115 0-157 0-100 0 14 0 198 1-251 0 45 0 111 0 89 0-13 0-124 0-93 0 6 0 324 0-226 1-16 0 142 0-165 0-24 0-14 0 93 0-60 0-79 0 200 0 47 0-220 1 16 0 58 0 110 0-109 0 20 0 139 0-50 0 18 0 97 0-330 1 100 0-22 0 140 0-132 0-103 0 212 0-176 0 45 0 167 0-78 0 10 1-25 0 101 0-105 0-27 0 179 0-184 0 156 0-218 1 72 0 92 0-9 0-38 0-7 0-99 0 171 0 20 0 14 0-28 1-90 0-147 0 20 0 32 0 156 0-156 0-44 0 198 0-129 0 76 0-2 1-140 0 185 0-47 0 6 0-127 0 91 0-151 0 241 0-177 0 137 1-24 0 81 0 1 0 36 0 19 0-82 0-200 0 97 0 68 0-51 1 41 0-91 0 103 0-70 0 237 0-293 0 79 0-111 0 226 0-125 1 30 0-163 0 74 0-20 0 59 0 46 0-126 0 237 0-2 0-124 0-3 1 83 0 24 0-153 0 211 0-187 0 63 0 12 0 60 0-172 0 270 1-95 0-85 0-10 0-5 0 41 0-20 0-175 0 78 0 96 0-40 0-4 1 40 0-38 0-29 0 25 0 190 0-124 0-61 0 43 0-154 1 10 0 71 0 54 0-57 0-11 0 294 0-267 0 111 0-107 0 168 0-149 1 82 0-109 0 26 0 1 0-114 0 98 0-7 0 6 0-132 0 120 1 13 0 155 0 181 0-366 0 5 0 55 0-95 0-92 0 124 0-86 0 126 1-135 0 193 0-67 0 123 0-136 0 16 0-116 0 169 0 25 0-55 0-24 1 190 0-94 0-236 0 231 0-216 0 64 0-70 0 12 0 106 0-10 1 96 0 14 0-12 0 19 0-83 0 21 0-90 0-8 0-41 0 65 0 56 1 54 0-3 0 95 0-216 0 86 0 95 0-141 0 76 1-11 0 95 0-114 0-42 0-8 0 79 0-13 0 31 0 105 0-153 0-5 1 47 0-40 0 163 0-204 0-166 0 277 0 110 0-119 1-19 0 7 0-219 0 88 0 127 0 4 0-45 0-44 0 2 0 86 1-186 0 77 0 85 0-23 0-50 0 151 0-141 0-91 0 123 0 24 1-12 0-177 0 164 0-73 0 66 0 45 0-137 0 177 0 67 0-95 0-62 1 54 0-60 0-86 0 67 0 112 0-98 0 22 0-120 0 187 0-216 0 125 1-43 0 147 0-90 0-138 0 205 0-95 0-40 0 86 0-187 0 58 1 171 0 132 0-35 0-290 0 154 0-170 0 198 0 172 0-280 0 172 1-93 0-35 0-102 0 237 0-89 0 122 0-55 0-242 0 99 0 24 1-51 0 195 0-39 0 75 0-252 0 97 0 124 0-111 0-5 0 101 0-194 1-10 0 127 0-124 0 70 0-81 0 154 0-106 0-142 0 211 0 147 1-156 0-15 0-42 0 187 0-100 0-81 0-61 0 244 0-146 0-101 0 136 1-86 0 61 0-6 0-83 0 68 0 86 0 26 0-95 0 84 1-113 0-72 0 59 0 42 0 23 0-16 0 105 0 15 0-103 0 27 0 11 1-115 0-10 0 70 0 84 0 149 0-260 0-71 0-20 0 68 0 73 0 104 1 10 0-189 0 141 0-8 0-106 0 290 0-66 0-263 0 44 0 19 1 87 0-9 0-104 0-22 0 102 0-167 0 27 0 56 0 3 0 4 0 39 1 104 0-233 0 154 0 138 0-17 0-194 0 210 0-338 0 107 0-43 1 168 0-217 0 128 0 21 0-210 0 177 0 60 0-193 0 178 0 51 0-102 1 257 0-381 0 165 0 43 0-25 0-71 0 23 0 49 0-109 0 245 1-157 0 175 0-227 0 136 0-79 0 169 0-105 0-25 0-143 0 75 0-86 1 13 0 132 0 35 0-89 0 49 0-29 0-34 0-15 0 76 1-72 0 76 0 44 0-73 0-68 0 11 0-29 0 113 0-25 0 79 0 3 1-173 0 139 0-181 0 292 0-261 0 221 0-148 0 45 0-80 0 70 1-88 0-1 0 119 0-2 0-208 0 194 0 104 0-246 0 36 1 82 0-163 0 174 0 3 0 74 0-141 0-106 0 96 0 191 0-16 0-48 1-154 0 118 0-40 0 8 0 16 0-160 0 116 0-64 1 141 0 60 0-16 0-174 0 168 0-68 0-33 0 165 0-40 0-170 0-17 1 105 0-39 0-11 0 72 0 95 0-255 0 87 0 49 0-2 0-15 1-76 0 152 0-135 0 58 0-80 0-19 0 90 0-13 0 1 0 66 0 31 1-240 0 279 0-78 0 119 0-64 0 57 0-161 0-69 0 95 0 104 1-156 0-40 0 60 0 54 0 64 0-72 0 71 0-49 0-166 0 149 0 22 1-154 0 67 0 114 0-66 0-73 0-14 0-70 0-7 0 151 0-129 1 215 0-169 0 149 0 7 0-3 0-75 0 211 0-228 0-6 0 41 0 43 1 38 0-102 0 25 0-106 0 78 0-92 0 110 0-26 0-43 0 45 0-133 1 206 0 11 0 134 0-168 0-123 0 96 0-59 0 56 0-15 1 27 0-88 0 99 0 17 0 7 0-40 0 122 0-126 0 31 0 43 0 15 1-248 0 99 0 44 0-7 0 47 0 97 0 136 0-195 0-32 0-62 1 100 0-42 0 4 0 79 0-81 0-159 0 107 0 90 0-128 0-48 0 255 1-111 0 77 0-167 0 2 0 125 0-27 0 40 0-54 0 38 0-65 1 87 0-100 0 157 0-101 0-176 0 107 0 113 0-106 0 127 0-184 0 125 1 109 0-223 0 60 0-54 0 103 0-77 0 156 0-137 0 58 1-25 0 47 0-43 0 20 0-104 0 192 0-178 0 168 0-290 0 194 0 5 1-65 0 35 0-47 0-51 0 99 0-110 0 171 0-90 0-89 0 214 1 0 0-198 0-73 0-13 0 308 0-83 0 44 0-65 0-163 0 90 1-24 0 5 0 263 0-234 0-75 0 63 0 13 0-90 0 241 0 55 0-257 1 43 0 10 0 105 0-177 0 18 0 34 0 16 0 176 0-125 1-188 0 202 0-24 0 71 0-34 0-34 0-26 0 120 0-68 0 46 1-170 0 241 0-243 0 202 0-223 0 152 0-104 0 90 0-4 1 83 0-180 0 124 0 67 0-15 0-18 0-5 0-148 0 227 0-215 0-33 1 293 0-139 0-7 0-63 0-59 0 304 0-176 0 11 0-178 0 128 1-55 0 24 0-62 0 39 0-175 0 265 0-144 0 140 0-108 0 65 0 55 1-130 0 21 0-49 0 158 0 38 0-103 0-92 0 4 0 107 0 33 0-28 1-35 0-102 0 290 0-142 0-191 0 102 0 27 0-148 0 96 0 57 1 145 0-265 0 119 0-28 0 109 0-81 0-87 0 180 0-81 0-31 0-62 1 91 0 34 0 47 0-86 0 185 0-126 0-106 0 100 0 20 0 83 1-82 0 80 0 124 0-232 0-173 0 210 0-22 0-18 0 25 0-90 0 62 1 11 0 115 0-177 0-161 0 344 0-188 0 87 0 10 0-206 0 153 1 78 0-15 0-139 0 104 0-38 0-109 0 189 0-82 0 7 0-28 0-116 1 167 0-156 0 112 0 43 0 48 0-38 0-20 0 61 0 18 0-39 1-44 0-99 0 203 0-90 0 7 0-65 0 129 0-171 0-88 0 221 0-144 1 115 0 14 0-28 0 72 0-63 0 167 0-122 0 1 0 0 1-102 0-16 0-26 0 157 0-76 0-134 0 170 0-83 0 42 0-63 0-79 1 228 0-86 0-62 0 83 0 21 0 24 0 171 0-328 0 111 0-94 0 96 1 70 0-79 0 62 0-40 0 1 0 0 0-12 0-85 0 25 0 82 1-118 0 147 0-73 0-85 0 82 0-10 0 21 0 94 0 102 1-41 0-66 0-8 0-191 0 45 0 27 0 5 0-2 0 223 0-331 1 159 0 36 0 96 0-92 0-48 0-104 0 118 0 43 0-18 0-38 1-147 0 131 0 45 0-134 0 56 0-117 0 127 0 82 0-129 1 122 0 24 0-144 0 215 0-260 0 93 0-54 0 33 0-4 0 27 0 28 1 45 0-66 0 138 0-156 0-170 0 151 0-133 0 164 0 191 1-357 0 241 0-153 0 235 0-112 0 45 0-80 0 61 0-211 0 116 1-19 0-121 0 187 0-117 0 238 0-100 0-2 0 24 0-108 0 4 0 208 1-68 0-94 0 51 0-27 0-14 0 62 0-49 0-63 0 57 0 81 1-27 0-50 0 17 0-111 0 42 0 79 0 14 0 47 0-44 0-150 0 148 1 67 0-227 0-18 0 34 0 73 0-71 0 127 0 90 0-83 0-166 1 23 0 45 0 98 0-34 0-225 0 83 0 193 0-51 0-88 0 32 0 148 1-148 0 101 0-106 0 60 0-68 0 67 0-66 0-26 0 24 0-57 1 149 0-45 0 119 0-203 0 181 0-1 0 113 0-193 0 99 0-101 0-161 1 200 0-249 0 217 0-81 0-35 0 71 0 178 0-162 0 35 0-67 1-11 0 20 0 21 0 89 0 28 0-145 0-36 0 264 0-178 0 34 0 61 1-130 0-64 0 137 0-72 0-157 0 77 0 67 0 201 0-100 0 98 1-124 0-96 0-102 0 143 0 79 0-75 0 20 0-82 0 202 0-173 1 114 0-96 0 33 0-15 0-19 0 170 0-90 0 20 0-116 0 99 0-84 1 92 0-53 0 41 0-155 0 18 0 113 0 60 0-86 0-17 0 15 1-95 0 0 0 138 0-106 0 29 0-72 0 255 0-158 0 87 0 7 0-85 1-41 0-5 0 41 0-88 0 93 0-16 0 147 0-208 0 92 1-86 0 13 0 81 0 20 0-33 0 22 0 39 0-42 0 23 0-104 0 133 1-89 0 13 0-11 0 177 0-115 0 22 0-106 0-73 0 45 0-21 1 191 0-159 0 248 0-272 0 114 0-178 0 123 0 56 1 112 0-121 0-145 0 70 0-12 0-15 0 111 0 49 0-33 0-22 0-86 1 121 0-164 0-17 0 91 0-32 0 109 0-32 0 4 0 135 0-159 1-83 0 89 0-151 0 39 0 148 0 15 0-83 0 142 0-150 0 48 1-111 0-1 0 107 0 126 0-9 0 13 0-27 0-101 0-23 0 62 1 4 0-51 0-140 0 123 0-24 0 67 0-5 0-73 0-62 0 317 0-131 1-59 0-44 0 46 0 74 0-62 0-112 0 128 0-69 0-22 0 52 1 17 0-51 0 209 0-118 0-31 0-112 0-3 0 8 0 232 0-231 0-1 1-51 0 197 0-88 0 37 0-83 0 166 0-104 0 3 0-34 0 26 1-73 0 127 0 7 0-21 0 69 0 32 0-263 0 127 0 64 0 52 1-62 0-154 0 138 0-86 0 19 0 229 0-219 0 65 0-24 0-18 1-149 0 263 0-60 0-6 0-2 0-26 0-35 0 27 0 73 0-183 0-56 1 222 0 66 0-31 0 12 0 13 0-59 0-84 0-8 0 96 0-219 1 391 0-212 0-185 0-126 0 326 0-31 0-135 0 135 0 158 0-245 1 106 0 48 0-200 0 211 0-227 0-23 0 205 0-68 0-105 0 87 0 8 1 22 0 56 0-118 0 133 0-34 0-192 0 118 0-45 0 63 0 130 1-239 0 243 0-171 0-69 0 65 0 136 0-284 0 172 0-171 0 404 0-169 1 20 0-110 0-78 0 67 0-9 0 90 0 5 0 184 0-193 1-127 0 242 0-120 0-53 0 176 0-69 0-27 0 48 0-122 0-75 0 176 1-42 0-72 0 73 0-30 0 61 0-46 0 107 0-30 0-2 1-123 0 94 0 60 0-78 0-48 0 63 0 87 0-52 0 87 0-283 1 92 0 22 0 64 0 160 0-165 0-4 0-115 0 0 0-12 0 183 0-207 1 8 0 134 0 32 0 48 0-13 0-150 0 69 0-8 0 21 0-97 1-85 0 62 0 93 0 90 0-93 0-49 0-37 0-7 0 110 0-164 0 214 1 56 0-224 0 141 0-87 0 189 0-230 0 5 0 39 0-64 1 111 0-5 0-101 0 84 0 10 0 42 0-43 0-5 0-126 0 86 0 35 1-76 0 91 0 33 0-19 0 37 0 5 0-58 0 47 0-142 1 134 0-92 0 63 0-60 0 6 0-7 0 26 0-9 0-25 0 104 1-123 0 227 0-93 0-91 0 18 0 16 0-131 0 259 0-167 0 86 1-6 0-14 0 77 0-150 0 118 0-11 0 83 0-223 0 11 0 161 0 35 1-156 0 225 0-268 0 58 0 131 0 28 0 39 0-316 0 83 0 140 0-63 1-16 0 15 0 136 0-224 0-187 0 210 0 274 0-231 0-172 0 62 1 228 0-134 0-150 0 178 0-32 0 19 0-68 0 83 0-29 0 32 0-16 1-9 0-6 0-22 0 69 0-72 0-47 0 154 0-42 0-67 0 126 1-17 0-112 0 112 0-48 0 36 0-168 0 104 0 106 0-173 0-79 0 192 1-19 0-9 0 99 0-131 0 112 0-60 0 46 0 160 0-215 0-197 1 102 0 107 0-85 0 49 0 60 0 41 0-87 0 123 0-131 0-9 0 15 1-43 0 106 0-212 0 255 0-203 0 164 0-79 0-3 0 55 1 29 0-70 0-192 0 196 0-105 0 28 0 5 0 216 0-189 0 106 1 31 0-122 0-30 0 166 0 7 0-72 0-36 0-41 0 52 0 55 0-7 1-63 0-18 0 9 0-44 0 38 0-77 0-19 0 94 0-107 0 181 1-170 0-38 0 140 0 48 0-44 0 122 0-21 0-115 0 15 0 44 0-171 1 149 0-28 0 3 0-188 0 74 0 42 0-27 0 32 1 89 0-22 0-6 0-31 0 33 0 73 0-193 0 61 0-144 0 152 0 96 1 4 0-100 0 116 0-143 0-67 0 54 0 58 0 96 0-65 0-157 1 174 0 56 0-44 0-30 0 88 0-119 0 104 0-291 0 178 0 70 0 55 1-239 0 83 0 92 0 74 0-130 0 42 0-25 0 179 0-317 0 314 1-71 0-143 0-62 0 74 0-39 0 107 0-17 0-35 0-71 0 119 0 29 1 3 0-46 0 63 0-76 0-12 0-123 0 62 0 82 0 24 1-112 0 106 0-9 0-22 0-102 0 55 0 64 0 42 0-69 0 123 1-109 0 30 0-5 0 11 0-77 0 81 0-66 0 39 0-117 0 172 1-82 0-142 0 240 0-77 0 47 0 48 0-173 0 115 0-55 0-46 1 139 0-24 0-172 0 74 0 39 0-54 0 99 0-101 0-20 0 222 0-188 1 102 0-39 0-130 0 58 0 234 0-191 0 167 0-222 0 1 0 52 1 74 0-19 0-141 0 120 0 98 0-96 0 98 0-215 0 164 0-13 1-36 0 187 0-254 0 49 0-15 0 0 0 73 0-101 0-44 0 77 1 71 0-172 0 42 0 166 0-96 0 85 0-90 0-129 0 212 0-33 0-105 1 114 0-102 0 87 0 14 0-3 0 89 0-111 0 21 0-64 0 131 1-42 0-4 0-113 0 169 0-67 0 8 0-16 0-127 0 112 1-78 0 124 0-77 0-80 0 35 0 79 0-37 0 58 0 16 0-185 1 86 0 1 0-46 0 167 0 17 0-18 0-85 0-70 0 162 1-154 0 72 0 5 0 141 0-210 0 3 0 104 0-11 0-96 0 1 0 38 1 25 0-35 0 71 0-6 0-55 0 18 0-19 0-55 0 128 0 112 1-102 0 86 0-177 0-46 0 7 0 91 0-24 0 90 0-98 0-108 1 41 0 42 0 139 0 1 0-20 0-108 0-72 0 34 0 88 1-89 0 23 0 48 0-116 0 67 0-65 0 68 0 86 0-24 0 126 1-69 0-112 0 114 0-91 0 1 0-111 0 25 0 131 0 34 0 43 1-86 0-45 0-98 0 114 0 4 0 6 0 50 0-32 0-49 0-71 0 63 1-124 0 141 0 44 0 51 0-150 0 221 0-183 0 15 0 102 0-71 1 91 0-150 0 63 0-1 0 1 0-76 0 65 0-155 0 209 0-66 1-38 0 172 0-71 0-67 0 57 0-161 0 113 0 125 0-120 0 27 0-88 1 149 0-37 0-32 0 15 0-195 0 333 0-185 0 0 0-13 0 156 1-147 0 5 0 27 0-87 0 41 0 200 0-244 0 176 0-151 0 42 0-88 1 203 0-2 0 23 0-61 0-83 0 42 0-52 0-27 1 61 0 16 0-28 0 71 0 21 0-121 0 219 0-332 0 209 0-34 1-103 0 4 0-66 0 126 0-63 0 139 0-80 0 19 0 19 0-193 1 158 0 177 0-12 0-149 0-118 0 38 0 17 0 127 0 24 0-136 0-17 1 23 0 11 0 3 0 77 0-43 0 26 0-129 0 127 0-32 0 6 1-182 0 455 0-304 0-62 0 131 0 90 0-241 0 110 0 17 0-28 0-68 1 247 0-247 0 120 0 37 0-112 0-29 0 211 0-133 0-31 0-67 0 20 1 88 0-86 0 24 0 80 0-75 0 3 0 16 0-113 0 156 0 9 1-35 0-66 0 29 0 67 0-111 0 29 0 81 0 121 0-220 0 49 0 43 1-81 0 52 0-81 0 53 0 57 0 26 0-191 0 54 0 116 1 103 0-61 0 11 0 10 0-105 0 76 0 46 0 36 0-201 0 74 0-168 1 132 0 36 0-4 0-75 0 60 0-77 0 144 0-176 0 132 0-24 1-3 0-64 0 24 0 62 0-2 0-107 0 43 0 191 0-142 0-22 1-55 0 52 0 47 0-84 0 119 0-6 0-33 0-14 0 23 0-98 1-49 0 48 0 70 0 211 0-316 0 150 0-80 0 39 0-148 0 179 0 22 1-98 0 32 0 71 0-40 0-50 0 38 0 14 0-103 0 40 0 125 0-113 1-85 0 139 0 43 0-102 0-56 0 83 0 49 0 92 0-117 0-133 1 108 0 74 0-38 0-144 0 254 0-151 0-113 0 15 0 159 0-61 0 100 1-215 0 48 0 52 0-36 0 159 0 51 0-98 0-106 0-51 1 71 0 58 0 45 0 25 0-190 0 53 0 43 0 77 0 65 0-139 0 7 1-8 0 40 0-254 0 264 0-103 0-37 0 187 0-36 0-84 0 211 1-178 0-124 0 132 0 107 0-62 0-155 0-20 0 126 0-25 0 115 0-114 1-61 0 107 0 32 0-154 0 210 0 14 0-267 0 364 0-369 1 35 0 89 0-33 0-60 0 38 0-8 0 55 0-155 0 188 0-89 0 113 1-47 0 30 0-80 0 0 0 39 0 143 0-39 0-179 0 29 0 104 0-127 1 181 0-196 0-119 0 32 0 165 0 48 0-31 0-41 0 37 0-42 1 118 0-106 0-43 0 129 0 82 0-203 0-40 0 288 0-118 0-142 0-52 1 56 0 139 0 120 0-251 0 142 0-108 0 83 0-64 0 149 1-134 0 58 0-38 0-75 0 8 0 37 0-275 0 342 0-21 0 33 0-122 1 33 0-57 0 167 0-122 0 78 0 15 0-209 0 271 0-122 0-6 1-146 0 136 0-81 0 104 0-63 0 167 0-20 0-107 0-98 0 231 0-169 1-37 0 62 0 44 0 46 0-18 0 4 0 47 0-72 0 69 1-8 0-92 0 45 0-35 0 75 0-46 0-133 0 111 0 11 0 87 0-41 1 11 0-166 0-22 0 25 0 183 0-178 0 135 0 39 0-18 0-193 0 146 1 26 0-174 0 63 0 72 0-135 0 92 0-5 0 89 0-175 0 170 1-214 0 136 0-75 0 102 0 30 0 136 0-144 0-30 0 100 0-123 0-55 1 201 0-156 0-64 0 166 0-55 0-3 0 39 0 54 0-193 1 78 0 58 0-180 0 113 0-58 0 189 0-180 0-57 0 176 0-41 0-161 1 100 0 2 0 21 0-60 0 150 0-204 0 59 0 58 0-29 0 156 1-117 0 67 0-66 0-60 0 68 0-3 0 71 0-17 0-218 0 236 0-168 1 135 0 25 0-46 0-120 0 185 0-8 0 19 0 18 0-86 1 3 0 75 0-111 0 34 0-22 0-114 0 146 0 14 0 27 0-166 0 48 1 36 0-6 0-59 0 131 0-62 0 1 0-74 0 35 0 217 0-269 1 251 0-82 0-27 0-15 0 58 0 21 0 0 0-87 0 204 0-173 1-154 0 158 0 8 0-79 0-83 0-4 0 107 0 86 0-51 0-70 0-31 1 74 0 14 0-89 0 75 0-44 0-33 0 45 0 43 0-89 0 85 1-77 0-37 0-40 0 160 0-36 0-73 0 181 0-217 0 16 0 117 0-167 1 133 0-41 0 33 0 30 0 113 0-163 0-39 0 43 0-13 1-57 0 131 0 34 0-136 0-15 0-28 0 120 0 35 0-332 0 243 0 23 1 66 0 145 0-108 0-25 0-10 0-58 0 100 0 11 0-74 0-72 1 135 0-154 0-69 0 177 0-97 0-38 0 155 0 100 0-134 0-56 1 135 0-24 0 4 0-78 0-128 0 248 0-98 0 7 0 109 0-76 1-18 0 11 0 6 0-130 0 139 0 93 0-76 0-50 0-83 0-29 0 92 1-83 0 15 0-1 0 55 0-80 0 277 0-203 0-6 0 23 0-64 0 31 1 24 0-16 0 42 0 1 0-260 0 115 0-114 0 302 0-144 0 78 1-3 0-49 0 119 0-66 0-81 0 101 0-36 0-76 0 106 0 11 1-60 0 87 0-113 0 104 0-124 0 104 0-3 0 13 0 26 0-126 1 65 0 70 0 10 0-60 0-69 0 92 0-164 0 117 0-115 0 246 0-239 1 177 0-124 0 73 0-48 0 114 0-66 0 10 0-69 0-8 0-53 1 104 0 8 0-52 0-88 0 100 0-16 0 112 0-155 0 61 0-53 0-20 1 218 0-195 0-97 0 199 0 38 0-83 0 65 0-38 0 38 0-64 1 153 0-244 0 82 0 42 0-118 0 152 0-224 0 264 0-64 0-69 0 21 1 97 0-310 0 219 0 11 0-97 0 96 0 23 0-27 0 14 0-131 0 78 1 77 0 82 0-176 0 172 0 77 0-251 0-2 0 52 0-23 0-84 1 178 0-75 0 158 0-322 0 302 0-133 0 80 0-187 0-51 0 249 0-185 1 82 0 38 0 71 0-8 0-135 0 149 0-136 0 196 0-214 0 82 1 40 0-59 0 11 0-46 0 16 0-33 0 116 0-22 0-32 0-33 0 82 1-87 0 35 0-7 0 40 0-38 0-11 0 117 0-198 0 150 0-7 1 42 0-133 0-18 0 69 0 84 0-53 0-28 0-68 0-31 1 168 0 77 0-107 0-84 0 73 0 3 0-215 0 82 0 74 0-16 1 22 0 27 0-60 0 131 0-74 0 43 0-36 0 2 0 54 0-116 0 60 1-42 0 4 0 160 0-87 0-36 0-81 0 121 0-112 0 43 0 27 1 11 0 26 0 16 0-6 0 0 0-38 0 19 0 38 0-7 0-26 1-81 0-35 0 57 0-33 0-74 0 120 0-126 0 174 0-115 0-7 0 71 1-163 0-22 0 232 0-12 0-118 0 4 0 276 0-229 0-54 0 42 1 125 0-96 0-13 0 120 0-69 0 52 0-71 0 6 0 13 0 21 0-42 1 66 0-65 0 131 0 55 0-172 0-20 0-81 0-41 0 172 0 62 1-64 0-60 0-110 0 53 0 134 0-72 0-150 0 124 0-22 0-1 0 90 1 7 0-60 0 183 0-126 0-3 0 30 0-39 0-14 0 66 0-13 1-37 0-23 0-6 0-2 0 97 0-161 0 27 0-127 0 237 0-180 0 144 1 76 0-109 0-112 0 151 0-16 0-162 0 183 0-51 0 30 0-112 1 273 0-289 0 140 0-152 0 13 0 216 0-235 0 179 0-67 0 169 0 144 1-254 0-48 0 15 0-15 0-165 0 243 0-25 0-38 0-82 0 34 0 64 1-51 0 15 0-147 0 127 0 140 0-40 0 28 0-9 0-15 0-225 1 155 0-80 0-75 0 47 0 82 0 11 0-6 0-68 0 47 0-6 0-89 1 66 0-30 0 64 0 90 0-73 0-62 0-9 0 55 0 84 0-47 1 90 0-109 0-13 0 175 0-242 0 21 0 33 0 15 0 31 0 93 0-175 1 21 0-10 0 21 0 113 0 93 0-144 0 111 0-136 0-24 1 7 0-50 0 100 0 32 0-83 0-32 0 8 0-29 0 87 0-122 0 187 1-94 0-60 0 42 0 87 0-87 0 45 0 37 0-102 0-24 0 37 1 30 0-114 0 90 0 38 0 15 0-36 0 25 0-166 0 258 0-67 1-63 0-47 0 92 0-34 0 46 0-138 0 78 0 86 0 82 0-195 0 75 1-98 0 98 0 61 0-59 0-45 0 108 0-104 0 1 0-56 0 99 1 98 0-92 0-80 0 135 0-100 0-89 0 170 0-147 0 139 0-102 0 103 1-14 0-58 0-81 0 130 0-92 0-32 0 92 0-116 0 42 1 105 0-190 0 84 0 66 0 6 0-43 0 167 0-91 0-153 0 113 0 30 1-67 0 55 0 6 0-121 0 158 0-11 0-20 0 17 0 19 0-101 1 48 0 146 0-201 0-56 0 126 0 51 0-1 0-28 0-173 0 129 0 25 1-121 0 87 0-12 0 67 0-141 0 151 0 61 0-190 0 115 0 61 1-256 0 213 0-133 0 42 0 24 0-72 0 86 0-61 0 114 0-26 1 7 0-102 0 4 0 139 0-45 0-89 0-12 0 108 0-58 0-22 0-33 1 137 0-73 0 18 0-13 0-19 0 88 0-76 0-88 0 17 0 144 1-86 0 51 0-68 0 136 0-26 0-92 0 13 0 87 0-129 0 22 1 28 0-124 0 136 0-81 0 158 0-169 0-32 0 102 0 57 0-83 1 90 0-44 0 27 0 136 0-163 0-9 0-50 0 68 0-28 0-2 0 8 1 10 0 73 0-45 0-26 0-44 0 41 0 50 0-20 0-45 0-23 1-86 0 35 0 26 0 23 0-22 0 72 0-65 0 137 0-73 0 54 0-104 1 35 0-179 0 174 0 14 0 11 0 11 0-86 0 46 0 12 0 23 1-33 0 221 0-57 0-77 0 9 0-106 0-13 0 173 0-96 0-147 0-60 1 64 0 123 0 69 0-40 0-74 0-112 0 140 0-46 0 14 0-161 1 104 0 75 0 120 0 87 0-215 0-111 0 106 0-23 0 70 0 19 0-153 1 156 0-79 0-16 0 164 0-52 0-216 0 172 0-29 0-13 0-18 0 6 1 7 0 16 0 32 0-194 0 59 0 91 0 35 0-124 0 170 0-140 1-103 0 125 0 131 0 50 0-171 0 172 0-209 0-107 0 173 0-23 0 77 1-80 0 11 0-36 0 218 0-231 0 39 0 67 0 48 0 52 1-59 0-99 0-59 0 144 0-121 0 227 0-205 0-26 0 105 0-12 0-172 1 128 0 140 0-61 0 74 0-133 0 175 0-67 0-148 0-46 0 85 1 12 0 24 0 115 0-65 0-124 0 5 0 16 0 95 0 106 0-236 0 207 1-293 0 258 0-24 0 73 0-136 0-26 0 89 0-90 0 0 0 129 1-201 0 173 0-13 0 44 0-102 0-50 0 5 0 114 0-173 0 65 0 21 1-189 0-4 0-13 0 330 0-108 0-3 0 54 0 177 0-156 0-107 0-141 1 118 0-56 0 108 0-28 0-248 0 111 0 188 0 23 0-93 0 37 1 161 0 0 0-189 0 25 0-140 0 200 0-2 0-68 0 12 0 84 1 20 0 2 0-196 0 68 0 34 0 150 0-126 0-57 0-20 0 75 1-23 0-62 0 174 0-157 0 84 0-171 0 96 0 62 0 50 0-134 1-52 0 146 0-55 0-69 0 10 0 238 0-94 0-191 0 277 0-103 1-25 0 37 0-1 0-24 0-7 0-168 0 161 0-114 0 136 0-41 0 112 1-216 0 97 0 42 0-215 0 102 0 86 0 16 0 17 0 27 0-27 1-115 0 68 0-65 0-33 0 6 0 118 0-151 0 149 0 113 0-200 0-150 1 88 0 267 0-192 0 56 0-1 0 11 0-138 0 199 0 59 0-167 0 147 1-39 0-180 0-33 0 123 0-23 0-101 0 261 0-26 0-155 0 124 1-97 0-26 0 153 0-80 0 50 0 39 0 2 0-138 0 77 0-10 0-107 1 31 0-88 0 147 0-64 0 52 0 0 0 55 0 1 0-128 0 24 1 41 0 136 0-158 0-29 0 98 0-67 0 15 0-30 0 205 0-246 0 110 1 96 0-48 0 30 0-172 0 111 0-194 0 153 0 2 0 140 1-224 0 84 0 84 0-220 0 169 0 10 0-169 0 292 0-101 0-66 0-41 1 236 0-255 0-46 0 234 0-189 0 23 0-16 0 131 0-54 0-107 1 142 0-190 0 166 0 38 0-211 0 80 0 91 0 114 0-154 0 23 0 68 1-157 0 50 0-4 0-24 0-115 0 114 0 54 0 59 0 0 0-12 1 50 0-160 0-124 0 146 0 66 0-23 0 112 0-226 0 65 0-3 0 281 1-196 0-99 0 125 0-99 0 34 0 7 0-14 0-32 0 3 0 61 0-182 1 127 0-75 0 185 0-233 0-73 0 388 0-66 0-118 1 61 0-32 0-68 0 66 0 99 0-102 0 31 0-150 0 130 0 82 1-206 0 99 0-95 0 185 0-12 0-122 0-62 0-15 0-30 0 33 1 161 0-102 0-23 0 58 0 17 0 4 0-66 0 127 0-164 0 2 0 95 1-43 0 126 0-88 0 110 0-99 0 216 0-455 0 268 0-45 0 125 1-12 0-188 0 41 0-121 0 33 0 275 0 7 0-94 0 23 0 52 0-138 1 64 0-77 0-16 0 125 0-89 0-99 0 72 0-142 0 179 0-39 1-93 0 28 0 156 0-162 0 147 0 56 0-5 0-99 0 4 0-79 0 101 1-39 0-17 0 82 0-92 0 97 0-147 0 32 0 152 0-65 0 43 0 9 1-31 0-195 0 345 0-239 0 122 0-265 0 277 0-203 0 81 1 99 0-134 0 133 0-126 0 176 0-34 0-89 0 64 0-17 0 76 0-218 1-47 0 113 0 175 0-187 0 28 0-40 0-113 0 167 0-4 0 150 1-231 0-46 0 25 0 90 0-29 0 37 0-20 0-140 0 149 0 50 0-40 1 0 0 119 0-135 0 10 0-27 0 95 0-123 0-25 0-29 0 162 1 159 0-199 0-11 0 128 0-98 0-140 0 243 0 42 0-86 0-290 0 212 1-76 0 146 0-97 0 102 0-150 0 52 0 201 0-180 0-107 1 32 0 3 0-42 0 31 0 22 0 128 0-129 0 71 0-26 0 146 1-262 0 232 0-12 0-120 0-4 0-37 0 121 0-124 0 140 0-175 0 69 1 178 0-98 0 51 0-126 0 161 0-120 0 59 0-60 0 18 0 44 1-224 0 290 0-141 0-128 0 167 0-84 0-12 0 64 0-49 0-70 0-98 1 128 0 104 0-92 0 17 0 112 0-6 0 121 0-108 0 78 0-107 1 53 0-84 0-79 0 107 0-65 0 0 0-151 0 157 0-9 0-51 0 120 1 12 0-46 0-204 0 225 0-167 0 143 0 174 0-389 0 201 0 95 1-136 0-52 0 8 0 117 0-32 0-153 0 261 0-45 0-163 0-22 0 127 1-58 0 78 0-42 0-12 0 74 0-11 0 3 0-144 0 71 1 102 0 31 0 70 0-309 0 241 0-90 0-75 0 150 0 75 0-172 0-150 1 124 0-44 0 41 0 80 0-50 0 111 0-82 0-37 0 125 0-51 0-64 1-32 0 28 0 111 0 9 0-160 0 158 0-68 0 65 0 35 0-18 1-171 0 81 0-10 0 46 0-107 0 57 0-136 0 184 0-59 0-26 0-71 1 167 0-62 0 11 0 53 0-14 0-43 0-98 0-29 0 173 0-86 1 1 0 103 0-274 0 319 0-144 0-53 0 153 0-58 0-68 0 158 0-237 1 275 0-128 0-73 0 18 0-15 0-41 0 110 0-11 0-18 1-87 0 160 0-45 0 81 0-191 0 246 0-153 0 56 0-108 0 67 0-79 1 57 0 50 0 43 0 29 0 0 0-19 0-27 0 43 0-308 0 74 1 152 0 67 0-195 0 19 0 12 0-5 0-68 0 193 0-81 0 55 0-3 1 127 0-37 0-147 0 60 0 77 0-49 0-87 0 30 0-116 0 210 1-65 0-174 0 222 0-14 0 27 0-75 0-64 0 104 0-17 0-126 0-53 1 171 0-87 0 88 0 82 0-33 0-177 0 207 0-273 0 246 0-226 0 119 1 127 0-169 0 104 0-6 0 60 0 63 0-86 0-100 0 201 0-201 1 35 0-116 0-17 0 171 0-168 0 256 0-192 0-46 0-1 0 108 1 62 0-87 0 136 0-180 0 113 0 148 0-231 0 63 0-147 0 62 1 18 0 130 0-240 0 243 0-48 0 8 0 10 0 121 0-145 0-140 0 173 1-69 0-124 0 227 0-102 0-116 0-66 0 37 0 240 0-152 1-110 0 172 0-53 0 183 0-213 0 212 0-86 0 72 0-125 0 77 1 45 0-188 0 79 0-10 0 29 0 4 0-88 0 52 0 101 0-158 1 139 0-214 0 26 0-26 0 134 0-109 0 50 0 62 0 259 0-357 0-62 1 41 0 89 0 33 0-39 0 271 0-282 0 55 0-81 0 77 0-133 0 215 1-40 0 1 0-215 0 219 0-47 0 138 0-135 0-130 0 208 0-255 1 260 0 17 0-108 0 81 0-92 0 241 0-371 0 76 0-26 0 102 0 34 1-65 0 216 0-164 0-15 0-62 0 144 0-203 0 71 0 46 1 82 0-156 0 6 0 161 0-31 0-76 0 66 0-76 0 14 1 152 0-318 0 48 0 229 0-200 0 33 0 201 0-74 0-18 0 36 1 5 0 56 0-288 0 121 0 71 0-72 0-13 0-20 0 87 0-85 0 156 1-18 0-127 0-3 0 222 0-294 0 123 0 181 0-403 0 78 1 110 0 194 0-334 0 303 0-32 0-129 0-86 0 57 0 129 0-172 0 198 1-30 0-122 0-66 0 66 0-97 0 77 0 226 0-185 0 74 0-103 0 221 1-48 0-221 0 85 0 282 0-206 0-68 0-89 0 250 0-91 0 21 1-9 0-47 0-168 0 153 0 110 0 47 0-206 0-83 0 201 0-71 1 4 0-154 0 96 0 146 0-102 0-69 0 25 0 88 0 39 0-32 1-44 0-42 0-65 0 194 0-13 0-9 0-93 0 171 0-207 0 47 0 29 1 49 0-112 0 7 0 130 0 39 0-76 0 24 0-42 0-43 0-59 1 46 0-31 0 66 0-54 0 265 0-241 0 34 0 112 0-193 0-6 0 7 1-38"/>
<path transform="scale(.5)" fill="none" stroke="none" marker-start="url(#mr)" marker-mid="url(#mr)" marker-end="url(#mr)" d="M246 2126l0-121 0-44 0 212 0-250 0 72 1-64 0-64 0 183 0 87 0-91 0-115 0-2 0-31 0 105 1 113 0-115 0 213 0-30 0-118 0-68 0-211 0 124 0 133 0-8 1-65 0 102 0-103 0 89 0 45 0-94 0-26 0-38 0-118 0 141 1 61 0-91 0-197 0 256 0-25 0-150 0 52 0 52 0 106 0 81 0-81 1-48 0-43 0-72 0-130 0 282 0-90 0 31 0-199 1 194 0 33 0 51 0-176 0 33 0-47 0 53 0-23 0 87 0 151 1-160 0-116 0 116 0-115 0 2 0-91 0 140 0-16 0 10 0 146 1-54 0-14 0 70 0-178 0 60 0 11 0-47 0 15 0 34 0-45 1-89 0 75 0-2 0-84 0 23 0 28 0 88 0-128 0-64 1 150 0-39 0 10 0 54 0-23 0-92 0 103 0-135 0 86 0 143 1-112 0-50 0-160 0 25 0 67 0 38 0 37 0 30 1 63 0-25 0 25 0-67 0-45 0-153 0 91 0 172 0 22 0-152 1-74 0-137 0 230 0 64 0-102 0-114 0 228 0-248 0 171 0-128 1 238 0-138 0 107 0-65 0 25 0-147 0-20 0 78 0 59 0-93 1 23 0 17 0-140 0-79 0 184 0-24 0 214 0-166 0 44 0 109 1-58 0 39 0-91 0-32 0-92 0 51 0 2 0 9 0-113 0 82 0-182 1 296 0-117 0-29 0 10 0-59 0 226 0-171 0 39 0-40 1-34 0 126 0-35 0-203 0 135 0-63 0-69 0 261 0-106 0 110 0-60 1-155 0 94 0 1 0-22 0 79 0-122 0-75 0 111 0 290 0-278 1-51 0-27 0 90 0 116 0-84 0 37 0-110 0-71 0 182 0-120 0 48 1-50 0-67 0 61 0 72 0 54 0-43 0-138 0 186 0-147 0 83 1-53 0 3 0 43 0-81 0-170 0 260 0 99 0 2 1 111 0-246 0-90 0 118 0-60 0-88 0 95 0-46 0-118 0 181 1-121 0 205 0-95 0-97 0 154 0 13 0 7 0-103 0-24 0-254 1 235 0 109 0-32 0 40 0-78 0 58 0-186 0 110 0-5 1 78 0-47 0-93 0 33 0-138 0 266 0 26 0 25 0-146 0-64 1 25 0-51 0 196 0-142 0 81 0 38 0-290 0 177 0 99 1-40 0 29 0-130 0-7 0 63 0-92 0 160 0 33 0 183 0-123 1-56 0-211 0 250 0-34 0-38 0-93 0-59 0 5 0-6 0 13 1 63 0 56 0 51 0-29 0-149 0 80 0-52 1-15 0 6 0-23 0 39 0-4 0 127 0 48 0-149 0 44 0 38 0-163 1 11 0 93 0-33 0-125 0 137 0 2 0-147 0 257 0-84 1-65 0-115 0 277 0-220 0-164 0 475 0-183 0-100 0 5 0 33 0-262 1 393 0-276 0 128 0 89 0-84 0-128 0 147 0-24 1 58 0-39 0 151 0-106 0-108 0 79 0-14 0 36 1-226 0 159 0 188 0-174 0 92 0-63 0-134 0-19 0 150 0 31 0-178 1-17 0 149 0 42 0-102 0 111 0-55 0-6 0 133 0-98 1-121 0 105 0-16 0 93 0-135 0 38 0-147 0 220 0-62 0-14 1 42 0-105 0 50 0 31 0-82 0 161 0-219 0 158 0 151 1-178 0 2 0-11 0 77 0-63 0 95 0-252 0 110 1-14 0-95 0 280 0-114 0 88 0-33 0-159 1 119 0-61 0-128 0 96 0-1 0-23 0-29 0 134 0-10 1-100 0 73 0-56 0 85 0 104 0-213 0 327 0-249 0-98 0 44 1-80 0 64 0 165 0-27 0-181 0 29 0 35 0 27 0 168 0-181 0 54 1-241 0 198 0-68 0 50 0 119 0-248 0 191 0 90 0-43 1-31 0-76 0 98 0-101 0 103 0-130 0 10 0 69 0 85 0-164 1 12 0 124 0-141 0 74 0-84 0-6 0 28 0 105 0-54 0-216 1 291 0-111 0 124 0-102 0-158 0 223 0-124 0 82 0-10 1-69 0 55 0-20 0 104 0-16 0 1 0-111 0 166 0 31 1-82 0 82 0-42 0-119 0-35 0 54 0-80 0 72 0-19 1-62 0-36 0 79 0 149 0-84 0 26 0 0 0-172 0 130 0 29 0-90 1 94 0-8 0-1 0-54 0-3 0-104 0 224 0 50 0-120 0-119 1 19 0 179 0-140 0 117 0 42 0-66 0 104 0-138 0-34 0 32 0-64 1 300 0-280 0-45 0-62 0-21 0 162 0 63 0-185 0 132 0 56 0-229 1 43 0 222 0-154 0 32 0 175 0-281 0 150 0-3 0-2 0 52 1-86 0-110 0 212 0-103 0 45 0 91 0-63 0-66 0 241 0-230 0-15 1-9 0-152 0 42 0 249 0-57 0-43 0 171 0-181 0 3 0-99 1 94 0 161 0-159 0-102 0 171 0-115 0 15 0 23 0 60 1-44 0-71 0-161 0 165 0 227 0-211 0 46 0 140 1 32 0-267 0 186 0-170 0 198 0-31 0-175 0 133 0-7 1 39 0-71 0 139 0 5 0-255 0 20 0 74 0 116 1 0 0-66 0-55 0 43 0 18 0-78 0 177 0-147 0 234 0-107 1-89 0-61 0 29 0 72 0-40 0 5 0-41 0 148 0-317 0 317 1-173 0 9 0 153 0-31 0-147 0-32 0 155 0-73 0-48 1-50 0 185 0 28 0-118 0-131 0 185 0 47 0-165 0 18 1-118 0 27 0 205 0-97 0-66 0 198 0 22 0-45 1-90 0 4 0 105 0 47 0-114 0-43 0 26 0 73 0 73 0-188 1-7 0 113 0 15 0-88 0-71 0-93 0 212 0-114 0 125 1-99 0 113 0-55 0 128 0-325 0 145 0-27 0 22 0 23 0 173 1-180 0 125 0-134 0-36 0 107 0-145 0 226 0-138 0-69 1 138 0-13 0-18 0 41 0-102 0-111 0 380 0-190 0-106 0 120 0-14 1 147 0-165 0 52 0 56 0-93 0-37 0-84 0 112 0 54 0-160 1 155 754-198 0 189 0-11 0-22 0-87 0 39 0-52 0 266 0-494 1 314 0-18 0-14 0 88 0-262 0 243 0-145 0 291 0-133 1-141 0 282 0-228 0 8 0 21 1 34 0-165 0 156 0 1 0-42 0 47 1-135 0 178 0-29 0-7 0 58 0-107 0 54 0 63 0-18 1-92 0 134 0 14 0-55 0-206 0 210 0-267 1 302 0-79 0 20 0 46 0-136 0 117 0 25 0-81 0 3 0-51 1-44 0-22 0 36 0 97 0-22 0 39 0 96 0-111 0-110 1 144 0-28 0-61 0 33 0 133 0-90 0 7 1-79 0 173 0-188 0 171 0-121 0 21 0 40 0 20 1-80 0 13 0-21 0 102 0-126 0 63 0 48 1-180 0 169 0 44 0-150 0 142 0-154 0-44 0 66 1-36 0 170 0-207 0 34 0 63 0-14 1-25 0 26 0-41 0 109 0-66 0-77 0-14 0 146 0-95 1 102 0-87 0-18 0 179 0-89 0-135 0-75 1 274 0-150 0 21 0-81 0 257 0-25 0-214 0 196 0-148 1-8 0 114 0-39 0-18 0-83 0 122 0-17 0-41 1 29 0 29 0 65 0-48 0-49 0-9 0 76 0-159 0 165 1-53 0-151 0 217 0-43 0-29 0 5 0-116 0 125 0-172 0 178 0-39 1-61 0 192 0-178 0 128 0-43 0-166 0 283 1-154 0-25 0 89 0-10 1 1 0 54 0-113 0 1 0 24 0-39 0 118 0-121 0 66 1 62 0-56 0-78 0 182 0-94 0-168 0 95 0 15 1 46 0-98 0 112 0-61 0-84 1 79 0 4 0-54 0 6 0 117 0-109 0 142 0-79 1 28 0-38 0 32 0-20 0-100 0 62 0 85 1-32 0 69 0-71 0 27 0-88 0 230 0-250 0-27 0 96 0 1 1-226 0 161 0 30 0 102 0 86 0-183 0 77 0-120 0 163 1-104 0 122 0-123 0-13 0-65 0 240 0-126 0-132 1 189 0-88 0-62 0 59 0 25 0 48 0-278 0 5 0 295 1 23 0-33 0 15 0-183 0 138 0-106 0 66 1 6 0-163 0 106 0 26 0 140 0 15 0-123 0 53 0-285 1 261 0-186 0-51 0 207 0 62 0-102 0 104 0-180 0 91 1 65 0 50 0-77 0-56 0 135 0-27 0-115 0 151 0 36 0-49 1-61 0 104 0-136 0 106 0-51 0-106 0 148 0 52 0-286 0 119 1 21 0 146 0-174 0 184 0-156 0-115 0 210 1-170 0 14 0 33 0 84 0-88 0-55 0 212 0-105 0 52 0 4 1 30 0-149 0 140 0-107 0 73 0 47 0-233 0 258 1-106 0 57 0-115 0 98 0-7 1 65 0-50 0 11 0-50 0-40 0 48 0-19 0 54 0-88 0 13 1 48 0 89 0-78 0-77 0 105 0-28 0-56 0-61 1 17 0 45 0 91 0-49 0-71 0 94 1-94 0 175 0-114 0-111 0 175 0-171 0 128 1-149 0 288 0-106 0-39 0 127 0-164 0 51 1-173 0 23 0 143 0-159 0 274 0-57 0-163 0 80 0-12 0-31 1 154 0-235 0 177 0-207 0 1 0 25 0 152 0-184 0 134 1 60 0-5 0-34 0 37 0-60 0 67 0-163 0 86 0-77 0 74 0 81 1 50 0-272 0 85 0 14 0 123 0-35 0-39 1 158 0-195 0 3 0 155 0-152 0 51 0 61 0-210 1 171 0-42 0 117 0-24 0-37 0 98 0-77 0-75 1 121 0-14 0 70 0 22 0-3 1-124 0-33 0 74 0 86 0-217 1-37 0 94 0 41 0-66 0 7 0 188 0-118 0-32 0-21 0-31 1-60 0-17 0 89 0-47 0 98 0-44 0-22 0 299 1-196 0 77 0-140 0-64 0 36 0-77 1 129 0-35 0-2 0 38 0-130 0 192 0-118 1-57 0 224 0 74 0-288 0 126 0 28 0-58 0 35 1-114 0 109 0-128 0 13 0 144 0-95 0-62 0 64 0 16 1 129 0-92 0 57 0-56 0-8 0 43 0-52 1 45 0 87 0-267 0 147 0-159 0 141 0-38 0 175 0-174 1-61 0 19 0-95 0 223 0-101 0 11 0-26 0 92 0 44 1 20 0-35 0-141 0 31 0 167 0-115 0-34 0 20 0 173 1-242 0 50 0 54 0 4 0-35 0 81 0 93 0-88 0 39 0-79 1 136 0-137 0 79 0 33 0-209 0 244 0-213 1 106 0-141 0 105 0 87 0-29 0-21 0-173 0 106 0 78 1-71 0-173 0 129 0 99 0 1 126-236 0-149 0 66 1 36 0-39 0 113 0-104 0 44 0-44 1 96 0 50 0-232 0 122 0 91 0-72 0 133 0-9 0-111 0 13 1 84 0 53 0-74 0-75 0-49 0 42 0-49 0-3 0 160 1-89 0 85 0-78 0-80 0-28 0 104 0 5 1 57 0-187 0 227 0-231 0 33 0 83 0 115 0-243 1 129 0 184 0-279 0-23 0 168 0-54 1 31 0-109 0-129 0 210 0-22 0 63 0-170 0 198 0-26 1-131 0-11 0 335 0-179 0-160 0 185 0-252 1 191 0-54 0-72 0 142 0-117 0 155 0-94 1 13 0 61 0-111 0-70 0 31 0 106 0-85 0 63 1 98 0-213 0 59 0 50 0 129 0-78 0-27 0-37 1 31 0-8 0-15 0 82 0-96 0 95 0-28 0-8 1-74 0 69 0 105 0-156 0 33 0 157 0-210 0 77 1 101 0-117 0 80 0-208 0 57 0 21 0-24 0 213 1-232 0-172 0 234 0 52 0-64 0 138 0-65 0 70 1-114 0-9 0-61 0 124 0-113 0-108 0 143 1 59 0-9 0-5 0-180 0 98 0-8 0 103 1-33 0-78 0 10 0 166 0-164 0 125 1 67 0-186 0 48 0 73 0-84 0 143 0-64 0-4 0-144 1 40 0 116 0-200 0 164 0-56 0-58 0 73 0-77 0 51 1-105 0 182 0-16 0 16 0-25 0-68 0 173 1-232 0 82 0-2 0 16 0 62 0-145 0 39 0 65 0-105 1 140 0-60 0-132 0 237 0 50 0-374 0 222 1 11 0-3 0 66 0-123 0 83 0 126 0 2 0-171 0-12 1 41 0 20 0-28 0-16 0 82 0-31 0 91 0-181 0 272 1-302 0 8 0 117 0 147 0-145 0-120 0 214 0-195 0 145 1-48 0 10 0-83 0 139 0-203 0 6 0 28 0-36 0 163 1-104 0-35 0-35 0 48 0 47 0 60 0 44 1-78 0 89 0-124 0 45 0 77 0-72 1-235 0 153 0 51 0-5 0-41 0 200 0-73 0-114 0 119 1-184 0 60 0-142 0 224 0-114 0 150 0-25 0-62 0 149 1-91 0 82 0-128 0 182 0-62 0-283 0 105 0-89 0 333 0-74 1-67 0 32 0-94 0-5 0 63 0-57 0 27 0 92 0-114 1-54 0 60 0 36 0-44 0-24 0 46 0-92 0 34 0 45 0 69 1-86 0-9 0 141 0 8 0-211 0 74 0-21 0 7 1 15 0 83 0-258 0 194 0 135 0-168 0 77 0-64 0 32 1-124 0 30 0 81 0-42 0 49 0 62 1-65 0 15 0 26 0-20 0-102 0 79 0 7 0-43 0 81 1-18 0-47 0 27 0 7 0-48 0 9 0 11 0 65 1-26 0-53 0 8 0-75 0-7 0 217 0-47 1-150 0 17 0-157 0 168 0 73 0-83 0 13 0-53 0 223 1-1 0-152 0 133 0-74 0 89 0-64 0-152 0 14 1 197 0-60 0 34 0-236 0 129 0 114 0-83 0 38 0 76 0-189 0-11 1 3 0 57 0 64 0-61 0-46 0 108 0 43 0-117 1 57 0-92 0 1 0 68 0-78 0 261 0-247 1 50 0 7 0 4 0-71 0 194 0 10 0-118 1 9 0-35 0 68 0-50 0 16 0 21 0-7 0-1 1-85 0 74 0-27 0 5 0-150 0 221 0-32 0-150 0 248 1-143 0-49 0 2 0-30 0 160 0-63 0-72 0 75 0 54 1-132 0 34 0-32 0 130 0-120 0 139 0-130 0 22 0 107 0 25 1-161 0 127 0-258 0 173 0-59 0 123 0-126 1 131 0-93 0 159 0-87 0 28 0-198 0 168 0-79 1-26 0-1 0-4 0 24 0 132 0-120 0 182 1-160 0 48 0-24 0 160 0-163 0 26 0-28 0-85 0 56 1-15 0 31 0-34 0 0 0-108 1 239 0-117 0 25 0-28 0-176 0 45 0 82 1 0 0 110 0 12 0-142 0 103 0-23 0-165 1 155 0 70 0 50 0-205 0 33 0 4 0 95 0 47 0-84 1 20 0-82 0 127 0 93 0-89 0-101 0 64 1 4 0-155 0 186 0-74 0 205 0-301 1 124 0-43 0 94 0 3 0-70 0 11 0-44 0 122 1-56 0-60 0 67 0-17 0-40 0 118 0-126 0 118 0-166 1 115 0-40 0 45 0 121 0-111 0-42 0-32 0-29 1 36 0 29 0 58 0-54 0 2 0 59 0 6 0-55 1 46 0-14 0-149 0 163 0-85 0-30 0 44 0 164 1-73 0-107 0-106 0 99 0 50 0 77 0-29 1-222 0 234 0-135 0 98 0 66 0-121 0 191 0-216 0-53 0 19 1 103 0-63 0 41 0-23 0-98 0 131 0-80 0 153 0-103 1 43 0-102 0 77 0-57 0 150 0-203 0 10 0 7 1 123 0-71 0 20 0 54 0-73 0 94 0-48 0 3 1-77 0 26 0 3 0 107 0-131 0 106 0-18 1 5 0-68 0 28 0-73 0 4 0 24 0-36 0 165 1-65 0-49 0-16 0 25 0 107 0-74 1 50 0-33 0 22 0-48 0 48 0-130 1 78 0-36 0 34 0-61 0 75 0 104 0-139 0-111 1 173 0-153 0 164 0-157 0 215 0-143 0 48 0 56 1-70 0-77 0 115 0 34 0-7 0-181 0 151 0-54 1 61 0 10 0-46 0 91 0-178 0 91 0-136 0 224 0-148 1 131 0-139 0-209 0 388 0-8 0-59 0-129 1 57 0 12 0-74 0 41 0 86 0 102 0-32 0-37 0 3 1-79 0-159 0 311 0-66 0-94 0 64 0-42 0-27 0-76 0 27 1 176 0-119 0 114 0-113 0-141 0 9 1 46 0 55 0 65 0-79 0 242 0-181 0-55 0 12 0 162 1-206 0 233 0-161 0 123 0-91 0-76 0 14 0 78 0-99 1-74 0 96 0-34 0 2 0 163 0-146 0-47 0 59 0 57 1-95 0 64 0 125 0-198 0-72 0 114 0-8-1065-249 394 33 47 1 17-52 279-29-1 780 111 4 137-709 65-24 22-16 132 47 553-57-752 622"/>
<path transform="scale(.5)" fill="none" stroke="none" marker-start="url(#mb)" marker-mid="url(#mb)" marker-end="url(#mb)" d="M830 1612l1-126 0 126 0-201 0 72 0 53 0-55 0 172 0-89 0 125 1-218 0 96 0-21 0 6 0-29 0 152 0-158 0 183 0-151 0 192 0-54 1-53 0-61 0 120 0-139 0-102 0 16 0-46 0 209 1-16 0-47 0 12 0-109 0-5 0 187 0-129 0-13 0 33 0 139 0-202 1 48 0 26 0-58 0 98 0-194 0 204 0 58 0-52 0 158 0-155 1-28 0-20 0-124 0 105 0 32 0 56 0 50 0-172 0-10 0-12 1 246 0-106 0-158 0 5 0 96 0 188 0-189 0-20 0 4 0-53 0 121 1-25 0 23 0-152 0 232 0-146 0-21 0 49 0-30 0-142 0 140 1 30 0-99 0 70 0 23 0 167 0-197 0 68 0-89 0-48 0 86 0-123 1 82 0-124 0 140 0 176 0-115 0-27 0 84 0-107 0-19 1-22 0 3 0-26 0-3 0 7 0 16 0-38 0 189 0-112 0 156 1-332 0 176 0-21 0 122 0-118 0 48 0-84 0 72 0-2 0-141 744 84 0 181 0-112 1 116 0-104 0-22 0-55 0 18 0-65 0 80 0 150 0-112 0 80 1-172 0 90 0 57 0 36 0-101 0 50 0-43 0-106 0 207 0-145 0 58 1 28 0-6 0-77 0 147 0-19 0-194 0 94 0-88 0 99 0-11 1 31 0 149 0-167 0 26 0-44 0 166 0-47 0-14 0-132 0 19 0 51 1-21 0-40 0-7 0-20 0-163 0 127 0 295 0-257 0 56 1-8 0 6 0 91 0-161 0 6 0 31 0-11 0 137 0-74 0 41 0-107 1 130 0-106 0 32 0 85 0-168 0 127 0-131 0-28 0 114 0 7 1 32 0 80 0-51 0 60 0-110 0-15 0 125 0-120 0 70 0-66 0-1 1 53 0-124 0 174 0 55 0-93 0-143 0 43 0 60 0 113 0-192 0 87 1 38 0-48 0 80 0-87 0 89 0 7 0 0 0-198 0 104 1-3 0-80 0-44 0 177 0-213 0 103 0 41 0-18 0 126 0-272 0-10 1 228 0 45 0-170 0 94 0-66 0-13"/>
<path d="M158.7 786.5L159.2 786.6L159.7 786.6L160.2 786.8L160.7 787L161.2 787.2L161.7 787.4L162.2 787.7L162.7 788L163.2 788.3L163.7 788.6L164.2 789L164.7 789.4L165.2 789.7L165.7 790.1L166.2 790.6L166.7 791L167.2 791.4L167.7 791.8L168.2 792.2L168.7 792.6L169.2 793L169.7 793.4L170.2 793.8L170.7 794.2L171.2 794.5L171.7 794.9L172.2 795.2L172.7 795.5L173.2 795.7L173.7 795.9L174.2 796.1L174.7 796.3L175.2 796.4L175.7 796.5L176.2 796.5L176.7 796.5L177.2 796.4L177.7 796.3L178.2 796.1L178.7 795.9L179.2 795.7L179.7 795.4L180.2 795L180.7 794.6L181.2 794.2L181.7 793.8L182.2 793.3L182.7 792.8L183.2 792.3L183.7 791.7L184.2 791.2L184.7 790.6L185.2 790.1L185.7 789.5L186.2 788.9L186.7 788.4L187.2 787.8L187.7 787.2L188.2 786.7L188.7 786.1L189.2 785.6L189.7 785.1L190.2 784.6L190.7 784.2L191.2 783.8L191.7 783.4L192.2 783L192.7 782.7L193.2 782.4L193.7 782.2L194.2 782L194.7 781.9L195.2 781.8L195.7 781.8L196.2 781.8L196.7 781.9L197.2 782L197.7 782.2L198.2 782.4L198.7 782.6L199.2 782.9L199.7 783.2L200.2 783.5L200.7 783.8L201.2 784.2L201.7 784.5L202.2 784.9L202.7 785.3L203.2 785.7L203.7 786.1L204.2 786.5L204.7 786.9L205.2 787.2L205.7 787.6L206.2 787.9L206.7 788.3L207.2 788.6L207.7 788.9L208.2 789.1L208.7 789.4L209.2 789.6L209.7 789.7L210.2 789.9L210.7 790L211.2 790L211.7 790.1L212.2 790L212.7 790L213.2 789.8L213.7 789.7L214.2 789.5L214.7 789.3L215.2 789L215.7 788.7L216.2 788.4L216.7 788.1L217.2 787.7L217.7 787.3L218.2 787L218.7 786.6L219.2 786.2L219.7 785.8L220.2 785.5L220.7 785.1L221.2 784.8L221.7 784.4L222.2 784.1L222.7 783.8L223.2 783.5L223.7 783.2L224.2 783L224.7 782.8L225.2 782.6L225.7 782.5L226.2 782.4L226.7 782.3L227.2 782.3L227.7 782.3L228.2 782.4L228.7 782.5L229.2 782.6L229.7 782.8L230.2 783L230.7 783.2L231.2 783.5L231.7 783.8L232.2 784.1L232.7 784.4L233.2 784.8L233.7 785.1L234.2 785.5L234.7 785.9L235.2 786.2L235.7 786.6L236.2 787L236.7 787.3L237.2 787.7L237.7 788L238.2 788.3L238.7 788.6L239.2 788.9L239.7 789.2L240.2 789.4L240.7 789.6L241.2 789.8L241.7 789.9L242.2 790L242.7 790L243.2 790.1L243.7 790L244.2 789.9L244.7 789.8L245.2 789.7L245.7 789.5L246.2 789.2L246.7 789L247.2 788.7L247.7 788.4L248.2 788.1L248.7 787.7L249.2 787.4L249.7 787L250.2 786.7L250.7 786.3L251.2 786L251.7 785.6L252.2 785.3L252.7 785L253.2 784.7L253.7 784.4L254.2 784.2L254.7 784L255.2 783.8L255.7 783.6L256.2 783.5L256.7 783.4L257.2 783.4L257.7 783.4L258.2 783.5L258.7 783.6L259.2 783.8L259.7 784L260.2 784.2L260.7 784.5L261.2 784.8L261.7 785.1L262.2 785.5L262.7 785.9L263.2 786.3L263.7 786.7L264.2 787.1L264.7 787.5L265.2 788L265.7 788.4L266.2 788.9L266.7 789.3L267.2 789.7L267.7 790.1L268.2 790.5L268.7 790.9L269.2 791.3L269.7 791.6L270.2 791.9L270.7 792.3L271.2 792.5L271.7 792.8L272.2 793L272.7 793.2L273.2 793.3L273.7 793.4L274.2 793.5L274.7 793.5L275.2 793.5L275.7 793.5L276.2 793.4L276.7 793.3L277.2 793.1L277.7 792.9L278.2 792.7L278.7 792.5L279.2 792.2L279.7 791.9L280.2 791.6L280.7 791.3L281.2 791L281.7 790.7L282.2 790.4L282.7 790.1L283.2 789.8L283.7 789.5L284.2 789.2L284.7 788.9L285.2 788.7L285.7 788.4L286.2 788.2L286.7 788L287.2 787.9L287.7 787.8L288.2 787.7L288.7 787.6L289.2 787.6L289.7 787.6L290.2 787.7L290.7 787.8L291.2 787.9L291.7 788.1L292.2 788.3L292.7 788.6L293.2 788.9L293.7 789.2L294.2 789.6L294.7 789.9L295.2 790.3L295.7 790.7L296.2 791.1L296.7 791.5L297.2 791.9L297.7 792.3L298.2 792.7L298.7 793L299.2 793.4L299.7 793.8L300.2 794.1L300.7 794.5L301.2 794.8L301.7 795L302.2 795.3L302.7 795.5L303.2 795.7L303.7 795.8L304.2 795.9L304.7 795.9L305.2 795.9L305.7 795.9L306.2 795.8L306.7 795.6L307.2 795.4L307.7 795.1L308.2 794.8L308.7 794.5L309.2 794.1L309.7 793.6L310.2 793.2L310.7 792.6L311.2 792.1L311.7 791.5L312.2 790.9L312.7 790.3L313.2 789.6L313.7 788.9L314.2 788.2L314.7 787.5L315.2 786.8L315.7 786L316.2 785.3L316.7 784.6L317.2 783.9L317.7 783.2L318.2 782.5L318.7 781.9L319.2 781.3L319.7 780.7L320.2 780.2L320.7 779.7L321.2 779.2L321.7 778.8L322.2 778.5L322.7 778.1L323.2 777.9L323.7 777.7L324.2 777.6L324.7 777.5L325.2 777.5L325.7 777.6L326.2 777.7L326.7 777.9L327.2 778L327.7 778.3L328.2 778.5L328.7 778.8L329.2 779.1L329.7 779.4L330.2 779.7L330.7 780L331.2 780.3L331.7 780.6L332.2 780.9L332.7 781.2L333.2 781.4L333.7 781.6L334.2 781.8L334.7 782L335.2 782.1L335.7 782.2L336.2 782.3L336.7 782.3L337.2 782.3L337.7 782.3L338.2 782.2L338.7 782L339.2 781.9L339.7 781.7L340.2 781.4L340.7 781.1L341.2 780.8L341.7 780.5L342.2 780.2L342.7 779.8L343.2 779.4L343.7 779L344.2 778.6L344.7 778.2L345.2 777.8L345.7 777.3L346.2 776.9L346.7 776.5L347.2 776.1L347.7 775.7L348.2 775.3L348.7 775L349.2 774.7L349.7 774.4L350.2 774.1L350.7 773.9L351.2 773.7L351.7 773.6L352.2 773.5L352.7 773.5L353.2 773.6L353.7 773.7L354.2 773.9L354.7 774.1L355.2 774.4L355.7 774.8L356.2 775.2L356.7 775.6L357.2 776L357.7 776.5L358.2 777.1L358.7 777.6L359.2 778.2L359.7 778.8L360.2 779.4L360.7 780L361.2 780.6L361.7 781.2L362.2 781.8L362.7 782.4L363.2 782.9L363.7 783.5L364.2 784.1L364.7 784.6L365.2 785.1L365.7 785.5L366.2 786L366.7 786.3L367.2 786.7L367.7 787L368.2 787.2L368.7 787.4L369.2 787.6L369.7 787.7L370.2 787.7L370.7 787.6L371.2 787.5L371.7 787.3L372.2 787.1L372.7 786.8L373.2 786.5L373.7 786.2L374.2 785.8L374.7 785.4L375.2 785L375.7 784.6L376.2 784.1L376.7 783.7L377.2 783.2L377.7 782.8L378.2 782.3L378.7 781.9L379.2 781.5L379.7 781.2L380.2 780.8L380.7 780.5L381.2 780.2L381.7 780L382.2 779.8L382.7 779.6L383.2 779.4L383.7 779.4L384.2 779.3L384.7 779.4L385.2 779.4L385.7 779.6L386.2 779.7L386.7 780L387.2 780.3L387.7 780.6L388.2 781L388.7 781.3L389.2 781.8L389.7 782.2L390.2 782.7L390.7 783.1L391.2 783.6L391.7 784.1L392.2 784.6L392.7 785L393.2 785.5L393.7 785.9L394.2 786.3L394.7 786.7L395.2 787.1L395.7 787.5L396.2 787.8L396.7 788.1L397.2 788.3L397.7 788.6L398.2 788.8L398.7 789L399.2 789.1L399.7 789.2L400.2 789.3L400.7 789.3L401.2 789.4L401.7 789.3L402.2 789.3L402.7 789.2L403.2 789L403.7 788.8L404.2 788.6L404.7 788.4L405.2 788.2L405.7 787.9L406.2 787.6L406.7 787.2L407.2 786.9L407.7 786.5L408.2 786.1L408.7 785.7L409.2 785.3L409.7 784.9L410.2 784.4L410.7 784L411.2 783.6L411.7 783.1L412.2 782.7L412.7 782.3L413.2 781.9L413.7 781.5L414.2 781.1L414.7 780.8L415.2 780.5L415.7 780.3L416.2 780.1L416.7 780L417.2 779.9L417.7 779.9L418.2 780L418.7 780.1L419.2 780.3L419.7 780.5L420.2 780.8L420.7 781.1L421.2 781.4L421.7 781.8L422.2 782.2L422.7 782.5L423.2 783L423.7 783.4L424.2 783.8L424.7 784.2L425.2 784.6L425.7 785L426.2 785.3L426.7 785.6L427.2 785.9L427.7 786.2L428.2 786.5L428.7 786.7L429.2 786.9L429.7 787L430.2 787.1L430.7 787.1L431.2 787.1L431.7 787.1L432.2 787L432.7 786.8L433.2 786.6L433.7 786.4L434.2 786.1L434.7 785.7L435.2 785.4L435.7 784.9L436.2 784.5L436.7 784L437.2 783.5L437.7 783L438.2 782.5L438.7 781.9L439.2 781.4L439.7 780.8L440.2 780.3L440.7 779.7L441.2 779.2L441.7 778.6L442.2 778.1L442.7 777.6L443.2 777.1L443.7 776.6L444.2 776.1L444.7 775.6L445.2 775.2L445.7 774.7L446.2 774.3L446.7 773.9L447.2 773.6L447.7 773.2L448.2 772.9L448.7 772.7L449.2 772.4L449.7 772.2L450.2 772L450.7 771.9L451.2 771.8L451.7 771.7L452.2 771.7L452.7 771.7L453.2 771.7L453.7 771.8L454.2 771.9L454.7 772L455.2 772.1L455.7 772.3L456.2 772.5L456.7 772.7L457.2 773L457.7 773.2L458.2 773.5L458.7 773.7L459.2 774L459.7 774.3L460.2 774.5L460.7 774.8L461.2 775.1L461.7 775.3L462.2 775.5L462.7 775.7L463.2 775.8L463.7 775.9L464.2 776L464.7 776L465.2 775.9L465.7 775.8L466.2 775.6L466.7 775.4L467.2 775.1L467.7 774.8L468.2 774.4L468.7 774L469.2 773.6L469.7 773.1L470.2 772.6L470.7 772.1L471.2 771.6L471.7 771.1L472.2 770.6L472.7 770.1L473.2 769.6L473.7 769.1L474.2 768.6L474.7 768.1L475.2 767.7L475.7 767.3L476.2 766.9L476.7 766.6L477.2 766.3L477.7 766L478.2 765.8L478.7 765.6L479.2 765.5L479.7 765.4L480.2 765.4L480.7 765.4L481.2 765.5L481.7 765.6L482.2 765.8L482.7 766L483.2 766.3L483.7 766.7L484.2 767L484.7 767.5L485.2 767.9L485.7 768.4L486.2 769L486.7 769.6L487.2 770.2L487.7 770.8L488.2 771.5L488.7 772.2L489.2 772.9L489.7 773.6L490.2 774.3L490.7 775L491.2 775.8L491.7 776.5L492.2 777.2L492.7 777.9L493.2 778.6L493.7 779.2L494.2 779.8L494.7 780.4L495.2 780.9L495.7 781.4L496.2 781.8L496.7 782.2L497.2 782.5L497.7 782.7L498.2 782.9L498.7 783L499.2 783.1L499.7 783.1L500.2 783L500.7 782.9L501.2 782.8L501.7 782.6L502.2 782.4L502.7 782.1L503.2 781.9L503.7 781.6L504.2 781.3L504.7 781L505.2 780.7L505.7 780.5L506.2 780.2L506.7 780L507.2 779.8L507.7 779.6L508.2 779.5L508.7 779.4L509.2 779.4L509.7 779.4L510.2 779.5L510.7 779.7L511.2 780L511.7 780.2L512.2 780.6L512.7 781L513.2 781.4L513.7 781.9L514.2 782.4L514.7 782.9L515.2 783.5L515.7 784.1L516.2 784.7L516.7 785.3L517.2 785.9L517.7 786.6L518.2 787.2L518.7 787.8L519.2 788.4L519.7 789.1L520.2 789.7L520.7 790.3L521.2 790.8L521.7 791.4L522.2 791.9L522.7 792.5L523.2 793L523.7 793.4L524.2 793.9L524.7 794.3L525.2 794.7L525.7 795.1L526.2 795.4L526.7 795.7L527.2 795.9L527.7 796.1L528.2 796.3L528.7 796.4L529.2 796.5L529.7 796.5L530.2 796.4L530.7 796.3L531.2 796.2L531.7 796L532.2 795.7L532.7 795.4L533.2 795L533.7 794.5L534.2 794L534.7 793.4L535.2 792.7L535.7 792L536.2 791.1L536.7 790.2L536.8 790L673.9 776.4L674.4 776.9L674.9 777.5L675.4 778L675.9 778.6L676.4 779.2L676.9 779.8L677.4 780.4L677.9 781L678.4 781.6L678.9 782.2L679.4 782.8L679.9 783.3L680.4 783.9L680.9 784.5L681.4 785L681.9 785.6L682.4 786.1L682.9 786.6L683.4 787.1L683.9 787.5L684.4 788L684.9 788.4L685.4 788.8L685.9 789.1L686.4 789.4L686.9 789.7L687.4 789.9L687.9 790.1L688.4 790.3L688.9 790.4L689.4 790.5L689.9 790.5L690.4 790.5L690.9 790.4L691.4 790.3L691.9 790.1L692.4 789.9L692.9 789.7L693.4 789.4L693.9 789.1L694.4 788.8L694.9 788.4L695.4 788.1L695.9 787.7L696.4 787.4L696.9 787L697.4 786.6L697.9 786.3L698.4 785.9L698.9 785.6L699.4 785.2L699.9 784.9L700.4 784.7L700.9 784.4L701.4 784.2L701.9 784L702.4 783.8L702.9 783.6L703.4 783.5L703.9 783.4L704.4 783.4L704.9 783.3L705.4 783.4L705.9 783.4L706.4 783.5L706.9 783.7L707.4 783.8L707.9 784.1L708.4 784.3L708.9 784.6L709.4 784.9L709.9 785.2L710.4 785.5L710.9 785.9L711.4 786.3L711.9 786.6L712.4 787L712.9 787.4L713.4 787.8L713.9 788.2L714.4 788.6L714.9 789L715.4 789.3L715.9 789.7L716.4 790L716.9 790.3L717.4 790.6L717.9 790.8L718.4 791L718.9 791.2L719.4 791.3L719.9 791.4L720.4 791.4L720.9 791.4L721.4 791.4L721.9 791.2L722.4 791.1L722.9 790.8L723.4 790.5L723.9 790.2L724.4 789.8L724.9 789.3L725.4 788.9L725.9 788.4L726.4 787.9L726.9 787.3L727.4 786.7L727.9 786.2L728.4 785.6L728.9 785L729.4 784.4L729.9 783.9L730.4 783.3L730.9 782.8L731.4 782.2L731.9 781.7L732.4 781.3L732.9 780.8L733.4 780.4L733.9 780L734.4 779.7L734.9 779.4L735.4 779.2L735.9 779L736.4 778.8L736.9 778.7L737.4 778.7L737.9 778.7L738.4 778.8L738.9 779L739.4 779.2L739.9 779.5L740.4 779.8L740.9 780.2L741.4 780.6L741.9 781L742.4 781.5L742.9 782L743.4 782.4L743.9 783L744.4 783.5L744.9 784L745.4 784.5L745.9 785L746.4 785.5L746.9 785.9L747.4 786.4L747.9 786.8L748.4 787.3L748.9 787.6L749.4 788L749.9 788.4L750.4 788.7L750.9 788.9L751.4 789.2L751.9 789.4L752.4 789.6L752.9 789.7L753.4 789.8L753.9 789.8L754.4 789.8L754.9 789.8L755.4 789.7L755.9 789.6L756.4 789.4L756.9 789.2L757.4 788.9L757.9 788.6L758.4 788.3L758.9 788L759.4 787.6L759.9 787.3L760.4 786.9L760.9 786.6L761.4 786.2L761.9 785.8L762.4 785.5L762.9 785.2L763.4 784.9L763.9 784.6L764.4 784.3L764.9 784L765.4 783.8L765.9 783.6L766.4 783.5L766.9 783.4L767.4 783.3L767.9 783.3L768.4 783.3L768.9 783.4L769.4 783.6L769.9 783.7L770.4 784L770.9 784.3L771.4 784.6L771.9 785L772.4 785.4L772.9 785.8L773.4 786.3L773.9 786.8L774.4 787.3L774.9 787.8L775.4 788.4L775.9 789L776.4 789.5L776.9 790.1L777.4 790.7L777.9 791.3L778.4 791.8L778.9 792.4L779.4 793L779.9 793.5L780.4 794L780.9 794.6L781.4 795L781.9 795.5L782.4 795.9L782.9 796.3L783.4 796.7L783.9 797L784.4 797.3L784.9 797.6L785.4 797.8L785.9 797.9L786.4 798L786.9 798L787.4 798L787.9 797.9L788.4 797.8L788.9 797.6L789.4 797.4L789.9 797.1L790.4 796.8L790.9 796.5L791.4 796.1L791.9 795.7L792.4 795.3L792.9 794.8L793.4 794.3L793.9 793.8L794.4 793.3L794.9 792.8L795.4 792.2L795.9 791.7L796.4 791.1L796.9 790.6L797.4 790.1L797.9 789.6L798.4 789.1L798.9 788.6L799.4 788.2L799.9 787.9L800.4 787.5L800.9 787.3L801.4 787.1L801.9 787L802.4 786.9L802.9 786.9L803.4 787L803.9 787.2L804.4 787.4L804.9 787.6L805.4 787.9L805.9 788.2L806.4 788.6L806.9 788.9L807.4 789.3L807.9 789.7L808.4 790.1L808.9 790.5L809.4 790.8L809.9 791.2L810.4 791.5L810.9 791.9L811.4 792.2L811.9 792.4L812.4 792.7L812.9 792.8L813.4 793L813.9 793.1L814.4 793.1L814.9 793.1L815.4 793L815.9 792.9L816.4 792.7L816.9 792.4L817.4 792L817.9 791.6L818.4 791.2L818.9 790.7L819.4 790.1L819.9 789.5L820.4 788.9L820.9 788.3L821.4 787.6L821.9 787L822.4 786.3L822.9 785.6L823.4 784.9L823.9 784.2L824.4 783.5L824.9 782.9L825.4 782.2L825.9 781.6L826.4 781.1L826.9 780.5L827.4 780L827.9 779.5L828.4 779L828.9 778.5L829.4 778.1L829.9 777.7L830.4 777.4L830.9 777.1L831.4 776.8L831.9 776.5L832.4 776.3L832.9 776.1L833.4 775.9L833.9 775.8L834.4 775.7L834.9 775.7L835.4 775.7L835.9 775.7L836.4 775.8L836.9 775.8L837.4 776L837.9 776.1L838.4 776.3L838.9 776.5L839.4 776.7L839.9 777L840.4 777.2L840.9 777.5L841.4 777.8L841.9 778.1L842.4 778.4L842.9 778.7L843.4 779L843.9 779.3L844.4 779.6L844.9 779.8L845.4 780.1L845.9 780.3L846.4 780.6L846.9 780.8L847.4 780.9L847.9 781L848.4 781.1L848.9 781.2L849.4 781.2L849.9 781.1L850.4 781L850.9 780.9L851.4 780.7L851.9 780.4L852.4 780.1L852.9 779.8L853.4 779.5L853.9 779.1L854.4 778.7L854.9 778.3L855.4 777.9L855.9 777.4L856.4 776.9L856.9 776.5L857.4 776L857.9 775.6L858.4 775.1L858.9 774.7L859.4 774.2L859.9 773.8L860.4 773.4L860.9 773.1L861.4 772.7L861.9 772.4L862.4 772.2L862.9 772L863.4 771.8L863.9 771.7L864.4 771.6L864.9 771.7L865.4 771.7L865.9 771.9L866.4 772.1L866.9 772.3L867.4 772.6L867.9 773L868.4 773.4L868.9 773.8L869.4 774.3L869.9 774.8L870.4 775.3L870.9 775.8L871.4 776.4L871.9 776.9L872.4 777.5L872.9 778.1L873.4 778.6L873.9 779.2L874.4 779.7L874.9 780.2L875.4 780.7L875.9 781.2L876.4 781.7L876.9 782.1L877.4 782.5L877.9 782.9L878.4 783.3L878.9 783.6L879.4 783.9L879.9 784.2L880.4 784.5L880.9 784.7L881.4 784.9L881.9 785L882.4 785.1L882.9 785.1L883.4 785.1L883.9 785.1L884.4 785L884.9 784.9L885.4 784.7L885.9 784.5L886.4 784.3L886.9 784L887.4 783.7L887.9 783.4L888.4 783.1L888.9 782.7L889.4 782.4L889.9 782L890.4 781.6L890.9 781.3L891.4 780.9L891.9 780.5L892.4 780.2L892.9 779.8L893.4 779.5L893.9 779.2L894.4 778.9L894.9 778.6L895.4 778.4L895.9 778.2L896.4 778L896.9 777.8L897.4 777.7L897.9 777.6L898.4 777.6L898.9 777.5L899.4 777.6L899.9 777.7L900.4 777.8L900.9 777.9L901.4 778.1L901.9 778.4L902.4 778.6L902.9 778.9L903.4 779.2L903.9 779.5L904.4 779.9L904.9 780.2L905.4 780.6L905.9 781L906.4 781.4L906.9 781.8L907.4 782.1L907.9 782.5L908.4 782.9L908.9 783.2L909.4 783.6L909.9 783.9L910.4 784.3L910.9 784.6L911.4 784.9L911.9 785.1L912.4 785.4L912.9 785.6L913.4 785.8L913.9 786L914.4 786.1L914.9 786.2L915.4 786.3L915.9 786.3L916.4 786.3L916.9 786.3L917.4 786.2L917.9 786.1L918.4 785.9L918.9 785.8L919.4 785.6L919.9 785.4L920.4 785.2L920.9 785L921.4 784.9L921.9 784.7L922.4 784.6L922.9 784.5L923.4 784.4L923.9 784.4L924.4 784.4L924.9 784.5L925.4 784.7L925.9 784.9L926.4 785.2L926.9 785.6L927.4 786L927.9 786.4L928.4 786.9L928.9 787.4L929.4 788L929.9 788.5L930.4 789.1L930.9 789.7L931.4 790.4L931.9 791L932.4 791.6L932.9 792.2L933.4 792.8L933.9 793.4L934.4 794L934.9 794.5L935.4 795.1L935.9 795.6L936.4 796.1L936.9 796.5L937.4 796.9L937.9 797.4L938.4 797.7L938.9 798.1L939.4 798.4L939.9 798.7L940.4 798.9L940.9 799.1L941.4 799.3L941.9 799.4L942.4 799.5L942.9 799.5L943.4 799.5L943.9 799.5L944.4 799.4L944.9 799.3L945.4 799.1L945.9 798.9L946.4 798.6L946.9 798.3L947.4 797.9L947.9 797.5L948.4 797.1L948.9 796.6L949.4 796.1L949.9 795.6L950.4 795.1L950.9 794.6L951.4 794L951.9 793.5L952.4 792.9L952.9 792.3L953.4 791.8L953.9 791.2L954.4 790.7L954.9 790.1L955.4 789.6L955.9 789.1L956.4 788.6L956.9 788.1L957.4 787.6L957.9 787.2L958.4 786.7L958.9 786.3L959.4 786L959.9 785.6L960.4 785.3L960.9 785.1L961.4 784.8L961.9 784.6L962.4 784.4L962.9 784.3L963.4 784.2L963.9 784.2L964.4 784.1L964.9 784.2L965.4 784.3L965.9 784.4L966.4 784.5L966.9 784.7L967.4 784.9L967.9 785.1L968.4 785.4L968.9 785.7L969.4 786L969.9 786.3L970.4 786.6L970.9 786.9L971.4 787.2L971.9 787.6L972.4 787.9L972.9 788.2L973.4 788.6L973.9 788.9L974.4 789.1L974.9 789.4L975.4 789.6L975.9 789.8L976.4 789.9L976.9 790L977.4 790.1L977.9 790L978.4 790L978.9 789.8L979.4 789.6L979.9 789.4L980.4 789.1L980.9 788.8L981.4 788.5L981.9 788.2L982.4 787.8L982.9 787.4L983.4 787L983.9 786.6L984.4 786.3L984.9 785.9L985.4 785.6L985.9 785.3L986.4 785L986.9 784.7L987.4 784.5L987.9 784.3L988.4 784.2L988.9 784L989.4 784L989.9 783.9L990.4 783.9L990.9 784L991.4 784.1L991.9 784.2L992.4 784.4L992.9 784.7L993.4 785L993.9 785.3L994.4 785.7L994.9 786.1L995.4 786.5L995.9 787L996.4 787.5L996.9 788L997.4 788.5L997.9 789.1L998.4 789.6L998.9 790.2L999.4 790.8L999.9 791.3L1000.4 791.9L1000.9 792.4L1001.4 793L1001.9 793.5L1002.4 794L1002.9 794.4L1003.4 794.9L1003.9 795.3L1004.4 795.6L1004.9 795.9L1005.4 796.2L1005.9 796.4L1006.4 796.5L1006.9 796.6L1007.4 796.6L1007.9 796.6L1008.4 796.4L1008.9 796.2L1009.4 795.9L1009.9 795.5L1010.4 795.1L1010.9 794.6L1011.4 794.1L1011.9 793.5L1012.4 792.8L1012.9 792.1L1013.4 791.4L1013.9 790.7L1014.4 789.9L1014.9 789.2L1015.4 788.4L1015.9 787.6L1016.4 786.9L1016.9 786.1L1017.4 785.4L1017.9 784.7L1018.4 784L1018.9 783.4L1019.4 782.8L1019.9 782.2L1020.4 781.7L1020.9 781.1L1021.4 780.7L1021.9 780.2L1022.4 779.8L1022.9 779.4L1023.4 779.1L1023.9 778.8L1024.4 778.5L1024.9 778.3L1025.4 778.1L1025.9 777.9L1026.4 777.7L1026.9 777.6L1027.4 777.6L1027.9 777.5L1028.4 777.5L1028.9 777.6L1029.4 777.7L1029.9 777.8L1030.4 777.9L1030.9 778.1L1031.4 778.3L1031.9 778.6L1032.4 778.9L1032.9 779.2L1033.4 779.6L1033.9 780L1034.4 780.4L1034.9 780.9L1035.4 781.4L1035.9 782L1036.4 782.6L1036.9 783.2L1037.4 783.9L1037.9 784.6L1037.9 784.6" fill="none" stroke="#008000" stroke-opacity=".3" stroke-width="5.5" stroke-linejoin="round"/>
<path d="M536.8 790L673.9 776.4" fill="none" stroke="#008000" stroke-opacity=".3" stroke-width="8"/>
<path d="M158.7 786.5L159.2 786.6L159.7 786.6L160.2 786.8L160.7 787L161.2 787.2L161.7 787.4L162.2 787.7L162.7 788L163.2 788.3L163.7 788.6L164.2 789L164.7 789.4L165.2 789.7L165.7 790.1L166.2 790.6L166.7 791L167.2 791.4L167.7 791.8L168.2 792.2L168.7 792.6L169.2 793L169.7 793.4L170.2 793.8L170.7 794.2L171.2 794.5L171.7 794.9L172.2 795.2L172.7 795.5L173.2 795.7L173.7 795.9L174.2 796.1L174.7 796.3L175.2 796.4L175.7 796.5L176.2 796.5L176.7 796.5L177.2 796.4L177.7 796.3L178.2 796.1L178.7 795.9L179.2 795.7L179.7 795.4L180.2 795L180.7 794.6L181.2 794.2L181.7 793.8L182.2 793.3L182.7 792.8L183.2 792.3L183.7 791.7L184.2 791.2L184.7 790.6L185.2 790.1L185.7 789.5L186.2 788.9L186.7 788.4L187.2 787.8L187.7 787.2L188.2 786.7L188.7 786.1L189.2 785.6L189.7 785.1L190.2 784.6L190.7 784.2L191.2 783.8L191.7 783.4L192.2 783L192.7 782.7L193.2 782.4L193.7 782.2L194.2 782L194.7 781.9L195.2 781.8L195.7 781.8L196.2 781.8L196.7 781.9L197.2 782L197.7 782.2L198.2 782.4L198.7 782.6L199.2 782.9L199.7 783.2L200.2 783.5L200.7 783.8L201.2 784.2L201.7 784.5L202.2 784.9L202.7 785.3L203.2 785.7L203.7 786.1L204.2 786.5L204.7 786.9L205.2 787.2L205.7 787.6L206.2 787.9L206.7 788.3L207.2 788.6L207.7 788.9L208.2 789.1L208.7 789.4L209.2 789.6L209.7 789.7L210.2 789.9L210.7 790L211.2 790L211.7 790.1L212.2 790L212.7 790L213.2 789.8L213.7 789.7L214.2 789.5L214.7 789.3L215.2 789L215.7 788.7L216.2 788.4L216.7 788.1L217.2 787.7L217.7 787.3L218.2 787L218.7 786.6L219.2 786.2L219.7 785.8L220.2 785.5L220.7 785.1L221.2 784.8L221.7 784.4L222.2 784.1L222.7 783.8L223.2 783.5L223.7 783.2L224.2 783L224.7 782.8L225.2 782.6L225.7 782.5L226.2 782.4L226.7 782.3L227.2 782.3L227.7 782.3L228.2 782.4L228.7 782.5L229.2 782.6L229.7 782.8L230.2 783L230.7 783.2L231.2 783.5L231.7 783.8L232.2 784.1L232.7 784.4L233.2 784.8L233.7 785.1L234.2 785.5L234.7 785.9L235.2 786.2L235.7 786.6L236.2 787L236.7 787.3L237.2 787.7L237.7 788L238.2 788.3L238.7 788.6L239.2 788.9L239.7 789.2L240.2 789.4L240.7 789.6L241.2 789.8L241.7 789.9L242.2 790L242.7 790L243.2 790.1L243.7 790L244.2 789.9L244.7 789.8L245.2 789.7L245.7 789.5L246.2 789.2L246.7 789L247.2 788.7L247.7 788.4L248.2 788.1L248.7 787.7L249.2 787.4L249.7 787L250.2 786.7L250.7 786.3L251.2 786L251.7 785.6L252.2 785.3L252.7 785L253.2 784.7L253.7 784.4L254.2 784.2L254.7 784L255.2 783.8L255.7 783.6L256.2 783.5L256.7 783.4L257.2 783.4L257.7 783.4L258.2 783.5L258.7 783.6L259.2 783.8L259.7 784L260.2 784.2L260.7 784.5L261.2 784.8L261.7 785.1L262.2 785.5L262.7 785.9L263.2 786.3L263.7 786.7L264.2 787.1L264.7 787.5L265.2 788L265.7 788.4L266.2 788.9L266.7 789.3L267.2 789.7L267.7 790.1L268.2 790.5L268.7 790.9L269.2 791.3L269.7 791.6L270.2 791.9L270.7 792.3L271.2 792.5L271.7 792.8L272.2 793L272.7 793.2L273.2 793.3L273.7 793.4L274.2 793.5L274.7 793.5L275.2 793.5L275.7 793.5L276.2 793.4L276.7 793.3L277.2 793.1L277.7 792.9L278.2 792.7L278.7 792.5L279.2 792.2L279.7 791.9L280.2 791.6L280.7 791.3L281.2 791L281.7 790.7L282.2 790.4L282.7 790.1L283.2 789.8L283.7 789.5L284.2 789.2L284.7 788.9L285.2 788.7L285.7 788.4L286.2 788.2L286.7 788L287.2 787.9L287.7 787.8L288.2 787.7L288.7 787.6L289.2 787.6L289.7 787.6L290.2 787.7L290.7 787.8L291.2 787.9L291.7 788.1L292.2 788.3L292.7 788.6L293.2 788.9L293.7 789.2L294.2 789.6L294.7 789.9L295.2 790.3L295.7 790.7L296.2 791.1L296.7 791.5L297.2 791.9L297.7 792.3L298.2 792.7L298.7 793L299.2 793.4L299.7 793.8L300.2 794.1L300.7 794.5L301.2 794.8L301.7 795L302.2 795.3L302.7 795.5L303.2 795.7L303.7 795.8L304.2 795.9L304.7 795.9L305.2 795.9L305.7 795.9L306.2 795.8L306.7 795.6L307.2 795.4L307.7 795.1L308.2 794.8L308.7 794.5L309.2 794.1L309.7 793.6L310.2 793.2L310.7 792.6L311.2 792.1L311.7 791.5L312.2 790.9L312.7 790.3L313.2 789.6L313.7 788.9L314.2 788.2L314.7 787.5L315.2 786.8L315.7 786L316.2 785.3L316.7 784.6L317.2 783.9L317.7 783.2L318.2 782.5L318.7 781.9L319.2 781.3L319.7 780.7L320.2 780.2L320.7 779.7L321.2 779.2L321.7 778.8L322.2 778.5L322.7 778.1L323.2 777.9L323.7 777.7L324.2 777.6L324.7 777.5L325.2 777.5L325.7 777.6L326.2 777.7L326.7 777.9L327.2 778L327.7 778.3L328.2 778.5L328.7 778.8L329.2 779.1L329.7 779.4L330.2 779.7L330.7 780L331.2 780.3L331.7 780.6L332.2 780.9L332.7 781.2L333.2 781.4L333.7 781.6L334.2 781.8L334.7 782L335.2 782.1L335.7 782.2L336.2 782.3L336.7 782.3L337.2 782.3L337.7 782.3L338.2 782.2L338.7 782L339.2 781.9L339.7 781.7L340.2 781.4L340.7 781.1L341.2 780.8L341.7 780.5L342.2 780.2L342.7 779.8L343.2 779.4L343.7 779L344.2 778.6L344.7 778.2L345.2 777.8L345.7 777.3L346.2 776.9L346.7 776.5L347.2 776.1L347.7 775.7L348.2 775.3L348.7 775L349.2 774.7L349.7 774.4L350.2 774.1L350.7 773.9L351.2 773.7L351.7 773.6L352.2 773.5L352.7 773.5L353.2 773.6L353.7 773.7L354.2 773.9L354.7 774.1L355.2 774.4L355.7 774.8L356.2 775.2L356.7 775.6L357.2 776L357.7 776.5L358.2 777.1L358.7 777.6L359.2 778.2L359.7 778.8L360.2 779.4L360.7 780L361.2 780.6L361.7 781.2L362.2 781.8L362.7 782.4L363.2 782.9L363.7 783.5L364.2 784.1L364.7 784.6L365.2 785.1L365.7 785.5L366.2 786L366.7 786.3L367.2 786.7L367.7 787L368.2 787.2L368.7 787.4L369.2 787.6L369.7 787.7L370.2 787.7L370.7 787.6L371.2 787.5L371.7 787.3L372.2 787.1L372.7 786.8L373.2 786.5L373.7 786.2L374.2 785.8L374.7 785.4L375.2 785L375.7 784.6L376.2 784.1L376.7 783.7L377.2 783.2L377.7 782.8L378.2 782.3L378.7 781.9L379.2 781.5L379.7 781.2L380.2 780.8L380.7 780.5L381.2 780.2L381.7 780L382.2 779.8L382.7 779.6L383.2 779.4L383.7 779.4L384.2 779.3L384.7 779.4L385.2 779.4L385.7 779.6L386.2 779.7L386.7 780L387.2 780.3L387.7 780.6L388.2 781L388.7 781.3L389.2 781.8L389.7 782.2L390.2 782.7L390.7 783.1L391.2 783.6L391.7 784.1L392.2 784.6L392.7 785L393.2 785.5L393.7 785.9L394.2 786.3L394.7 786.7L395.2 787.1L395.7 787.5L396.2 787.8L396.7 788.1L397.2 788.3L397.7 788.6L398.2 788.8L398.7 789L399.2 789.1L399.7 789.2L400.2 789.3L400.7 789.3L401.2 789.4L401.7 789.3L402.2 789.3L402.7 789.2L403.2 789L403.7 788.8L404.2 788.6L404.7 788.4L405.2 788.2L405.7 787.9L406.2 787.6L406.7 787.2L407.2 786.9L407.7 786.5L408.2 786.1L408.7 785.7L409.2 785.3L409.7 784.9L410.2 784.4L410.7 784L411.2 783.6L411.7 783.1L412.2 782.7L412.7 782.3L413.2 781.9L413.7 781.5L414.2 781.1L414.7 780.8L415.2 780.5L415.7 780.3L416.2 780.1L416.7 780L417.2 779.9L417.7 779.9L418.2 780L418.7 780.1L419.2 780.3L419.7 780.5L420.2 780.8L420.7 781.1L421.2 781.4L421.7 781.8L422.2 782.2L422.7 782.5L423.2 783L423.7 783.4L424.2 783.8L424.7 784.2L425.2 784.6L425.7 785L426.2 785.3L426.7 785.6L427.2 785.9L427.7 786.2L428.2 786.5L428.7 786.7L429.2 786.9L429.7 787L430.2 787.1L430.7 787.1L431.2 787.1L431.7 787.1L432.2 787L432.7 786.8L433.2 786.6L433.7 786.4L434.2 786.1L434.7 785.7L435.2 785.4L435.7 784.9L436.2 784.5L436.7 784L437.2 783.5L437.7 783L438.2 782.5L438.7 781.9L439.2 781.4L439.7 780.8L440.2 780.3L440.7 779.7L441.2 779.2L441.7 778.6L442.2 778.1L442.7 777.6L443.2 777.1L443.7 776.6L444.2 776.1L444.7 775.6L445.2 775.2L445.7 774.7L446.2 774.3L446.7 773.9L447.2 773.6L447.7 773.2L448.2 772.9L448.7 772.7L449.2 772.4L449.7 772.2L450.2 772L450.7 771.9L451.2 771.8L451.7 771.7L452.2 771.7L452.7 771.7L453.2 771.7L453.7 771.8L454.2 771.9L454.7 772L455.2 772.1L455.7 772.3L456.2 772.5L456.7 772.7L457.2 773L457.7 773.2L458.2 773.5L458.7 773.7L459.2 774L459.7 774.3L460.2 774.5L460.7 774.8L461.2 775.1L461.7 775.3L462.2 775.5L462.7 775.7L463.2 775.8L463.7 775.9L464.2 776L464.7 776L465.2 775.9L465.7 775.8L466.2 775.6L466.7 775.4L467.2 775.1L467.7 774.8L468.2 774.4L468.7 774L469.2 773.6L469.7 773.1L470.2 772.6L470.7 772.1L471.2 771.6L471.7 771.1L472.2 770.6L472.7 770.1L473.2 769.6L473.7 769.1L474.2 768.6L474.7 768.1L475.2 767.7L475.7 767.3L476.2 766.9L476.7 766.6L477.2 766.3L477.7 766L478.2 765.8L478.7 765.6L479.2 765.5L479.7 765.4L480.2 765.4L480.7 765.4L481.2 765.5L481.7 765.6L482.2 765.8L482.7 766L483.2 766.3L483.7 766.7L484.2 767L484.7 767.5L485.2 767.9L485.7 768.4L486.2 769L486.7 769.6L487.2 770.2L487.7 770.8L488.2 771.5L488.7 772.2L489.2 772.9L489.7 773.6L490.2 774.3L490.7 775L491.2 775.8L491.7 776.5L492.2 777.2L492.7 777.9L493.2 778.6L493.7 779.2L494.2 779.8L494.7 780.4L495.2 780.9L495.7 781.4L496.2 781.8L496.7 782.2L497.2 782.5L497.7 782.7L498.2 782.9L498.7 783L499.2 783.1L499.7 783.1L500.2 783L500.7 782.9L501.2 782.8L501.7 782.6L502.2 782.4L502.7 782.1L503.2 781.9L503.7 781.6L504.2 781.3L504.7 781L505.2 780.7L505.7 780.5L506.2 780.2L506.7 780L507.2 779.8L507.7 779.6L508.2 779.5L508.7 779.4L509.2 779.4L509.7 779.4L510.2 779.5L510.7 779.7L511.2 780L511.7 780.2L512.2 780.6L512.7 781L513.2 781.4L513.7 781.9L514.2 782.4L514.7 782.9L515.2 783.5L515.7 784.1L516.2 784.7L516.7 785.3L517.2 785.9L517.7 786.6L518.2 787.2L518.7 787.8L519.2 788.4L519.7 789.1L520.2 789.7L520.7 790.3L521.2 790.8L521.7 791.4L522.2 791.9L522.7 792.5L523.2 793L523.7 793.4L524.2 793.9L524.7 794.3L525.2 794.7L525.7 795.1L526.2 795.4L526.7 795.7L527.2 795.9L527.7 796.1L528.2 796.3L528.7 796.4L529.2 796.5L529.7 796.5L530.2 796.4L530.7 796.3L531.2 796.2L531.7 796L532.2 795.7L532.7 795.4L533.2 795L533.7 794.5L534.2 794L534.7 793.4L535.2 792.7L535.7 792L536.2 791.1L536.7 790.2L536.8 790L673.9 776.4L674.4 776.9L674.9 777.5L675.4 778L675.9 778.6L676.4 779.2L676.9 779.8L677.4 780.4L677.9 781L678.4 781.6L678.9 782.2L679.4 782.8L679.9 783.3L680.4 783.9L680.9 784.5L681.4 785L681.9 785.6L682.4 786.1L682.9 786.6L683.4 787.1L683.9 787.5L684.4 788L684.9 788.4L685.4 788.8L685.9 789.1L686.4 789.4L686.9 789.7L687.4 789.9L687.9 790.1L688.4 790.3L688.9 790.4L689.4 790.5L689.9 790.5L690.4 790.5L690.9 790.4L691.4 790.3L691.9 790.1L692.4 789.9L692.9 789.7L693.4 789.4L693.9 789.1L694.4 788.8L694.9 788.4L695.4 788.1L695.9 787.7L696.4 787.4L696.9 787L697.4 786.6L697.9 786.3L698.4 785.9L698.9 785.6L699.4 785.2L699.9 784.9L700.4 784.7L700.9 784.4L701.4 784.2L701.9 784L702.4 783.8L702.9 783.6L703.4 783.5L703.9 783.4L704.4 783.4L704.9 783.3L705.4 783.4L705.9 783.4L706.4 783.5L706.9 783.7L707.4 783.8L707.9 784.1L708.4 784.3L708.9 784.6L709.4 784.9L709.9 785.2L710.4 785.5L710.9 785.9L711.4 786.3L711.9 786.6L712.4 787L712.9 787.4L713.4 787.8L713.9 788.2L714.4 788.6L714.9 789L715.4 789.3L715.9 789.7L716.4 790L716.9 790.3L717.4 790.6L717.9 790.8L718.4 791L718.9 791.2L719.4 791.3L719.9 791.4L720.4 791.4L720.9 791.4L721.4 791.4L721.9 791.2L722.4 791.1L722.9 790.8L723.4 790.5L723.9 790.2L724.4 789.8L724.9 789.3L725.4 788.9L725.9 788.4L726.4 787.9L726.9 787.3L727.4 786.7L727.9 786.2L728.4 785.6L728.9 785L729.4 784.4L729.9 783.9L730.4 783.3L730.9 782.8L731.4 782.2L731.9 781.7L732.4 781.3L732.9 780.8L733.4 780.4L733.9 780L734.4 779.7L734.9 779.4L735.4 779.2L735.9 779L736.4 778.8L736.9 778.7L737.4 778.7L737.9 778.7L738.4 778.8L738.9 779L739.4 779.2L739.9 779.5L740.4 779.8L740.9 780.2L741.4 780.6L741.9 781L742.4 781.5L742.9 782L743.4 782.4L743.9 783L744.4 783.5L744.9 784L745.4 784.5L745.9 785L746.4 785.5L746.9 785.9L747.4 786.4L747.9 786.8L748.4 787.3L748.9 787.6L749.4 788L749.9 788.4L750.4 788.7L750.9 788.9L751.4 789.2L751.9 789.4L752.4 789.6L752.9 789.7L753.4 789.8L753.9 789.8L754.4 789.8L754.9 789.8L755.4 789.7L755.9 789.6L756.4 789.4L756.9 789.2L757.4 788.9L757.9 788.6L758.4 788.3L758.9 788L759.4 787.6L759.9 787.3L760.4 786.9L760.9 786.6L761.4 786.2L761.9 785.8L762.4 785.5L762.9 785.2L763.4 784.9L763.9 784.6L764.4 784.3L764.9 784L765.4 783.8L765.9 783.6L766.4 783.5L766.9 783.4L767.4 783.3L767.9 783.3L768.4 783.3L768.9 783.4L769.4 783.6L769.9 783.7L770.4 784L770.9 784.3L771.4 784.6L771.9 785L772.4 785.4L772.9 785.8L773.4 786.3L773.9 786.8L774.4 787.3L774.9 787.8L775.4 788.4L775.9 789L776.4 789.5L776.9 790.1L777.4 790.7L777.9 791.3L778.4 791.8L778.9 792.4L779.4 793L779.9 793.5L780.4 794L780.9 794.6L781.4 795L781.9 795.5L782.4 795.9L782.9 796.3L783.4 796.7L783.9 797L784.4 797.3L784.9 797.6L785.4 797.8L785.9 797.9L786.4 798L786.9 798L787.4 798L787.9 797.9L788.4 797.8L788.9 797.6L789.4 797.4L789.9 797.1L790.4 796.8L790.9 796.5L791.4 796.1L791.9 795.7L792.4 795.3L792.9 794.8L793.4 794.3L793.9 793.8L794.4 793.3L794.9 792.8L795.4 792.2L795.9 791.7L796.4 791.1L796.9 790.6L797.4 790.1L797.9 789.6L798.4 789.1L798.9 788.6L799.4 788.2L799.9 787.9L800.4 787.5L800.9 787.3L801.4 787.1L801.9 787L802.4 786.9L802.9 786.9L803.4 787L803.9 787.2L804.4 787.4L804.9 787.6L805.4 787.9L805.9 788.2L806.4 788.6L806.9 788.9L807.4 789.3L807.9 789.7L808.4 790.1L808.9 790.5L809.4 790.8L809.9 791.2L810.4 791.5L810.9 791.9L811.4 792.2L811.9 792.4L812.4 792.7L812.9 792.8L813.4 793L813.9 793.1L814.4 793.1L814.9 793.1L815.4 793L815.9 792.9L816.4 792.7L816.9 792.4L817.4 792L817.9 791.6L818.4 791.2L818.9 790.7L819.4 790.1L819.9 789.5L820.4 788.9L820.9 788.3L821.4 787.6L821.9 787L822.4 786.3L822.9 785.6L823.4 784.9L823.9 784.2L824.4 783.5L824.9 782.9L825.4 782.2L825.9 781.6L826.4 781.1L826.9 780.5L827.4 780L827.9 779.5L828.4 779L828.9 778.5L829.4 778.1L829.9 777.7L830.4 777.4L830.9 777.1L831.4 776.8L831.9 776.5L832.4 776.3L832.9 776.1L833.4 775.9L833.9 775.8L834.4 775.7L834.9 775.7L835.4 775.7L835.9 775.7L836.4 775.8L836.9 775.8L837.4 776L837.9 776.1L838.4 776.3L838.9 776.5L839.4 776.7L839.9 777L840.4 777.2L840.9 777.5L841.4 777.8L841.9 778.1L842.4 778.4L842.9 778.7L843.4 779L843.9 779.3L844.4 779.6L844.9 779.8L845.4 780.1L845.9 780.3L846.4 780.6L846.9 780.8L847.4 780.9L847.9 781L848.4 781.1L848.9 781.2L849.4 781.2L849.9 781.1L850.4 781L850.9 780.9L851.4 780.7L851.9 780.4L852.4 780.1L852.9 779.8L853.4 779.5L853.9 779.1L854.4 778.7L854.9 778.3L855.4 777.9L855.9 777.4L856.4 776.9L856.9 776.5L857.4 776L857.9 775.6L858.4 775.1L858.9 774.7L859.4 774.2L859.9 773.8L860.4 773.4L860.9 773.1L861.4 772.7L861.9 772.4L862.4 772.2L862.9 772L863.4 771.8L863.9 771.7L864.4 771.6L864.9 771.7L865.4 771.7L865.9 771.9L866.4 772.1L866.9 772.3L867.4 772.6L867.9 773L868.4 773.4L868.9 773.8L869.4 774.3L869.9 774.8L870.4 775.3L870.9 775.8L871.4 776.4L871.9 776.9L872.4 777.5L872.9 778.1L873.4 778.6L873.9 779.2L874.4 779.7L874.9 780.2L875.4 780.7L875.9 781.2L876.4 781.7L876.9 782.1L877.4 782.5L877.9 782.9L878.4 783.3L878.9 783.6L879.4 783.9L879.9 784.2L880.4 784.5L880.9 784.7L881.4 784.9L881.9 785L882.4 785.1L882.9 785.1L883.4 785.1L883.9 785.1L884.4 785L884.9 784.9L885.4 784.7L885.9 784.5L886.4 784.3L886.9 784L887.4 783.7L887.9 783.4L888.4 783.1L888.9 782.7L889.4 782.4L889.9 782L890.4 781.6L890.9 781.3L891.4 780.9L891.9 780.5L892.4 780.2L892.9 779.8L893.4 779.5L893.9 779.2L894.4 778.9L894.9 778.6L895.4 778.4L895.9 778.2L896.4 778L896.9 777.8L897.4 777.7L897.9 777.6L898.4 777.6L898.9 777.5L899.4 777.6L899.9 777.7L900.4 777.8L900.9 777.9L901.4 778.1L901.9 778.4L902.4 778.6L902.9 778.9L903.4 779.2L903.9 779.5L904.4 779.9L904.9 780.2L905.4 780.6L905.9 781L906.4 781.4L906.9 781.8L907.4 782.1L907.9 782.5L908.4 782.9L908.9 783.2L909.4 783.6L909.9 783.9L910.4 784.3L910.9 784.6L911.4 784.9L911.9 785.1L912.4 785.4L912.9 785.6L913.4 785.8L913.9 786L914.4 786.1L914.9 786.2L915.4 786.3L915.9 786.3L916.4 786.3L916.9 786.3L917.4 786.2L917.9 786.1L918.4 785.9L918.9 785.8L919.4 785.6L919.9 785.4L920.4 785.2L920.9 785L921.4 784.9L921.9 784.7L922.4 784.6L922.9 784.5L923.4 784.4L923.9 784.4L924.4 784.4L924.9 784.5L925.4 784.7L925.9 784.9L926.4 785.2L926.9 785.6L927.4 786L927.9 786.4L928.4 786.9L928.9 787.4L929.4 788L929.9 788.5L930.4 789.1L930.9 789.7L931.4 790.4L931.9 791L932.4 791.6L932.9 792.2L933.4 792.8L933.9 793.4L934.4 794L934.9 794.5L935.4 795.1L935.9 795.6L936.4 796.1L936.9 796.5L937.4 796.9L937.9 797.4L938.4 797.7L938.9 798.1L939.4 798.4L939.9 798.7L940.4 798.9L940.9 799.1L941.4 799.3L941.9 799.4L942.4 799.5L942.9 799.5L943.4 799.5L943.9 799.5L944.4 799.4L944.9 799.3L945.4 799.1L945.9 798.9L946.4 798.6L946.9 798.3L947.4 797.9L947.9 797.5L948.4 797.1L948.9 796.6L949.4 796.1L949.9 795.6L950.4 795.1L950.9 794.6L951.4 794L951.9 793.5L952.4 792.9L952.9 792.3L953.4 791.8L953.9 791.2L954.4 790.7L954.9 790.1L955.4 789.6L955.9 789.1L956.4 788.6L956.9 788.1L957.4 787.6L957.9 787.2L958.4 786.7L958.9 786.3L959.4 786L959.9 785.6L960.4 785.3L960.9 785.1L961.4 784.8L961.9 784.6L962.4 784.4L962.9 784.3L963.4 784.2L963.9 784.2L964.4 784.1L964.9 784.2L965.4 784.3L965.9 784.4L966.4 784.5L966.9 784.7L967.4 784.9L967.9 785.1L968.4 785.4L968.9 785.7L969.4 786L969.9 786.3L970.4 786.6L970.9 786.9L971.4 787.2L971.9 787.6L972.4 787.9L972.9 788.2L973.4 788.6L973.9 788.9L974.4 789.1L974.9 789.4L975.4 789.6L975.9 789.8L976.4 789.9L976.9 790L977.4 790.1L977.9 790L978.4 790L978.9 789.8L979.4 789.6L979.9 789.4L980.4 789.1L980.9 788.8L981.4 788.5L981.9 788.2L982.4 787.8L982.9 787.4L983.4 787L983.9 786.6L984.4 786.3L984.9 785.9L985.4 785.6L985.9 785.3L986.4 785L986.9 784.7L987.4 784.5L987.9 784.3L988.4 784.2L988.9 784L989.4 784L989.9 783.9L990.4 783.9L990.9 784L991.4 784.1L991.9 784.2L992.4 784.4L992.9 784.7L993.4 785L993.9 785.3L994.4 785.7L994.9 786.1L995.4 786.5L995.9 787L996.4 787.5L996.9 788L997.4 788.5L997.9 789.1L998.4 789.6L998.9 790.2L999.4 790.8L999.9 791.3L1000.4 791.9L1000.9 792.4L1001.4 793L1001.9 793.5L1002.4 794L1002.9 794.4L1003.4 794.9L1003.9 795.3L1004.4 795.6L1004.9 795.9L1005.4 796.2L1005.9 796.4L1006.4 796.5L1006.9 796.6L1007.4 796.6L1007.9 796.6L1008.4 796.4L1008.9 796.2L1009.4 795.9L1009.9 795.5L1010.4 795.1L1010.9 794.6L1011.4 794.1L1011.9 793.5L1012.4 792.8L1012.9 792.1L1013.4 791.4L1013.9 790.7L1014.4 789.9L1014.9 789.2L1015.4 788.4L1015.9 787.6L1016.4 786.9L1016.9 786.1L1017.4 785.4L1017.9 784.7L1018.4 784L1018.9 783.4L1019.4 782.8L1019.9 782.2L1020.4 781.7L1020.9 781.1L1021.4 780.7L1021.9 780.2L1022.4 779.8L1022.9 779.4L1023.4 779.1L1023.9 778.8L1024.4 778.5L1024.9 778.3L1025.4 778.1L1025.9 777.9L1026.4 777.7L1026.9 777.6L1027.4 777.6L1027.9 777.5L1028.4 777.5L1028.9 777.6L1029.4 777.7L1029.9 777.8L1030.4 777.9L1030.9 778.1L1031.4 778.3L1031.9 778.6L1032.4 778.9L1032.9 779.2L1033.4 779.6L1033.9 780L1034.4 780.4L1034.9 780.9L1035.4 781.4L1035.9 782L1036.4 782.6L1036.9 783.2L1037.4 783.9L1037.9 784.6L1037.9 784.6" fill="none" stroke="#008000" stroke-width="2.9" stroke-linejoin="round" stroke-linecap="square"/>
</g>
<path d="M91.4 1007.1v-9.7M91.4 563.3v9.7M262 1007.1v-9.7M262 563.3v9.7M432.6 1007.1v-9.7M432.6 563.3v9.7M603.1 1007.1v-9.7M603.1 563.3v9.7M773.7 1007.1v-9.7M773.7 563.3v9.7M944.3 1007.1v-9.7M944.3 563.3v9.7M125.5 1007.1v-5.7M125.5 563.3v5.7M159.6 1007.1v-5.7M159.6 563.3v5.7M193.7 1007.1v-5.7M193.7 563.3v5.7M227.9 1007.1v-5.7M227.9 563.3v5.7M296.1 1007.1v-5.7M296.1 563.3v5.7M330.2 1007.1v-5.7M330.2 563.3v5.7M364.3 1007.1v-5.7M364.3 563.3v5.7M398.4 1007.1v-5.7M398.4 563.3v5.7M466.7 1007.1v-5.7M466.7 563.3v5.7M500.8 1007.1v-5.7M500.8 563.3v5.7M534.9 1007.1v-5.7M534.9 563.3v5.7M569 1007.1v-5.7M569 563.3v5.7M637.3 1007.1v-5.7M637.3 563.3v5.7M671.4 1007.1v-5.7M671.4 563.3v5.7M705.5 1007.1v-5.7M705.5 563.3v5.7M739.6 1007.1v-5.7M739.6 563.3v5.7M807.8 1007.1v-5.7M807.8 563.3v5.7M841.9 1007.1v-5.7M841.9 563.3v5.7M876.1 1007.1v-5.7M876.1 563.3v5.7M910.2 1007.1v-5.7M910.2 563.3v5.7M978.4 1007.1v-5.7M978.4 563.3v5.7M1012.5 1007.1v-5.7M1012.5 563.3v5.7M1046.6 1007.1v-5.7M1046.6 563.3v5.7M91.4 962.7h9.7M1063.7 962.7h-9.7M91.4 874h9.7M1063.7 874h-9.7M91.4 785.2h9.7M1063.7 785.2h-9.7M91.4 696.4h9.7M1063.7 696.4h-9.7M91.4 607.7h9.7M1063.7 607.7h-9.7M91.4 998.2h5.7M1063.7 998.2h-5.7M91.4 980.5h5.7M1063.7 980.5h-5.7M91.4 945h5.7M1063.7 945h-5.7M91.4 927.2h5.7M1063.7 927.2h-5.7M91.4 909.5h5.7M1063.7 909.5h-5.7M91.4 891.7h5.7M1063.7 891.7h-5.7M91.4 856.2h5.7M1063.7 856.2h-5.7M91.4 838.5h5.7M1063.7 838.5h-5.7M91.4 820.7h5.7M1063.7 820.7h-5.7M91.4 803h5.7M1063.7 803h-5.7M91.4 767.4h5.7M1063.7 767.4h-5.7M91.4 749.7h5.7M1063.7 749.7h-5.7M91.4 731.9h5.7M1063.7 731.9h-5.7M91.4 714.2h5.7M1063.7 714.2h-5.7M91.4 678.7h5.7M1063.7 678.7h-5.7M91.4 660.9h5.7M1063.7 660.9h-5.7M91.4 643.2h5.7M1063.7 643.2h-5.7M91.4 625.4h5.7M1063.7 625.4h-5.7M91.4 589.9h5.7M1063.7 589.9h-5.7M91.4 572.2h5.7M1063.7 572.2h-5.7" stroke="#000" stroke-width="1.3" fill="none"/>
<rect x="91.4" y="563.3" width="972.3" height="443.8" fill="none" stroke="#000" stroke-width="1.6"/>
<text x="91.4" y="1031.7" font-size="23.2" text-anchor="middle">1870</text>
<text x="262" y="1031.7" font-size="23.2" text-anchor="middle">1875</text>
<text x="432.6" y="1031.7" font-size="23.2" text-anchor="middle">1880</text>
<text x="603.1" y="1031.7" font-size="23.2" text-anchor="middle">1885</text>
<text x="773.7" y="1031.7" font-size="23.2" text-anchor="middle">1890</text>
<text x="944.3" y="1031.7" font-size="23.2" text-anchor="middle">1895</text>
<text x="84.4" y="971.7" font-size="23.2" text-anchor="end">0.98</text>
<text x="84.4" y="883" font-size="23.2" text-anchor="end">0.99</text>
<text x="84.4" y="794.2" font-size="23.2" text-anchor="end">1.00</text>
<text x="84.4" y="705.4" font-size="23.2" text-anchor="end">1.01</text>
<text x="84.4" y="616.7" font-size="23.2" text-anchor="end">1.02</text>
<text x="20.6" y="784" font-size="26.9" text-anchor="middle" transform="rotate(-90 20.6 784)">Relative flux</text>
<text x="577.3" y="608" font-size="27.3" text-anchor="middle" font-weight="bold">s21</text>
<text x="577.6" y="1064" font-size="26.9" text-anchor="middle">Time (BJD - 2457000)</text>
<clipPath id="c3"><rect x="1204.1" y="25.1" width="906.3" height="696"/></clipPath>
<clipPath id="c4"><rect x="1204.1" y="751.4" width="906.3" height="231.6"/></clipPath>
<g clip-path="url(#c3)">
<path transform="scale(.5)" d="M3227 890v351M2630 545v434M3015 582v375M3113 716v387M2568 501v687M3013 677v385M3235 861v418M3220 665v404M3341 412v419M4109 291v729M2948 801v374M2441 364v434M2829 572v382M3175 730v360M3894 555v392M2951 819v422M3794 741v410M3817 632v434M3355 611v422M3353 382v435M3736 701v447M3625 627v392M3409 736v390M2763 444v372M3632 523v369M3766 517v350M2481 399v410M3615 588v398M2540 479v383M2646 633v360M3919 602v348M3381 363v450M3155 310v361M2938 641v509M2700 558v377M3845 559v393M3895 579v357M3161 776v380M3909 385v419M2648 455v384M3577 594v382M4056 409v640M3303 517v410M4076 549v393M3402 552v399M3647 663v346M3248 824v394M2473 367v388M2459 584v404M3810 1068v340M2704 344v400M4088 566v411M3141 855v337M3966 426v403M2904 767v406M2901 385v422M2465 738v405M3418 151v416M2421 663v372M2603 630v412M3493 717v414M2647 643v386M4136 457v413M3925 370v402M3620 811v420M2730 477v413M2415 363v714M3733 563v398M3930 378v424M2678 677v334M3759 382v387M4103 561v399M3604 320v359M2676 624v378M3169 434v391M3041 761v392M2939 737v414M3614 403v388M2864 529v406M3791 553v401M3417 435v372M2624 748v363M3533 682v401M3360 534v597M2824 552v386M3658 733v438M4053 455v415M3753 680v394M3983 442v391M2813 533v413M2764 607v410M3677 982v399M2695 503v394M2493 592v526M2968 545v400M2635 416v386M2858 351v477M2441 468v427M3919 492v421M3646 735v419M2441 275v424M3555 608v435M3631 699v482M2548 593v397M4215 854v368M3494 517v423M3814 304v375M3184 596v401M2519 726v417M3381 589v628M4042 460v345M3581 736v422M3925 814v404M3127 405v377M3272 726v391M3651 367v398M2559 702v414M2998 671v371M3787 556v411M3400 782v408M2524 634v382M3639 639v394M3184 576v430M3390 537v437M3815 468v369M3315 664v341M3531 547v416M4185 351v406M2428 546v430M2888 653v394M2944 602v409M3736 373v404M2579 367v417M3717 461v578M4147 368v380M4038 580v456M3434 794v349M2801 680v494M4173 519v394M3821 571v400M3837 440v422M2592 750v382M3094 527v376M3578 580v367M3909 548v413M3775 603v386M3651 617v368M3289 646v394M3949 582v404M2868 251v654M3588 655v377M2570 678v405M2661 316v402M3249 456v363M2950 407v387M3719 91v372M2685 610v692M3337 577v379M3562 656v413M2667 385v387M3126 581v659M3485 530v421M3724 403v402M2519 714v417M3855 503v382M4119 289v432M2726 458v392M3605 494v368M3219 508v432M2913 545v644M3176 404v431M3925 753v378M3446 805v393M4168 608v376M2729 480v394M4217 819v366M3428 542v363M3589 644v427M3681 193v642M2754 475v502M3235 513v392M3153 584v416M4180 572v380M4133 550v415M3017 466v410M3571 354v621M3225 598v399M4032 514v395M3863 628v456M2917 715v534M4067 752v431M3647 733v408M2441 547v363M3863 562v400M3886 690v346M3976 361v666M3195 588v401M4047 579v403M2602 888v344M3552 649v460M2812 583v384M3197 652v382M3983 550v392M2561 686v373M3345 779v409M4087 344v417M2704 480v399M3978 300v432M2552 672v356M2518 678v381M3907 643v397M3519 551v439M3144 721v562M3241 726v377M3667 626v364M3667 839v429M3282 755v432M2578 466v391M3443 640v383M4137 704v371M3237 634v366M3916 675v380M4075 507v396M3585 718v399M2713 366v401M4066 385v423M2563 698v398M3567 672v375M3966 581v379M2770 757v392M3953 732v404M4112 652v393M2433 708v429M3386 620v411M2773 360v370M2977 395v348M3539 649v398M4150 531v401M4007 303v425M4216 459v610M3019 517v415M3422 518v380M2585 470v383M4134 664v417M3408 626v391M4003 481v395M2741 548v411M3769 641v416M3204 712v359M3141 754v379M2845 905v356M3842 643v375M3005 687v374M3056 610v384M3892 586v357M2641 574v391M3715 492v381M3820 46v393M3401 547v435M2467 324v387M3868 590v408M3723 512v387M3626 765v408M2469 451v392M3421 563v390M2955 607v383M4114 644v404M3200 680v426M2435 264v395M4103 659v412M2970 480v362M3331 534v393M3267 716v386M3811 269v382M3423 619v527M2722 500v371M3743 657v421M3694 826v428M2428 455v408M2444 642v419M3677 353v394M2470 730v540M2745 619v374M3553 547v393M2740 617v416M2798 489v385M2426 446v397M2888 771v406M3107 830v381M2736 597v418M3803 560v391M2567 435v390M2552 507v425M3891 659v379M3836 399v532M2698 786v419M3810 603v391M3731 262v415M4201 239v406M3460 299v488M2826 615v384M3198 651v420M2584 509v408M2763 529v392M3824 629v417M3872 834v381M3636 578v412M2725 592v389M3378 678v380M2438 523v402M3275 604v381M4007 509v411M3991 791v380M3045 859v380M3004 684v420M2527 656v417M4082 596v414M3450 628v416M2620 586v419M2905 296v645M2901 422v417M3456 612v355M2573 596v436M3718 478v399M3702 674v420M2525 478v337M2839 513v438M3264 710v372M4030 627v417M3389 765v421M4000 384v403M4069 598v415M3885 726v443M3643 387v394M3610 565v422M3150 333v421M3222 688v375M3594 707v373M3236 548v413M2570 359v424M3859 412v371M4166 308v427M3731 459v381M3823 46v276M2910 382v697M3510 468v399M3259 482v397M2505 428v595M3499 618v354M2496 634v384M3603 491v422M4095 458v395M3983 521v429M3377 552v395M3240 704v393M3159 618v410M3494 605v368M3960 409v377M3798 595v368M2930 482v379M2802 602v387M2720 530v411M4214 199v498M2740 686v373M3302 787v356M3209 857v393M3479 372v589M2685 499v389M3650 669v407M3632 758v384M3507 639v394M3682 565v370M2698 613v371M3040 665v416M3636 549v396M3734 711v391M2874 623v415M2982 455v627M3121 755v391M3968 392v430M3636 791v440M4132 318v699M2815 516v390M2710 386v424M4048 546v403M4072 499v363M3660 619v374M2929 632v372M2439 530v364M3943 541v426M2548 506v412M3015 621v353M3549 821v368M2941 567v421M2416 499v367M2783 882v422M3031 434v398M3709 572v374M3965 505v363M3193 977v390M2612 641v424M3389 659v401M2834 586v394M2608 637v408M2796 616v417M3370 557v411M2912 459v384M3891 352v406M3750 630v384M2445 502v423M3420 838v398M3125 651v391M3044 579v505M3575 540v363M3905 527v410M2493 692v396M3712 577v436M3481 480v424M4116 297v370M3639 539v388M2510 430v408M3315 568v417M2836 873v412M3598 852v325M3265 306v569M3176 766v399M3113 582v404M3095 587v401M2732 282v600M2576 482v414M3004 556v429M3374 553v386M3957 628v428M3791 630v409M3769 470v415M3410 411v412M3962 677v373M4077 507v384M3804 465v414M3371 692v423M3314 800v430M2881 584v424M2660 339v408M2434 622v417M3048 610v404M2720 633v392M3339 623v427M4191 423v419M3900 427v413M3005 631v383M2865 803v388M3726 658v402M3528 581v376M2481 600v378M2503 479v396M3508 677v417M3997 520v432M3250 472v386M3522 612v389M2960 297v384M3489 651v355M3926 313v418M3619 630v440M2973 617v391M3636 647v436M3444 751v395M3659 741v392M2630 458v422M3219 724v404M3058 511v414M4046 429v377M3900 640v435M2580 578v396M3219 516v668M4164 793v402M2445 693v402M3136 734v418M3655 446v438M2719 401v413M3573 565v443M2465 627v416M3743 570v383M3226 840v389M3036 582v362M4088 449v532M3400 665v388M3347 586v399M3012 624v378M3147 815v354M2656 643v392M3947 573v426M3196 725v357M3607 659v358M4021 607v407M3058 780v426M2656 476v375M2846 368v423M3518 883v346M2849 439v386M2620 635v348M3029 357v379M3215 444v406M3835 522v407M3282 648v626M3907 316v400M3966 431v410M3016 596v375M3808 377v389M3124 615v381M2831 466v376M3175 746v402M3065 705v392M3286 499v380M2516 317v431M2786 609v422M3228 408v441M4177 528v645M2835 282v398M3381 592v413M3991 408v414M2660 356v422M2897 686v394M3794 487v395M3461 659v409M2832 286v403M3884 380v569M2579 298v399M4077 552v408M2640 617v444M2429 694v464M4191 287v391M4022 694v390M2441 662v408M3699 363v438M4183 640v392M3452 524v539M3116 587v365M2731 666v385M3015 426v375M3960 483v400M2733 389v399M2909 605v412M3057 577v374M4213 719v406M2705 735v409M3473 759v381M3776 737v408M2833 505v390M3996 577v378M2874 633v417M3603 480v400M3827 343v367M3818 530v509M3537 952v384M3544 768v359M3092 485v357M3181 703v350M3782 618v371M4095 605v358M3165 652v424M3803 652v378M2990 650v379M3781 467v421M3911 180v399M2705 368v408M3041 569v400M3566 650v416M3099 637v393M4036 201v382M3362 576v416M3695 730v391M4171 892v392M3609 470v609M3889 667v386M2885 296v400M3022 383v378M3093 490v383M3208 623v361M3553 289v607M2704 584v384M3960 650v390M3356 778v408M2812 594v447M3734 615v408M2937 733v414M3887 500v411M3866 502v437M3756 528v412M2956 709v397M3369 596v404M4133 538v439M2512 746v403M3801 552v498M2557 650v389M3451 857v392M4019 755v409M3360 585v389M2677 343v426M3234 643v458M2938 735v391M3544 585v379M3441 603v411M2939 626v373M4004 633v398M4104 586v363M2444 393v398M3301 610v419M2685 611v397M2915 356v371M3968 804v381M3634 675v417M3546 625v409M2952 547v416M2602 269v372M2826 461v367M4133 875v360M3134 519v436M3658 481v385M3912 486v412M3348 728v403M3881 448v399M3689 472v386M2921 644v421M3520 970v380M3573 557v385M3702 646v402M3232 477v402M2489 427v378M2979 819v392M2775 390v377M4172 601v365M3450 543v399M2590 495v420M2446 253v428M3813 690v365M2535 571v432M3093 598v371M2895 654v379M3376 690v392M2709 533v411M3530 812v380M3495 853v375M2568 617v415M3373 703v386M3480 657v390M3157 657v389M2729 666v373M2423 631v394M2589 666v392M2704 1165v281M2879 532v400M3080 739v386M4061 463v394M3387 533v403M3949 576v399M2886 713v389M4042 273v738M2477 150v393M3652 603v384M3145 742v401M3645 467v383M2446 526v418M3263 895v357M3658 535v404M2824 513v509M3185 699v410M3779 671v370M3190 650v413M2660 576v458M2501 631v387M2483 713v461M2948 739v387M2641 248v324M4040 534v374M3849 710v408M3672 422v611M2816 485v364M3799 397v360M3148 421v421M3300 320v373M3157 652v377M3273 526v379M2948 738v390M3890 540v392M3565 732v387M3037 325v396M2641 198v405M4051 972v398M3349 540v383M2620 708v397M2419 412v400M2426 562v370M3010 556v400M3832 467v347M2778 497v392M3716 46v374M2590 518v598M2642 457v347M3262 614v403M3119 632v391M3965 770v367M2412 729v401M3642 806v409M3520 589v371M3120 562v397M3849 512v392M3363 741v391M2982 673v433M2422 729v403M3047 685v421M4091 400v371M3130 621v398M2924 428v404M2700 606v372M3430 742v375M3883 649v373M2564 419v395M2553 530v410M2636 350v368M4082 374v461M3604 380v577M4080 188v389M4094 564v410M3625 697v406M3563 891v388M2612 511v374M2619 627v355M2997 674v416M2642 694v405M2444 846v369M2648 303v381M3521 349v363M2566 700v424M2726 548v502M3264 770v407M2871 707v392M3445 519v391M2711 681v390M3052 723v376M2422 577v409M3582 460v409M2949 683v400M2501 191v407M3724 487v426M3453 684v425M3483 752v420M3232 555v389M3338 539v382M3429 715v411M3538 626v397M2732 563v558M4096 381v447M3522 918v381M2633 498v400M2680 663v358M3968 383v364M2425 534v359M3902 789v382M3645 489v403M3634 407v346M3472 673v373M2567 588v429M2993 616v402M2789 605v406M3950 732v356M3758 288v427M2870 426v364M2999 687v375M2949 674v398M3006 609v435M2997 505v391M3944 345v409M3726 248v404M3544 635v407M3967 567v396M4021 498v365M2630 838v379M3458 683v412M3275 635v430M3611 562v405M3579 602v384M4165 597v402M3571 561v379M2661 321v413M3314 644v695M2780 592v448M3155 616v364M3551 545v394M3059 728v401M2462 526v403M2808 505v392M3975 600v403M3322 510v417M3113 590v395M4209 427v649M3964 578v417M3323 769v427M2788 524v428M3149 700v383M3620 746v395M3994 397v409M3429 770v398M2846 567v430M2915 684v415M3075 399v417M3700 610v358M3032 591v407M3899 362v439M3074 521v544M3851 776v388M3350 481v397M3915 399v435M2714 616v371M3056 588v374M2556 349v389M4056 662v366M3355 557v392M2570 424v411M4203 484v417M2844 515v361M3998 681v349M2904 727v379M3207 634v398M2673 383v426M3313 750v387M2460 440v541M2531 577v411M3755 302v408M3547 685v372M4080 624v386M3772 807v411M3367 873v420M3360 811v383M3095 666v383M3714 534v359M2437 274v423M3754 441v407M3688 662v386M2844 277v413M2796 507v415M3398 572v423M2417 624v438M2693 201v396M3267 550v396M3060 710v403M4204 528v398M2727 376v558M3095 805v386M3478 768v365M3678 593v426M2718 469v360M2499 554v413M2828 528v421M2882 396v627M3003 707v350M3448 858v382M3068 754v443M3981 552v416M2971 352v389M2502 667v413M3216 268v386M4178 332v389M3818 415v409M3138 673v365M2996 824v414M3153 289v414M2893 809v393M3632 612v669M3676 504v421M3950 522v404M2766 710v387M3023 643v426M3823 507v381M2892 716v403M2727 249v393M4083 550v398M2661 441v414M2807 746v380M3687 705v390M4177 802v399M2921 448v564M2659 584v640M3309 640v410M3412 636v386M2509 559v398M4148 513v685M3654 808v382M3232 698v381M3709 351v407M3585 828v410M2771 498v412M2512 580v353M2636 427v409M4147 455v393M3401 1001v352M3131 512v392M2861 778v423M3517 830v401M4089 716v384M2560 660v396M4009 501v417M4180 570v423M3630 459v676M3752 438v383M2452 245v449M3334 635v402M3227 614v397M3668 358v378M3139 408v649M3375 664v398M3127 656v420M2964 761v368M3177 610v390M3905 535v417M3947 393v425M2645 495v412M2459 483v385M2616 441v362M2880 676v409M2658 405v379M2995 454v577M4006 150v409M3353 629v382M2457 621v392M3025 670v377M3582 560v369M2749 421v418M3906 540v428M3306 714v385M3077 668v389M3808 530v476M3951 390v387M2954 258v449M3255 449v410M3148 460v402M4129 469v413M3773 452v592M2804 486v372M3270 1173v273M3274 735v410M2442 181v425M3344 606v415M3189 590v396M3014 1002v403M3815 384v359M3017 563v390M3149 614v682M2837 458v414M3357 777v392M2869 691v421M4117 660v381M3451 648v457M3293 568v417M2518 761v371M2803 716v386M2781 684v394M4040 413v401M3675 714v411M2460 540v414M3583 502v566M3339 501v621M3286 626v383M2923 533v406M3434 650v412M3366 446v393M4073 355v390M3935 410v400M4130 902v387M3630 503v416M3956 536v388M3049 780v397M2592 397v392M2879 422v414M2688 337v419M3047 666v413M4081 928v391M3243 534v380M3615 662v384M2637 464v354M4105 543v377M3876 692v384M3764 450v391M3740 424v396M2881 282v383M3914 485v431M3537 409v353M3742 597v410M2692 797v418M3783 552v435M2908 765v374M3001 587v395M3687 666v605M2778 582v402M2809 494v403M2714 372v626M4108 616v407M2920 707v377M3362 545v431M3386 728v394M3241 526v396M2661 505v405M2825 443v392M3469 384v381M4181 296v567M2896 283v405M3430 680v405M2904 579v365M4088 484v365M4062 426v352M3605 619v398M3596 844v366M3002 473v386M3834 392v422M2664 439v424M3282 402v395M3809 553v374M2562 613v406M3249 582v382M2690 494v376M2672 546v371M2912 589v394M4037 302v380M3555 799v346M3623 768v385M2939 659v390M4179 422v384M3246 450v413M2774 608v393M4008 548v378M3964 617v383M3847 647v355M3878 739v402M3032 810v401M2998 524v388M2427 396v406M3387 717v653M2651 404v385M3147 613v440M3882 503v378M4049 362v413M3060 529v625M4166 507v379M2416 347v398M2985 721v380M3970 426v415M3602 684v421M4207 658v351M3847 597v395M3294 561v397M4035 560v404M2513 646v413M3772 891v381M3330 415v404M3650 818v385M4210 657v366M3907 686v418M3159 664v420M2826 796v379M3650 648v472M3502 835v379M3809 698v414M3054 733v403M3825 572v382M3823 533v402M4202 714v538M3409 407v371M2447 718v414M3864 533v422M4100 717v380M3066 590v422M3729 304v417M3187 694v388M2722 631v393M2713 581v389M4218 474v383M2594 374v615M3365 506v378M3896 505v414M3208 627v402M2961 536v339M3116 769v341M3201 795v419M3552 825v371M3073 753v390M3569 578v317M3407 706v593M2818 502v367M3664 824v404M4128 329v394M3548 755v378M3826 496v381M3998 504v404M4056 608v367M2492 412v406M4016 473v397M3499 637v632M3471 731v380M2818 660v396M2545 617v379M2925 495v422" stroke="#c0c0c0" stroke-opacity=".75" stroke-width="6" fill="none"/>
<path transform="scale(.5)" d="M3865 844v549M3778 529v422M2902 209v405M4118 385v372M3043 564v393M4039 737v381M3486 291v430M3888 604v399M2775 386v343M2758 805v373M2635 318v435M4066 592v402M3581 787v386M2783 726v380M2780 547v395M3159 328v430M3600 500v494M2902 746v420M3172 686v685M2998 569v384M3232 644v442M3856 651v439M3549 474v388M3730 408v410M3519 415v376M3423 730v392M2620 428v434M2965 696v395M2620 540v383M2521 583v342M3023 668v368M3974 547v417M3360 715v423M4129 422v346M3930 422v394M4081 516v400M2461 601v463M3577 771v398M3505 620v490M3763 430v348M3865 566v366M2470 566v403M3549 538v420M4084 346v400M2849 507v372M3837 609v419M3371 937v373M2951 403v358M2422 771v398M2964 513v416M2724 311v391M4191 329v441M2611 574v409M3860 485v372M3153 796v374M4015 354v385M3598 984v389M3603 687v436M4207 558v491M2514 832v514M2522 501v400M3763 200v425M3695 544v411M3053 709v390M3092 701v395M4140 442v377M2800 441v406M3394 612v388M3874 546v694M2905 495v423M4016 501v395M2441 408v384M3482 370v404M3094 46v294M3506 472v415M2946 620v401M3992 739v386M3348 437v396M3506 593v485M2721 497v423M3051 542v384M3726 316v395M3838 607v400M2945 505v361M3184 544v561M2758 534v400M3875 479v394M2629 748v376M3542 498v402M3875 619v387M2869 630v391M3354 454v627M2745 554v356M4185 666v399M3460 718v414M3595 704v426M3648 387v385M3886 415v393M2729 441v359M2514 681v334M3861 657v403M2656 627v397M2917 556v618M3427 599v427M3858 617v426M3439 687v392M4080 556v379M2943 716v378M3674 678v426M3668 696v583M3837 585v439M2527 550v371M4076 335v398M3979 496v404M3958 733v369M2864 386v396M2727 516v547M3211 819v395M3659 538v406M2798 471v411M3921 97v387M3092 479v386M3088 673v396M2962 625v376M3945 620v369M4074 707v373M3856 511v418M3296 657v380M4044 825v438M2742 462v414M3818 574v407M2991 588v380M3864 586v388M2700 561v417M3331 840v381M2932 694v508M2975 736v388M2946 392v419M3338 537v539M2604 643v383M3434 692v356M3504 468v426M3343 710v392M3968 385v373M2473 397v425M2940 701v351M3112 552v394M2851 550v425M2848 567v453M3493 758v427M2858 449v400M2979 753v401M3432 692v434M2670 537v417M2721 524v510M2756 805v387M2594 558v412M3418 453v376M3596 728v420M2679 447v408M4049 322v475M3651 588v402M3858 846v388M2872 366v409M2810 399v445M3504 757v368M2711 818v384M3533 699v391M2540 570v352M2729 315v393M4115 285v400M2844 654v420M2588 606v379M2959 678v415M2816 535v400M3231 655v359M4197 488v396M2867 197v393M2556 553v411M3997 228v408M3371 547v384M2573 353v374M2444 508v402M2776 470v391M4129 653v372M4030 328v409M2809 757v426M3126 674v424M2650 656v424M3067 602v406M3454 654v388M2831 707v514M2593 448v411M2414 541v384M2851 533v384M2535 276v410M4054 631v407M2517 372v411M2817 561v368M3066 698v394M3216 582v410M4067 417v362M2877 328v398M2582 714v375M3397 619v368M3888 457v434M2882 506v411M3381 539v414M2902 368v383M3833 430v430M2658 461v547M2893 706v364M2767 578v438M4131 687v335M3727 714v374M2598 906v390M3575 834v399M3614 771v402M4083 534v432M2909 622v381M2487 475v385M2791 574v379M3925 699v381M3579 760v426M3393 613v379M2625 490v377M2660 746v376M3842 547v635M3554 705v389M2672 523v396M3045 542v388M2606 395v407M3795 680v372M4138 331v399M4018 513v406M3130 794v397M3901 643v380M3225 724v385M4122 487v373M3663 585v607M2531 554v389M2768 639v342M4180 569v385M4195 535v399M2874 798v386M2711 682v408M3081 650v478M2947 749v371M3050 493v411M3095 649v418M4187 393v417M3289 558v434M2748 391v384M2935 673v413M3737 672v381M2661 705v429M2726 429v435M3134 812v385M2604 580v382M3743 347v380M4136 668v399M2682 654v421M3125 834v352M2882 767v366M2849 710v404M3923 597v390M3705 913v387M3299 554v404M2921 750v392M3876 539v402M3213 513v354M3159 876v367M3049 609v413M3092 531v419M3835 559v371M4140 513v381M2719 659v351M3228 537v421M3194 421v391M3660 645v404M3193 380v395M3507 660v415M3013 736v392M3125 882v403M3629 706v393M4098 252v453M3457 564v363M3358 555v414M4128 427v338M3234 503v385M3763 627v426M2429 634v381M4173 729v376M3937 432v397M2838 531v401M2796 756v340M2830 567v392M3247 602v382M3833 746v404M3777 585v366M4067 702v399M4072 676v557M2996 551v433M2584 577v349M2433 425v607M3937 543v369M2986 589v397M4027 488v391M3437 594v385M3869 761v383M3750 541v402M3381 644v382M2500 425v446M3629 400v395M3982 737v393M4203 390v444M2723 395v339M3180 628v377M3964 429v415M2748 606v369M4200 523v361M3801 486v427M2860 536v397M3866 378v387M3584 840v412M3870 363v372M2466 431v425M2892 119v607M3616 548v386M2655 477v389M3478 693v390M3252 708v399M3753 574v414M3985 630v385M3615 555v390M3042 562v360M2932 606v388M3759 441v414M2556 430v362M2905 414v390M3814 650v365M2603 664v396M3655 401v629M3970 639v372M2466 433v430M3523 759v399M2893 623v432M2479 698v403M3710 734v425M3548 617v426M3899 461v420M2779 469v400M2525 591v384M4103 475v405M4134 533v405M3966 536v351M3917 570v390M3188 698v377M3518 729v381M4189 420v364M3737 799v440M3167 557v412M3326 536v359M3477 752v390M3212 430v415M3259 581v381M3289 468v398M2644 615v415M4185 469v455M3428 523v466M3085 631v403M3565 614v423M2519 466v431M3552 905v387M2449 441v460M2887 677v391M3424 820v399M2417 703v415M2576 663v397M2801 507v340M2923 421v382M3929 599v636M3237 465v613M2482 578v345M2485 455v358M4142 612v411M3748 689v397M3963 700v390M2534 603v407M3613 715v389M2961 492v407M3520 779v417M2794 669v413M3625 602v422M2703 553v408M4198 637v359M2734 465v392M2857 648v401M2958 452v401M4028 121v394M3666 450v382M3616 883v394M3513 587v364M2800 328v360M3279 614v384M3912 327v402M2900 627v410M3917 672v587M2828 518v369M2439 595v349M3579 763v394M2434 455v417M2557 694v414M3007 496v365M2815 140v406M2595 765v443M3532 650v395M3079 567v408M2590 527v381M2569 571v385M3301 584v377M2823 478v404M3502 653v467M3279 723v380M3490 689v388M2981 604v411M3879 475v353M2656 473v436M3021 525v372M4079 738v404M3127 647v407M3389 461v632M2503 489v387M2988 511v416M3032 246v355M3729 366v337M4016 575v355M3635 517v412M3085 757v404M2845 485v378M3672 521v387M3098 681v414M3392 543v405M3628 465v352M3961 503v386M3066 647v401M4181 782v362M4166 384v380M3073 621v436M2771 767v400M3805 769v349M3844 684v433M3841 400v400M2748 425v398M2782 518v394M2486 663v395M2453 546v394M3035 557v422M4027 591v409M2669 513v405M3990 307v355M3427 566v386M4203 312v395M3872 747v430M3936 556v412M3423 383v400M3619 719v381M3529 727v400M3686 591v416M3043 578v446M4163 552v399M2685 700v394M2611 504v388M3922 573v418M2873 534v424M2663 634v418M3021 605v490M2425 576v393M3875 467v370M3431 476v379M4146 501v370M2887 601v385M2673 399v377M4136 633v372M2847 541v394M2464 555v592M3262 679v369M2521 564v356M2710 579v410M3627 543v403M3273 539v418M2453 899v407M2621 579v398M3695 672v366M2709 801v387M4123 593v379M4219 702v381M2683 601v398M2518 386v397M3411 598v387M3193 622v368M3010 532v383M2667 541v410M2566 410v410M4146 713v413M4093 559v417M3986 377v378M3232 808v389M3134 613v376M3660 832v371M3084 842v387M2916 589v411M3857 424v396M3615 481v424M3818 626v418M3458 558v378M2955 553v358M3453 666v445M4193 563v382M3586 323v427M4167 496v414M4057 253v651M2629 484v392M3474 682v596M2969 743v376M3883 513v421M3672 706v356M3903 299v397M2710 400v364M4078 535v401M3564 623v407M4063 642v413M4219 516v387M4048 637v412M2892 570v411M2958 609v395M3825 432v406M3784 498v352M2432 568v386M2714 544v389M3596 555v421M2803 636v392M3313 540v390M2597 640v373M4128 665v385M3070 566v397M2911 466v395M3629 682v384M4195 834v388M2768 510v405M3517 724v421M2916 456v414M4199 630v408M2602 510v405M2496 453v383M3862 566v439M3477 678v440M4173 579v397M3135 617v418M2794 540v400M2739 570v385M3358 603v415M3151 684v355M2920 516v384M4159 548v380M4106 236v403M3380 697v393M3562 400v404M3823 668v511M2710 389v340M3821 443v387M2628 443v378M3304 776v414M3437 587v384M2783 511v400M3597 748v398M3701 761v386M3296 546v394M3089 377v550M2990 547v426M4179 766v426M3669 464v421M4212 613v382M3403 688v425M2548 598v425M2942 392v405M3201 627v387M2652 473v467M3832 487v388M2972 588v404M3850 506v380M3426 562v421M3078 492v389M4037 124v380M3007 579v413M4107 491v381M2545 340v375M3347 871v424M3257 698v432M2564 376v372M4057 530v437M4196 564v377M2464 320v355M3364 828v412M3604 477v559M2669 538v422M2833 634v381M2610 630v433M3843 348v411M3879 652v372M2454 440v435M2770 507v370M2534 618v393M3012 447v408M3964 309v378M2603 509v395M3227 679v397M3258 686v379M3959 488v356M3108 690v445M2740 564v435M3378 389v407M2789 748v403M3306 488v434M3808 533v441M2801 444v381M3249 869v411M2751 539v417M3384 549v413M2514 472v438M4046 551v410M2686 441v364M2541 522v378M2462 601v394M2887 724v405M3028 742v361M2819 618v388M3864 456v371M2847 692v359M3439 534v403M3226 601v377M2458 564v401M3200 617v397M2655 447v752M4083 578v388M2622 159v388M4073 562v410M2414 677v380M2898 651v392M2842 678v350M2581 621v373M2956 497v406M2664 578v476M2565 561v389M2801 797v385M3545 743v408M2528 517v379M4144 341v351M3565 858v396M2764 488v383M3273 812v384M3489 711v389M3899 712v377M3946 591v389M3295 661v377M2559 639v419M2452 405v396M2499 612v422M4187 752v401M3556 519v414M3465 574v383M4004 613v430M3438 415v432M2838 538v393M2764 570v398M3988 579v443M3773 412v394M3805 303v638M4140 417v412M3159 582v357M3802 695v389M3416 560v403M3804 765v613M2911 403v428M4095 752v407M3272 477v364M2492 634v364M3373 190v384M3942 526v403M3667 623v412M3820 513v422M3511 474v412M3444 683v452M2538 496v386M2861 735v412M2640 755v407M3102 80v364M3394 635v418M2716 718v405M3095 746v412M3798 426v348M2604 563v393M3829 490v380M2429 571v338M2772 549v395M3565 780v414M2571 716v397M3166 410v565M4113 567v376M4176 548v410M3454 465v396M3827 586v392M3718 314v541M3203 334v401M2852 528v362M4194 678v338M3695 797v421M2599 534v436M2642 587v379M2728 629v412M3627 713v371M2774 624v376M4073 756v397M2797 773v396M3374 284v588M3320 803v391M3853 486v409M3128 759v687M3709 906v458M3440 791v391M2849 446v420M3971 586v394M4181 424v345M3513 660v403M2531 350v397M3016 725v443M3151 841v371M3500 886v395M3168 630v347M2692 524v360M2938 519v409M3352 472v410M3696 418v395M3189 410v609M2549 484v413M4103 684v424M3664 591v383M2788 620v358M3215 1007v375M3465 654v399M3739 644v389M4096 690v371M3576 578v383M3356 660v390M2528 635v442M3456 630v433M2666 444v418M3532 582v389M2485 568v405M3780 612v389M3563 539v404M3096 624v417M3508 376v425M2479 46v388M3850 341v619M3007 659v373M3068 637v388M3638 540v439M3188 408v394M2986 531v379M2810 494v381M3757 717v400M3883 411v396M2917 924v389M2524 643v399M3084 730v381M4191 518v375M2550 383v382M2573 557v369M2798 669v404M3758 443v393M3793 604v394M4143 360v422M3872 254v442M4144 529v378M4122 627v411M3202 654v362M2425 472v392M2923 499v401M2848 675v368M2712 416v398M2890 491v412M3628 717v403M3820 308v397M3666 806v429M3891 580v413M3984 355v494M3200 1004v392M4175 647v559M3187 402v399M3691 310v404M3512 820v398M2796 603v419M3789 592v405M4051 378v381M2564 588v382M3831 488v393M3086 798v396M3836 340v401M3300 590v353M2979 664v400M4010 553v410M2663 429v360M3500 533v348M2987 407v559M2639 447v414M2571 546v377M2666 608v395M3483 614v388M3037 851v397M2658 451v409M3079 598v392M3617 373v664M3710 687v392M3835 370v344M3033 742v406M2523 262v394M3423 874v375M3857 613v386M3814 692v335M3121 596v407M3943 475v427M2807 653v438M2469 764v387M4043 667v366M2996 521v353M2852 563v373M2470 513v429M2847 685v386M3404 642v407M4084 353v387M3048 705v403M3569 766v429M3048 615v698M2453 714v385M4182 582v417M2936 835v406M2550 363v407M3018 616v379M2907 628v426M2812 667v381M3610 610v384M4132 187v353M3043 741v356M4053 538v370M2705 624v364M4052 226v404M3830 618v419M3845 454v431M3571 463v400M2790 673v368M3483 820v375M3572 748v434M4195 692v394M3747 466v424M3063 990v440M3472 650v414M3933 415v427M2902 620v389M3200 647v410M2615 679v485M3304 535v431M3491 939v375M3233 636v427M2760 570v353M3138 653v379M2575 509v369M3666 601v401M4162 611v407M2915 518v327M4157 545v395M2798 586v586M3255 685v397M3530 705v376M4150 521v366M3967 564v388M3868 609v404M3453 323v374M3586 624v422M4192 708v400M3851 475v391M3397 737v376M3371 584v427M3954 459v597M3500 462v412M2838 516v411M3581 667v447M3960 390v401M4202 439v374M4053 538v375M2859 758v428M2965 346v401M2839 609v371M2855 674v400M3872 772v403M2869 90v411M4181 640v393M3018 595v411M2888 810v381M2628 320v434M2647 446v427M3220 577v389M4097 493v392M2486 669v397M3764 896v444M3307 689v413M2917 435v377M3539 639v404M4031 529v409M2461 673v591M2455 485v438M3849 599v399M2541 663v409M3533 527v386M3644 561v405M3616 367v402M3849 618v421M3620 262v420M3859 690v420M3923 590v392M3917 691v379M2794 298v359M3338 751v394M3002 643v382M3329 753v400M3526 836v409M3362 279v399M2624 332v427M2571 550v385M3154 433v439M3234 599v412M3348 676v381M3055 821v395M3290 698v405M3886 523v429M2471 351v402M3728 450v408M3270 771v391M3785 482v383M3421 856v376M3238 704v404M2553 430v477M3323 496v419M2763 553v400M4144 433v389M3034 639v380M3253 828v400M2583 692v408M2487 448v356M3072 742v421M3522 510v409M3745 441v387M4114 406v417M3699 857v420M3558 602v377M3188 669v415M2807 515v383M3637 798v406M4157 558v417M2819 216v674M3817 635v386M2921 869v451M3295 559v410M3742 381v421M3248 584v418M3633 636v360M3315 610v387M2845 524v406M3070 449v586M4185 778v398M3057 653v369M3149 668v367M3203 500v400M3695 707v432M3415 540v405M3285 669v361M3814 516v382M2743 604v440M2769 408v390M4110 584v372M3236 633v437M3502 456v385M3471 561v420M4120 203v412M3282 601v366M3113 397v588M3534 575v381M3495 438v401M3372 549v401M3524 525v415M2897 408v382M3394 826v407M3296 661v407M3124 671v516M3946 559v431M3744 642v418M4055 780v411M4043 262v438M4118 573v369M2848 335v459M3458 629v381M2805 522v396M2482 567v405M3294 712v386M3785 324v374M2930 409v401M4128 577v429M3934 685v431M2556 420v387M3469 743v437M2996 597v386M3931 696v408M2409 346v658M3421 760v447M4067 491v383M2541 520v420M2822 515v409M2456 539v423M4168 674v398M3188 593v456M3016 586v378M3169 905v409M4092 560v398M3363 766v385M2697 495v393M2426 560v397M3917 586v382M3306 558v418M2936 650v391M3813 472v404M2798 545v386M3114 739v404M2707 489v440M3061 726v428M3521 416v618M3211 298v411M3798 392v412M4103 729v367M2811 729v393M2899 693v408M3499 723v378M2815 444v353M3446 794v397M3269 411v398M2983 542v400M3806 575v348M3581 587v388M3406 743v445M2568 584v378M3588 814v418M3530 727v372M2815 689v418M2909 604v350M4219 886v411M2508 467v453M3906 420v386M2865 467v416M3554 576v412M2985 487v431M4037 464v396M3169 1055v373M3835 488v391M3941 457v424M2900 390v386M2986 587v403M4196 277v399M3356 700v335M4178 433v384M3098 607v576M2866 46v493M3328 752v394M3598 678v378M3078 627v402M3339 466v419M3055 399v384M3556 442v407M2630 660v354M3562 748v391M3342 549v409M3950 521v400M3978 511v405M2741 562v385M3802 641v381M3236 762v385M3845 456v396M3849 711v421M3690 458v417M3334 590v361M4132 570v442M2831 167v417" stroke="#c0c0c0" stroke-opacity=".75" stroke-width="6" fill="none"/>
<path transform="scale(.5)" d="M3780 431v429M2724 446v407M3011 468v632M2725 691v405M2623 374v404M3174 627v392M3210 615v405M3779 418v402M3001 594v427M2530 858v403M3264 396v414M2963 738v346M4163 373v420M3582 368v403M3798 514v424M3094 966v404M3043 81v373M3320 642v398M2623 370v393M2527 670v378M2933 601v473M4106 446v384M2424 530v351M3398 493v418M4048 575v432M2590 568v409M3866 587v380M4071 371v440M2538 473v418M3366 735v429M2658 552v392M3681 846v370M2751 258v391M3583 805v379M2696 524v447M3506 394v628M3706 654v664M2588 632v394M3440 617v359M2912 416v411M2730 494v397M3929 746v427M3636 136v537M2973 664v390M3872 277v414M3574 636v353M2687 464v413M2641 355v400M2537 188v419M2872 376v423M4218 349v379M2409 351v411M2583 524v411M2704 621v400M2580 295v405M2774 617v375M4039 575v408M3060 648v590M3135 429v390M4215 745v411M2715 351v434M3690 520v382M2733 603v408M3679 552v336M4066 838v387M4049 540v386M4207 460v371M2817 492v406M2866 554v374M3689 728v379M2558 520v400M3436 793v408M2750 424v405M2847 444v395M3220 667v368M3864 789v393M2912 639v424M2590 435v374M3518 453v643M2805 414v421M2715 463v561M2748 660v426M3235 551v411M3477 539v382M2510 768v427M2459 710v404M3494 650v351M2571 599v389M3759 608v400M2574 558v406M3788 503v525M3100 550v391M3745 443v383M3485 668v373M3427 883v362M2733 663v390M2838 378v359M3548 682v374M3848 675v375M2410 563v412M3670 873v365M3529 734v401M3633 619v373M3311 729v402M3835 402v402M3039 596v625M3408 697v402M3653 439v423M3830 540v392M2679 554v399M2527 797v405M2520 500v373M2475 612v425M3294 881v398M3050 637v421M3648 844v354M2930 609v371M3554 594v398M4113 372v366M3218 582v372M2833 520v405M2817 280v472M3421 589v414M3561 734v411M3813 621v384M2941 472v414M3090 693v383M3928 768v391M3621 683v409M3567 427v406M3080 740v406M3332 836v336M3364 902v379M2862 309v382M3387 819v396M3452 695v482M3919 642v460M2960 397v404M2936 750v384M2745 540v399M2854 313v425M2776 718v391M2867 410v401M2815 363v431M3178 827v393M3776 646v417M4174 231v388M3621 705v381M3221 532v383M3219 690v390M3584 684v424M2518 680v388M3809 476v389M4196 455v368M2920 560v376M2464 571v482M3988 656v506M2833 442v416M3516 673v339M2443 802v382M4089 409v394M4167 656v349M2928 694v419M3350 742v374M2895 619v384M3287 461v393M3873 713v364M3721 309v454M3863 531v390M3109 451v400M2540 601v384M3876 482v379M3900 736v387M2973 474v380M2717 641v378M3128 574v382M2568 250v354M2910 442v410M3744 628v383M3537 646v416M3461 813v443M2857 329v345M3075 889v410M3323 805v433M2757 445v358M3467 368v405M2938 424v388M3117 980v394M3806 529v413M4006 931v417M2703 502v394M3036 483v371M2770 495v380M3414 773v376M4137 442v407M2771 452v495M2971 605v414M3181 461v428M4022 833v351M3527 755v401M2476 476v433M3953 535v393M3707 171v557M3054 774v396M2943 534v442M3292 805v404M3759 652v394M4064 757v394M3216 733v358M3923 561v388M2727 407v381M4172 530v356M3921 427v413M3713 763v353M4051 460v454M3256 720v490M2962 463v474M2726 862v406M2941 699v409M2946 626v405M3784 625v376M2537 792v391M3425 962v484M2687 637v412M3533 707v387M3204 662v580M3114 291v381M2926 515v418M2446 489v460M3085 477v396M3672 621v401M2898 625v412M4063 519v404M3461 392v404M3854 661v410M3358 507v385M3505 642v406M3719 510v590M4183 482v401M3756 597v372M2797 659v447M2439 668v385M2484 671v344M2933 587v382M3970 197v377M2445 686v389M3549 605v391M3395 545v411M4169 394v393M2705 580v374M2814 304v639M3019 595v412M2637 516v378M4209 739v398M2936 728v411M2861 847v390M3614 865v404M2460 692v381M3541 697v428M2466 546v384M3298 646v416M3285 680v365M2786 233v443M3439 744v377M3212 480v389M2665 449v380M2985 577v384M3581 493v391M3530 560v427M3663 826v399M4143 603v424M3582 675v363M3019 559v360M3677 654v470M3626 773v445M3689 715v354M3254 616v435M4192 483v413M2912 582v377M2598 676v420M3907 526v413M2681 535v401M3581 615v419M4105 586v427M3932 372v350M4167 633v418M4006 494v407M3695 612v400M3123 601v437M4047 863v427M2497 180v664M2415 454v369M3548 817v427M3013 663v362M2758 708v410M4148 519v407M3706 491v401M3410 745v418M2857 860v391M4179 727v570M3620 522v405M3231 725v391M2641 508v431M3614 563v384M3199 626v401M2559 561v374M3387 643v589M2978 352v378M4074 353v604M3794 526v370M2434 238v419M2611 579v441M3989 292v408M3854 683v358M2519 554v413M3932 520v422M2953 549v382M3573 537v429M3612 624v402M3430 438v379M4183 413v382M2829 731v397M3762 564v375M3161 772v389M3051 635v592M2513 777v407M2723 446v438M2893 520v419M2877 352v407M3916 778v398M3819 567v377M3942 611v361M3834 527v396M2781 451v385M2918 427v412M3764 728v367M2613 432v387M3153 671v413M2742 540v379M4148 408v367M2422 574v390M2451 663v397M2524 616v388M3379 593v458M3969 608v427M2810 157v404M3884 525v416M4085 755v396M2952 336v408M3885 653v366M4110 382v403M3603 750v374M2754 103v453M3418 649v375M2857 473v415M3991 179v405M3033 674v410M2416 854v406M3178 591v512M3119 651v409M2802 740v402M4119 676v404M2928 718v634M3224 665v406M3347 635v394M2574 684v408M3966 363v404M3338 518v427M3193 668v423M2964 735v383M3045 545v407M2891 309v381M3480 932v421M4061 493v446M3908 415v412M2881 580v409M2968 611v637M4113 317v390M3923 391v397M2931 684v389M3894 496v376M4176 648v393M4177 564v419M3307 802v431M3115 473v398M3298 378v451M3854 461v403M3700 736v377M2418 556v393M3735 503v396M3462 916v402M3851 362v378M3507 638v406M3328 550v354M3291 636v373M4053 731v416M3466 924v381M3421 726v441M2447 713v440M3725 288v411M2978 624v425M3160 700v494M3668 784v407M3512 638v401M2706 505v387M3861 505v420M3057 688v408M3090 944v402M4112 299v432M3366 512v406M3235 638v425M3087 344v401M3150 802v363M3274 852v395M4017 549v408M3186 440v404M2670 556v408M3459 446v362M4002 553v362M2592 448v409M3358 582v390M2525 369v414M3797 504v421M3784 643v383M4015 547v370M3827 518v384M4188 456v425M2692 672v402M3042 621v409M3016 462v375M3866 525v417M3601 765v418M3337 531v375M3302 551v408M3533 452v441M3915 548v366M3899 684v401M3574 627v394M3266 662v381M3947 750v393M3761 646v445M3922 598v403M2706 549v555M3461 322v697M4079 91v446M4163 471v563M3879 269v411M4055 536v373M3165 735v373M2433 349v406M3332 714v396M4125 351v392M2598 476v397M2591 355v414M2708 559v379M3924 849v422M3903 730v403M4150 419v398M3590 548v373M3983 462v420M3572 527v393M3583 495v400M3935 762v390M3436 508v340M3386 685v361M3538 681v411M2684 454v434M3760 452v399M2631 366v413M2734 561v419M3499 613v390M2665 468v393M3630 655v395M4115 569v396M2767 536v400M3242 838v410M4091 476v406M4034 657v400M3575 452v438M2555 480v382M3134 601v406M3392 735v366M2529 453v378M4102 732v425M3953 526v433M2921 593v374M4014 607v423M3380 648v406M4130 619v420M3467 684v418M3717 806v365M2599 456v379M2690 322v333M3414 604v395M2739 569v397M4021 662v402M3090 653v370M3584 540v553M3549 717v352M3328 673v402M4133 624v544M2919 524v394M4209 511v413M3635 504v383M3497 781v416M2817 705v339M4161 479v416M2885 516v406M3147 656v443M3241 586v362M3006 722v375M2782 615v419M2769 256v399M4131 583v377M2899 393v404M4051 514v406M3764 397v404M2903 560v388M3664 621v386M2945 655v395M2843 207v374M3003 432v397M4112 456v422M2740 465v411M2461 404v366M3051 961v403M2688 724v389M2792 501v392M3513 836v400M3301 670v427M3581 637v359M2641 578v397M3810 585v400M2658 426v383M2905 574v403M2754 528v389M3311 610v400M3898 495v393M2989 746v379M2694 730v420M3697 837v409M3409 355v373M2612 496v398M2932 601v381M2953 716v359M2686 409v415M4191 630v406M4015 301v406M4054 447v425M3915 746v400M4168 448v388M2945 456v402M3718 653v405M3547 600v395M3783 652v379M4069 476v420M3169 473v387M2484 515v404M3442 666v379M2562 418v391M2788 203v477M3122 911v427M3624 914v395M2511 452v395M3781 744v427M3488 644v397M2789 728v411M2807 620v393M2640 531v402M2905 438v400M2496 556v426M3537 501v374M3863 335v425M3591 807v411M4018 629v400M3661 732v396M2524 505v390M3844 497v408M3370 552v388M3289 605v426M3081 555v394M3114 619v392M3177 686v381M3198 835v375M3915 383v371M4156 425v386M2597 854v376M3076 606v453M3691 533v385M2749 808v344M3762 448v407M3895 434v429M3811 506v392M2423 518v465M3149 736v405M3738 618v434M3340 585v376M3373 673v410M3889 645v384M3789 481v592M2501 384v423M4219 545v367M3116 593v377M2815 674v637M3377 541v388M3415 388v386M2749 665v460M4192 542v408M4000 256v436M4202 274v601M4129 493v419M3776 586v407M2878 509v356M2908 569v417M2651 608v415M3828 784v380M2851 395v465M3212 697v400M2512 615v425M3117 557v375M3221 613v409M3989 302v373M2822 832v380M2560 543v392M2674 730v410M4141 489v419M3989 575v367M3610 873v333M3351 745v384M2641 384v408M2752 630v408M2512 259v385M4123 438v504M3534 774v408M3282 748v386M3746 512v383M4109 325v432M2898 650v388M2475 489v401M3445 655v492M3871 503v335M3128 659v373M4123 445v424M4098 211v423M4188 666v375M2461 429v387M2779 519v374M2442 597v402M3324 707v359M2830 738v394M2931 689v416M2613 630v377M3070 555v396M3848 632v387M3781 677v366M2750 513v407M3637 684v408M3367 599v404M2790 513v409M3494 650v428M4122 438v429M3055 607v383M3700 600v346M3281 694v399M4180 581v420M3315 619v387M2996 765v388M3746 620v369M2663 599v405M3342 434v381M4043 707v387M3977 568v358M3539 650v414M2514 696v401M3885 631v392M2466 656v364M2914 721v408M2992 810v378M3882 676v415M3595 681v399M3920 439v419M4025 532v380M3081 718v389M3924 721v363M3582 459v568M2519 635v409M3771 273v373M2422 570v384M3771 550v379M3737 479v415M3571 522v403M3255 1033v370M2463 444v367M3884 503v406M4022 578v374M2681 602v565M2819 299v398M3501 632v426M3229 392v402M3638 626v396M2740 574v409M4144 547v374M3697 747v393M2590 472v373M3561 754v386M3169 572v407M4124 776v370M4001 46v352M3585 601v417M3558 623v409M3215 705v351M3536 419v384M2741 622v374M3808 546v406M3846 679v384M2991 628v416M4189 690v389M3731 508v468M2914 442v381M2826 789v376M3370 564v436M3414 613v391M3470 538v388M4032 963v390M3845 551v428M2600 590v435M2662 681v392M4080 509v619M4022 605v379M4158 701v403M3307 396v417M2421 635v389M2466 377v566M3816 527v339M2629 770v366M2859 402v384M3007 511v401M3288 637v360M3725 641v387M2529 705v415M2949 613v418M3382 811v429M3038 340v494M2773 315v383M3983 472v369M3852 507v413M3050 664v425M2443 582v332M4036 580v551M4070 535v376M4089 545v553M2554 636v440M3666 531v403M4103 671v362M2535 371v376M3019 428v362M2755 736v386M3584 545v394M3956 402v397M3972 688v420M4089 377v365M3694 554v400M2870 602v390M2821 529v412M3054 601v424M3466 663v379M2804 775v354M3878 336v413M3471 684v394M2714 578v392M3968 652v412M3658 520v368M2680 361v397M4134 598v414M3622 689v543M3980 669v567M2881 713v456M2646 758v382M2500 707v370M3278 668v426M2516 410v371M2433 727v414M2709 590v375M3297 442v388M3724 194v399M3419 765v378M2698 529v428M3622 752v399M3528 489v449M3273 587v413M3302 368v412M4020 381v397M4191 330v412M3516 570v386M3969 624v367M3904 137v391M3133 683v369M3908 652v387M3766 532v420M2858 760v427M2708 724v383M3525 870v396M3870 559v427M3800 356v369M2850 616v377M2696 557v380M2579 773v399M4051 746v398M4129 550v401M3339 862v405M3980 487v378M2750 576v388M2453 356v418M4111 596v356M2982 657v388M3226 618v405M3500 662v397M3537 495v403M4180 476v391M4086 654v390M3704 478v430M3998 530v359M3179 687v403M2710 598v389M2694 385v399M2635 392v368M3468 766v404M2718 515v413M2993 504v395M3515 708v438M2944 754v398M3210 519v490M4113 659v371M2430 308v391M3064 523v656M2812 631v412M3817 453v625M3069 666v358M2723 705v420M3059 413v404M2762 383v399M3637 655v381M2472 501v380M3318 874v389M3236 890v438M4122 431v391M3227 581v419M2589 601v401M2919 542v388M4142 628v366M3698 595v419M3958 601v386M2909 446v374M3780 362v335M3334 661v372M3013 664v351M2499 399v383M3888 609v392M2484 533v393M3280 703v385M3758 591v344M3087 530v441M2956 528v393M2905 430v402M3000 801v394M2799 555v422M4047 532v364M3212 699v394M2690 449v355M3390 501v338M2885 368v398M4062 727v407M2571 387v631M2682 709v389M3825 295v404M2839 556v428M2506 429v382M2816 432v372M4122 510v400M3501 599v420M2672 527v382M3578 734v411M3220 764v579M2955 489v408M3026 350v610M3222 647v394M4009 575v406M3333 601v406M2447 839v405M2659 520v406M2707 636v379M3218 789v391M2712 487v404M2860 573v500M2543 714v387M3299 448v609M2964 146v451M3230 826v363M2584 430v396M3716 434v426M4069 705v348M2514 628v448M2944 535v577M4098 660v440M4019 418v386M3538 361v395M2852 588v406M2956 606v419M3862 550v373M2933 669v375M3175 599v406M3624 572v406M3496 445v416M2501 799v392M4108 616v373M2500 647v456M2649 563v384M3232 461v364M2722 518v425M3079 807v527M2726 459v354M3805 505v374M3770 460v489M3874 428v707M2499 533v391M2901 526v559M3695 708v376M2963 515v415M2738 615v433M2558 602v378M3055 755v456M2449 467v378M3690 624v367M3558 597v392M3946 401v402M2536 468v373M2934 676v392M3458 886v399M3696 687v407M4214 540v382M4174 433v376M2489 740v411M3472 465v467M3781 325v435M3788 735v410M3227 513v693M2668 362v630M2639 634v410M2444 438v417M2910 511v379M3490 549v428M2970 341v415M3177 607v405M3826 620v392M3103 659v368M2616 686v432M2851 649v405M4162 576v368M3876 421v408M3937 406v391M2673 698v392M3195 828v384M2640 792v378M3985 635v371M3757 447v675M3660 432v593M3680 606v398M2758 481v419M3919 662v438M2836 585v425M3747 317v432M3574 750v365M3263 622v425M3644 382v378M3610 623v383M3288 573v371M3719 471v403M3637 725v406M2896 429v381M3041 645v371M3657 591v378M3311 989v431M4065 751v421M2725 425v386M3930 554v361M4209 705v407M3565 693v502M3798 506v397M2419 762v404M3989 941v372M3661 461v361M2905 519v384M2791 575v390M3646 575v430M2661 382v435M2969 536v432M2524 498v404M3483 489v663M2615 162v409M2912 583v460M3256 515v396M3405 681v638M2941 674v382M3856 151v638M2509 625v407M4163 491v413M3626 710v394M3906 443v679M3341 639v638M3510 767v370M3126 737v515M4211 568v394M3416 637v370M3963 656v393M3726 319v397M3935 288v401M3052 709v392M3441 430v381M2526 479v382M2558 486v402M3576 594v533M2961 773v418M3013 494v356M2498 701v398M2589 543v454M2775 398v409M2549 631v366M4078 742v382M3389 697v431M3974 708v407M3425 497v379M3784 605v364M4116 538v370M4217 446v406M3577 374v408M3350 427v416M3770 618v392M2559 534v394M3282 720v407M3476 553v390M2947 438v389M3819 452v365M2797 443v368M2844 584v365M3517 586v415M2951 788v406M2816 456v551M3995 556v415M3884 550v367M3368 651v417M2851 473v571M3336 893v338M3949 818v360M2416 683v425M2662 604v443M2936 696v398M2703 694v373M3620 507v420M2577 410v381M3670 831v408M3073 428v370M3261 718v416M3332 668v400M3143 747v412M3852 549v402M2796 646v391M3453 66v401M4106 617v376M4190 426v416M2986 714v487M3351 584v388M4015 370v385M4139 608v457M2657 563v417M3537 539v358M3984 430v424M2495 470v395M3124 349v400M3571 586v404M3237 684v398M3318 628v346M2669 569v406M3280 785v434M3849 599v403M3597 649v430M3826 263v409M2693 628v422M4153 390v403M3296 409v430M3230 457v360M2990 470v413M2823 644v383M3385 981v417M3121 677v401M4135 515v376M3079 453v386M2898 515v388M2709 715v440M2544 283v411M3610 362v433" stroke="#c0c0c0" stroke-opacity=".75" stroke-width="6" fill="none"/>
<path transform="scale(.5)" fill="none" stroke="none" marker-start="url(#mo)" marker-mid="url(#mo)" marker-end="url(#mo)" d="M3227 1066l638 53-85-473-1150 116 1148-22-1054-91 291 121-113-358 109 372 102 126 1005-339-1393 322-157-49 475-84-420-184 390 293 1026 59-865-105 61 247 251-564-276 312 10 49 668-63-109-185-438 3-566-65 226 250 1108-152-1351 336-228 69 418-72-313-452 629 67-823-22 1625 212-1103 118-134-148 752 217 582-397-988 327-392 6 799-347 312 182-1114-6 1018-19-847 304 208-487-65 625 700-222-194-199-557-479 774 581-915 107 418-115 35-19-183 206-549-461 730 33-355 161-471 98 1209 65-504-59-299-28 692-14 231 47 250-232-697 293 140-263-1125 37 339-75 967-17-332 89 234 5-113-104 529 188-282-99-343 234-833-154-109-168 139 41 1246 132-251 10-650 106 1106-302-1531 80 80 60-82-49 108 131-125-59 845 196 553-174-896 76-365-104 723-160 593 167-293 276-526-540 205 435-609-472 187 442 1191-301-546 399-883-248 1230-127-1234 129 1149 7 236-39-575-8 389 49-1434 76 1245 153-545-20 416 4-989-141 1321-234-404 270-65-69-792-149 1115-43-851 17 665 164 288-36-1135-57 1326 37-1586 39 1459 192-626-238 246 26 87-344 440 341 8-199-1111 313 429-108-553-58 1023-209-225 352 190-18-263-6-326 209 123 103-684-454-214-109 478 21-310-27-182 231-37 184 115-573 1273 841-846-517-92-133-168-44 20-38 1494 32-130 234 103-222-1782 6 732 468-530-245-28-49 1383-102-106 43-1156 150 200 149 249 13-573-486 321 99 1114-50-1241 259-309 135 1133 239 441-400-621-420 185 546-543 38-639-94 1786-46-1072-179-532 212-89 253 1701-139-722-26-971-223 193-133-68 268 1116-424-73 299 446-47-441 86-962 57 1192-236-872 333 626-184-59 301-528-122 974 133-1336-348 1410-53-91 102-1634-13 385-76 1407 1-474 117-339 44-577-111 1113-105-56 303-1008-152-188 103 227-137 784 210 70-341 257 123-1458 21 1545 40-1662-160 995 397 168-498-122 73-732 55-74 186 418-670-247 498 322-12 337 51-286 171-179 106-95-136 918 164-925-41 1053-12-1080-81 702-254-266 38-758-13 274 110 642 104 12-61 273-21-1070-46 84-84 612-3-366 113-336 10-91 186 1102-416-978 359 785 9 305-75-603-50 125 75-415-146 532 44-653 15 360 80-674 157 1148-30-900-218-299 178 1594-250-178 14-381 149 259 52-1124 59-58-143 1412-155-441 61 217 109-946-69 1062 73-1301-51 190 51 105 14 919-60-111 416-323-414-254-23-405-45 50 32 1000-98-1252 221 1692 11-700-11-517-110 492 180-33 139-792-455 960 308-862-59 125-268 790-11-810-21-397 124 1445-71-338 258 371-166-1190-83 1119 243-202 82-1132-97-104-79 31-282 1420 371-191 197-115-229-899-1 873 110 102 5-714-75 716-60-1085-14 879 22-116 117 904 108-357-208-23-227-341 126-55 154-400 25 775-416 266 253-672 153-224-101-241 108 710-254-1134 283 1155-43 156-155-449 167 287 84-989-233 1363-122-205 173-1310 194 1054-52-1054-212-7-49 1405 330 151-482-1601 290 652-230 852 104-685 382-22-158 686-5-908-69 601-282-787 18 784 437-1089-112 168-119 203 4 68 62 213 160 343-223 233-32-128-20 454-186-713 431-602-310 420 92-694 57 1397-534-1088 431 806 114-547-164-275-156 367 275-96 80 333-75-31-40-428 57 599 127 254-288 130 153-132 8-498 21 759 59-1133-214 590 76 325-35-766 165 1095-331-889 293 632 116-1500-202 1616 283-423-157-733-37-146-181 825-39-623 176 874-29-738 166 656-368-745 203 341 226-753-428 1285 204-500 311 353-341-1017 20 162-270 1285 58-816 473 56-14 651-209-1106 140 520-12-18 33-459-39 944-58-1118 55 145-325 14-3 1213 117-835 91-402 135 885-171-1217 63 141-95 1092-88-403 219-580-345-262 416 912-260-728 232 318-198 249 191-476-296 711 153 390-191-1153 7 1094 175-1436-145 705 414 597-227-835 81 836-23-125-53-539-52 1062-324-885 418-438-80 770 133 328-112-1101 10 373-71-353-145 625 394-274-87 369-42-730-194 726 247-1014-15 409 72-461-79 143-357 771 392 377-239-560-33-579 109 1526-107-1246-39-229 179 199-31 799-471-963 721-292-186 221 144-91-192 1394 145-651-143 81-125-585 9 729 212 34 76-80-96-849-263 12 72-236 342 683-83 923-350 40 46-604 134 166 49 516 41-443-226 134 436-930-137-409 20 353-352 478 358 505-235-1045-73 85 190 1224-306-615 436-217-283-561-4-15 356 1162-115-268-217-72 217 188-359-502 188-679 22 1323-20-950 141-184-355 380 139 67-31 939-135-1575 308 1385 149-1081-78 1032-193-430 330-858-206 1312 135 268-134-1209 89 14-221-244 13 87 58-99 95 1500 172-986-168-103-69 300-41 769-38-1629-259 1021 430-722-464 43 254 771-133-1125 245 1188 61-990-94 1243-294-460 422-302-145 136 30 90 295-308-242-580-252 284-39 1323 261-1736-53 631 385 1058-337-1357-91 547 356-306-351 1112 168-1372-215 814 40 459-132-563 38-242 227-416 173 129-352 1094 93-906 175-9 291 746-321-1213 12 1156-133-889 247 150-177 939 335 61-173-613-119-751-149 944 238-816 27 205-295-595 59 152-74 177 31 1093 77-1449-29 1000 228 472-98-1035-138 1286-80-161 49-1441-213 236 218 424 89 859 47-1083-23 1076-32-1530-203 664 98-579 385 215-315 1205 264-470-130-486 16 461 60-715-180 404 12-740-94 721 150 870-245-114 133 30 15-1106-219 830-78-1146 423 21 30 472 70 291 12 52-181-454-48 1144-202-199 121-596 333-588-327 178 32 877 137 219-333-597 230 683 208-1512-104 350-291 314 353-698-43 1315-224 90 110-16 86-1249-106 69-138 792 173-626 118 1279-180-1028 294-377-205 1154-164-680 281 890-60-418 86-46-132 60 93 324-214-384 366-1069 48 658-136 26 6 293 63-613-334-384-39 1036 311-888 93 717-234 640-81-1142 153 1196-13-1228-77 37 16 291-12-750-150 1297 146 132 52-1125-101-254 224 1538-283-150 184-500 350 160-322-6 56-892-130 26-276 680 236 140 98 533-304-1441 81 579 274-641-55 97 37 454-453 453 379 275 4-916-140 1040 47-412 129-1108-181 324 234-98-232 413-46 868 259-908-198 627 86 440 27-1506-250 292 232-465 92 1362-57 268-145-677 105 752-295-677 63-688-49 1245 171-164 150-877-297 153 424 228-293 181 148 362-15-396 12 645-114-925 186 494-112 288-290 115 159 61 8 33 82-553 124 93-105-737-58-488 23 266 134 625-174-654 102-329 50 146-199 1595 100-1696 82 1650 29 61-137-1262 43 475 43-534 170 1096-606 33 293-1292 208-266-5 296-128 340 136 468-88 220 48-822 85 448-183-191 140-154-192 1119-108-1028 353-46-86-390-91 140 316 1342-481-1373 21 1028 207-553-55-270 26-14 73-257-291-111 122 419 97-121 78 1274 58-317-173-155 98-801 71-295-165 20 150 200 123 854-360-989-36 888 421 206-829-686 767-674-122 941-119-797 7 937 140-1074-393 1276 19-1277 201 1402 56 268 73-838-13 425-149-1041 159 603-1 341 106-501 41-339-556-317 193 413 303 557-18-18-174-572 154 363-238-257 124 968-6-1258-153 1449 207-409 260-720-337 215 124 99-137 282-67-1146-228 486 485 609-172 573 91-227-125-213 286-693-365 243 29 930 125-812-85-172 330 423-204-315 53-218-93-30-77 792-279-719 280 585 149-254-6 412-138-209 251-904-311 1418 18-451 189 54-24-1024-33 535-1 440 206-466-292 964-59-1764-30 766-43-282 154-468 82 1216-5-1062 39 1079-336-484 28 714 155-1437 267 1037-132-826-133 64 71 268 126 568-107-28-82-428 340 980-284-1365 26 889 78 303-356-1134 135 1300-204 69 364-1741-197 1031 100 549-47-1118 276 470-212 337 50-588 208 1021-424-1005 223-387-13 498-111 813 382-244-321-40 84-1266-328 70 118-138 194-14-185 137 80 1621 198-625 113 343-181 46-219-924 214 823-179-998 66-80 182-60 83 98-70 1352-203-338 76-980-36 876-72 25-222-484 324 163 161 791-512-368 506-976 107 603-512 317 225 402 244-1353-205 1241 95-447-177-422 136 874 94-841-35-647-207 412 54-355-44 122 2-179 26 1030 4 210 83-1391-110 766 98 673 198 65-296-1378 20 1077 36-650 4 401 149-662-150 1302-103-1049-143 400 327 59-81 637-132-1636 69 1431 228-75-241-519 84 475-53-1316-295 1573 268-626 120-770-35 1380 181-1491-333 1489-152-944 553 584-451 225 264-850 32 978 39-1463-173 8 104 1676-252-271 119 150 72-1359-239 230 176 497 96-270-20 393-64-953 43 1344-158-352 188-707-207-157 172 682-162-529 3 1299 73-17-100-727 185 345-90-972 230-256-115 287-79 902 16-44-74 148-106-705 396 541-83-118 162-533-115-526-284 1345-98-1357 431 326-248-373-88 257 21 541 231-372-473 1 306 1137 106-414-94-739-186 512 420-734-304 1261 306 84-391-522 302 341-133 250 51-817 102 690-116-57 156-132-167 81-56-191-141 342 239-1204-179 829 132 5-26-697-117 232-90-108 199 722 169-542-35-290-76-319-175 981 268 165-245-606 230 83-123-680-144 186 118-172-158 335 38 1243-17-289 6-45 234-1392-63 1744-247-1563 340-152-1 1280-211-76 65-1131 95 1299-679 147 694-591-3-469-91-444-83 1503 174-459-155 13 291-713-599 449 321-366 159 991-106-1379-8-26 175 1606 53-586-158 211 151-758-406-456 286 1052 4 337 6-282-134 296-31 211-88-15 73-1316 13 824 268 380-202-1458 48 229-454 623 420 726-72-685 160-178 64 894-166-1277-54 302 142 807-112 25-330-497 408 423-24-884 114 927-281-772 289-772 170 1382-278-280 140-340-72-248-175 1259-70-1070 253-317-60 935 224-935-78-82-206 447 28 952 115 95-430-888 268-398 319-188-163 737 75-253-79 78 97-90-328 135 195-138 222 50-282-685 116 905-222-190 1 677-102-1281 129-41 129 694-92 312 142 535-177-992 184 439 70-204-194-464 171 543-91-422-4-40-83 637 1-117 76-674-326-193 299-179-118 961 462-440-270 512 225 509-382-425 31-1187-76 1459-50-174 286-847-35-6-88-7 47 550 189-456-90 14-161-565 141 1696-398-992 439-545-89 1347-273 45 18-1167 70 130 202 705 132-713-399 971 72 238-17-203 250 247-73-1361-133 422 60 940 3-1467-176-228 152 825 268 741-271-1563-113 630 38 957 8 70 137-844-214 362 203 88 82 106-225-925 155 1034 77-263 30-1261-213 95 95-116-55 1525 2-330 155 122-208-1187 11 413-16 501 421-447-320 505 190 331-436-302 454-755-129 713-35-566-64 684 36-297-86-912-44 287 74 588 66-508 270 1415-276-145 122-1022-306-297 28 732 454 243-356-852 89 564 99 544-260-1007-35-511 281 746 239 835-854-303 176-1113 359 1054-212-688 196 411 23 227 220-456-133-326-164 679-14 155 219-1060-147 192-333 712 330-716-13 483-19-573-108 664 64 542-234-51 187-949-64-12 181 157 60 834-337 26 411-827 179 660-323-922-119 1284-188-1667 199-6 55 927-54 54 322 159-77-344-109-110-5-691-182 653-119-43 287-487 69 593 82 425-261-568-44 267 372 631-318-1090-389 1202 410-1524 137 102 97 591-345 526 153-180 52-862-87 811-68-402 79 380-144 657-145-1526 235 1412 17-363-1-1070 31 23-111-82-19 791 139 57 4-43 0-492-97-298-104 311 503 666-193 295-171-199 300-319-102 505-79-519-243 225 292 525-151-839 234-195-157 846-99-714 74 766-133 309 18-1093 118-439-96 36 182 40-291 289 129 21 115-466-137 1503 251-1063-291-12 122 123 79 739-117-492 13 15 31 212 197 356-132-1454-159 834 35 454 117-803-116 314 36 467-78-737-253 501 249-123-56 319-82 186 196 47 133 54-111-117 132 178-186-442 24-61 101 230-152-719 287 181-106 105 50-526-229 1102 272-633 69 358-300 89 154-880-73 217 92 824-89-1262-256 732 203-686 81-272 4 1194-190-167 29-413 142 913-116 118-382-1359 515 346 18 1097-95-824 85 842 126-302-488 312 157-25-58-111 149-155-89-827 205 92 82-160-98-234 144-338-415 432 445 940-54-473-31 394-53 118 41 281-353-597 222 313-169-1243 74-117 115 267-165-157-62-88 115 279 38-74 33 800 138-1022-25 1438 199 73-324-1544 7 1450 189-653-267-215 103 1115-150-628 189 505-11-437-62-630-245-291 227 1314-44-494 157 501-344-418 238 354-201-499 237 156-64 36 155 584-341-268 448-962-145 899 150-436-284 200 187 300-103-550 104 58 83-21-366 115 304 121 50-40-27-935-239-54-2 899 258 231-275-541 274 467-127-1055-227 427 146-15 83-309-30 1312-154 117 135-664 56 401 49-1215 40-20-233-85 112 31-78 1019 154-411-2 703-68 193-15 49 227-1291-248-106-10-322 158 218-51 579 200-106-100-115-93 1070-171-436-14-1230 107 1609 85-1315-249 1156 44-300 19-2 115-142-120-876 5-90 164 1681-149-1012 118 609-43-856 32 505 125-166 116-553-447-144 55 507 121 1100 56-34 125-14-229-1241 23 1106 5-553 116-936-8 457-71 426 6-85 77 752-45-1002-5-491-71 859 109-233 141-437-208 1420 45-1474 10 971-95-160 149 480-107-674-38 444 241-521-86-743 200 146-458 1008 193-986-60 69-290 1331 323-326 44-281-53-356 191-349 2 30-228-83-103 1467 119-102 80-1175-284 1373 313-1129-54 428 218-835-256 901 16-735-184-331-47 1031 308-929-84 791-17-83 82-299-328 164 260 940 90-918-249-205 77-91-3 916 4-1168 21 1542-29-927 244-716-346 1069 80 272-179 239 404-649 69 469-353 127 131-1276 107 199-90 970-218 175 121-353-115-576 430-347-283 239 87 10-5 13 77-316-224 829 364-419-251-66 180-91 89-78-126 59-9-149-106-134 30 504-136 571-67-1088-167-253 78 1099 160 516 79-1345 48 1032 15-919-240 329 34 230 118 593-30 126 133-1222-118 809-133-929-118 618 407-550-134 478 44 812-44-529 60 327-199-405-79-641 317-285-286 1507 136-1324-309 54 489 1160-304-1054 52 791 53-1165-4 1483-13-651 196 13 117-734-309 92-184 137 444-508-344 1423 77-1 59-832 440-472-665 1093 386-984 34 1389-162-174-258-1111 199-152 142 70-257 803 454-1084-110 1649-191-777 149 890-402-627 344 17-10 441 73 41-40-1422-72-200 89 1778-156-409 75-111-203 349 261-1390-225 1525 218-1291-61 13 0 547 18-494 14-204-85 362 47 709-134-514 175-580 48 1053-184 114 17-883-78-583 148 557 174 971-252-1246 56-20 201 39-352 863 177 101 277-788-231-106 21 606-291-352 223 256-29-701-40 1601 227-1616-96 335-35-227 149 1423-82-1175 37 520 54-403-185-384-148 1090 325-865-278 1280 170-1358-133 796 174 386-370-19 262 199 262-141-368-1180 182-106-129 1147 233-312-266-86 254 651-292-341-115-911 136 29-6 873 127 381 50-481 22-181 288-935-431 945 85-3 149-1048-303 1287 198-691-179 770 122 207-99-888 192 296 20-308-231 613 137 391-26-1689-61 1611 67-960 42 307 30-277 8-371-124-232-126 1241 227-1064-78 49-322 202 398 368-28-236 314 659-447-630 184 473 249 287-732-991 329-409-59 194-77 1454 166-378 220-740-189 1065-332-618 406 78 15-186 35-591 40 310-100 463-231-755 215 1229-425-213 532-1183-192 722 52-652-225 195 79 790 288 126-290-1325 133 1675 319-1543-456 909 56 72 87-305 208 559-435 26 312-452-81 154 233-706-516-102 215 1235 118-996-257 575 375 64-17-568-248 608 272-1177-254 684 104 88-61 548-42-291-108-464 59 281 94-666 30 286-16 299 58 671 27 219 134-1098-227 275 230 313-307-555 140-302 3 1400-14-1035 72 557-57-331 82-205 122-261-83-389-130 1367-241-28 137-945-111 1214 23-290 102-665 100-604 222 1159-308-1104-27 424 126-120 75 876-227-141 44-322 73-397-8-223 190 1384-223-283-61-88-44-1250 296 914-176 469-124-94 153-723-114 733 15-1254 142 1480-530-1614 436 1028 303-444-268 142 153 870 21 88-277-369 153-378-56-815-251 795 245-663-217 670 527 26-205-139-6 23 42 632-77-951 94-374-369 1225 215-245-2 513-26-1556-154 940 213 755-55 23-24-1280 83-475-315 652 285 888 50-640 202-549-41 1289-225-500-11-227-22-933-143 225 157 746-168-114 238-468 5-84 71-64-86-75 37 1582-100-1277-204 928 12 157-80-32 520-89-156 323-263-568 308-1180-225 1675 45-583 126-776-137 1006 98-824-35-418 60 344-128-276-232 410 196-104 127-82-134 1138-146-1313 318 1482 239-1530-348 1225 267-694-237 93 141-376-250 807 45-400 203-46 21 700-205 47-26-1447 161 836 103-240-18 9-167 764-97-1141 133 481 36 468-152-311-72 611-105-1068 367-132 94 33 73 698 138-214-455-746 34 1013 11 235 3-1134 182 1028-88-901-212 1340 64-909-21 17 397 740-317-1500-142 262 132 859 291-631-24 405-259-33 181-576-359-261 113 127-103 1531 196-126-28-1294 78 698-91-764-120-174-171 78 253-49 6 1582-21-1677-223 16 331 1072 180 279-105-926 54 395 14-747-154 493 136 718-219-653 79-274 29 1290-271-1214 303 969-203-966 203 478 42-529-14-372-183 234 49 730-3 6 166 85 101-304-212 645-119-376 370-1037-277 670 82-560-22 632-9 923-158-750 239-718-73 1443-401-618 430 603-80 105 81-1031-1-535-499-161 269 268 231 1344-86-1294-61-356 122-9 39 28-69 147 64 309-15 426 40-620 470 138-504-12 82 49-203-298 75 350 90 149 35-124-232-343 118 1448-158-1397 156 406-63 317-18-822 21 1283 69 101-50-1148 215 980-130-895 47 659 40-795-231 1292-74-1514 64 1109 182-1160-541 1667 170-777 284 285-6-87 261-775-339 355 226-381-263 730 184 151-205-372 345 849-351-1676 82 1043 171-434-108 208 275 636-173-199-127-42-36 288 48-665 109-457-126 471 81 885-58-995 113-626-55 756-36 464 43-1327-253 544 356 194-102-691-34 1247-19-1086 1 1527 147-1524-151-162 24 1055-99-214-102-859 320 982-178 578 134-1095 32 1056-104-27-81-1336-337 797 221 101 226 501-136-1202 14-324 162 1335 17-1085-145 1121 58-213-99 316 72-1522 38 350-171 957-58-859 316 885-348 6 45-813 377 156-367 992-9-258 260-582-377-141 254 436 121-438-40 645 49 118-242-647 67 143 47 609-40-1077 211 856 138-723-158 809-177-979-119 1013 285-359 24 530 30-513-213-545-220 235 136-753 181 122-439-149 415 1279-357 280 712-678-789-951 380 927-31 593-4-171 12-1151 168 1047-78 70-142-1318-75 1401 112-249-1-1145 24 1085-67-256 538-245-462 434 153-981-282 1369 13-1294 49 1346 17-1106-13 83 248 1161-176-306-542-1076 736 41-74-91-68 512-555-283 236-177 133 752 213 107 1-239-29-546 105 513-328-110 234-24 125 543-128 327 129-167-353-1058 179-328 151 192-170 1540-26-502 277 187-331-132 263-177-168-1091-35 161-82 530 102-348-13 789 200 288-239-284 279-396-212 194 162-792-22 1553 46-1142-72 184-197 835-488-1579 727 1691-176-528 54-538 87 1129-143-618 74 533-241-637 77-239 218-85-61 697-38-291-171-612 19 794-46-977 225-41-17 503-257 605 214-378 180-578-220 994 162 37-35 311 11-1203-11-427-219 1131 390 494-122-1636-150 46 17 1132-10-1095-208 6 242 272-143 1168-29-1354 231 98 142 778-309 23 230-257-116 710-400-1306 430 640-4 680-39-21 185-603-222 155 168-828 71 1235 187-469-73-189-507 471 187-1233-67 708 300-720-190 19-4 1234-113-1191 186 335 5 131 228 952-292-1438 78 1067 239 313-340-1578 236 996-44 718-84-1510-410 201 163 458-52 214-73 450 252-1550 47 145 82 1615-316-1715 64 260 139 787 63 303-165-552 277-733-425 98 404 242-50 145 43-157-352 586 121-294 311-144-315-296 165 789 207-212-266-236 94 116-108 557 32-1303-54 270-77-163 208 1053-248-644 60 11 98 0 61 403-206 30 349-881-632 1195 221-658-28 686 113-535 14-416-208 680 391-904-206 1434-35-500 306 620-66-251-183-620 36 432 33-614 94 288-146-550 69-345-51 986 172-214 275 821-340-498-31-73 30 605-131-1338 119 1007-4 350-17 7-216 0 271-1542-20 968 252 54-338 90-37-1033-35 723 157 747-3-1423-10-152 14 7-297 1433 6-512 282-437-238-594 105 241-61 89 276 1147 51-370-203 52-35 61-51-1160 79 1471-170-322-20 146 226 192 92-500-39 91-118 526-181-1522 243 529 30 598-79-701 63 515-229-638 209-81 11-310-569 342 496 1129 175-100-260-796 163 704-312-751 345 459 6-596-244 198 223-264 121 195-78 639-115 240-216-929 330 239-268 283 276-465-54-20-107-272 54 283-73-187-16 1158 173-24-308-187 367-99-213 68-254 157 159-1203-50 864 279-627 281 1217-314-167-40-1443 77 1098 119 399-280-937 240 896 32-1350 74 1561-322-1310 236 577-52-908-315 96 375 629-99-702-109-73 151 1111-128-813 107 480 10 301-87 179-155-1242-43 1649 202-372 3-1360 133 1138-183 572-180-1434 206-48-249 1211-53-575 161 17 355 830-273-420-324-944 422 1342 17-703 121-264-156 47 37-504-92 853-1-1126-74 1197 283-563-23-136-228 605 14-1066 13 386 132 425-66-465-92-96-86 590-41 673 227-1085-104 1130-118-698 139 306 200 563-382-1078 252 707-282-304 257 693-12-543 269 303-213-5-20-73-1 13-454-581 650 661-380-851 266-345-130 412 462 708-355-759 46 1026 35-409-184-146 201-433-342-329 372 1136-372-303-89-983 403 721 54 83 50 13 49-679-286-50 30 1074-39-955 119 874-97 11-255-725 67 976-38-1201 236 850-16-1136-10 132-32 336 47 799-109-1252 287 1320-391-813 415 965-51-977-152 762-252 293 210-278 219-551-203 39 298 11-385-371 184 1001-188-65-60 95 142-1260 12-36 31-51-192-210-44 603 210 444-68 611 67-1555-231 431 144-5 164 1074-6-1417-191 587 167 129-68-784-18 929 125-930-230 96 175 871-108 666-5-720 116 697-137-1336 24 193 354 1049-200-88 6-1340-200 1046 38-800 223 175-122 919-85-791 124 410-128-438 184-506-293 1037 287-1000-91 603 152 522-402-1141 43-234 126 573 234-398-369-104 206-8-323 945 509 287-462-332 556-705-341 829 150 310-65-864-105 1087 116-266 43-299 67 257 85-651-212-177 153 423 130 576-395-733 76 150 239-553-131 1306-28-1018 13-626 101-39-454 1284 209 329 137-979 1-627-365 559 212-184 139 942-193-902 105 965 17-129 89-1218-127 599 117-225-362 3 395-124 37 73-201 608 132-345-231 339 168 686-236-1322 35-345 261 631 64 589-61-944-447 876 581-1097-289 795 57-219 216 270 104-258-156-607-6 783 203 968-382-22 64-60-164-1395 28 209 383 291-247-132 207-545-431 39 235 889 148-460-145-99-69 759 70-771 35 1235-30-1424-162 94 208 886-53-1199-44 1111 42 348-8-1130-56 1304-375-1223 270-27 77 161 209 737-389-777 352 1050-159-719 124 114 202-743-243 308 34 55 136 984-548-1553 163 1482 169-151 68 58-23-917-259 874 123-1361 60 18 145 1069-211-291 232-64-434-426 396 968-94 420-237-695 482-396-258 731-131-246 346-616-240 182 130 1057 34-1290-258 91 400 751-353-747 320 153-502-90 714-264-444 94 240 579-149 575-143-415 233 301-318-721 267 464-181-774 100-212-188 1260 97-750 128 190-182-624 234-151 17 270-354 138 289 281-105 758 179-239-232-332 428-920-424 321 215 341-68-551 54 45-458 33 302 1065-250 258 252-945 93-299-72-178-122-86 45-69-73 301 316 859-135-850-183 871 282 475-86-40-104 55 291-1262-319 586 127-580-79 1236 12-1485-24-13 186 139-25 780 60-269-94-54 38-35 171 192-225 118 64-575-200-446 65 1641-54-1124-49 1122 200-181-97-745 86 432 155 214-188 141-33-777 110 221-378-120 294 376-250-123 281-1139 206 1138-8 607-125-1533-185 112-19 1080-33-1144 155-195-69 885 168-179 60-582-354 735 167-659-109 1435-38-193 107-1094 65 541 354 99-509-957 239 588-199-293 14 461 31-438 236 720-99-617-519 553 660 443-441-730 417 859-99 113-282-1618 2-24 230 1493-132-337-79 293 62-1150 263 1210-93 111-98-1215-235-451 306 1116-55-791-2 105 29 808-194-897 244 1243 6-1646-411 1420 505 147-363-685 225-465-540 669 263-311 254 954 23-1329-45 816-244-650 253-62 16 183-83-251 267 974-263-487 126-747-326 305 319 194 10-480-207 528 143-211 143 256-174 404 4-447 30 920-116-601-36 409 91-1419 123 15 128 1446-389-183 512 344-316-1463-101 662 194-807-20-41-199 458-53-268 132-33-133 923 219-307-198-352 238 1151-147-1309-4-64-135-197 374 618 101-84-328-540-38 271-68 1280-281-157 443-44-106-452 128-812 48 1229-164-1313 113 1076-97 341 61-849 77 619-94-1145-36 1083 17 34-177-715 237-152-175 1100 198-154 68 211-142-286-282-657 251 343 184 553-7-1121-69 339 31 846-76-1365 5 1250-23 109 112-862 103 896-400-1157-105-345 178 505-173 384 465 352-141-435-153-253 180 556-41-410-132 181 292 617-351 183 73-603 366-990-386 1237 93-411-270-428 394-130-200-180-127 834 540-188 368-699-711 1125 148-422 50-120-288 1060 79-1772-338 792 412 940-184-830 192 4 53-859 79 700-157-134 231 417-321-458 506 276-303 491-358 34 20 71 174-98 203-771-182-546-206 756 308-78 95 579-301-1060 23 169-12 433 302-631-128 718 134 428-299-1341-28 425 255 552 143-511-343 1207 149-879 56 252-143-39 113-898-207 417-121 323 229 30-71-146 104-659 136 245-193 1063 63-1023 93 1341-281-1041 215-322 38 253-52-418 73 1424-289-787 415-402-176 824 67-1092-23 1579-136-1702-13 27-121 1389-1-293 160-511 167 865-350-598 209 183-97-849 180 613-77 459-182-550 385-272-284 1191-121-1474 366 794-125 265 211 286-247-619-178 192 148 199-6 316-234-885 326 472-147 275-119-1128 97 873 98 450 290-493-94-879-311 872 21 527 56-238 114 37-151-1137-177 17 245 213 181 768-151-70-295-1155 60 329 502 653-162-695-304 416 135-32 70-575-288 1054 45-98-20-597 302 201-80 362 22 471 308-448-307-345-58-45-34 72 79 404-131-104 182-770-127 792 201-1000-287 433 101-174-123 1209 112 80 246-1144-146 835 53-819-47 600-57 107-135-615 206 162 354 429-583-537 78 862 261-1184-488 814 450-970-305 1189 82-499 43 515-8-393-150-252 264 924 60-467-107 72-95-249 237-873 62 51-182 1055-120-15 66-1014-167-350 361 489-12 1202-182-121 357-988-343 235 67 425-210 26 328-185-321-597 63-127 72 693-12-680-1 18-75 1311-286-474 381-932-105 568 99-621-185 1447 221-995-129-144 61-49 144 614-130-1010-66 838 61 133-123-12 182-97 105-14-176-757-382 626 357 283 8-612 81-251-105 236-109 359 114-431-74 569 390 11-29 64-425-173 290-355 0 1240-285-1057 349 732-459-960 16 1050 288-1437 55 921 54 314-32 419-153-1259 64 1151 223-429-78 462-241-45-185-137 302 156-181 56 155-777 201 264-140-757-253 662 387 86 75-138-208-332 175-124-328-197 54 1406 45-377-162-1352 167 934 52-752-171 630 254 669-53-681-253 503-88-59 6 83 223-879-131 1005-121-1373 328 1566-25-1076 114 197-132 685 128-493-280-751 61-134-68-30 56 146 62 797 230-911-275 354 99 84 4 580 71 461-369-106 408-970 82 594-10-1146-297 604-3 610 289-202 23-923-84 441-46 1128-172-1478 88 1590-156-1638 116 234-127 471 53-424 63-273 95 225-10-318-53 1622 182-70-196 160 136-779 39 575-103-776 12 786 90-127-87-831-49 409-88 453 253-709 169 615-322-752 223 1060-251 24-36-1118-5 365 240 854-309-1790-50 270 92 880-113-190 466-961-285 924-124-699-38 1266 180-147 37-623 19 159-66-747-36 1323-39-946 153 346 79 767-355-236 105-337 74-416 93-262-103 149-105 1219 64-1052 244 705-307-1403-88 291 163 90-82 188 284 76 29-217-173 1126-133-449 91-4 68 85 102-391-391-260 487 1256-157-409-236-982 133 1031 63 256 118-108-149-701-4-483 167 1073-193 151 29-1136 135 469-37-855-8 986 60-648-153 921 322-957-460 521 441-6-445 116 376 503 5-299 12-381-400-853 285 1794-55-1227-98-321 83 1245 70-101-146-870 146 223-21 422-93-878 100 123 104 580-19 214-249 30 167-1082-111 9-172 925 424 86-2 82 12 139-130-279 8-457-300-19 322-239-37 446 28 564-163-916 16 423 89 491-134 396 357-1076-138 1059 30-1694-290 1344 57-443-157 497 20-1110 229-349 83 418-250 588-408 411 477-310 38 552 23-6 102-1115-205 1205-68-1124 167 971-139-1051 296 743-446-560 730 182-464-164 110 648-204 180-122-1293 266 1219-159 198 167-1426-60 187-193-243 188 1561-106-1232 124 551-71-943-36 1602-205-212 165-619 53-9 172-861-199 1401 44 282-87-1054-76 84 279-110 67 473-107-610-83-95-447 371 625-121 56 212 10-10-148-117 203 397-137-929-95 883 239-474-183 202 174-207-54 266-272 510 125-280-65-514-145 542 273-190 139 149-357 270-179-1008 218-188 152 63 2 971 187-102-83 591-352-25-65-786 227-46-129 252 320 402-223-720-84 596 50 152 27-988-38 1008 30-1257 48 82 81 1233-44-254 41-417 357-893-574 744 340-115-77 895-206-171-18 290 49-636 250 350-31-770-276 392 275 219-255-792 43-80 149 516-88-625 165-164-128 1587-16-1588-303 381 218-94-330 779 202"/>
<path d="M1204.1 366.2L1205.1 366.2L1206.1 366.2L1207.1 366.2L1208.1 366.2L1209.1 366.2L1210.1 366.2L1211.1 366.2L1212.1 366.2L1213.1 366.2L1214.1 366.2L1215.1 366.2L1216.1 366.2L1217.1 366.2L1218.1 366.2L1219.1 366.2L1220.1 366.2L1221.1 366.2L1222.1 366.2L1223.1 366.2L1224.1 366.2L1225.1 366.2L1226.1 366.2L1227.1 366.2L1228.1 366.2L1229.1 366.2L1230.1 366.2L1231.1 366.2L1232.1 366.2L1233.1 366.2L1234.1 366.2L1235.1 366.2L1236.1 366.2L1237.1 366.2L1238.1 366.2L1239.1 366.2L1240.1 366.2L1241.1 366.2L1242.1 366.2L1243.1 366.2L1244.1 366.2L1245.1 366.2L1246.1 366.2L1247.1 366.2L1248.1 366.2L1249.1 366.2L1250.1 366.2L1251.1 366.2L1252.1 366.2L1253.1 366.2L1254.1 366.2L1255.1 366.2L1256.1 366.2L1257.1 366.2L1258.1 366.2L1259.1 366.2L1260.1 366.2L1261.1 366.2L1262.1 366.2L1263.1 366.2L1264.1 366.2L1265.1 366.2L1266.1 366.2L1267.1 366.2L1268.1 366.2L1269.1 366.2L1270.1 366.2L1271.1 366.2L1272.1 366.2L1273.1 366.2L1274.1 366.2L1275.1 366.2L1276.1 366.2L1277.1 366.2L1278.1 366.2L1279.1 366.2L1280.1 366.2L1281.1 366.2L1282.1 366.2L1283.1 366.2L1284.1 366.2L1285.1 366.2L1286.1 366.2L1287.1 366.2L1288.1 366.2L1289.1 366.2L1290.1 366.2L1291.1 366.2L1292.1 366.2L1293.1 366.2L1294.1 366.2L1295.1 366.2L1296.1 366.2L1297.1 366.2L1298.1 366.2L1299.1 366.2L1300.1 366.2L1301.1 366.2L1302.1 366.2L1303.1 366.2L1304.1 366.2L1305.1 366.2L1306.1 366.2L1307.1 366.2L1308.1 366.2L1309.1 366.2L1310.1 366.2L1311.1 366.2L1312.1 366.2L1313.1 366.2L1314.1 366.2L1315.1 366.2L1316.1 366.2L1317.1 366.2L1318.1 366.2L1319.1 366.2L1320.1 366.2L1321.1 366.2L1322.1 366.2L1323.1 366.2L1324.1 366.2L1325.1 366.2L1326.1 366.2L1327.1 366.2L1328.1 366.2L1329.1 366.2L1330.1 366.2L1331.1 366.2L1332.1 366.2L1333.1 366.2L1334.1 366.2L1335.1 366.2L1336.1 366.2L1337.1 366.2L1338.1 366.2L1339.1 366.2L1340.1 366.2L1341.1 366.2L1342.1 366.2L1343.1 366.2L1344.1 366.2L1345.1 366.2L1346.1 366.2L1347.1 366.2L1348.1 366.2L1349.1 366.2L1350.1 366.2L1351.1 366.2L1352.1 366.2L1353.1 366.2L1354.1 366.2L1355.1 366.2L1356.1 366.2L1357.1 366.2L1358.1 366.2L1359.1 366.2L1360.1 366.2L1361.1 366.2L1362.1 366.2L1363.1 366.2L1364.1 366.2L1365.1 366.2L1366.1 366.2L1367.1 366.2L1368.1 366.2L1369.1 366.2L1370.1 366.2L1371.1 366.2L1372.1 366.2L1373.1 366.2L1374.1 366.2L1375.1 366.2L1376.1 366.2L1377.1 366.2L1378.1 366.2L1379.1 366.2L1380.1 366.2L1381.1 366.2L1382.1 366.2L1383.1 366.2L1384.1 366.2L1385.1 366.2L1386.1 366.2L1387.1 366.2L1388.1 366.2L1389.1 366.2L1390.1 366.2L1391.1 366.2L1392.1 366.2L1393.1 366.2L1394.1 366.2L1395.1 366.2L1396.1 366.2L1397.1 366.2L1398.1 366.2L1399.1 366.2L1400.1 366.2L1401.1 366.2L1402.1 366.2L1403.1 366.2L1404.1 366.2L1405.1 366.2L1406.1 366.2L1407.1 366.2L1408.1 366.2L1409.1 366.2L1410.1 366.2L1411.1 366.2L1412.1 366.2L1413.1 366.2L1414.1 366.2L1415.1 366.2L1416.1 366.2L1417.1 366.2L1418.1 366.2L1419.1 366.2L1420.1 366.2L1421.1 366.2L1422.1 366.2L1423.1 366.2L1424.1 366.2L1425.1 366.2L1426.1 366.2L1427.1 366.2L1428.1 366.2L1429.1 366.2L1430.1 366.2L1431.1 366.2L1432.1 366.2L1433.1 366.2L1434.1 366.2L1435.1 366.2L1436.1 366.2L1437.1 366.2L1438.1 366.2L1439.1 366.2L1440.1 366.2L1441.1 366.2L1442.1 366.2L1443.1 366.2L1444.1 366.2L1445.1 366.2L1446.1 366.2L1447.1 366.2L1448.1 366.2L1449.1 366.2L1450.1 366.2L1451.1 366.2L1452.1 366.2L1453.1 366.2L1454.1 366.4L1455.1 366.7L1456.1 367.1L1457.1 367.6L1458.1 368.2L1459.1 368.9L1460.1 369.6L1461.1 370.3L1462.1 371.1L1463.1 372.3L1464.1 373.6L1465.1 375.1L1466.1 376.8L1467.1 378.5L1468.1 380.3L1469.1 382L1470.1 383.7L1471.1 385.2L1472.1 386.8L1473.1 388.5L1474.1 390.2L1475.1 391.9L1476.1 393.4L1477.1 394.8L1478.1 395.8L1479.1 396.7L1480.1 397.4L1481.1 398.2L1482.1 398.8L1483.1 399.4L1484.1 400L1485.1 400.6L1486.1 401L1487.1 401.5L1488.1 401.9L1489.1 402.3L1490.1 402.7L1491.1 403L1492.1 403.4L1493.1 403.7L1494.1 404L1495.1 404.2L1496.1 404.5L1497.1 404.8L1498.1 405L1499.1 405.2L1500.1 405.5L1501.1 405.7L1502.1 405.9L1503.1 406.1L1504.1 406.3L1505.1 406.5L1506.1 406.7L1507.1 406.9L1508.1 407.1L1509.1 407.3L1510.1 407.5L1511.1 407.7L1512.1 407.9L1513.1 408.1L1514.1 408.3L1515.1 408.4L1516.1 408.6L1517.1 408.8L1518.1 409L1519.1 409.2L1520.1 409.3L1521.1 409.5L1522.1 409.7L1523.1 409.8L1524.1 410L1525.1 410.2L1526.1 410.3L1527.1 410.5L1528.1 410.6L1529.1 410.7L1530.1 410.9L1531.1 411L1532.1 411.1L1533.1 411.3L1534.1 411.4L1535.1 411.5L1536.1 411.6L1537.1 411.8L1538.1 411.9L1539.1 412L1540.1 412.1L1541.1 412.2L1542.1 412.3L1543.1 412.4L1544.1 412.5L1545.1 412.6L1546.1 412.7L1547.1 412.8L1548.1 412.9L1549.1 413L1550.1 413.1L1551.1 413.2L1552.1 413.3L1553.1 413.4L1554.1 413.5L1555.1 413.6L1556.1 413.6L1557.1 413.7L1558.1 413.8L1559.1 413.9L1560.1 414L1561.1 414L1562.1 414.1L1563.1 414.2L1564.1 414.3L1565.1 414.4L1566.1 414.4L1567.1 414.5L1568.1 414.6L1569.1 414.7L1570.1 414.7L1571.1 414.8L1572.1 414.9L1573.1 414.9L1574.1 415L1575.1 415.1L1576.1 415.2L1577.1 415.2L1578.1 415.3L1579.1 415.3L1580.1 415.4L1581.1 415.5L1582.1 415.5L1583.1 415.6L1584.1 415.7L1585.1 415.7L1586.1 415.8L1587.1 415.8L1588.1 415.9L1589.1 415.9L1590.1 416L1591.1 416L1592.1 416.1L1593.1 416.2L1594.1 416.2L1595.1 416.3L1596.1 416.3L1597.1 416.4L1598.1 416.4L1599.1 416.5L1600.1 416.5L1601.1 416.6L1602.1 416.6L1603.1 416.7L1604.1 416.7L1605.1 416.7L1606.1 416.8L1607.1 416.8L1608.1 416.9L1609.1 416.9L1610.1 417L1611.1 417L1612.1 417.1L1613.1 417.1L1614.1 417.1L1615.1 417.2L1616.1 417.2L1617.1 417.2L1618.1 417.3L1619.1 417.3L1620.1 417.3L1621.1 417.4L1622.1 417.4L1623.1 417.4L1624.1 417.5L1625.1 417.5L1626.1 417.5L1627.1 417.5L1628.1 417.6L1629.1 417.6L1630.1 417.6L1631.1 417.7L1632.1 417.7L1633.1 417.7L1634.1 417.7L1635.1 417.8L1636.1 417.8L1637.1 417.8L1638.1 417.8L1639.1 417.9L1640.1 417.9L1641.1 417.9L1642.1 417.9L1643.1 418L1644.1 418L1645.1 418L1646.1 418L1647.1 418L1648.1 418.1L1649.1 418.1L1650.1 418.1L1651.1 418.1L1652.1 418.1L1653.1 418.1L1654.1 418.2L1655.1 418.2L1656.1 418.2L1657.1 418.2L1658.1 418.2L1659.1 418.2L1660.1 418.2L1661.1 418.2L1662.1 418.2L1663.1 418.2L1664.1 418.2L1665.1 418.2L1666.1 418.1L1667.1 418.1L1668.1 418.1L1669.1 418.1L1670.1 418.1L1671.1 418.1L1672.1 418.1L1673.1 418L1674.1 418L1675.1 418L1676.1 418L1677.1 418L1678.1 417.9L1679.1 417.9L1680.1 417.9L1681.1 417.9L1682.1 417.9L1683.1 417.8L1684.1 417.8L1685.1 417.8L1686.1 417.8L1687.1 417.7L1688.1 417.7L1689.1 417.7L1690.1 417.7L1691.1 417.7L1692.1 417.6L1693.1 417.6L1694.1 417.6L1695.1 417.6L1696.1 417.5L1697.1 417.5L1698.1 417.5L1699.1 417.5L1700.1 417.4L1701.1 417.4L1702.1 417.4L1703.1 417.3L1704.1 417.3L1705.1 417.3L1706.1 417.2L1707.1 417.2L1708.1 417.2L1709.1 417.1L1710.1 417.1L1711.1 417L1712.1 417L1713.1 417L1714.1 416.9L1715.1 416.9L1716.1 416.8L1717.1 416.8L1718.1 416.7L1719.1 416.7L1720.1 416.6L1721.1 416.6L1722.1 416.5L1723.1 416.5L1724.1 416.4L1725.1 416.4L1726.1 416.3L1727.1 416.3L1728.1 416.2L1729.1 416.2L1730.1 416.1L1731.1 416.1L1732.1 416L1733.1 416L1734.1 415.9L1735.1 415.9L1736.1 415.8L1737.1 415.7L1738.1 415.7L1739.1 415.6L1740.1 415.6L1741.1 415.5L1742.1 415.4L1743.1 415.4L1744.1 415.3L1745.1 415.3L1746.1 415.2L1747.1 415.1L1748.1 415.1L1749.1 415L1750.1 414.9L1751.1 414.8L1752.1 414.8L1753.1 414.7L1754.1 414.6L1755.1 414.6L1756.1 414.5L1757.1 414.4L1758.1 414.3L1759.1 414.2L1760.1 414.2L1761.1 414.1L1762.1 414L1763.1 413.9L1764.1 413.8L1765.1 413.8L1766.1 413.7L1767.1 413.6L1768.1 413.5L1769.1 413.4L1770.1 413.3L1771.1 413.2L1772.1 413.2L1773.1 413.1L1774.1 413L1775.1 412.9L1776.1 412.8L1777.1 412.7L1778.1 412.6L1779.1 412.5L1780.1 412.4L1781.1 412.3L1782.1 412.1L1783.1 412L1784.1 411.9L1785.1 411.8L1786.1 411.7L1787.1 411.6L1788.1 411.5L1789.1 411.3L1790.1 411.2L1791.1 411.1L1792.1 411L1793.1 410.8L1794.1 410.7L1795.1 410.5L1796.1 410.4L1797.1 410.3L1798.1 410.1L1799.1 410L1800.1 409.8L1801.1 409.6L1802.1 409.5L1803.1 409.3L1804.1 409.1L1805.1 409L1806.1 408.8L1807.1 408.6L1808.1 408.4L1809.1 408.2L1810.1 408L1811.1 407.8L1812.1 407.6L1813.1 407.4L1814.1 407.2L1815.1 407L1816.1 406.8L1817.1 406.6L1818.1 406.3L1819.1 406.1L1820.1 405.9L1821.1 405.6L1822.1 405.4L1823.1 405.1L1824.1 404.8L1825.1 404.5L1826.1 404.2L1827.1 403.9L1828.1 403.5L1829.1 403.1L1830.1 402.7L1831.1 402.2L1832.1 401.6L1833.1 401L1834.1 400.3L1835.1 399.5L1836.1 398.6L1837.1 397.7L1838.1 396.7L1839.1 395.6L1840.1 394.3L1841.1 392.7L1842.1 391.1L1843.1 389.3L1844.1 387.6L1845.1 385.9L1846.1 384.3L1847.1 382.6L1848.1 380.9L1849.1 379.2L1850.1 377.5L1851.1 376L1852.1 374.6L1853.1 373.4L1854.1 372.3L1855.1 371.3L1856.1 370.4L1857.1 369.6L1858.1 368.8L1859.1 368.2L1860.1 367.8L1861.1 367.4L1862.1 367L1863.1 366.7L1864.1 366.4L1865.1 366.2L1866.1 366.2L1867.1 366.2L1868.1 366.2L1869.1 366.2L1870.1 366.2L1871.1 366.2L1872.1 366.2L1873.1 366.2L1874.1 366.2L1875.1 366.2L1876.1 366.2L1877.1 366.2L1878.1 366.2L1879.1 366.2L1880.1 366.2L1881.1 366.2L1882.1 366.2L1883.1 366.2L1884.1 366.2L1885.1 366.2L1886.1 366.2L1887.1 366.2L1888.1 366.2L1889.1 366.2L1890.1 366.2L1891.1 366.2L1892.1 366.2L1893.1 366.2L1894.1 366.2L1895.1 366.2L1896.1 366.2L1897.1 366.2L1898.1 366.2L1899.1 366.2L1900.1 366.2L1901.1 366.2L1902.1 366.2L1903.1 366.2L1904.1 366.2L1905.1 366.2L1906.1 366.2L1907.1 366.2L1908.1 366.2L1909.1 366.2L1910.1 366.2L1911.1 366.2L1912.1 366.2L1913.1 366.2L1914.1 366.2L1915.1 366.2L1916.1 366.2L1917.1 366.2L1918.1 366.2L1919.1 366.2L1920.1 366.2L1921.1 366.2L1922.1 366.2L1923.1 366.2L1924.1 366.2L1925.1 366.2L1926.1 366.2L1927.1 366.2L1928.1 366.2L1929.1 366.2L1930.1 366.2L1931.1 366.2L1932.1 366.2L1933.1 366.2L1934.1 366.2L1935.1 366.2L1936.1 366.2L1937.1 366.2L1938.1 366.2L1939.1 366.2L1940.1 366.2L1941.1 366.2L1942.1 366.2L1943.1 366.2L1944.1 366.2L1945.1 366.2L1946.1 366.2L1947.1 366.2L1948.1 366.2L1949.1 366.2L1950.1 366.2L1951.1 366.2L1952.1 366.2L1953.1 366.2L1954.1 366.2L1955.1 366.2L1956.1 366.2L1957.1 366.2L1958.1 366.2L1959.1 366.2L1960.1 366.2L1961.1 366.2L1962.1 366.2L1963.1 366.2L1964.1 366.2L1965.1 366.2L1966.1 366.2L1967.1 366.2L1968.1 366.2L1969.1 366.2L1970.1 366.2L1971.1 366.2L1972.1 366.2L1973.1 366.2L1974.1 366.2L1975.1 366.2L1976.1 366.2L1977.1 366.2L1978.1 366.2L1979.1 366.2L1980.1 366.2L1981.1 366.2L1982.1 366.2L1983.1 366.2L1984.1 366.2L1985.1 366.2L1986.1 366.2L1987.1 366.2L1988.1 366.2L1989.1 366.2L1990.1 366.2L1991.1 366.2L1992.1 366.2L1993.1 366.2L1994.1 366.2L1995.1 366.2L1996.1 366.2L1997.1 366.2L1998.1 366.2L1999.1 366.2L2000.1 366.2L2001.1 366.2L2002.1 366.2L2003.1 366.2L2004.1 366.2L2005.1 366.2L2006.1 366.2L2007.1 366.2L2008.1 366.2L2009.1 366.2L2010.1 366.2L2011.1 366.2L2012.1 366.2L2013.1 366.2L2014.1 366.2L2015.1 366.2L2016.1 366.2L2017.1 366.2L2018.1 366.2L2019.1 366.2L2020.1 366.2L2021.1 366.2L2022.1 366.2L2023.1 366.2L2024.1 366.2L2025.1 366.2L2026.1 366.2L2027.1 366.2L2028.1 366.2L2029.1 366.2L2030.1 366.2L2031.1 366.2L2032.1 366.2L2033.1 366.2L2034.1 366.2L2035.1 366.2L2036.1 366.2L2037.1 366.2L2038.1 366.2L2039.1 366.2L2040.1 366.2L2041.1 366.2L2042.1 366.2L2043.1 366.2L2044.1 366.2L2045.1 366.2L2046.1 366.2L2047.1 366.2L2048.1 366.2L2049.1 366.2L2050.1 366.2L2051.1 366.2L2052.1 366.2L2053.1 366.2L2054.1 366.2L2055.1 366.2L2056.1 366.2L2057.1 366.2L2058.1 366.2L2059.1 366.2L2060.1 366.2L2061.1 366.2L2062.1 366.2L2063.1 366.2L2064.1 366.2L2065.1 366.2L2066.1 366.2L2067.1 366.2L2068.1 366.2L2069.1 366.2L2070.1 366.2L2071.1 366.2L2072.1 366.2L2073.1 366.2L2074.1 366.2L2075.1 366.2L2076.1 366.2L2077.1 366.2L2078.1 366.2L2079.1 366.2L2080.1 366.2L2081.1 366.2L2082.1 366.2L2083.1 366.2L2084.1 366.2L2085.1 366.2L2086.1 366.2L2087.1 366.2L2088.1 366.2L2089.1 366.2L2090.1 366.2L2091.1 366.2L2092.1 366.2L2093.1 366.2L2094.1 366.2L2095.1 366.2L2096.1 366.2L2097.1 366.2L2098.1 366.2L2099.1 366.2L2100.1 366.2L2101.1 366.2L2102.1 366.2L2103.1 366.2L2104.1 366.2L2105.1 366.2L2106.1 366.2L2107.1 366.2L2108.1 366.2L2109.1 366.2L2110.1 366.2L2110.1 371L2109.1 371L2108.1 371L2107.1 371L2106.1 371L2105.1 371L2104.1 371L2103.1 371L2102.1 371L2101.1 371L2100.1 371L2099.1 371L2098.1 371L2097.1 371L2096.1 371L2095.1 371L2094.1 371L2093.1 371L2092.1 371L2091.1 371L2090.1 371L2089.1 371L2088.1 371L2087.1 371L2086.1 371L2085.1 371L2084.1 371L2083.1 371L2082.1 371L2081.1 371L2080.1 371L2079.1 371L2078.1 371L2077.1 371L2076.1 371L2075.1 371L2074.1 371L2073.1 371L2072.1 371L2071.1 371L2070.1 371L2069.1 371L2068.1 371L2067.1 371L2066.1 371L2065.1 371L2064.1 371L2063.1 371L2062.1 371L2061.1 371L2060.1 371L2059.1 371L2058.1 371L2057.1 371L2056.1 371L2055.1 371L2054.1 371L2053.1 371L2052.1 371L2051.1 371L2050.1 371L2049.1 371L2048.1 371L2047.1 371L2046.1 371L2045.1 371L2044.1 371L2043.1 371L2042.1 371L2041.1 371L2040.1 371L2039.1 371L2038.1 371L2037.1 371L2036.1 371L2035.1 371L2034.1 371L2033.1 371L2032.1 371L2031.1 371L2030.1 371L2029.1 371L2028.1 371L2027.1 371L2026.1 371L2025.1 371L2024.1 371L2023.1 371L2022.1 371L2021.1 371L2020.1 371L2019.1 371L2018.1 371L2017.1 371L2016.1 371L2015.1 371L2014.1 371L2013.1 371L2012.1 371L2011.1 371L2010.1 371L2009.1 371L2008.1 371L2007.1 371L2006.1 371L2005.1 371L2004.1 371L2003.1 371L2002.1 371L2001.1 371L2000.1 371L1999.1 371L1998.1 371L1997.1 371L1996.1 371L1995.1 371L1994.1 371L1993.1 371L1992.1 371L1991.1 371L1990.1 371L1989.1 371L1988.1 371L1987.1 371L1986.1 371L1985.1 371L1984.1 371L1983.1 371L1982.1 371L1981.1 371L1980.1 371L1979.1 371L1978.1 371L1977.1 371L1976.1 371L1975.1 371L1974.1 371L1973.1 371L1972.1 371L1971.1 371L1970.1 371L1969.1 371L1968.1 371L1967.1 371L1966.1 371L1965.1 371L1964.1 371L1963.1 371L1962.1 371L1961.1 371L1960.1 371L1959.1 371L1958.1 371L1957.1 371L1956.1 371L1955.1 371L1954.1 371L1953.1 371L1952.1 371L1951.1 371L1950.1 371L1949.1 371L1948.1 371L1947.1 371L1946.1 371L1945.1 371L1944.1 371L1943.1 371L1942.1 371L1941.1 371L1940.1 371L1939.1 371L1938.1 371L1937.1 371L1936.1 371L1935.1 371L1934.1 371L1933.1 371L1932.1 371L1931.1 371L1930.1 371L1929.1 371L1928.1 371L1927.1 371L1926.1 371L1925.1 371L1924.1 371L1923.1 371L1922.1 371L1921.1 371L1920.1 371L1919.1 371L1918.1 371L1917.1 371L1916.1 371L1915.1 371L1914.1 371L1913.1 371L1912.1 371L1911.1 371L1910.1 371L1909.1 371L1908.1 371L1907.1 371L1906.1 371L1905.1 371L1904.1 371L1903.1 371L1902.1 371L1901.1 371L1900.1 371L1899.1 371L1898.1 371L1897.1 371L1896.1 371L1895.1 371L1894.1 371L1893.1 371L1892.1 371L1891.1 371L1890.1 371L1889.1 371L1888.1 371L1887.1 371L1886.1 371L1885.1 371L1884.1 371L1883.1 371L1882.1 371L1881.1 371L1880.1 371L1879.1 371L1878.1 371L1877.1 371L1876.1 371L1875.1 371L1874.1 371.2L1873.1 371.5L1872.1 371.8L1871.1 372.2L1870.1 372.6L1869.1 373L1868.1 373.6L1867.1 374.4L1866.1 375.2L1865.1 376.1L1864.1 377.1L1863.1 378.2L1862.1 379.4L1861.1 380.8L1860.1 382.3L1859.1 384L1858.1 385.7L1857.1 387.4L1856.1 389.1L1855.1 390.7L1854.1 392.4L1853.1 394.1L1852.1 395.9L1851.1 397.5L1850.1 399.1L1849.1 400.4L1848.1 401.5L1847.1 402.5L1846.1 403.4L1845.1 404.3L1844.1 405.1L1843.1 405.8L1842.1 406.4L1841.1 407L1840.1 407.5L1839.1 407.9L1838.1 408.3L1837.1 408.7L1836.1 409L1835.1 409.3L1834.1 409.6L1833.1 409.9L1832.1 410.2L1831.1 410.4L1830.1 410.7L1829.1 410.9L1828.1 411.1L1827.1 411.4L1826.1 411.6L1825.1 411.8L1824.1 412L1823.1 412.2L1822.1 412.4L1821.1 412.6L1820.1 412.8L1819.1 413L1818.1 413.2L1817.1 413.4L1816.1 413.6L1815.1 413.8L1814.1 413.9L1813.1 414.1L1812.1 414.3L1811.1 414.4L1810.1 414.6L1809.1 414.8L1808.1 414.9L1807.1 415.1L1806.1 415.2L1805.1 415.3L1804.1 415.5L1803.1 415.6L1802.1 415.8L1801.1 415.9L1800.1 416L1799.1 416.1L1798.1 416.3L1797.1 416.4L1796.1 416.5L1795.1 416.6L1794.1 416.7L1793.1 416.8L1792.1 416.9L1791.1 417.1L1790.1 417.2L1789.1 417.3L1788.1 417.4L1787.1 417.5L1786.1 417.6L1785.1 417.7L1784.1 417.8L1783.1 417.9L1782.1 418L1781.1 418L1780.1 418.1L1779.1 418.2L1778.1 418.3L1777.1 418.4L1776.1 418.5L1775.1 418.6L1774.1 418.6L1773.1 418.7L1772.1 418.8L1771.1 418.9L1770.1 419L1769.1 419L1768.1 419.1L1767.1 419.2L1766.1 419.3L1765.1 419.4L1764.1 419.4L1763.1 419.5L1762.1 419.6L1761.1 419.6L1760.1 419.7L1759.1 419.8L1758.1 419.9L1757.1 419.9L1756.1 420L1755.1 420.1L1754.1 420.1L1753.1 420.2L1752.1 420.2L1751.1 420.3L1750.1 420.4L1749.1 420.4L1748.1 420.5L1747.1 420.5L1746.1 420.6L1745.1 420.7L1744.1 420.7L1743.1 420.8L1742.1 420.8L1741.1 420.9L1740.1 420.9L1739.1 421L1738.1 421L1737.1 421.1L1736.1 421.1L1735.1 421.2L1734.1 421.2L1733.1 421.3L1732.1 421.3L1731.1 421.4L1730.1 421.4L1729.1 421.5L1728.1 421.5L1727.1 421.6L1726.1 421.6L1725.1 421.7L1724.1 421.7L1723.1 421.8L1722.1 421.8L1721.1 421.8L1720.1 421.9L1719.1 421.9L1718.1 422L1717.1 422L1716.1 422L1715.1 422.1L1714.1 422.1L1713.1 422.1L1712.1 422.2L1711.1 422.2L1710.1 422.2L1709.1 422.3L1708.1 422.3L1707.1 422.3L1706.1 422.3L1705.1 422.4L1704.1 422.4L1703.1 422.4L1702.1 422.4L1701.1 422.5L1700.1 422.5L1699.1 422.5L1698.1 422.5L1697.1 422.5L1696.1 422.6L1695.1 422.6L1694.1 422.6L1693.1 422.6L1692.1 422.7L1691.1 422.7L1690.1 422.7L1689.1 422.7L1688.1 422.7L1687.1 422.8L1686.1 422.8L1685.1 422.8L1684.1 422.8L1683.1 422.8L1682.1 422.9L1681.1 422.9L1680.1 422.9L1679.1 422.9L1678.1 422.9L1677.1 422.9L1676.1 422.9L1675.1 423L1674.1 423L1673.1 423L1672.1 423L1671.1 423L1670.1 423L1669.1 423L1668.1 423L1667.1 423L1666.1 423L1665.1 423L1664.1 423L1663.1 423L1662.1 423L1661.1 423L1660.1 423L1659.1 423L1658.1 423L1657.1 423L1656.1 423L1655.1 423L1654.1 423L1653.1 423L1652.1 423L1651.1 423L1650.1 423L1649.1 423L1648.1 423L1647.1 423L1646.1 423L1645.1 423L1644.1 423L1643.1 422.9L1642.1 422.9L1641.1 422.9L1640.1 422.9L1639.1 422.9L1638.1 422.9L1637.1 422.8L1636.1 422.8L1635.1 422.8L1634.1 422.8L1633.1 422.8L1632.1 422.7L1631.1 422.7L1630.1 422.7L1629.1 422.7L1628.1 422.6L1627.1 422.6L1626.1 422.6L1625.1 422.6L1624.1 422.5L1623.1 422.5L1622.1 422.5L1621.1 422.5L1620.1 422.4L1619.1 422.4L1618.1 422.4L1617.1 422.3L1616.1 422.3L1615.1 422.3L1614.1 422.3L1613.1 422.2L1612.1 422.2L1611.1 422.2L1610.1 422.1L1609.1 422.1L1608.1 422.1L1607.1 422L1606.1 422L1605.1 422L1604.1 421.9L1603.1 421.9L1602.1 421.9L1601.1 421.8L1600.1 421.8L1599.1 421.7L1598.1 421.7L1597.1 421.6L1596.1 421.6L1595.1 421.5L1594.1 421.5L1593.1 421.5L1592.1 421.4L1591.1 421.4L1590.1 421.3L1589.1 421.3L1588.1 421.2L1587.1 421.2L1586.1 421.1L1585.1 421.1L1584.1 421L1583.1 421L1582.1 420.9L1581.1 420.8L1580.1 420.8L1579.1 420.7L1578.1 420.7L1577.1 420.6L1576.1 420.6L1575.1 420.5L1574.1 420.5L1573.1 420.4L1572.1 420.3L1571.1 420.3L1570.1 420.2L1569.1 420.1L1568.1 420.1L1567.1 420L1566.1 420L1565.1 419.9L1564.1 419.8L1563.1 419.7L1562.1 419.7L1561.1 419.6L1560.1 419.5L1559.1 419.5L1558.1 419.4L1557.1 419.3L1556.1 419.2L1555.1 419.2L1554.1 419.1L1553.1 419L1552.1 418.9L1551.1 418.8L1550.1 418.8L1549.1 418.7L1548.1 418.6L1547.1 418.5L1546.1 418.4L1545.1 418.4L1544.1 418.3L1543.1 418.2L1542.1 418.1L1541.1 418L1540.1 417.9L1539.1 417.8L1538.1 417.7L1537.1 417.6L1536.1 417.5L1535.1 417.4L1534.1 417.3L1533.1 417.2L1532.1 417.1L1531.1 417L1530.1 416.9L1529.1 416.8L1528.1 416.7L1527.1 416.6L1526.1 416.4L1525.1 416.3L1524.1 416.2L1523.1 416.1L1522.1 415.9L1521.1 415.8L1520.1 415.7L1519.1 415.5L1518.1 415.4L1517.1 415.3L1516.1 415.1L1515.1 415L1514.1 414.8L1513.1 414.6L1512.1 414.5L1511.1 414.3L1510.1 414.1L1509.1 414L1508.1 413.8L1507.1 413.6L1506.1 413.4L1505.1 413.2L1504.1 413.1L1503.1 412.9L1502.1 412.7L1501.1 412.5L1500.1 412.3L1499.1 412.1L1498.1 411.9L1497.1 411.7L1496.1 411.5L1495.1 411.3L1494.1 411.1L1493.1 410.9L1492.1 410.7L1491.1 410.5L1490.1 410.3L1489.1 410L1488.1 409.8L1487.1 409.6L1486.1 409.3L1485.1 409L1484.1 408.8L1483.1 408.5L1482.1 408.2L1481.1 407.8L1480.1 407.5L1479.1 407.1L1478.1 406.7L1477.1 406.3L1476.1 405.8L1475.1 405.4L1474.1 404.8L1473.1 404.2L1472.1 403.6L1471.1 403L1470.1 402.2L1469.1 401.5L1468.1 400.6L1467.1 399.6L1466.1 398.2L1465.1 396.7L1464.1 395L1463.1 393.3L1462.1 391.6L1461.1 390L1460.1 388.5L1459.1 386.8L1458.1 385.1L1457.1 383.3L1456.1 381.6L1455.1 379.9L1454.1 378.4L1453.1 377.1L1452.1 375.9L1451.1 375.1L1450.1 374.4L1449.1 373.7L1448.1 373L1447.1 372.4L1446.1 371.9L1445.1 371.5L1444.1 371.2L1443.1 371L1442.1 371L1441.1 371L1440.1 371L1439.1 371L1438.1 371L1437.1 371L1436.1 371L1435.1 371L1434.1 371L1433.1 371L1432.1 371L1431.1 371L1430.1 371L1429.1 371L1428.1 371L1427.1 371L1426.1 371L1425.1 371L1424.1 371L1423.1 371L1422.1 371L1421.1 371L1420.1 371L1419.1 371L1418.1 371L1417.1 371L1416.1 371L1415.1 371L1414.1 371L1413.1 371L1412.1 371L1411.1 371L1410.1 371L1409.1 371L1408.1 371L1407.1 371L1406.1 371L1405.1 371L1404.1 371L1403.1 371L1402.1 371L1401.1 371L1400.1 371L1399.1 371L1398.1 371L1397.1 371L1396.1 371L1395.1 371L1394.1 371L1393.1 371L1392.1 371L1391.1 371L1390.1 371L1389.1 371L1388.1 371L1387.1 371L1386.1 371L1385.1 371L1384.1 371L1383.1 371L1382.1 371L1381.1 371L1380.1 371L1379.1 371L1378.1 371L1377.1 371L1376.1 371L1375.1 371L1374.1 371L1373.1 371L1372.1 371L1371.1 371L1370.1 371L1369.1 371L1368.1 371L1367.1 371L1366.1 371L1365.1 371L1364.1 371L1363.1 371L1362.1 371L1361.1 371L1360.1 371L1359.1 371L1358.1 371L1357.1 371L1356.1 371L1355.1 371L1354.1 371L1353.1 371L1352.1 371L1351.1 371L1350.1 371L1349.1 371L1348.1 371L1347.1 371L1346.1 371L1345.1 371L1344.1 371L1343.1 371L1342.1 371L1341.1 371L1340.1 371L1339.1 371L1338.1 371L1337.1 371L1336.1 371L1335.1 371L1334.1 371L1333.1 371L1332.1 371L1331.1 371L1330.1 371L1329.1 371L1328.1 371L1327.1 371L1326.1 371L1325.1 371L1324.1 371L1323.1 371L1322.1 371L1321.1 371L1320.1 371L1319.1 371L1318.1 371L1317.1 371L1316.1 371L1315.1 371L1314.1 371L1313.1 371L1312.1 371L1311.1 371L1310.1 371L1309.1 371L1308.1 371L1307.1 371L1306.1 371L1305.1 371L1304.1 371L1303.1 371L1302.1 371L1301.1 371L1300.1 371L1299.1 371L1298.1 371L1297.1 371L1296.1 371L1295.1 371L1294.1 371L1293.1 371L1292.1 371L1291.1 371L1290.1 371L1289.1 371L1288.1 371L1287.1 371L1286.1 371L1285.1 371L1284.1 371L1283.1 371L1282.1 371L1281.1 371L1280.1 371L1279.1 371L1278.1 371L1277.1 371L1276.1 371L1275.1 371L1274.1 371L1273.1 371L1272.1 371L1271.1 371L1270.1 371L1269.1 371L1268.1 371L1267.1 371L1266.1 371L1265.1 371L1264.1 371L1263.1 371L1262.1 371L1261.1 371L1260.1 371L1259.1 371L1258.1 371L1257.1 371L1256.1 371L1255.1 371L1254.1 371L1253.1 371L1252.1 371L1251.1 371L1250.1 371L1249.1 371L1248.1 371L1247.1 371L1246.1 371L1245.1 371L1244.1 371L1243.1 371L1242.1 371L1241.1 371L1240.1 371L1239.1 371L1238.1 371L1237.1 371L1236.1 371L1235.1 371L1234.1 371L1233.1 371L1232.1 371L1231.1 371L1230.1 371L1229.1 371L1228.1 371L1227.1 371L1226.1 371L1225.1 371L1224.1 371L1223.1 371L1222.1 371L1221.1 371L1220.1 371L1219.1 371L1218.1 371L1217.1 371L1216.1 371L1215.1 371L1214.1 371L1213.1 371L1212.1 371L1211.1 371L1210.1 371L1209.1 371L1208.1 371L1207.1 371L1206.1 371L1205.1 371L1204.1 371Z" fill="#1f77b4" fill-opacity=".35"/>
<path d="M1204.1 368.6L1205.1 368.6L1206.1 368.6L1207.1 368.6L1208.1 368.6L1209.1 368.6L1210.1 368.6L1211.1 368.6L1212.1 368.6L1213.1 368.6L1214.1 368.6L1215.1 368.6L1216.1 368.6L1217.1 368.6L1218.1 368.6L1219.1 368.6L1220.1 368.6L1221.1 368.6L1222.1 368.6L1223.1 368.6L1224.1 368.6L1225.1 368.6L1226.1 368.6L1227.1 368.6L1228.1 368.6L1229.1 368.6L1230.1 368.6L1231.1 368.6L1232.1 368.6L1233.1 368.6L1234.1 368.6L1235.1 368.6L1236.1 368.6L1237.1 368.6L1238.1 368.6L1239.1 368.6L1240.1 368.6L1241.1 368.6L1242.1 368.6L1243.1 368.6L1244.1 368.6L1245.1 368.6L1246.1 368.6L1247.1 368.6L1248.1 368.6L1249.1 368.6L1250.1 368.6L1251.1 368.6L1252.1 368.6L1253.1 368.6L1254.1 368.6L1255.1 368.6L1256.1 368.6L1257.1 368.6L1258.1 368.6L1259.1 368.6L1260.1 368.6L1261.1 368.6L1262.1 368.6L1263.1 368.6L1264.1 368.6L1265.1 368.6L1266.1 368.6L1267.1 368.6L1268.1 368.6L1269.1 368.6L1270.1 368.6L1271.1 368.6L1272.1 368.6L1273.1 368.6L1274.1 368.6L1275.1 368.6L1276.1 368.6L1277.1 368.6L1278.1 368.6L1279.1 368.6L1280.1 368.6L1281.1 368.6L1282.1 368.6L1283.1 368.6L1284.1 368.6L1285.1 368.6L1286.1 368.6L1287.1 368.6L1288.1 368.6L1289.1 368.6L1290.1 368.6L1291.1 368.6L1292.1 368.6L1293.1 368.6L1294.1 368.6L1295.1 368.6L1296.1 368.6L1297.1 368.6L1298.1 368.6L1299.1 368.6L1300.1 368.6L1301.1 368.6L1302.1 368.6L1303.1 368.6L1304.1 368.6L1305.1 368.6L1306.1 368.6L1307.1 368.6L1308.1 368.6L1309.1 368.6L1310.1 368.6L1311.1 368.6L1312.1 368.6L1313.1 368.6L1314.1 368.6L1315.1 368.6L1316.1 368.6L1317.1 368.6L1318.1 368.6L1319.1 368.6L1320.1 368.6L1321.1 368.6L1322.1 368.6L1323.1 368.6L1324.1 368.6L1325.1 368.6L1326.1 368.6L1327.1 368.6L1328.1 368.6L1329.1 368.6L1330.1 368.6L1331.1 368.6L1332.1 368.6L1333.1 368.6L1334.1 368.6L1335.1 368.6L1336.1 368.6L1337.1 368.6L1338.1 368.6L1339.1 368.6L1340.1 368.6L1341.1 368.6L1342.1 368.6L1343.1 368.6L1344.1 368.6L1345.1 368.6L1346.1 368.6L1347.1 368.6L1348.1 368.6L1349.1 368.6L1350.1 368.6L1351.1 368.6L1352.1 368.6L1353.1 368.6L1354.1 368.6L1355.1 368.6L1356.1 368.6L1357.1 368.6L1358.1 368.6L1359.1 368.6L1360.1 368.6L1361.1 368.6L1362.1 368.6L1363.1 368.6L1364.1 368.6L1365.1 368.6L1366.1 368.6L1367.1 368.6L1368.1 368.6L1369.1 368.6L1370.1 368.6L1371.1 368.6L1372.1 368.6L1373.1 368.6L1374.1 368.6L1375.1 368.6L1376.1 368.6L1377.1 368.6L1378.1 368.6L1379.1 368.6L1380.1 368.6L1381.1 368.6L1382.1 368.6L1383.1 368.6L1384.1 368.6L1385.1 368.6L1386.1 368.6L1387.1 368.6L1388.1 368.6L1389.1 368.6L1390.1 368.6L1391.1 368.6L1392.1 368.6L1393.1 368.6L1394.1 368.6L1395.1 368.6L1396.1 368.6L1397.1 368.6L1398.1 368.6L1399.1 368.6L1400.1 368.6L1401.1 368.6L1402.1 368.6L1403.1 368.6L1404.1 368.6L1405.1 368.6L1406.1 368.6L1407.1 368.6L1408.1 368.6L1409.1 368.6L1410.1 368.6L1411.1 368.6L1412.1 368.6L1413.1 368.6L1414.1 368.6L1415.1 368.6L1416.1 368.6L1417.1 368.6L1418.1 368.6L1419.1 368.6L1420.1 368.6L1421.1 368.6L1422.1 368.6L1423.1 368.6L1424.1 368.6L1425.1 368.6L1426.1 368.6L1427.1 368.6L1428.1 368.6L1429.1 368.6L1430.1 368.6L1431.1 368.6L1432.1 368.6L1433.1 368.6L1434.1 368.6L1435.1 368.6L1436.1 368.6L1437.1 368.6L1438.1 368.6L1439.1 368.6L1440.1 368.6L1441.1 368.6L1442.1 368.6L1443.1 368.6L1444.1 368.6L1445.1 368.6L1446.1 368.6L1447.1 368.6L1448.1 368.6L1449.1 368.8L1450.1 369.1L1451.1 369.5L1452.1 370L1453.1 370.6L1454.1 371.3L1455.1 372L1456.1 372.7L1457.1 373.5L1458.1 374.7L1459.1 376L1460.1 377.5L1461.1 379.2L1462.1 380.9L1463.1 382.7L1464.1 384.4L1465.1 386.1L1466.1 387.6L1467.1 389.2L1468.1 390.9L1469.1 392.6L1470.1 394.3L1471.1 395.8L1472.1 397.2L1473.1 398.2L1474.1 399.1L1475.1 399.8L1476.1 400.6L1477.1 401.2L1478.1 401.8L1479.1 402.4L1480.1 403L1481.1 403.4L1482.1 403.9L1483.1 404.3L1484.1 404.7L1485.1 405.1L1486.1 405.4L1487.1 405.8L1488.1 406.1L1489.1 406.4L1490.1 406.6L1491.1 406.9L1492.1 407.2L1493.1 407.4L1494.1 407.6L1495.1 407.9L1496.1 408.1L1497.1 408.3L1498.1 408.5L1499.1 408.7L1500.1 408.9L1501.1 409.1L1502.1 409.3L1503.1 409.5L1504.1 409.7L1505.1 409.9L1506.1 410.1L1507.1 410.3L1508.1 410.5L1509.1 410.7L1510.1 410.8L1511.1 411L1512.1 411.2L1513.1 411.4L1514.1 411.6L1515.1 411.7L1516.1 411.9L1517.1 412.1L1518.1 412.2L1519.1 412.4L1520.1 412.6L1521.1 412.7L1522.1 412.9L1523.1 413L1524.1 413.1L1525.1 413.3L1526.1 413.4L1527.1 413.5L1528.1 413.7L1529.1 413.8L1530.1 413.9L1531.1 414L1532.1 414.2L1533.1 414.3L1534.1 414.4L1535.1 414.5L1536.1 414.6L1537.1 414.7L1538.1 414.8L1539.1 414.9L1540.1 415L1541.1 415.1L1542.1 415.2L1543.1 415.3L1544.1 415.4L1545.1 415.5L1546.1 415.6L1547.1 415.7L1548.1 415.8L1549.1 415.9L1550.1 416L1551.1 416L1552.1 416.1L1553.1 416.2L1554.1 416.3L1555.1 416.4L1556.1 416.4L1557.1 416.5L1558.1 416.6L1559.1 416.7L1560.1 416.8L1561.1 416.8L1562.1 416.9L1563.1 417L1564.1 417.1L1565.1 417.1L1566.1 417.2L1567.1 417.3L1568.1 417.3L1569.1 417.4L1570.1 417.5L1571.1 417.6L1572.1 417.6L1573.1 417.7L1574.1 417.7L1575.1 417.8L1576.1 417.9L1577.1 417.9L1578.1 418L1579.1 418.1L1580.1 418.1L1581.1 418.2L1582.1 418.2L1583.1 418.3L1584.1 418.3L1585.1 418.4L1586.1 418.4L1587.1 418.5L1588.1 418.6L1589.1 418.6L1590.1 418.7L1591.1 418.7L1592.1 418.8L1593.1 418.8L1594.1 418.9L1595.1 418.9L1596.1 419L1597.1 419L1598.1 419.1L1599.1 419.1L1600.1 419.1L1601.1 419.2L1602.1 419.2L1603.1 419.3L1604.1 419.3L1605.1 419.4L1606.1 419.4L1607.1 419.5L1608.1 419.5L1609.1 419.5L1610.1 419.6L1611.1 419.6L1612.1 419.6L1613.1 419.7L1614.1 419.7L1615.1 419.7L1616.1 419.8L1617.1 419.8L1618.1 419.8L1619.1 419.9L1620.1 419.9L1621.1 419.9L1622.1 419.9L1623.1 420L1624.1 420L1625.1 420L1626.1 420.1L1627.1 420.1L1628.1 420.1L1629.1 420.1L1630.1 420.2L1631.1 420.2L1632.1 420.2L1633.1 420.2L1634.1 420.3L1635.1 420.3L1636.1 420.3L1637.1 420.3L1638.1 420.4L1639.1 420.4L1640.1 420.4L1641.1 420.4L1642.1 420.4L1643.1 420.5L1644.1 420.5L1645.1 420.5L1646.1 420.5L1647.1 420.5L1648.1 420.5L1649.1 420.6L1650.1 420.6L1651.1 420.6L1652.1 420.6L1653.1 420.6L1654.1 420.6L1655.1 420.6L1656.1 420.6L1657.1 420.6L1658.1 420.6L1659.1 420.6L1660.1 420.6L1661.1 420.6L1662.1 420.6L1663.1 420.6L1664.1 420.6L1665.1 420.6L1666.1 420.6L1667.1 420.6L1668.1 420.6L1669.1 420.6L1670.1 420.6L1671.1 420.5L1672.1 420.5L1673.1 420.5L1674.1 420.5L1675.1 420.5L1676.1 420.5L1677.1 420.5L1678.1 420.4L1679.1 420.4L1680.1 420.4L1681.1 420.4L1682.1 420.4L1683.1 420.3L1684.1 420.3L1685.1 420.3L1686.1 420.3L1687.1 420.3L1688.1 420.2L1689.1 420.2L1690.1 420.2L1691.1 420.2L1692.1 420.1L1693.1 420.1L1694.1 420.1L1695.1 420.1L1696.1 420.1L1697.1 420L1698.1 420L1699.1 420L1700.1 420L1701.1 419.9L1702.1 419.9L1703.1 419.9L1704.1 419.9L1705.1 419.8L1706.1 419.8L1707.1 419.8L1708.1 419.7L1709.1 419.7L1710.1 419.7L1711.1 419.6L1712.1 419.6L1713.1 419.6L1714.1 419.5L1715.1 419.5L1716.1 419.4L1717.1 419.4L1718.1 419.4L1719.1 419.3L1720.1 419.3L1721.1 419.2L1722.1 419.2L1723.1 419.1L1724.1 419.1L1725.1 419L1726.1 419L1727.1 418.9L1728.1 418.9L1729.1 418.8L1730.1 418.8L1731.1 418.7L1732.1 418.7L1733.1 418.6L1734.1 418.6L1735.1 418.5L1736.1 418.5L1737.1 418.4L1738.1 418.4L1739.1 418.3L1740.1 418.3L1741.1 418.2L1742.1 418.1L1743.1 418.1L1744.1 418L1745.1 418L1746.1 417.9L1747.1 417.8L1748.1 417.8L1749.1 417.7L1750.1 417.7L1751.1 417.6L1752.1 417.5L1753.1 417.5L1754.1 417.4L1755.1 417.3L1756.1 417.2L1757.1 417.2L1758.1 417.1L1759.1 417L1760.1 417L1761.1 416.9L1762.1 416.8L1763.1 416.7L1764.1 416.6L1765.1 416.6L1766.1 416.5L1767.1 416.4L1768.1 416.3L1769.1 416.2L1770.1 416.2L1771.1 416.1L1772.1 416L1773.1 415.9L1774.1 415.8L1775.1 415.7L1776.1 415.6L1777.1 415.6L1778.1 415.5L1779.1 415.4L1780.1 415.3L1781.1 415.2L1782.1 415.1L1783.1 415L1784.1 414.9L1785.1 414.8L1786.1 414.7L1787.1 414.5L1788.1 414.4L1789.1 414.3L1790.1 414.2L1791.1 414.1L1792.1 414L1793.1 413.9L1794.1 413.7L1795.1 413.6L1796.1 413.5L1797.1 413.4L1798.1 413.2L1799.1 413.1L1800.1 412.9L1801.1 412.8L1802.1 412.7L1803.1 412.5L1804.1 412.4L1805.1 412.2L1806.1 412L1807.1 411.9L1808.1 411.7L1809.1 411.5L1810.1 411.4L1811.1 411.2L1812.1 411L1813.1 410.8L1814.1 410.6L1815.1 410.4L1816.1 410.2L1817.1 410L1818.1 409.8L1819.1 409.6L1820.1 409.4L1821.1 409.2L1822.1 409L1823.1 408.7L1824.1 408.5L1825.1 408.3L1826.1 408L1827.1 407.8L1828.1 407.5L1829.1 407.2L1830.1 406.9L1831.1 406.6L1832.1 406.3L1833.1 405.9L1834.1 405.5L1835.1 405.1L1836.1 404.6L1837.1 404L1838.1 403.4L1839.1 402.7L1840.1 401.9L1841.1 401L1842.1 400.1L1843.1 399.1L1844.1 398L1845.1 396.7L1846.1 395.1L1847.1 393.5L1848.1 391.7L1849.1 390L1850.1 388.3L1851.1 386.7L1852.1 385L1853.1 383.3L1854.1 381.6L1855.1 379.9L1856.1 378.4L1857.1 377L1858.1 375.8L1859.1 374.7L1860.1 373.7L1861.1 372.8L1862.1 372L1863.1 371.2L1864.1 370.6L1865.1 370.2L1866.1 369.8L1867.1 369.4L1868.1 369.1L1869.1 368.8L1870.1 368.6L1871.1 368.6L1872.1 368.6L1873.1 368.6L1874.1 368.6L1875.1 368.6L1876.1 368.6L1877.1 368.6L1878.1 368.6L1879.1 368.6L1880.1 368.6L1881.1 368.6L1882.1 368.6L1883.1 368.6L1884.1 368.6L1885.1 368.6L1886.1 368.6L1887.1 368.6L1888.1 368.6L1889.1 368.6L1890.1 368.6L1891.1 368.6L1892.1 368.6L1893.1 368.6L1894.1 368.6L1895.1 368.6L1896.1 368.6L1897.1 368.6L1898.1 368.6L1899.1 368.6L1900.1 368.6L1901.1 368.6L1902.1 368.6L1903.1 368.6L1904.1 368.6L1905.1 368.6L1906.1 368.6L1907.1 368.6L1908.1 368.6L1909.1 368.6L1910.1 368.6L1911.1 368.6L1912.1 368.6L1913.1 368.6L1914.1 368.6L1915.1 368.6L1916.1 368.6L1917.1 368.6L1918.1 368.6L1919.1 368.6L1920.1 368.6L1921.1 368.6L1922.1 368.6L1923.1 368.6L1924.1 368.6L1925.1 368.6L1926.1 368.6L1927.1 368.6L1928.1 368.6L1929.1 368.6L1930.1 368.6L1931.1 368.6L1932.1 368.6L1933.1 368.6L1934.1 368.6L1935.1 368.6L1936.1 368.6L1937.1 368.6L1938.1 368.6L1939.1 368.6L1940.1 368.6L1941.1 368.6L1942.1 368.6L1943.1 368.6L1944.1 368.6L1945.1 368.6L1946.1 368.6L1947.1 368.6L1948.1 368.6L1949.1 368.6L1950.1 368.6L1951.1 368.6L1952.1 368.6L1953.1 368.6L1954.1 368.6L1955.1 368.6L1956.1 368.6L1957.1 368.6L1958.1 368.6L1959.1 368.6L1960.1 368.6L1961.1 368.6L1962.1 368.6L1963.1 368.6L1964.1 368.6L1965.1 368.6L1966.1 368.6L1967.1 368.6L1968.1 368.6L1969.1 368.6L1970.1 368.6L1971.1 368.6L1972.1 368.6L1973.1 368.6L1974.1 368.6L1975.1 368.6L1976.1 368.6L1977.1 368.6L1978.1 368.6L1979.1 368.6L1980.1 368.6L1981.1 368.6L1982.1 368.6L1983.1 368.6L1984.1 368.6L1985.1 368.6L1986.1 368.6L1987.1 368.6L1988.1 368.6L1989.1 368.6L1990.1 368.6L1991.1 368.6L1992.1 368.6L1993.1 368.6L1994.1 368.6L1995.1 368.6L1996.1 368.6L1997.1 368.6L1998.1 368.6L1999.1 368.6L2000.1 368.6L2001.1 368.6L2002.1 368.6L2003.1 368.6L2004.1 368.6L2005.1 368.6L2006.1 368.6L2007.1 368.6L2008.1 368.6L2009.1 368.6L2010.1 368.6L2011.1 368.6L2012.1 368.6L2013.1 368.6L2014.1 368.6L2015.1 368.6L2016.1 368.6L2017.1 368.6L2018.1 368.6L2019.1 368.6L2020.1 368.6L2021.1 368.6L2022.1 368.6L2023.1 368.6L2024.1 368.6L2025.1 368.6L2026.1 368.6L2027.1 368.6L2028.1 368.6L2029.1 368.6L2030.1 368.6L2031.1 368.6L2032.1 368.6L2033.1 368.6L2034.1 368.6L2035.1 368.6L2036.1 368.6L2037.1 368.6L2038.1 368.6L2039.1 368.6L2040.1 368.6L2041.1 368.6L2042.1 368.6L2043.1 368.6L2044.1 368.6L2045.1 368.6L2046.1 368.6L2047.1 368.6L2048.1 368.6L2049.1 368.6L2050.1 368.6L2051.1 368.6L2052.1 368.6L2053.1 368.6L2054.1 368.6L2055.1 368.6L2056.1 368.6L2057.1 368.6L2058.1 368.6L2059.1 368.6L2060.1 368.6L2061.1 368.6L2062.1 368.6L2063.1 368.6L2064.1 368.6L2065.1 368.6L2066.1 368.6L2067.1 368.6L2068.1 368.6L2069.1 368.6L2070.1 368.6L2071.1 368.6L2072.1 368.6L2073.1 368.6L2074.1 368.6L2075.1 368.6L2076.1 368.6L2077.1 368.6L2078.1 368.6L2079.1 368.6L2080.1 368.6L2081.1 368.6L2082.1 368.6L2083.1 368.6L2084.1 368.6L2085.1 368.6L2086.1 368.6L2087.1 368.6L2088.1 368.6L2089.1 368.6L2090.1 368.6L2091.1 368.6L2092.1 368.6L2093.1 368.6L2094.1 368.6L2095.1 368.6L2096.1 368.6L2097.1 368.6L2098.1 368.6L2099.1 368.6L2100.1 368.6L2101.1 368.6L2102.1 368.6L2103.1 368.6L2104.1 368.6L2105.1 368.6L2106.1 368.6L2107.1 368.6L2108.1 368.6L2109.1 368.6L2110.1 368.6" fill="none" stroke="#1f77b4" stroke-width="2.6" stroke-linejoin="round"/>
</g>
<path d="M1224.3 367.9v14M1254.5 354.3v14M1284.7 360.1v14M1314.9 361.9v14M1345.1 365.9v14M1375.3 354.7v14M1405.6 367.5v14M1435.8 368.2v14M1466 378v14M1496.2 391.9v14M1526.4 404.8v14M1556.6 406v14M1586.8 406.5v14M1617 415.8v14M1647.2 409v14M1677.5 409v14M1707.7 412.4v14M1737.9 409v14M1768.1 409.2v14M1798.3 393.1v14M1828.5 404.1v14M1858.7 368.4v14M1888.9 368.4v14M1919.1 360.9v14M1949.3 367.9v14M1979.5 360.1v14M2009.8 358.3v14M2040 370.8v14M2070.2 349.2v14M2100.4 374.9v14" stroke="#000" stroke-width="3.4" fill="none"/>
<g fill="#000"><circle cx="1224.3" cy="374.9" r="5.3"/><circle cx="1254.5" cy="361.3" r="5.3"/><circle cx="1284.7" cy="367.1" r="5.3"/><circle cx="1314.9" cy="368.9" r="5.3"/><circle cx="1345.1" cy="372.9" r="5.3"/><circle cx="1375.3" cy="361.7" r="5.3"/><circle cx="1405.6" cy="374.5" r="5.3"/><circle cx="1435.8" cy="375.2" r="5.3"/><circle cx="1466" cy="385" r="5.3"/><circle cx="1496.2" cy="398.9" r="5.3"/><circle cx="1526.4" cy="411.8" r="5.3"/><circle cx="1556.6" cy="413" r="5.3"/><circle cx="1586.8" cy="413.5" r="5.3"/><circle cx="1617" cy="422.8" r="5.3"/><circle cx="1647.2" cy="416" r="5.3"/><circle cx="1677.5" cy="416" r="5.3"/><circle cx="1707.7" cy="419.4" r="5.3"/><circle cx="1737.9" cy="416" r="5.3"/><circle cx="1768.1" cy="416.2" r="5.3"/><circle cx="1798.3" cy="400.1" r="5.3"/><circle cx="1828.5" cy="411.1" r="5.3"/><circle cx="1858.7" cy="375.4" r="5.3"/><circle cx="1888.9" cy="375.4" r="5.3"/><circle cx="1919.1" cy="367.9" r="5.3"/><circle cx="1949.3" cy="374.9" r="5.3"/><circle cx="1979.5" cy="367.1" r="5.3"/><circle cx="2009.8" cy="365.3" r="5.3"/><circle cx="2040" cy="377.8" r="5.3"/><circle cx="2070.2" cy="356.2" r="5.3"/><circle cx="2100.4" cy="381.9" r="5.3"/></g>
<path d="M1204.1 721.1v-9.7M1204.1 25.1v9.7M1317.4 721.1v-9.7M1317.4 25.1v9.7M1430.7 721.1v-9.7M1430.7 25.1v9.7M1544 721.1v-9.7M1544 25.1v9.7M1657.2 721.1v-9.7M1657.2 25.1v9.7M1770.5 721.1v-9.7M1770.5 25.1v9.7M1883.8 721.1v-9.7M1883.8 25.1v9.7M1997.1 721.1v-9.7M1997.1 25.1v9.7M2110.4 721.1v-9.7M2110.4 25.1v9.7M1226.8 721.1v-5.7M1226.8 25.1v5.7M1249.4 721.1v-5.7M1249.4 25.1v5.7M1272.1 721.1v-5.7M1272.1 25.1v5.7M1294.7 721.1v-5.7M1294.7 25.1v5.7M1340 721.1v-5.7M1340 25.1v5.7M1362.7 721.1v-5.7M1362.7 25.1v5.7M1385.4 721.1v-5.7M1385.4 25.1v5.7M1408 721.1v-5.7M1408 25.1v5.7M1453.3 721.1v-5.7M1453.3 25.1v5.7M1476 721.1v-5.7M1476 25.1v5.7M1498.6 721.1v-5.7M1498.6 25.1v5.7M1521.3 721.1v-5.7M1521.3 25.1v5.7M1566.6 721.1v-5.7M1566.6 25.1v5.7M1589.3 721.1v-5.7M1589.3 25.1v5.7M1611.9 721.1v-5.7M1611.9 25.1v5.7M1634.6 721.1v-5.7M1634.6 25.1v5.7M1679.9 721.1v-5.7M1679.9 25.1v5.7M1702.6 721.1v-5.7M1702.6 25.1v5.7M1725.2 721.1v-5.7M1725.2 25.1v5.7M1747.9 721.1v-5.7M1747.9 25.1v5.7M1793.2 721.1v-5.7M1793.2 25.1v5.7M1815.9 721.1v-5.7M1815.9 25.1v5.7M1838.5 721.1v-5.7M1838.5 25.1v5.7M1861.2 721.1v-5.7M1861.2 25.1v5.7M1906.5 721.1v-5.7M1906.5 25.1v5.7M1929.1 721.1v-5.7M1929.1 25.1v5.7M1951.8 721.1v-5.7M1951.8 25.1v5.7M1974.5 721.1v-5.7M1974.5 25.1v5.7M2019.8 721.1v-5.7M2019.8 25.1v5.7M2042.4 721.1v-5.7M2042.4 25.1v5.7M2065.1 721.1v-5.7M2065.1 25.1v5.7M2087.7 721.1v-5.7M2087.7 25.1v5.7M1204.1 651.5h9.7M2110.4 651.5h-9.7M1204.1 512.3h9.7M2110.4 512.3h-9.7M1204.1 373.1h9.7M2110.4 373.1h-9.7M1204.1 233.9h9.7M2110.4 233.9h-9.7M1204.1 94.7h9.7M2110.4 94.7h-9.7M1204.1 707.2h5.7M2110.4 707.2h-5.7M1204.1 679.3h5.7M2110.4 679.3h-5.7M1204.1 623.7h5.7M2110.4 623.7h-5.7M1204.1 595.8h5.7M2110.4 595.8h-5.7M1204.1 568h5.7M2110.4 568h-5.7M1204.1 540.1h5.7M2110.4 540.1h-5.7M1204.1 484.5h5.7M2110.4 484.5h-5.7M1204.1 456.6h5.7M2110.4 456.6h-5.7M1204.1 428.8h5.7M2110.4 428.8h-5.7M1204.1 400.9h5.7M2110.4 400.9h-5.7M1204.1 345.3h5.7M2110.4 345.3h-5.7M1204.1 317.4h5.7M2110.4 317.4h-5.7M1204.1 289.6h5.7M2110.4 289.6h-5.7M1204.1 261.7h5.7M2110.4 261.7h-5.7M1204.1 206.1h5.7M2110.4 206.1h-5.7M1204.1 178.2h5.7M2110.4 178.2h-5.7M1204.1 150.4h5.7M2110.4 150.4h-5.7M1204.1 122.5h5.7M2110.4 122.5h-5.7M1204.1 66.9h5.7M2110.4 66.9h-5.7M1204.1 39h5.7M2110.4 39h-5.7" stroke="#000" stroke-width="1.3" fill="none"/>
<rect x="1204.1" y="25.1" width="906.3" height="696" fill="none" stroke="#000" stroke-width="1.6"/>
<text x="1196.8" y="660.8" font-size="25.6" text-anchor="end">0.98</text>
<text x="1196.8" y="521.6" font-size="25.6" text-anchor="end">0.99</text>
<text x="1196.8" y="382.4" font-size="25.6" text-anchor="end">1.00</text>
<text x="1196.8" y="243.2" font-size="25.6" text-anchor="end">1.01</text>
<text x="1196.8" y="104" font-size="25.6" text-anchor="end">1.02</text>
<text x="1127.3" y="372.1" font-size="25.9" text-anchor="middle" transform="rotate(-90 1127.3 372.1)">Relative flux</text>
<g clip-path="url(#c4)">
<rect x="1204.1" y="751.4" width="906.3" height="231.6" fill="#c2c2c2"/>
<path transform="scale(.5)" fill="none" stroke="none" marker-start="url(#mo)" marker-mid="url(#mo)" marker-end="url(#mo)" d="M3780 1582l-1150 194 1148-37-1054-151 291 61-4 26 102 187-545 51 475-287-30 190 161-105 36-12 10 82 668 64-109-307-778 179 1108-119-43 229-1103 80-134-130 346 78 719-97-1114-11 1018-31-198-113 217 317-497-186 35-31-357-62-471 296 705-160-299 59 692-99 231 219 250-387-697 317-985-205 339-125 967-34-332-17 234 41 416 278-282-164-343 219-833-86-109-280 139 68 1246 220-251-128-650 203 1106-385-1531 133 80 101-82-82 108 218-125-99 845 154 553-117-896-15-365-32 1316 13-614 112-422 42 1191-421-1429 251 1230-211-1234 214 1149 13 236-66-575-176 389 245-1434 125 700 57 416 19-989-82 1321-390-404 288-65-121-792-79 1115-72-851 15 665 133 288 92-1135-94 1326 62-1586 64 833-249 246 60 527 152-1103 66 429-227-553 74 798 105 190 103-263-162-887-84-228 192 505-224 1124 201-1477 12-28-82 1383-170-106 72-1156 250 449 105-252-481-127 348 1265-42-436 63-543 58-639-5 1786-75-1604 54 890-18-971-207 125 225 1043-303 446 16-441 63-962 175 320 13 626-270-587 254-362-202 1410-88-91 171-1634-22 385-127 1407 3-474 190-339-95-577-12 49 75-188 172 227-234 784 260 327-267-1458 34 1545 68-1662-267 309 45-74 310 171-286 373 179-179 199-95-179-34 136-322-367 274 182 642 11 12-101 273 127-1070-76 84-139 246 33-336 165 33 216 785-145 305 34-603-254 125 125-415-169 532 4-653 192 360-35 474 251-900-235 1295-119-178 23-381 84 259 250-1182-140 1412-258-441-56 217 339-946-114 1062 121-1301-85 190 85 105 23 919-100-434-169-254-23-405 82 50 54 1000-163-1252 368 1692 17-700-183-517-138 492 252-825-357 960 362-862 52-292-294 1445-117-338 272 371-120-1190-137 1119 403-202 3-1132-27-104-132 1451 149-306-211-899 156 873 22 102 29-714-7 716-215-1085 114 879-134-116 192 547 7-23-377-341 44-55 252-400 65 1041-125-672 83-224-165-241 254 731-47 156-141-449 107-702-77 1363-202-205 287-256 85-1054-201-7-81-45 229 1504-210-707 200-222-100-323 53 203-49 68 26 556-128 233 104-128-162-259 364-602-344 420-17-694 264 309-170 806 53-455-106-96 145 333-139-31-69-428 151 599 171 254-323 130 253-132 15-498-138-374-172 590 53 325 102-766 118 206-80-868 30 1193 68-733 81-146-302 202 133 874 47-738 122-89-251 873 134-147-72-1017 55 1338 63-586 46-18 53-459-20 944 28 254-259-835-23 483 114-1217 105 141-158 1092-147-403 195-340-245 249 301-476-318 711 102 331 137-1436-241 1302 310-835 49 836 48-125-220-539-114 177 143-438 39 770 79 328-43-1101 15 373-287 272 420-274-150 369-50-730-174 726 261-1014 125 409-5-461-6 914-111 377-228-1139 126 1526-178-1475 233 199-80-456 135 130-80 743-169-504-21 729 199 34 131-80-171-837-157 447 271 963-346-604 58 166 115 516 200-443-387-796 457 422-78 505-219-1045-120 85 315 609 54-778-315 879-106-72 347-314-294-679 206 1323-33-950 220-373-109 304 118 1032-321-1288 207 1580 2-1209 35 14-378-244 144 87 97-99 158 514-163-103-107 300-76 769 106-608 135-679-210-354 196 1188 101-990-155 783 54-302-253 136 48-218 96 1027 115-1736-88 1689 80-1357-153 1353 289-1372-358 468 119 807 27-906 128 737 112-1213 20 1156-221-739-36 387 56-751-80 944 263-1206-215 152-124 177 52 1093 129-1449-48 1000 209 472 7-1035-229 1286-133-161 81-1205 9 424-21 859 246-1083-160 1076 69-1230-58 735 66-486 32 461 91-715-140 404-150-740 13 721 83 870-240-114 222 30 25-1422 209 493 16 291-3 52-299-454 0 945-43-1184 9 178 53 877 228-378-343-829 346 664-67-698 97 1315-372 90 183-16 144-1249-178 69-228 792 127 653 58-1405 147 1154-272-680 297 890 70-464-200 384-78-795 291 26 10-320-395-384 51 865 115 640 33-1142 167-32-72 37-62 291-92-750-79 1297 242 132 87-1125-169 1284-96-490 201-6 92-892-64 706-239 140 175 533-346-1441 136 579 286 363-139 275 162-916-279 1040 123-412 58-1108-144 226 3 373-122 627 170 440 165-1506-416 292 386 897 58 268-241-677 3 632-11-164 249-496-448 181 260 362 134-396-143 645-26-925 138 494-36 403-198 61 14 33 136-553 81 93-49-737-238-488 180 266 223 625-460-654 339-329 84 146-331 1595 167-1696 135 1650 49 61-229-1262 8 475-34 595-67-1558 336 296-212 340 71 468-149 220 237-822 42 448-377-191 237-154-301 1119-30-1028 424-46-136-390 6 1482-276-1373 36 1028 344-553-265-270 77-14 126-368-146 419 11-121 210 957-122-155 162-1096-154 1074-172-989-33-266 394 941-368-797 181 937 76-1075-130 1402 93 268 122-838-195 425-88-1041 278 603-175-816-187 970 306-18-291-466 128 968 99-1258-255 1449 344-1129-256 215 167 99-233 282-91-51 134 573 311-227-208 267 125-812-314 251 231-315 68-218-132-30-120 73-14 585 290-254-66 412-60-1113-99 1418 30-451 219 54 55-1024-55 535-174-26-142 964 74-1764-51 484 172-468 149 1216-136 247-62-400 62-826-58 64 117 268 72 568-191-28-141 552 250-1365 43 889-11-831-228 1369 267-1741-328 1031 0 549 88-648-66 337 176 433-280-1005 212-387 138 498-354 569 270-40 140-1196-349-138 323-14-309 137 135 1339 215 46-363-924 217 823-160-998 111 1310-15-338 127-980-59 876-171-459 49 163 269 367-140-951 66 794-280-422 201 33 97-647-175 412-42-355 59 122 4-179 43 1030-138 210 281-1391-181 766-5 738 4-1378 34 1077-78-650 14 401 207-662-80 1302-171-649 135 59-132 637-51-1636 115 1356-21-519-33 475 85 257-46-626 29-770 112-111-252 1354 356-850-82-485-87 8 173 1676-420-271 198 150 120-1129-212 497 99-270-31 393-95-953 226 1344-264-352 168-707-203-157 291 153-268 1299 123-17-166-727 142 345 17-1228 192 287-133 902 28-44-143-557 336 541-33-651-10-526-324 314 142-373-147 257 36 541 212-371-106 1137 177-414-301-227 362-734-334 823 194 341-55 250 84-817-1 690-22-189-18 81-93 151 162-1204-297 829 74 5-41-697-75 124 59 180 199-290-18-319-229 981 297 165-259-606 218 83-211-680-68 186 196 163-205 1243-24-289 10-45 391-1392-105 181 154-152-1 1280-357-76-16-1131 287 1446 25-591-176-469 9-444-127 1503 289-446 67-630-39 991-176-1379-12 994-48-1003 215 1052-150 337 167-282-370 296 95 196-25-1316 21 824 299 380-188-1458 80 852-228 726 52-685 95-178 106 894-105-1277-91 302 73 807-21-472-35 423 124-884 45 927-323-772 313 610-12-280 72-340-125-248-182 1259-60-1070 262-317 60-82-100 447-119 952 357-793-443-586 433 737-41-253-136 78 158 45-221-88-99-574 42-41 215 694-326 312 277 535-161-992 137 439 146-204-354-464 336 543-196-422 2-40-132 637 42-117 79-867 109-179-195 521 173 1021-114-425-87-1187 11 1459-83-1021 418-6-146-7 77 94 45 14-276 139 270-545 13 1392-424-1167 116 130 276 963-264 238-28 44 295-1361-223 422-69 940 174-1467-292-228 253 1566-5-1563-188 1587 77 70 228-482-147 194-110-925 204 771 164-1261-287 95 158-116-91 1525 3-330 115 122-206-1187 21 413-141 54 145-221 269 713-220-566-31 684 6-297-175-912 98 287 124 588-63 907 163-1464-259 975 121-852 190 564-6 544-262-1353 276 366-152 411-8-229 152-326-109 679-185-905 282 904-166-716 139 483-203-573-7 664-66 491 94-949-120-12 313 157-49 693 34-922-199-383 18-6 93 927-263 213 428-344-200-110 2-691-143 610 132 106 236 425-424-568-56 898 226 112 35-305 36-180-39-862 14 811-278-402 142-489 65 1412 28-363-138-1070 187 23-184-82-31 791 58 57 7-43-1-492 12 679 180 295-122-518 157 505 42-294-84 525-86-839 222-195-220 846-39-714-36 766-62 309 30-1093 40-439-3 36 302 329-410 21 185-466-80 428 0 123 107 739-34-492-151 15 53 568 278-1454-264 834-114 454 367-803-323 314 17 467 44 146 90 47 220 54-185-117 220 178-309-442-98-61 153 230-100-719 322 181-193 105 84-526-210 827-52 89 376-880-121 217-5 824 11-530-260-686 306-272 6 614-179 913-45-1241 222 346-122 1097-6-824-33 852-167-136 150-155-148-827 189 92 125-160-135 327 111 394 77-198-302 313-120-1243 123-117 190 267-274-245 88 279 63-74 56 800 66-1022 121 1511-207-1544 12 582-105 1115-104-628 154 505 141-437-251-921 118 1314-71-494 95 83-164-145 44 156-89 36 266-646-43 663 74 300-35-550 2 58 141 94-93 121 113-40-59-935-254-54-4 899 270 231-299-541 287 467-144-628-183-15 142-309 97 1312-256 117 223-664-69 401 246-1235-322-85 186 31-130 1019 118-411-35 703 57 193-25-1242-35-106-17-104 179 473 3-115-133 1070-144-1666 156 1609 141-1315-415 1156 73-302 71-1018-39-90 274 1681-249-1012 34 609 91-856 54 505 36-863-288 507 56 1100 239-48-174-1241 39 1106 8-553 22-936 158 457-149 426-132-85 130 752 97-1002-148-491 20 859 9-670 62 1420 74-1474 17 971-298-160 222 480-13-674-235-77 263-597-262 1008 175-986 46 1400 55-326-8-281-178-675 114-83-173 1467 198-102 134-931-198-407 93 901-124-735-155 700 277-929 17 791-200-83 135-135-108-183-106-91 107 916 33-1168 34 1542-48-927 233-716-403 1069-4 331 39 127 218-1276 179 199-290 1145-22-1276 53 239-17 10-8 13 126-316-209 410 18-66 303-169-31 59-31-149-46-134 71 1075-338-242-25 516 275-1345 81 1032 24-919-400 559 87 593 117 126 222-1222-307 809-111-311 313-550-59 478-95 812 99-529-27 327-205-1046 298 1222-151-1270 299 897-331-1165-7 1483-21-651 159 13 196-734-349 229 312 915-323-1 98-211 148 405-93-1285-98-152 236 1438-173-777 74 263-77 17-13 482 205-1422-120-200 149 1778-261-409 125 238 98-1390-375 1525 363-1291-101 13-6 547-132-494 77-204-28 362-81 709-64-514 118-580 254 1053-307 114 29-1466 116 557 160 971-290-1246 93 882-104-687 214-106 45 254-263 256-72-701 107-15 219 335-121 1196 173-1175-45 520 31-403-294-384-94 225 67 1280 294-1358-221 796 150 367-41 58-177-1180 303-106-214 835-201-86 408 651-325-1252 15 29-88 873 310 381 82-481 16-1116-217 945-16-3 248-1048-346 1287 328 79-94 207-165-888 153 296 35 305 8 391-43-1689-101 1611 111-960-92 307 43-277 18-371-42-232-210 1241 378-1064-130 251-3 368-90 423-49-630 142-231-121-409-68 1648 148-1118-95 447 104 78 36-186 42-281-86-292 130-167-141 722-86-457-77 790 403 126-400-1325 222 132-229 909-65 72 157-305 320 585-33-452-303-654 56 1235 196-421 48 64-7-1137-255 684 3 88-104 548 102-474-97-666 222 286-157 299 55 671 217-879-309 275 364 313-461-555 196-302 164 1400-23-1035-45 557 68-331-32-855 20 1339-174 269-146-290 170-665-1 555 24-1104-46 424 56-120 169 876-267-141-18-322 40-397 36 1161 69-283-103-88-73-336 31 469-36-94 254-723-345 733 180-1254 237-134-157 584-78 142 227 958-263-369 255-378-265-20-11 33 175-139-8 23 69 632 44-951 75 851-175-245-162 513 114-1556-255 940 186 755 76 23-39-1280 56 177-128 888 243 100-107-500-165-227-61-933-66 225 262 632-57-468 182-148-25-75 61 1582-167-313 153-245-62-1180-238 1675 75-583 53-776-71 1006 162-824-163-418 205 344-212 30 142-82-213-175 285-48-181 531-112 93 226-376-246 807-52-400 294-46 37 700-173 47-42-1447 269 836-3-240-15 9-280 764-2-1141 223 481-110 468-181-768 380 385-389-746 230 1013-136 235 159-106 95-901-292 1340 106-152 100-1500-237 262 219 633-159-33 301-837-237 1658 155-126-47-1294 130 698-320-764-30-96 136-49 10 1582-36-1661 180 1072 141 279-16-531-58-747-84 493 82 718-221-653-24-274 203 76 53 969-336-966 337 478-103-529 149-372-303 234 81 730-173 6 276-219-187 645-29-1413 157 670-26-560 125 632-183 923-95-750 226-718 50 825-117 603 33 105 135-1031-168-696-216 268 382 1344-143-1294-100-356 203-9 65 28-115 147 107 309-26 426-107-482 117 37-201-298 125 350 89 149-35-124-343-343 307 1448-263-1397 260 406-258 317-49-822 206 1283 116 101-83-168 140-236-11-795-227 1292-124-1514 107 1109 166-270-181 285 31-862 3 355 211-381-274 730 143 628-188-1676 137 1043 119-434-164 645 43-42-124 288 209-665 8-457-37 471-37 885 76-995 21-626 75 756-233 464 244-1327-420 544 459 194-204-691 112 1247-32-1086 1 3-6-162 39 1055-320-91 55-517 343 1056-72-27-136-438 25 501-68-1202 23-74 57 1121 98-213-287 316 242-1522 62 350-284 957-97 32 21 335 2-258 433-723-369 436 216-438-82 763-155-647-61 143 79 609 105-1077 249 133-87 809-140-979-211 654 372 17-300-1063 312-27-40-70-90 927-223 593 166-171 19-104 26 70-114-1318-123 1401 187-249-155-1145 193 584-123 434 224-981-300 1369 21-1294 81 1346 29-1106-22 1244 119-1432 87 52-310 752 185 107 9-239-58-143 31-24 211 543-193 160-237-1058 299-136-32 1540-43-315-90-309-3-1091 103 161-136 530 9-348 138 789 178 288-242-680-54 194 262-381-34 184-365 947 269-528-60-538 146 1129-89-618-32-343 75-85-93 697 98-903-293-183 337-41-28 1108-71-378 131-578-198 994 270 37-59 311 18-1203-149-427-233-11 197 46 28 1132-22-1089 63 272-255 1168-32-1354 384 899-35-257-225-596 222 640-177 680 105-624-228 155 306 220-84-1233-113-12 184 19-6 1234-189-1191 310 335-125 1083 27-58-39-1173-230 1122 210-1550 78 1760-388-1715 107 260 230 787-58 303-112-552 289-248-13-157-447 586 33-438 26-296 410 577-270-236 180 116-196 557 207-1303-78 270-129 246-46 11 140 0 101 775-213-535-132 264 303-904-175 1434-57-500 344 369-249-620-111 432 100-614 133 288-267-550 287-345-85 986 118 607 61-498-210-73 41 605-52-1338 199 1007-7 350-28 7-360 0 451-1542-33 1022-296 90-33-1033 66 723 89 747 168-1423-18-152 24 928-183-1031-54 241-101 866 47 52-50 61-68-1160 267 1471-283-176 343-308-78 91-186-996 258 529-108 598-57-701 56-123 99-81 18 32-121 1029-141-796 121-47 67 459-19-596-239 198 217-69 92 639-194-689 224 522-52-465-60-20-169-272 218 283-256-187 107 1158 289-310-386 225-29-339 224 590 103-167-67-1443 128 1098 55 399-323-937 243 1107-203-733 138-183-69-702-9 1038-106-813 322 480-156 301-124 179-105-1242-73 1649 336-372 6-222-238-862 198 1435-98-1364 163 1342 28-703 31-264-253 47 57-504 15 853-159-1126 35 1197 329-563-47-136-268 605-99-1066 183 386 219 425-281-465 18-96-143 1263 310-1085-174 432-137 306 366-515-237 403-43 693 142-240 93-5-34-73-1-568 153 661-459-851 280-345-54 1120 178-759-87 617-85-146 193 374-427-565 443-583-142-50 50 1074-66-955 180 874-143-939 17 850-92-1136 49 132-53 336-66 799-38-757 27 1055 83-829-146-321 208 1001-187-65-98 95 235-1260 20-36 52-51-320 393 126 444-126 611 275-1124-275-5 275 1074 118-1417-317 587 107 129-115-784 141 929 46-930-220 96 292 871-340 666 152-720 27 697-62-1336 40 1242 256-88 10-1340-333 1046 7-625 70 919 13-791 37 410-188-438 283-506-321 1037 441-1000-114 603 79-853-215 573 246-502-126 937 142-750-244 829 91 310 50-864-306 1087 324-266 71-299-49-394-211 822-25-733-43-403 348 1306-46-1018-135 619-110 329 255-979-150-68-236-184 364 942-321-902 176 965 27-129 51-1218-114 599 43-222 207-51-273 608 49-6-105-981 271 631-43 589-90-1165-120 795-78-219 384 12-90 1144-157-22 106-60-273-1395 48 500 56-638 188 889 82-460-216-99-2 759 29-771 164 1235-42-1424-269 94 346 886-159-1199-2 1111-76 348 131-1130-92 81-184-27 136 161 202-40-50 1050-130-719 35-629 104 308-83 55 213-569-489 1482 283-151 112 58-38-43-226-1361 100 18 241 778-137-490 108 968-156-671-176 731-62-246 421-616-357 182 166-233-217 842 84-948 146 673-14 575-72-415 248 301-390-721 276 464-249-774 279-212-309 1260 161-750 46-177 33 281-207 519 84-1252 8 662 75-473-1 1323 4-945-7-299 42-178-203-86 76-69-123 1160 178-850-180 871 368 475-42-40-174-1207-64 586 66-580-2 1236 54-1485-40 126 268 780-52-269-178-54 65 157-89 118 117-575-284-446 219 1641-90-2 252-181-162-745-26 646 114 141-54-777 13 101-143 253 73-927-35 112-32 1080-55-1144 257-195-114 885 109-179 101-582-419 735 105-659-8 1435-63-193 177-1094 108 271-353-293 185 461-122 282 251 379-348 242 60-1618 3-24 383 1493-221-337-154 293 127 60 282 111-162-1666 117 1116-231-791 136 105-47 808-228-897 407 1243 10-79-447-685 201-107-36 954 209-1329-76 166-123-62 54 183-190 723 169-487 39-442 96 194-80-480-183 528 71-211 287 256-341 404 35-447 23 920-26-192 91-1419 206 1461-435 161 327-1463-169 662 151-807 139-41-332 458-108-268 241-33-222 923 206-659 224 1151-244-1309-6-64-226 337 114-540 68 271-113 1123 270-44-177-452 40-812 252 1229-271-1313 187 1076-320 341 261-849-14 619-150-1145 76 1083-125-681 251-152-290 1100 330-154 32 211-156-943-168 343 249-568 48 339-102 846 27-1365 8 1250-39 109 187-1468-373 889 313 352-154-688 3 556-89-229 249 617-411 183 121-1593-34 1237 155-839 137-130-263-233 117 1125 168-422-11 940-176-980-48 940-135-830 147 4 88-159-124 283-148-182 330 596-100-869-105 210 139-78 165 579-344-1060 45 169-20 433 330-631-40 718 50 428-325-1341-46 466 80 1207 260-879-78 252-232-39 185-898-178 740 7 30-118-146 180-414 72 1063 105 318-314-1041 201-322 221 253-232 1006-213-1189 396 824-5 487-148-1702-21 27-202 1389-1-293 115-511 276 865-430-598 176 183-149-236 159 459-131-822 132 1191-166-680 233 551 110-427-206 199 146-569-15 472-206 275-69-1128 161 873 53-922-81 872-104 527 231-238 191 37-252-1120 113 981 51-1225-391 982 412-695-352 416 51-32 119 479-233-695 320 201-156 362 62 23 9-345-130-45-56 72 130 404-64-104 179-770-69 792 197-1000-339 433 14-174-51 1209 186-1064 20 835 235-819-228 600-75 107-94-615 178 591-217-537-39 492 460-970-428 1189 137-499-100 515 158-645 18 457 93 72-158-249 240-822-45 1055-199-15 109-1014-278 1341 278-1109-110 235 75-331-69-127 126 693-186-680 164 18-124 837 23-932-40 568-9-621-134 1447 366-995-373-144 140-49 331 614-347-1010 51 838-72 121 107-97 168-14-294-131-41 283 25-612 282-251-163 236-181 359 19-431 49 471 202-355 85 183 34 822-97-1437 91 921-80 314 117 419-255-1259 102 722 105 462-259-182 193 156-300 56 258-777 161 264-207-95 208-52-226-653 2 1406 75-377-270-1352 277 934-83-752-114 630 250 669 85-154-187-1247 126 1566-41-1076 41 197-242-559 20-134-114-30 93 146 103 797 217-911-291 354 152 84-113 580 97-21 182-1146-338 1214 334-202 10-482-129 1128-203-1478 145 1590-259-1638 194 234-212 47 194-273 157 225-16-318-89 1552-23 160 226-779-105 575-2-776-146 659 172-831-221 768 159 308-47 24-59-1118-141 365 360 854-342-1790-84 270 154-271 112 225-269 1266 299-147 63-623-133 159-119-747 113 1323-64-946 180 346 32 531-243-337-43-416 171-262-21 1368-69-1052 247 705-351-1112 125 90-137 188 344 76 25-217-137 1126-221-449-8-4 112 85 183 605 46-409-392-982 222 1031 105 148-52-701-180 590 130 151 48-667-10-855 160 986-64-648-92-36-229 1395 364-1227-291-321 267 1144-127-870 170 223-127 422-142-878 318 703-29 214-386 30 289-1082-53 9-286 953 359-476 46 207-36 564-100-916 17 423-15 491-50-680 202-635-270 1344 95 54-229-1110 381 69-277 999 115-310-94 552 195-1121-299 1205 15-1124 125 971-79-1051 363 365-342-164 189 648-174-1113 240 1219-264 198 279-1426-102-56-7 1561-176-1232 76 551-147-943 98 1390-66-619-84-9 286-861-159 1401 73 282-144-970 169-110 123 473-175-610-98 276 240-121 104 212 2-10-245 280 134-929-10 409-61-5 201 776-92-280-261 28 218-779-149-188 253 63 3 869 18 591-430-811 96 206 333 402-213-124-58 152 46-988-193 1008 180-1257 80 82 135 1233-74-254 68-1310-361 744 394-115-117 895-183-171-29 290 81-636 253-28-56 219-351-792 164-80 249 516-320-789 234 1587-26-1207-184"/>
<path d="M1204.1 867.2H2110.4" stroke="#000" stroke-width="2.8" stroke-dasharray="10.3 4.4" fill="none"/>
</g>
<path d="M1224.3 864.7v26M1254.5 842v26M1284.7 851.7v26M1314.9 854.7v26M1345.1 861.4v26M1375.3 842.8v26M1405.6 862.7v26M1435.8 865.1v26M1466 845.5v26M1496.2 837.6v26M1526.4 850.5v26M1556.6 848.3v26M1586.8 846.5v26M1617 860.9v26M1647.2 848.3v26M1677.5 848.8v26M1707.7 855v26M1737.9 852v26M1768.1 855.7v26M1798.3 833.3v26M1828.5 862.7v26M1858.7 856.7v26M1888.9 865.4v26M1919.1 853.2v26M1949.3 864.7v26M1979.5 851.7v26M2009.8 848.8v26M2040 869.6v26M2070.2 833.6v26M2100.4 876.3v26" stroke="#000" stroke-width="3.4" fill="none"/>
<g fill="#000"><circle cx="1224.3" cy="877.7" r="5.3"/><circle cx="1254.5" cy="855" r="5.3"/><circle cx="1284.7" cy="864.7" r="5.3"/><circle cx="1314.9" cy="867.7" r="5.3"/><circle cx="1345.1" cy="874.4" r="5.3"/><circle cx="1375.3" cy="855.8" r="5.3"/><circle cx="1405.6" cy="875.7" r="5.3"/><circle cx="1435.8" cy="878.1" r="5.3"/><circle cx="1466" cy="858.5" r="5.3"/><circle cx="1496.2" cy="850.6" r="5.3"/><circle cx="1526.4" cy="863.5" r="5.3"/><circle cx="1556.6" cy="861.3" r="5.3"/><circle cx="1586.8" cy="859.5" r="5.3"/><circle cx="1617" cy="873.9" r="5.3"/><circle cx="1647.2" cy="861.3" r="5.3"/><circle cx="1677.5" cy="861.8" r="5.3"/><circle cx="1707.7" cy="868" r="5.3"/><circle cx="1737.9" cy="865" r="5.3"/><circle cx="1768.1" cy="868.7" r="5.3"/><circle cx="1798.3" cy="846.3" r="5.3"/><circle cx="1828.5" cy="875.7" r="5.3"/><circle cx="1858.7" cy="869.7" r="5.3"/><circle cx="1888.9" cy="878.4" r="5.3"/><circle cx="1919.1" cy="866.2" r="5.3"/><circle cx="1949.3" cy="877.7" r="5.3"/><circle cx="1979.5" cy="864.7" r="5.3"/><circle cx="2009.8" cy="861.8" r="5.3"/><circle cx="2040" cy="882.6" r="5.3"/><circle cx="2070.2" cy="846.6" r="5.3"/><circle cx="2100.4" cy="889.3" r="5.3"/></g>
<path d="M1204.1 983v-9.7M1204.1 751.4v9.7M1317.4 983v-9.7M1317.4 751.4v9.7M1430.7 983v-9.7M1430.7 751.4v9.7M1544 983v-9.7M1544 751.4v9.7M1657.2 983v-9.7M1657.2 751.4v9.7M1770.5 983v-9.7M1770.5 751.4v9.7M1883.8 983v-9.7M1883.8 751.4v9.7M1997.1 983v-9.7M1997.1 751.4v9.7M2110.4 983v-9.7M2110.4 751.4v9.7M1226.8 983v-5.7M1226.8 751.4v5.7M1249.4 983v-5.7M1249.4 751.4v5.7M1272.1 983v-5.7M1272.1 751.4v5.7M1294.7 983v-5.7M1294.7 751.4v5.7M1340 983v-5.7M1340 751.4v5.7M1362.7 983v-5.7M1362.7 751.4v5.7M1385.4 983v-5.7M1385.4 751.4v5.7M1408 983v-5.7M1408 751.4v5.7M1453.3 983v-5.7M1453.3 751.4v5.7M1476 983v-5.7M1476 751.4v5.7M1498.6 983v-5.7M1498.6 751.4v5.7M1521.3 983v-5.7M1521.3 751.4v5.7M1566.6 983v-5.7M1566.6 751.4v5.7M1589.3 983v-5.7M1589.3 751.4v5.7M1611.9 983v-5.7M1611.9 751.4v5.7M1634.6 983v-5.7M1634.6 751.4v5.7M1679.9 983v-5.7M1679.9 751.4v5.7M1702.6 983v-5.7M1702.6 751.4v5.7M1725.2 983v-5.7M1725.2 751.4v5.7M1747.9 983v-5.7M1747.9 751.4v5.7M1793.2 983v-5.7M1793.2 751.4v5.7M1815.9 983v-5.7M1815.9 751.4v5.7M1838.5 983v-5.7M1838.5 751.4v5.7M1861.2 983v-5.7M1861.2 751.4v5.7M1906.5 983v-5.7M1906.5 751.4v5.7M1929.1 983v-5.7M1929.1 751.4v5.7M1951.8 983v-5.7M1951.8 751.4v5.7M1974.5 983v-5.7M1974.5 751.4v5.7M2019.8 983v-5.7M2019.8 751.4v5.7M2042.4 983v-5.7M2042.4 751.4v5.7M2065.1 983v-5.7M2065.1 751.4v5.7M2087.7 983v-5.7M2087.7 751.4v5.7M1204.1 983h9.7M2110.4 983h-9.7M1204.1 867.2h9.7M2110.4 867.2h-9.7M1204.1 751.4h9.7M2110.4 751.4h-9.7M1204.1 959.8h5.7M2110.4 959.8h-5.7M1204.1 936.7h5.7M2110.4 936.7h-5.7M1204.1 913.5h5.7M2110.4 913.5h-5.7M1204.1 890.4h5.7M2110.4 890.4h-5.7M1204.1 844h5.7M2110.4 844h-5.7M1204.1 820.9h5.7M2110.4 820.9h-5.7M1204.1 797.7h5.7M2110.4 797.7h-5.7M1204.1 774.6h5.7M2110.4 774.6h-5.7" stroke="#000" stroke-width="1.3" fill="none"/>
<rect x="1204.1" y="751.4" width="906.3" height="231.6" fill="none" stroke="#000" stroke-width="1.6"/>
<text x="1204.1" y="1009.3" font-size="25.6" text-anchor="middle">−2.0</text>
<text x="1317.4" y="1009.3" font-size="25.6" text-anchor="middle">−1.5</text>
<text x="1430.7" y="1009.3" font-size="25.6" text-anchor="middle">−1.0</text>
<text x="1544" y="1009.3" font-size="25.6" text-anchor="middle">−0.5</text>
<text x="1657.2" y="1009.3" font-size="25.6" text-anchor="middle">0.0</text>
<text x="1770.5" y="1009.3" font-size="25.6" text-anchor="middle">0.5</text>
<text x="1883.8" y="1009.3" font-size="25.6" text-anchor="middle">1.0</text>
<text x="1997.1" y="1009.3" font-size="25.6" text-anchor="middle">1.5</text>
<text x="2110.4" y="1009.3" font-size="25.6" text-anchor="middle">2.0</text>
<text x="1196.6" y="992.4" font-size="25.6" text-anchor="end">−5</text>
<text x="1196.6" y="876.6" font-size="25.6" text-anchor="end">0</text>
<text x="1196.6" y="760.8" font-size="25.6" text-anchor="end">5</text>
<text x="1146.8" y="866.8" font-size="25.9" text-anchor="middle" transform="rotate(-90 1146.8 866.8)"><tspan font-style="italic">O</tspan><tspan dx="4.5">−</tspan><tspan font-style="italic" dx="4.5">C</tspan> (ppt)</text>
<text x="1657.5" y="1041.7" font-size="25.9" text-anchor="middle">Time since mid-transit (hours)</text>
</svg></body></html>
